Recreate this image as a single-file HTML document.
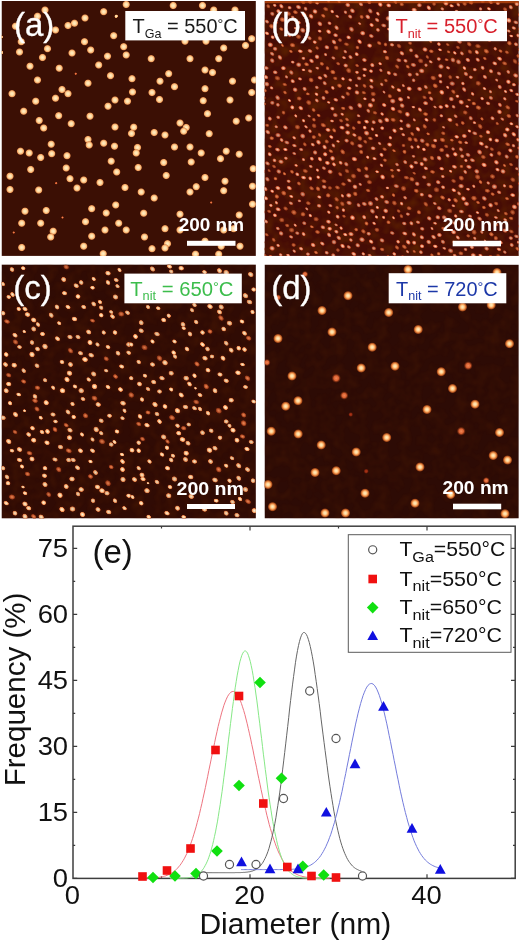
<!DOCTYPE html>
<html lang="en"><head><meta charset="utf-8"><title>AFM figure</title>
<style>
html,body{margin:0;padding:0;background:#fff;}
body{width:520px;height:940px;overflow:hidden;font-family:"Liberation Sans",Arial,sans-serif;}
svg{display:block;}
text{font-family:"Liberation Sans",Arial,sans-serif;}
</style></head><body>
<svg width="520" height="940" viewBox="0 0 520 940">
<defs>
<radialGradient id="ga"><stop offset="0" stop-color="#fff0c8"/><stop offset="0.45" stop-color="#ffd9a0"/><stop offset="0.75" stop-color="#f0a060"/><stop offset="1" stop-color="#a04818" stop-opacity="0"/></radialGradient>
<radialGradient id="gr"><stop offset="0" stop-color="#f08858"/><stop offset="0.5" stop-color="#d86030"/><stop offset="1" stop-color="#802808" stop-opacity="0"/></radialGradient>
<radialGradient id="grr"><stop offset="0" stop-color="#b03818"/><stop offset="0.5" stop-color="#902810"/><stop offset="1" stop-color="#601808" stop-opacity="0"/></radialGradient>
<radialGradient id="gb"><stop offset="0" stop-color="#ffdcc4"/><stop offset="0.4" stop-color="#f4a080"/><stop offset="0.68" stop-color="#d05c38"/><stop offset="0.86" stop-color="#a03418" stop-opacity="0.7"/><stop offset="1" stop-color="#701c08" stop-opacity="0"/></radialGradient>
<radialGradient id="gc"><stop offset="0" stop-color="#fff4d8"/><stop offset="0.45" stop-color="#ffcc98"/><stop offset="0.75" stop-color="#e88248"/><stop offset="1" stop-color="#702008" stop-opacity="0"/></radialGradient>
<radialGradient id="gd"><stop offset="0" stop-color="#fff0c4"/><stop offset="0.3" stop-color="#ffd498"/><stop offset="0.55" stop-color="#f49850"/><stop offset="0.78" stop-color="#c05a20" stop-opacity="0.85"/><stop offset="1" stop-color="#6a2008" stop-opacity="0"/></radialGradient>
<radialGradient id="gcd"><stop offset="0" stop-color="#e88a58"/><stop offset="0.45" stop-color="#cc6236"/><stop offset="0.8" stop-color="#a03c18" stop-opacity="0.8"/><stop offset="1" stop-color="#702008" stop-opacity="0"/></radialGradient>
<radialGradient id="hb"><stop offset="0" stop-color="#8a240e" stop-opacity="0.5"/><stop offset="0.55" stop-color="#701a0a" stop-opacity="0.2"/><stop offset="1" stop-color="#581406" stop-opacity="0"/></radialGradient>
<radialGradient id="hc"><stop offset="0" stop-color="#8a2a10" stop-opacity="0.6"/><stop offset="0.55" stop-color="#601c0a" stop-opacity="0.22"/><stop offset="1" stop-color="#481406" stop-opacity="0"/></radialGradient>
<filter id="nz" x="0" y="0" width="100%" height="100%"><feTurbulence type="fractalNoise" baseFrequency="0.09" numOctaves="2" seed="4" result="t"/><feColorMatrix in="t" type="matrix" values="0 0 0 0 0.12  0 0 0 0 0.02  0 0 0 0 0  1.6 0 0 0 -0.62"/></filter>
<clipPath id="ca"><rect x="1.5" y="1" width="254.4" height="254.9"/></clipPath>
<clipPath id="cb"><rect x="264.5" y="1" width="254.3" height="254.9"/></clipPath>
<clipPath id="cc"><rect x="1.5" y="264.4" width="254.4" height="254.1"/></clipPath>
<clipPath id="cd"><rect x="264.5" y="264.6" width="254.3" height="253.9"/></clipPath>
</defs>
<rect width="520" height="940" fill="#fff"/>

<g clip-path="url(#ca)"><rect x="1.5" y="1" width="254.4" height="254.9" fill="#3b0f04"/>
<circle cx="126.2" cy="4.5" r="4.15" fill="url(#ga)"/>
<circle cx="45.0" cy="10.0" r="4.15" fill="url(#ga)"/>
<circle cx="103.7" cy="11.7" r="4.15" fill="url(#ga)"/>
<circle cx="37.5" cy="16.2" r="4.15" fill="url(#ga)"/>
<circle cx="85.0" cy="18.0" r="4.15" fill="url(#ga)"/>
<circle cx="116.2" cy="16.2" r="2" fill="url(#ga)"/>
<circle cx="68.0" cy="25.5" r="4.15" fill="url(#ga)"/>
<circle cx="74.5" cy="23.2" r="4.15" fill="url(#ga)"/>
<circle cx="15.5" cy="26.2" r="4.15" fill="url(#ga)"/>
<circle cx="55.5" cy="30.0" r="4.15" fill="url(#ga)"/>
<circle cx="113.7" cy="35.7" r="4.15" fill="url(#ga)"/>
<circle cx="1.2" cy="37.0" r="2" fill="url(#ga)"/>
<circle cx="21.2" cy="41.7" r="4.15" fill="url(#ga)"/>
<circle cx="84.5" cy="41.7" r="4.15" fill="url(#ga)"/>
<circle cx="47.5" cy="48.7" r="4.15" fill="url(#ga)"/>
<circle cx="123.7" cy="46.7" r="4.15" fill="url(#ga)"/>
<circle cx="19.5" cy="52.0" r="4.15" fill="url(#ga)"/>
<circle cx="90.7" cy="50.0" r="4.15" fill="url(#ga)"/>
<circle cx="72.0" cy="53.0" r="4.15" fill="url(#ga)"/>
<circle cx="1.5" cy="52.5" r="2" fill="url(#ga)"/>
<circle cx="42.5" cy="57.5" r="4.15" fill="url(#ga)"/>
<circle cx="107.5" cy="56.2" r="4.15" fill="url(#ga)"/>
<circle cx="126.2" cy="55.0" r="4.15" fill="url(#ga)"/>
<circle cx="30.0" cy="66.2" r="4.15" fill="url(#ga)"/>
<circle cx="98.7" cy="65.0" r="4.15" fill="url(#ga)"/>
<circle cx="59.2" cy="68.2" r="4.15" fill="url(#ga)"/>
<circle cx="75.7" cy="73.7" r="1.6" fill="url(#gr)"/>
<circle cx="110.5" cy="75.7" r="4.15" fill="url(#ga)"/>
<circle cx="37.5" cy="80.0" r="4.15" fill="url(#ga)"/>
<circle cx="88.0" cy="83.2" r="4.15" fill="url(#ga)"/>
<circle cx="62.0" cy="89.5" r="4.15" fill="url(#ga)"/>
<circle cx="12.0" cy="93.7" r="4.15" fill="url(#ga)"/>
<circle cx="68.0" cy="93.7" r="4.15" fill="url(#ga)"/>
<circle cx="55.5" cy="98.2" r="4.15" fill="url(#ga)"/>
<circle cx="35.7" cy="101.2" r="4.15" fill="url(#ga)"/>
<circle cx="115.0" cy="100.0" r="4.15" fill="url(#ga)"/>
<circle cx="127.5" cy="101.2" r="4.15" fill="url(#ga)"/>
<circle cx="108.0" cy="106.2" r="4.15" fill="url(#ga)"/>
<circle cx="23.7" cy="111.2" r="4.15" fill="url(#ga)"/>
<circle cx="58.7" cy="115.7" r="4.15" fill="url(#ga)"/>
<circle cx="90.0" cy="116.2" r="4.15" fill="url(#ga)"/>
<circle cx="39.2" cy="120.5" r="4.15" fill="url(#ga)"/>
<circle cx="71.2" cy="123.7" r="4.15" fill="url(#ga)"/>
<circle cx="43.7" cy="128.0" r="4.15" fill="url(#ga)"/>
<circle cx="115.0" cy="127.0" r="4.15" fill="url(#ga)"/>
<circle cx="173.2" cy="5.5" r="4.15" fill="url(#ga)"/>
<circle cx="202.5" cy="5.5" r="4.15" fill="url(#ga)"/>
<circle cx="213.7" cy="10.0" r="4.15" fill="url(#ga)"/>
<circle cx="235.0" cy="10.0" r="4.15" fill="url(#ga)"/>
<circle cx="251.7" cy="38.7" r="4.15" fill="url(#ga)"/>
<circle cx="245.5" cy="45.5" r="4.15" fill="url(#ga)"/>
<circle cx="185.0" cy="41.2" r="4.15" fill="url(#ga)"/>
<circle cx="206.0" cy="41.2" r="4.15" fill="url(#ga)"/>
<circle cx="223.7" cy="48.0" r="4.15" fill="url(#ga)"/>
<circle cx="151.2" cy="58.7" r="4.15" fill="url(#ga)"/>
<circle cx="190.0" cy="58.7" r="4.15" fill="url(#ga)"/>
<circle cx="218.7" cy="58.7" r="4.15" fill="url(#ga)"/>
<circle cx="205.0" cy="70.0" r="4.15" fill="url(#ga)"/>
<circle cx="212.5" cy="72.5" r="4.15" fill="url(#ga)"/>
<circle cx="168.7" cy="73.7" r="4.15" fill="url(#ga)"/>
<circle cx="132.0" cy="78.7" r="4.15" fill="url(#ga)"/>
<circle cx="160.0" cy="81.2" r="4.15" fill="url(#ga)"/>
<circle cx="232.5" cy="81.2" r="4.15" fill="url(#ga)"/>
<circle cx="254.5" cy="80.0" r="4.15" fill="url(#ga)"/>
<circle cx="174.5" cy="86.7" r="4.15" fill="url(#ga)"/>
<circle cx="205.0" cy="88.7" r="4.15" fill="url(#ga)"/>
<circle cx="132.5" cy="92.0" r="4.15" fill="url(#ga)"/>
<circle cx="152.0" cy="92.5" r="4.15" fill="url(#ga)"/>
<circle cx="251.7" cy="92.5" r="4.15" fill="url(#ga)"/>
<circle cx="159.5" cy="99.5" r="4.15" fill="url(#ga)"/>
<circle cx="203.2" cy="100.7" r="4.15" fill="url(#ga)"/>
<circle cx="230.0" cy="100.0" r="4.15" fill="url(#ga)"/>
<circle cx="207.5" cy="113.7" r="4.15" fill="url(#ga)"/>
<circle cx="248.7" cy="118.0" r="4.15" fill="url(#ga)"/>
<circle cx="236.2" cy="121.2" r="4.15" fill="url(#ga)"/>
<circle cx="180.0" cy="123.0" r="4.15" fill="url(#ga)"/>
<circle cx="186.2" cy="127.5" r="4.15" fill="url(#ga)"/>
<circle cx="133.7" cy="127.2" r="4.15" fill="url(#ga)"/>
<circle cx="131.5" cy="133.5" r="4.15" fill="url(#ga)"/>
<circle cx="88.0" cy="139.5" r="4.15" fill="url(#ga)"/>
<circle cx="89.2" cy="145.0" r="4.15" fill="url(#ga)"/>
<circle cx="51.2" cy="144.2" r="4.15" fill="url(#ga)"/>
<circle cx="103.7" cy="143.2" r="4.15" fill="url(#ga)"/>
<circle cx="114.5" cy="146.2" r="4.15" fill="url(#ga)"/>
<circle cx="20.5" cy="151.2" r="4.15" fill="url(#ga)"/>
<circle cx="29.2" cy="153.0" r="4.15" fill="url(#ga)"/>
<circle cx="51.7" cy="153.7" r="4.15" fill="url(#ga)"/>
<circle cx="40.7" cy="157.5" r="4.15" fill="url(#ga)"/>
<circle cx="67.0" cy="155.7" r="4.15" fill="url(#ga)"/>
<circle cx="111.2" cy="161.2" r="4.15" fill="url(#ga)"/>
<circle cx="30.7" cy="169.5" r="4.15" fill="url(#ga)"/>
<circle cx="66.2" cy="168.0" r="4.15" fill="url(#ga)"/>
<circle cx="116.7" cy="172.0" r="4.15" fill="url(#ga)"/>
<circle cx="10.0" cy="176.2" r="4.15" fill="url(#ga)"/>
<circle cx="70.0" cy="178.7" r="4.15" fill="url(#ga)"/>
<circle cx="83.7" cy="180.0" r="4.15" fill="url(#ga)"/>
<circle cx="100.0" cy="182.5" r="4.15" fill="url(#ga)"/>
<circle cx="56.2" cy="183.2" r="1.6" fill="url(#gr)"/>
<circle cx="10.0" cy="189.5" r="4.15" fill="url(#ga)"/>
<circle cx="38.7" cy="190.0" r="4.15" fill="url(#ga)"/>
<circle cx="77.0" cy="188.0" r="4.15" fill="url(#ga)"/>
<circle cx="125.0" cy="187.5" r="4.15" fill="url(#ga)"/>
<circle cx="115.7" cy="205.0" r="4.15" fill="url(#ga)"/>
<circle cx="91.7" cy="208.7" r="4.15" fill="url(#ga)"/>
<circle cx="25.0" cy="211.2" r="4.15" fill="url(#ga)"/>
<circle cx="46.2" cy="210.5" r="4.15" fill="url(#ga)"/>
<circle cx="106.2" cy="213.0" r="4.15" fill="url(#ga)"/>
<circle cx="62.5" cy="217.5" r="1.6" fill="url(#gr)"/>
<circle cx="85.5" cy="221.7" r="4.15" fill="url(#ga)"/>
<circle cx="21.7" cy="223.2" r="4.15" fill="url(#ga)"/>
<circle cx="40.7" cy="223.2" r="4.15" fill="url(#ga)"/>
<circle cx="118.7" cy="223.2" r="4.15" fill="url(#ga)"/>
<circle cx="105.0" cy="230.0" r="4.15" fill="url(#ga)"/>
<circle cx="126.2" cy="230.0" r="4.15" fill="url(#ga)"/>
<circle cx="53.2" cy="231.2" r="4.15" fill="url(#ga)"/>
<circle cx="13.7" cy="232.5" r="1.6" fill="url(#gr)"/>
<circle cx="50.7" cy="237.0" r="4.15" fill="url(#ga)"/>
<circle cx="91.7" cy="236.2" r="4.15" fill="url(#ga)"/>
<circle cx="21.7" cy="247.5" r="4.15" fill="url(#ga)"/>
<circle cx="83.7" cy="246.2" r="4.15" fill="url(#ga)"/>
<circle cx="103.2" cy="253.7" r="4.15" fill="url(#ga)"/>
<circle cx="154.2" cy="132.5" r="4.15" fill="url(#ga)"/>
<circle cx="165.0" cy="135.0" r="4.15" fill="url(#ga)"/>
<circle cx="183.7" cy="131.2" r="4.15" fill="url(#ga)"/>
<circle cx="209.2" cy="133.7" r="4.15" fill="url(#ga)"/>
<circle cx="137.5" cy="147.5" r="4.15" fill="url(#ga)"/>
<circle cx="136.2" cy="153.0" r="4.15" fill="url(#ga)"/>
<circle cx="174.5" cy="147.0" r="4.15" fill="url(#ga)"/>
<circle cx="190.0" cy="147.0" r="4.15" fill="url(#ga)"/>
<circle cx="201.2" cy="153.0" r="4.15" fill="url(#ga)"/>
<circle cx="226.2" cy="151.2" r="4.15" fill="url(#ga)"/>
<circle cx="239.2" cy="154.2" r="4.15" fill="url(#ga)"/>
<circle cx="220.5" cy="158.7" r="4.15" fill="url(#ga)"/>
<circle cx="163.7" cy="162.5" r="4.15" fill="url(#ga)"/>
<circle cx="191.2" cy="162.0" r="4.15" fill="url(#ga)"/>
<circle cx="138.2" cy="167.5" r="4.15" fill="url(#ga)"/>
<circle cx="253.2" cy="168.7" r="4.15" fill="url(#ga)"/>
<circle cx="166.2" cy="175.5" r="4.15" fill="url(#ga)"/>
<circle cx="205.0" cy="177.5" r="4.15" fill="url(#ga)"/>
<circle cx="225.0" cy="181.2" r="4.15" fill="url(#ga)"/>
<circle cx="196.2" cy="186.7" r="4.15" fill="url(#ga)"/>
<circle cx="252.5" cy="186.2" r="4.15" fill="url(#ga)"/>
<circle cx="141.2" cy="192.0" r="4.15" fill="url(#ga)"/>
<circle cx="190.0" cy="192.0" r="4.15" fill="url(#ga)"/>
<circle cx="223.7" cy="190.7" r="4.15" fill="url(#ga)"/>
<circle cx="154.2" cy="198.0" r="4.15" fill="url(#ga)"/>
<circle cx="211.2" cy="202.5" r="1.6" fill="url(#gr)"/>
<circle cx="252.5" cy="204.2" r="4.15" fill="url(#ga)"/>
<circle cx="143.7" cy="213.2" r="4.15" fill="url(#ga)"/>
<circle cx="180.0" cy="214.2" r="4.15" fill="url(#ga)"/>
<circle cx="239.2" cy="215.0" r="4.15" fill="url(#ga)"/>
<circle cx="165.0" cy="228.7" r="4.15" fill="url(#ga)"/>
<circle cx="180.0" cy="230.0" r="4.15" fill="url(#ga)"/>
<circle cx="223.7" cy="230.0" r="4.15" fill="url(#ga)"/>
<circle cx="233.7" cy="228.7" r="4.15" fill="url(#ga)"/>
<circle cx="144.5" cy="237.0" r="4.15" fill="url(#ga)"/>
<circle cx="167.5" cy="243.7" r="4.15" fill="url(#ga)"/>
<circle cx="152.0" cy="248.7" r="4.15" fill="url(#ga)"/>
<circle cx="165.0" cy="248.0" r="4.15" fill="url(#ga)"/>
<circle cx="240.0" cy="246.2" r="4.15" fill="url(#ga)"/>
<circle cx="205.0" cy="241.2" r="4.15" fill="url(#ga)"/>
<circle cx="221.2" cy="246.2" r="4.15" fill="url(#ga)"/>
<circle cx="195.5" cy="254.2" r="4.15" fill="url(#ga)"/>
<circle cx="218.7" cy="254.2" r="4.15" fill="url(#ga)"/>
</g>
<g clip-path="url(#cb)"><rect x="264.5" y="1" width="254.3" height="254.9" fill="#460c05"/>
<rect x="264.5" y="1" width="254.3" height="254.9" filter="url(#nz)" opacity="0.9"/>
<ellipse cx="379.6" cy="143.5" rx="3.7" ry="2.5" transform="rotate(41 379.6 143.5)" fill="url(#hb)"/>
<ellipse cx="502.3" cy="119.1" rx="3.7" ry="2.5" transform="rotate(35 502.3 119.1)" fill="url(#hb)"/>
<ellipse cx="394.0" cy="150.7" rx="3.3" ry="2.2" transform="rotate(32 394.0 150.7)" fill="url(#hb)"/>
<ellipse cx="310.0" cy="131.1" rx="3.5" ry="2.8" transform="rotate(53 310.0 131.1)" fill="url(#hb)"/>
<ellipse cx="425.8" cy="204.2" rx="4.6" ry="3.1" transform="rotate(49 425.8 204.2)" fill="url(#hb)"/>
<ellipse cx="286.5" cy="76.9" rx="3.4" ry="2.4" transform="rotate(48 286.5 76.9)" fill="url(#hb)"/>
<ellipse cx="285.6" cy="208.5" rx="4.1" ry="3.1" transform="rotate(37 285.6 208.5)" fill="url(#hb)"/>
<ellipse cx="442.3" cy="8.9" rx="3.5" ry="2.8" transform="rotate(32 442.3 8.9)" fill="url(#hb)"/>
<ellipse cx="517.4" cy="248.8" rx="3.8" ry="2.8" transform="rotate(47 517.4 248.8)" fill="url(#hb)"/>
<ellipse cx="432.0" cy="158.0" rx="4.0" ry="3.1" transform="rotate(50 432.0 158.0)" fill="url(#hb)"/>
<ellipse cx="302.9" cy="1.9" rx="4.6" ry="3.2" transform="rotate(32 302.9 1.9)" fill="url(#hb)"/>
<ellipse cx="399.4" cy="13.5" rx="3.9" ry="2.6" transform="rotate(42 399.4 13.5)" fill="url(#hb)"/>
<ellipse cx="311.5" cy="60.9" rx="4.5" ry="3.3" transform="rotate(43 311.5 60.9)" fill="url(#hb)"/>
<ellipse cx="269.8" cy="118.6" rx="3.9" ry="3.3" transform="rotate(53 269.8 118.6)" fill="url(#hb)"/>
<ellipse cx="376.5" cy="217.0" rx="3.3" ry="2.7" transform="rotate(41 376.5 217.0)" fill="url(#hb)"/>
<ellipse cx="397.0" cy="164.5" rx="3.6" ry="2.7" transform="rotate(42 397.0 164.5)" fill="url(#hb)"/>
<ellipse cx="391.9" cy="170.2" rx="3.4" ry="2.4" transform="rotate(17 391.9 170.2)" fill="url(#hb)"/>
<ellipse cx="380.9" cy="70.3" rx="3.5" ry="2.6" transform="rotate(50 380.9 70.3)" fill="url(#hb)"/>
<ellipse cx="521.4" cy="256.9" rx="4.0" ry="3.4" transform="rotate(48 521.4 256.9)" fill="url(#hb)"/>
<ellipse cx="480.5" cy="182.0" rx="3.8" ry="2.8" transform="rotate(50 480.5 182.0)" fill="url(#hb)"/>
<ellipse cx="344.0" cy="57.7" rx="3.4" ry="2.4" transform="rotate(24 344.0 57.7)" fill="url(#hb)"/>
<ellipse cx="337.2" cy="16.3" rx="3.6" ry="2.4" transform="rotate(32 337.2 16.3)" fill="url(#hb)"/>
<ellipse cx="461.2" cy="102.1" rx="4.6" ry="3.7" transform="rotate(36 461.2 102.1)" fill="url(#hb)"/>
<ellipse cx="482.1" cy="98.5" rx="3.3" ry="2.8" transform="rotate(46 482.1 98.5)" fill="url(#hb)"/>
<ellipse cx="511.1" cy="218.3" rx="3.8" ry="2.8" transform="rotate(19 511.1 218.3)" fill="url(#hb)"/>
<ellipse cx="262.1" cy="52.5" rx="3.3" ry="2.3" transform="rotate(21 262.1 52.5)" fill="url(#hb)"/>
<ellipse cx="516.9" cy="101.3" rx="3.2" ry="2.2" transform="rotate(19 516.9 101.3)" fill="url(#hb)"/>
<ellipse cx="281.0" cy="161.7" rx="4.5" ry="3.5" transform="rotate(21 281.0 161.7)" fill="url(#hb)"/>
<ellipse cx="464.4" cy="68.1" rx="3.7" ry="2.6" transform="rotate(49 464.4 68.1)" fill="url(#hb)"/>
<ellipse cx="284.7" cy="84.5" rx="3.9" ry="2.6" transform="rotate(19 284.7 84.5)" fill="url(#hb)"/>
<ellipse cx="512.7" cy="195.1" rx="4.4" ry="3.1" transform="rotate(16 512.7 195.1)" fill="url(#hb)"/>
<ellipse cx="292.7" cy="62.1" rx="3.4" ry="2.7" transform="rotate(16 292.7 62.1)" fill="url(#hb)"/>
<ellipse cx="288.3" cy="13.6" rx="4.4" ry="3.6" transform="rotate(25 288.3 13.6)" fill="url(#hb)"/>
<ellipse cx="469.2" cy="44.2" rx="4.3" ry="3.3" transform="rotate(46 469.2 44.2)" fill="url(#hb)"/>
<ellipse cx="407.4" cy="114.3" rx="4.4" ry="3.8" transform="rotate(49 407.4 114.3)" fill="url(#hb)"/>
<ellipse cx="311.6" cy="188.3" rx="4.3" ry="3.0" transform="rotate(36 311.6 188.3)" fill="url(#hb)"/>
<ellipse cx="296.1" cy="165.4" rx="3.2" ry="2.3" transform="rotate(25 296.1 165.4)" fill="url(#hb)"/>
<ellipse cx="292.3" cy="107.4" rx="3.8" ry="3.3" transform="rotate(55 292.3 107.4)" fill="url(#hb)"/>
<ellipse cx="317.3" cy="68.1" rx="3.5" ry="2.5" transform="rotate(23 317.3 68.1)" fill="url(#hb)"/>
<ellipse cx="514.4" cy="206.9" rx="4.5" ry="3.8" transform="rotate(34 514.4 206.9)" fill="url(#hb)"/>
<ellipse cx="341.1" cy="228.1" rx="3.3" ry="2.7" transform="rotate(51 341.1 228.1)" fill="url(#hb)"/>
<ellipse cx="316.8" cy="100.5" rx="3.9" ry="2.7" transform="rotate(47 316.8 100.5)" fill="url(#hb)"/>
<ellipse cx="484.1" cy="164.9" rx="4.6" ry="3.4" transform="rotate(31 484.1 164.9)" fill="url(#hb)"/>
<ellipse cx="288.1" cy="255.2" rx="3.4" ry="2.4" transform="rotate(21 288.1 255.2)" fill="url(#hb)"/>
<ellipse cx="462.9" cy="83.5" rx="3.4" ry="2.9" transform="rotate(54 462.9 83.5)" fill="url(#hb)"/>
<ellipse cx="285.4" cy="149.5" rx="4.0" ry="2.7" transform="rotate(16 285.4 149.5)" fill="url(#hb)"/>
<ellipse cx="325.2" cy="154.3" rx="4.0" ry="3.4" transform="rotate(32 325.2 154.3)" fill="url(#hb)"/>
<ellipse cx="358.6" cy="115.8" rx="3.5" ry="2.5" transform="rotate(27 358.6 115.8)" fill="url(#hb)"/>
<ellipse cx="511.4" cy="123.8" rx="3.6" ry="2.7" transform="rotate(20 511.4 123.8)" fill="url(#hb)"/>
<ellipse cx="411.4" cy="223.3" rx="3.9" ry="3.0" transform="rotate(51 411.4 223.3)" fill="url(#hb)"/>
<ellipse cx="309.5" cy="38.1" rx="3.9" ry="3.0" transform="rotate(36 309.5 38.1)" fill="url(#hb)"/>
<ellipse cx="498.2" cy="210.6" rx="3.5" ry="2.3" transform="rotate(47 498.2 210.6)" fill="url(#hb)"/>
<ellipse cx="326.9" cy="47.3" rx="4.2" ry="3.3" transform="rotate(28 326.9 47.3)" fill="url(#hb)"/>
<ellipse cx="454.3" cy="242.5" rx="4.3" ry="3.0" transform="rotate(37 454.3 242.5)" fill="url(#hb)"/>
<ellipse cx="313.1" cy="245.0" rx="4.3" ry="3.3" transform="rotate(37 313.1 245.0)" fill="url(#hb)"/>
<ellipse cx="491.4" cy="154.9" rx="3.8" ry="3.0" transform="rotate(35 491.4 154.9)" fill="url(#hb)"/>
<ellipse cx="371.6" cy="25.0" rx="3.8" ry="3.0" transform="rotate(34 371.6 25.0)" fill="url(#hb)"/>
<ellipse cx="272.1" cy="248.3" rx="4.5" ry="3.9" transform="rotate(25 272.1 248.3)" fill="url(#hb)"/>
<ellipse cx="324.0" cy="181.2" rx="4.4" ry="3.0" transform="rotate(20 324.0 181.2)" fill="url(#hb)"/>
<ellipse cx="328.8" cy="212.2" rx="3.5" ry="2.4" transform="rotate(42 328.8 212.2)" fill="url(#hb)"/>
<ellipse cx="417.1" cy="74.3" rx="3.4" ry="2.8" transform="rotate(41 417.1 74.3)" fill="url(#hb)"/>
<ellipse cx="279.9" cy="57.4" rx="4.6" ry="3.3" transform="rotate(53 279.9 57.4)" fill="url(#hb)"/>
<ellipse cx="421.7" cy="70.9" rx="4.6" ry="3.9" transform="rotate(21 421.7 70.9)" fill="url(#hb)"/>
<ellipse cx="500.5" cy="51.0" rx="3.7" ry="2.6" transform="rotate(28 500.5 51.0)" fill="url(#hb)"/>
<ellipse cx="266.3" cy="68.0" rx="4.0" ry="3.0" transform="rotate(16 266.3 68.0)" fill="url(#hb)"/>
<ellipse cx="377.9" cy="13.7" rx="3.9" ry="2.7" transform="rotate(54 377.9 13.7)" fill="url(#hb)"/>
<ellipse cx="307.8" cy="93.9" rx="3.3" ry="2.4" transform="rotate(17 307.8 93.9)" fill="url(#hb)"/>
<ellipse cx="410.8" cy="32.2" rx="3.4" ry="2.5" transform="rotate(51 410.8 32.2)" fill="url(#hb)"/>
<ellipse cx="356.2" cy="229.6" rx="3.4" ry="2.9" transform="rotate(38 356.2 229.6)" fill="url(#hb)"/>
<ellipse cx="516.9" cy="168.8" rx="3.3" ry="2.7" transform="rotate(32 516.9 168.8)" fill="url(#hb)"/>
<ellipse cx="441.7" cy="150.0" rx="4.1" ry="3.4" transform="rotate(18 441.7 150.0)" fill="url(#hb)"/>
<ellipse cx="298.5" cy="7.1" rx="4.4" ry="3.4" transform="rotate(29 298.5 7.1)" fill="url(#hb)"/>
<ellipse cx="266.7" cy="234.7" rx="3.6" ry="2.5" transform="rotate(36 266.7 234.7)" fill="url(#hb)"/>
<ellipse cx="444.3" cy="248.3" rx="3.4" ry="2.3" transform="rotate(23 444.3 248.3)" fill="url(#hb)"/>
<ellipse cx="267.5" cy="163.4" rx="4.3" ry="3.1" transform="rotate(35 267.5 163.4)" fill="url(#hb)"/>
<ellipse cx="387.4" cy="187.9" rx="3.2" ry="2.3" transform="rotate(16 387.4 187.9)" fill="url(#hb)"/>
<ellipse cx="344.9" cy="257.8" rx="3.5" ry="2.6" transform="rotate(52 344.9 257.8)" fill="url(#hb)"/>
<ellipse cx="281.6" cy="140.0" rx="3.8" ry="2.9" transform="rotate(48 281.6 140.0)" fill="url(#hb)"/>
<ellipse cx="453.6" cy="232.1" rx="4.2" ry="3.7" transform="rotate(29 453.6 232.1)" fill="url(#hb)"/>
<ellipse cx="453.6" cy="181.0" rx="4.1" ry="3.1" transform="rotate(29 453.6 181.0)" fill="url(#hb)"/>
<ellipse cx="468.2" cy="235.9" rx="3.3" ry="2.7" transform="rotate(25 468.2 235.9)" fill="url(#hb)"/>
<ellipse cx="353.5" cy="176.1" rx="4.4" ry="3.8" transform="rotate(42 353.5 176.1)" fill="url(#hb)"/>
<ellipse cx="496.2" cy="224.5" rx="3.6" ry="2.8" transform="rotate(21 496.2 224.5)" fill="url(#hb)"/>
<ellipse cx="370.5" cy="203.5" rx="4.6" ry="4.0" transform="rotate(37 370.5 203.5)" fill="url(#hb)"/>
<ellipse cx="486.5" cy="146.9" rx="3.6" ry="2.7" transform="rotate(15 486.5 146.9)" fill="url(#hb)"/>
<ellipse cx="424.5" cy="97.4" rx="3.9" ry="2.8" transform="rotate(35 424.5 97.4)" fill="url(#hb)"/>
<ellipse cx="413.5" cy="156.3" rx="3.3" ry="2.5" transform="rotate(17 413.5 156.3)" fill="url(#hb)"/>
<ellipse cx="520.3" cy="226.7" rx="3.5" ry="2.8" transform="rotate(36 520.3 226.7)" fill="url(#hb)"/>
<ellipse cx="451.3" cy="99.0" rx="4.2" ry="3.6" transform="rotate(31 451.3 99.0)" fill="url(#hb)"/>
<ellipse cx="453.1" cy="149.0" rx="3.4" ry="2.8" transform="rotate(41 453.1 149.0)" fill="url(#hb)"/>
<ellipse cx="283.8" cy="193.1" rx="4.5" ry="3.6" transform="rotate(44 283.8 193.1)" fill="url(#hb)"/>
<ellipse cx="269.7" cy="154.3" rx="3.9" ry="3.0" transform="rotate(48 269.7 154.3)" fill="url(#hb)"/>
<ellipse cx="387.0" cy="57.9" rx="4.0" ry="3.5" transform="rotate(42 387.0 57.9)" fill="url(#hb)"/>
<ellipse cx="443.6" cy="127.3" rx="3.2" ry="2.2" transform="rotate(29 443.6 127.3)" fill="url(#hb)"/>
<ellipse cx="421.8" cy="237.3" rx="4.0" ry="3.2" transform="rotate(40 421.8 237.3)" fill="url(#hb)"/>
<ellipse cx="328.5" cy="0.9" rx="3.2" ry="2.7" transform="rotate(45 328.5 0.9)" fill="url(#hb)"/>
<ellipse cx="340.3" cy="174.3" rx="4.1" ry="2.8" transform="rotate(44 340.3 174.3)" fill="url(#hb)"/>
<ellipse cx="314.7" cy="42.1" rx="3.6" ry="2.9" transform="rotate(23 314.7 42.1)" fill="url(#hb)"/>
<ellipse cx="497.5" cy="169.6" rx="3.9" ry="2.9" transform="rotate(34 497.5 169.6)" fill="url(#hb)"/>
<ellipse cx="376.9" cy="229.8" rx="4.1" ry="3.3" transform="rotate(18 376.9 229.8)" fill="url(#hb)"/>
<ellipse cx="347.0" cy="171.1" rx="4.3" ry="3.1" transform="rotate(38 347.0 171.1)" fill="url(#hb)"/>
<ellipse cx="313.6" cy="110.0" rx="3.6" ry="2.9" transform="rotate(43 313.6 110.0)" fill="url(#hb)"/>
<ellipse cx="490.9" cy="97.9" rx="3.9" ry="3.0" transform="rotate(34 490.9 97.9)" fill="url(#hb)"/>
<ellipse cx="413.6" cy="80.3" rx="3.5" ry="3.0" transform="rotate(52 413.6 80.3)" fill="url(#hb)"/>
<ellipse cx="297.4" cy="127.1" rx="4.4" ry="3.8" transform="rotate(33 297.4 127.1)" fill="url(#hb)"/>
<ellipse cx="479.6" cy="218.7" rx="4.6" ry="3.2" transform="rotate(38 479.6 218.7)" fill="url(#hb)"/>
<ellipse cx="334.0" cy="42.0" rx="4.6" ry="3.2" transform="rotate(48 334.0 42.0)" fill="url(#hb)"/>
<ellipse cx="424.7" cy="126.4" rx="4.2" ry="3.0" transform="rotate(51 424.7 126.4)" fill="url(#hb)"/>
<ellipse cx="344.0" cy="216.2" rx="3.2" ry="2.5" transform="rotate(33 344.0 216.2)" fill="url(#hb)"/>
<ellipse cx="517.3" cy="115.6" rx="3.7" ry="2.7" transform="rotate(49 517.3 115.6)" fill="url(#hb)"/>
<ellipse cx="281.4" cy="6.2" rx="4.4" ry="3.0" transform="rotate(52 281.4 6.2)" fill="url(#hb)"/>
<ellipse cx="488.9" cy="8.8" rx="3.6" ry="2.7" transform="rotate(31 488.9 8.8)" fill="url(#hb)"/>
<ellipse cx="446.2" cy="146.4" rx="3.7" ry="2.8" transform="rotate(26 446.2 146.4)" fill="url(#hb)"/>
<ellipse cx="342.3" cy="203.8" rx="4.4" ry="3.2" transform="rotate(52 342.3 203.8)" fill="url(#hb)"/>
<ellipse cx="267.0" cy="33.3" rx="3.9" ry="2.8" transform="rotate(30 267.0 33.3)" fill="url(#hb)"/>
<ellipse cx="380.3" cy="4.4" rx="4.4" ry="3.5" transform="rotate(52 380.3 4.4)" fill="url(#hb)"/>
<ellipse cx="477.7" cy="59.7" rx="4.2" ry="2.8" transform="rotate(44 477.7 59.7)" fill="url(#hb)"/>
<ellipse cx="425.6" cy="114.1" rx="4.1" ry="3.0" transform="rotate(17 425.6 114.1)" fill="url(#hb)"/>
<ellipse cx="425.8" cy="168.3" rx="3.9" ry="2.9" transform="rotate(27 425.8 168.3)" fill="url(#hb)"/>
<ellipse cx="471.9" cy="247.2" rx="3.6" ry="2.9" transform="rotate(27 471.9 247.2)" fill="url(#hb)"/>
<ellipse cx="440.0" cy="49.8" rx="3.4" ry="2.4" transform="rotate(23 440.0 49.8)" fill="url(#hb)"/>
<ellipse cx="385.5" cy="44.5" rx="3.5" ry="3.0" transform="rotate(55 385.5 44.5)" fill="url(#hb)"/>
<ellipse cx="447.7" cy="44.6" rx="3.5" ry="2.4" transform="rotate(29 447.7 44.6)" fill="url(#hb)"/>
<ellipse cx="332.8" cy="87.9" rx="3.6" ry="2.8" transform="rotate(50 332.8 87.9)" fill="url(#hb)"/>
<ellipse cx="443.3" cy="133.3" rx="3.8" ry="2.9" transform="rotate(30 443.3 133.3)" fill="url(#hb)"/>
<ellipse cx="421.8" cy="194.6" rx="3.6" ry="3.1" transform="rotate(20 421.8 194.6)" fill="url(#hb)"/>
<ellipse cx="364.3" cy="203.9" rx="4.4" ry="3.1" transform="rotate(26 364.3 203.9)" fill="url(#hb)"/>
<ellipse cx="497.6" cy="20.7" rx="3.8" ry="3.3" transform="rotate(49 497.6 20.7)" fill="url(#hb)"/>
<ellipse cx="504.5" cy="185.8" rx="3.2" ry="2.6" transform="rotate(51 504.5 185.8)" fill="url(#hb)"/>
<ellipse cx="295.8" cy="115.9" rx="3.2" ry="2.4" transform="rotate(52 295.8 115.9)" fill="url(#hb)"/>
<ellipse cx="360.0" cy="145.9" rx="4.6" ry="3.3" transform="rotate(19 360.0 145.9)" fill="url(#hb)"/>
<ellipse cx="490.6" cy="205.2" rx="4.2" ry="3.6" transform="rotate(44 490.6 205.2)" fill="url(#hb)"/>
<ellipse cx="431.3" cy="51.3" rx="3.9" ry="3.0" transform="rotate(17 431.3 51.3)" fill="url(#hb)"/>
<ellipse cx="449.7" cy="210.8" rx="4.5" ry="3.6" transform="rotate(27 449.7 210.8)" fill="url(#hb)"/>
<ellipse cx="428.8" cy="184.6" rx="4.1" ry="3.3" transform="rotate(19 428.8 184.6)" fill="url(#hb)"/>
<ellipse cx="317.5" cy="232.0" rx="4.0" ry="3.0" transform="rotate(24 317.5 232.0)" fill="url(#hb)"/>
<ellipse cx="401.6" cy="203.6" rx="3.6" ry="2.8" transform="rotate(53 401.6 203.6)" fill="url(#hb)"/>
<ellipse cx="345.3" cy="234.6" rx="3.9" ry="2.8" transform="rotate(25 345.3 234.6)" fill="url(#hb)"/>
<ellipse cx="484.5" cy="88.6" rx="3.6" ry="2.4" transform="rotate(35 484.5 88.6)" fill="url(#hb)"/>
<ellipse cx="283.5" cy="112.6" rx="3.6" ry="2.9" transform="rotate(52 283.5 112.6)" fill="url(#hb)"/>
<ellipse cx="405.1" cy="197.7" rx="3.7" ry="2.8" transform="rotate(42 405.1 197.7)" fill="url(#hb)"/>
<ellipse cx="388.7" cy="5.4" rx="4.3" ry="3.3" transform="rotate(23 388.7 5.4)" fill="url(#hb)"/>
<ellipse cx="472.4" cy="14.7" rx="4.4" ry="3.1" transform="rotate(24 472.4 14.7)" fill="url(#hb)"/>
<ellipse cx="349.1" cy="202.9" rx="4.6" ry="3.5" transform="rotate(22 349.1 202.9)" fill="url(#hb)"/>
<ellipse cx="298.5" cy="36.7" rx="4.2" ry="3.6" transform="rotate(21 298.5 36.7)" fill="url(#hb)"/>
<ellipse cx="396.3" cy="186.1" rx="4.6" ry="3.2" transform="rotate(17 396.3 186.1)" fill="url(#hb)"/>
<ellipse cx="508.8" cy="20.4" rx="4.5" ry="3.8" transform="rotate(44 508.8 20.4)" fill="url(#hb)"/>
<ellipse cx="319.6" cy="134.9" rx="3.7" ry="2.6" transform="rotate(52 319.6 134.9)" fill="url(#hb)"/>
<ellipse cx="337.4" cy="187.5" rx="4.2" ry="3.1" transform="rotate(30 337.4 187.5)" fill="url(#hb)"/>
<ellipse cx="428.1" cy="133.9" rx="3.2" ry="2.3" transform="rotate(29 428.1 133.9)" fill="url(#hb)"/>
<ellipse cx="481.3" cy="143.6" rx="4.6" ry="3.2" transform="rotate(29 481.3 143.6)" fill="url(#hb)"/>
<ellipse cx="343.0" cy="97.1" rx="3.8" ry="2.6" transform="rotate(34 343.0 97.1)" fill="url(#hb)"/>
<ellipse cx="481.8" cy="232.1" rx="3.5" ry="2.6" transform="rotate(51 481.8 232.1)" fill="url(#hb)"/>
<ellipse cx="316.1" cy="219.2" rx="4.4" ry="3.6" transform="rotate(17 316.1 219.2)" fill="url(#hb)"/>
<ellipse cx="513.8" cy="134.3" rx="4.5" ry="3.2" transform="rotate(45 513.8 134.3)" fill="url(#hb)"/>
<ellipse cx="411.0" cy="50.3" rx="3.6" ry="3.1" transform="rotate(40 411.0 50.3)" fill="url(#hb)"/>
<ellipse cx="401.3" cy="128.8" rx="3.6" ry="2.6" transform="rotate(15 401.3 128.8)" fill="url(#hb)"/>
<ellipse cx="419.4" cy="5.2" rx="4.1" ry="3.6" transform="rotate(16 419.4 5.2)" fill="url(#hb)"/>
<ellipse cx="408.3" cy="125.7" rx="4.6" ry="4.0" transform="rotate(30 408.3 125.7)" fill="url(#hb)"/>
<ellipse cx="441.7" cy="15.1" rx="3.9" ry="3.4" transform="rotate(22 441.7 15.1)" fill="url(#hb)"/>
<ellipse cx="402.1" cy="105.6" rx="4.4" ry="3.6" transform="rotate(39 402.1 105.6)" fill="url(#hb)"/>
<ellipse cx="510.8" cy="238.1" rx="3.7" ry="3.1" transform="rotate(18 510.8 238.1)" fill="url(#hb)"/>
<ellipse cx="332.0" cy="121.0" rx="3.5" ry="2.4" transform="rotate(16 332.0 121.0)" fill="url(#hb)"/>
<ellipse cx="474.1" cy="232.1" rx="4.6" ry="3.9" transform="rotate(55 474.1 232.1)" fill="url(#hb)"/>
<ellipse cx="385.9" cy="80.5" rx="3.3" ry="2.6" transform="rotate(43 385.9 80.5)" fill="url(#hb)"/>
<ellipse cx="311.8" cy="158.7" rx="3.8" ry="3.0" transform="rotate(42 311.8 158.7)" fill="url(#hb)"/>
<ellipse cx="502.6" cy="31.7" rx="4.2" ry="2.9" transform="rotate(49 502.6 31.7)" fill="url(#hb)"/>
<ellipse cx="464.6" cy="3.9" rx="3.7" ry="3.1" transform="rotate(23 464.6 3.9)" fill="url(#hb)"/>
<ellipse cx="440.6" cy="81.7" rx="3.4" ry="2.9" transform="rotate(38 440.6 81.7)" fill="url(#hb)"/>
<ellipse cx="354.4" cy="159.1" rx="4.6" ry="3.6" transform="rotate(24 354.4 159.1)" fill="url(#hb)"/>
<ellipse cx="289.3" cy="188.0" rx="4.6" ry="3.2" transform="rotate(34 289.3 188.0)" fill="url(#hb)"/>
<ellipse cx="399.9" cy="111.6" rx="4.5" ry="3.0" transform="rotate(27 399.9 111.6)" fill="url(#hb)"/>
<ellipse cx="359.7" cy="105.5" rx="4.6" ry="3.6" transform="rotate(52 359.7 105.5)" fill="url(#hb)"/>
<ellipse cx="399.6" cy="39.5" rx="3.8" ry="2.8" transform="rotate(46 399.6 39.5)" fill="url(#hb)"/>
<ellipse cx="483.3" cy="157.0" rx="4.1" ry="3.2" transform="rotate(24 483.3 157.0)" fill="url(#hb)"/>
<ellipse cx="484.8" cy="58.5" rx="3.5" ry="2.5" transform="rotate(39 484.8 58.5)" fill="url(#hb)"/>
<ellipse cx="496.7" cy="80.1" rx="3.2" ry="2.3" transform="rotate(42 496.7 80.1)" fill="url(#hb)"/>
<ellipse cx="318.7" cy="257.6" rx="3.5" ry="2.9" transform="rotate(37 318.7 257.6)" fill="url(#hb)"/>
<ellipse cx="492.8" cy="32.8" rx="3.8" ry="2.9" transform="rotate(41 492.8 32.8)" fill="url(#hb)"/>
<ellipse cx="324.2" cy="186.9" rx="4.2" ry="3.1" transform="rotate(26 324.2 186.9)" fill="url(#hb)"/>
<ellipse cx="329.5" cy="23.2" rx="3.6" ry="2.9" transform="rotate(29 329.5 23.2)" fill="url(#hb)"/>
<ellipse cx="478.4" cy="107.6" rx="4.6" ry="3.4" transform="rotate(23 478.4 107.6)" fill="url(#hb)"/>
<ellipse cx="467.4" cy="30.8" rx="3.2" ry="2.7" transform="rotate(32 467.4 30.8)" fill="url(#hb)"/>
<ellipse cx="366.7" cy="176.2" rx="4.5" ry="3.4" transform="rotate(22 366.7 176.2)" fill="url(#hb)"/>
<ellipse cx="439.4" cy="235.0" rx="4.1" ry="3.5" transform="rotate(19 439.4 235.0)" fill="url(#hb)"/>
<ellipse cx="513.8" cy="28.0" rx="3.9" ry="2.7" transform="rotate(26 513.8 28.0)" fill="url(#hb)"/>
<ellipse cx="393.5" cy="195.1" rx="3.3" ry="2.6" transform="rotate(47 393.5 195.1)" fill="url(#hb)"/>
<ellipse cx="392.7" cy="176.3" rx="3.4" ry="2.9" transform="rotate(54 392.7 176.3)" fill="url(#hb)"/>
<ellipse cx="311.1" cy="16.3" rx="4.5" ry="3.4" transform="rotate(51 311.1 16.3)" fill="url(#hb)"/>
<ellipse cx="289.6" cy="7.7" rx="3.4" ry="2.9" transform="rotate(24 289.6 7.7)" fill="url(#hb)"/>
<ellipse cx="310.0" cy="51.0" rx="4.4" ry="3.1" transform="rotate(24 310.0 51.0)" fill="url(#hb)"/>
<ellipse cx="480.5" cy="255.5" rx="3.7" ry="2.6" transform="rotate(25 480.5 255.5)" fill="url(#hb)"/>
<ellipse cx="503.0" cy="22.8" rx="3.2" ry="2.5" transform="rotate(45 503.0 22.8)" fill="url(#hb)"/>
<ellipse cx="278.1" cy="245.4" rx="3.4" ry="2.7" transform="rotate(37 278.1 245.4)" fill="url(#hb)"/>
<ellipse cx="382.1" cy="196.8" rx="3.8" ry="3.0" transform="rotate(32 382.1 196.8)" fill="url(#hb)"/>
<ellipse cx="347.0" cy="119.4" rx="3.8" ry="2.5" transform="rotate(40 347.0 119.4)" fill="url(#hb)"/>
<ellipse cx="444.3" cy="217.5" rx="4.3" ry="3.6" transform="rotate(33 444.3 217.5)" fill="url(#hb)"/>
<ellipse cx="309.1" cy="116.0" rx="3.3" ry="2.3" transform="rotate(32 309.1 116.0)" fill="url(#hb)"/>
<ellipse cx="395.3" cy="2.0" rx="3.9" ry="2.6" transform="rotate(40 395.3 2.0)" fill="url(#hb)"/>
<ellipse cx="425.6" cy="103.2" rx="4.3" ry="3.3" transform="rotate(17 425.6 103.2)" fill="url(#hb)"/>
<ellipse cx="417.9" cy="129.1" rx="4.6" ry="3.2" transform="rotate(49 417.9 129.1)" fill="url(#hb)"/>
<ellipse cx="329.1" cy="234.9" rx="4.4" ry="3.1" transform="rotate(54 329.1 234.9)" fill="url(#hb)"/>
<ellipse cx="455.6" cy="200.3" rx="4.5" ry="3.1" transform="rotate(47 455.6 200.3)" fill="url(#hb)"/>
<ellipse cx="473.8" cy="103.5" rx="3.7" ry="3.1" transform="rotate(21 473.8 103.5)" fill="url(#hb)"/>
<ellipse cx="442.6" cy="197.5" rx="4.4" ry="3.0" transform="rotate(35 442.6 197.5)" fill="url(#hb)"/>
<ellipse cx="449.9" cy="16.3" rx="3.6" ry="2.8" transform="rotate(28 449.9 16.3)" fill="url(#hb)"/>
<ellipse cx="264.8" cy="90.5" rx="3.4" ry="3.0" transform="rotate(42 264.8 90.5)" fill="url(#hb)"/>
<ellipse cx="322.3" cy="243.6" rx="4.3" ry="3.0" transform="rotate(36 322.3 243.6)" fill="url(#hb)"/>
<ellipse cx="435.2" cy="85.8" rx="4.5" ry="3.5" transform="rotate(38 435.2 85.8)" fill="url(#hb)"/>
<ellipse cx="433.5" cy="146.1" rx="4.6" ry="3.7" transform="rotate(31 433.5 146.1)" fill="url(#hb)"/>
<ellipse cx="400.6" cy="99.3" rx="4.6" ry="3.6" transform="rotate(29 400.6 99.3)" fill="url(#hb)"/>
<ellipse cx="522.0" cy="165.0" rx="3.4" ry="2.8" transform="rotate(17 522.0 165.0)" fill="url(#hb)"/>
<ellipse cx="516.8" cy="3.9" rx="4.1" ry="3.6" transform="rotate(38 516.8 3.9)" fill="url(#hb)"/>
<ellipse cx="328.7" cy="102.4" rx="3.2" ry="2.1" transform="rotate(21 328.7 102.4)" fill="url(#hb)"/>
<ellipse cx="275.1" cy="48.8" rx="3.9" ry="3.4" transform="rotate(20 275.1 48.8)" fill="url(#hb)"/>
<ellipse cx="359.7" cy="23.6" rx="3.2" ry="2.1" transform="rotate(29 359.7 23.6)" fill="url(#hb)"/>
<ellipse cx="513.5" cy="145.7" rx="3.5" ry="2.8" transform="rotate(39 513.5 145.7)" fill="url(#hb)"/>
<ellipse cx="273.7" cy="239.8" rx="3.9" ry="2.7" transform="rotate(52 273.7 239.8)" fill="url(#hb)"/>
<ellipse cx="303.6" cy="120.7" rx="3.3" ry="2.7" transform="rotate(50 303.6 120.7)" fill="url(#hb)"/>
<ellipse cx="306.0" cy="126.8" rx="3.6" ry="2.4" transform="rotate(41 306.0 126.8)" fill="url(#hb)"/>
<ellipse cx="420.9" cy="13.2" rx="4.1" ry="3.1" transform="rotate(52 420.9 13.2)" fill="url(#hb)"/>
<ellipse cx="507.8" cy="107.4" rx="4.5" ry="3.0" transform="rotate(36 507.8 107.4)" fill="url(#hb)"/>
<ellipse cx="357.0" cy="72.3" rx="3.3" ry="2.7" transform="rotate(15 357.0 72.3)" fill="url(#hb)"/>
<ellipse cx="339.0" cy="1.6" rx="3.4" ry="2.4" transform="rotate(39 339.0 1.6)" fill="url(#hb)"/>
<ellipse cx="325.7" cy="9.1" rx="4.4" ry="3.1" transform="rotate(27 325.7 9.1)" fill="url(#hb)"/>
<ellipse cx="302.7" cy="194.2" rx="4.5" ry="3.7" transform="rotate(44 302.7 194.2)" fill="url(#hb)"/>
<ellipse cx="363.4" cy="231.4" rx="4.3" ry="3.3" transform="rotate(45 363.4 231.4)" fill="url(#hb)"/>
<ellipse cx="456.6" cy="11.0" rx="3.3" ry="2.4" transform="rotate(17 456.6 11.0)" fill="url(#hb)"/>
<ellipse cx="281.1" cy="233.4" rx="4.2" ry="3.6" transform="rotate(43 281.1 233.4)" fill="url(#hb)"/>
<ellipse cx="373.7" cy="122.2" rx="3.8" ry="3.2" transform="rotate(36 373.7 122.2)" fill="url(#hb)"/>
<ellipse cx="515.0" cy="61.4" rx="4.6" ry="3.2" transform="rotate(50 515.0 61.4)" fill="url(#hb)"/>
<ellipse cx="398.1" cy="241.7" rx="3.5" ry="2.9" transform="rotate(53 398.1 241.7)" fill="url(#hb)"/>
<ellipse cx="449.9" cy="119.8" rx="4.5" ry="3.3" transform="rotate(25 449.9 119.8)" fill="url(#hb)"/>
<ellipse cx="418.9" cy="27.9" rx="4.2" ry="3.4" transform="rotate(54 418.9 27.9)" fill="url(#hb)"/>
<ellipse cx="315.0" cy="11.5" rx="4.2" ry="3.6" transform="rotate(32 315.0 11.5)" fill="url(#hb)"/>
<ellipse cx="399.3" cy="30.3" rx="3.6" ry="2.6" transform="rotate(40 399.3 30.3)" fill="url(#hb)"/>
<ellipse cx="377.1" cy="171.7" rx="3.4" ry="2.3" transform="rotate(19 377.1 171.7)" fill="url(#hb)"/>
<ellipse cx="413.4" cy="107.1" rx="3.4" ry="2.3" transform="rotate(17 413.4 107.1)" fill="url(#hb)"/>
<ellipse cx="464.3" cy="136.0" rx="4.2" ry="3.5" transform="rotate(18 464.3 136.0)" fill="url(#hb)"/>
<ellipse cx="452.9" cy="60.0" rx="4.4" ry="3.7" transform="rotate(51 452.9 60.0)" fill="url(#hb)"/>
<ellipse cx="291.6" cy="230.1" rx="4.5" ry="3.9" transform="rotate(19 291.6 230.1)" fill="url(#hb)"/>
<ellipse cx="465.9" cy="160.5" rx="3.2" ry="2.7" transform="rotate(47 465.9 160.5)" fill="url(#hb)"/>
<ellipse cx="415.8" cy="162.6" rx="4.1" ry="3.0" transform="rotate(19 415.8 162.6)" fill="url(#hb)"/>
<ellipse cx="457.9" cy="47.4" rx="3.5" ry="2.5" transform="rotate(32 457.9 47.4)" fill="url(#hb)"/>
<ellipse cx="326.7" cy="252.7" rx="3.6" ry="2.9" transform="rotate(30 326.7 252.7)" fill="url(#hb)"/>
<ellipse cx="272.3" cy="13.8" rx="3.9" ry="3.3" transform="rotate(40 272.3 13.8)" fill="url(#hb)"/>
<ellipse cx="332.4" cy="108.6" rx="3.8" ry="3.2" transform="rotate(29 332.4 108.6)" fill="url(#hb)"/>
<ellipse cx="424.1" cy="24.6" rx="3.5" ry="3.0" transform="rotate(19 424.1 24.6)" fill="url(#hb)"/>
<ellipse cx="284.5" cy="173.8" rx="3.2" ry="2.2" transform="rotate(45 284.5 173.8)" fill="url(#hb)"/>
<ellipse cx="405.2" cy="162.1" rx="3.9" ry="3.0" transform="rotate(47 405.2 162.1)" fill="url(#hb)"/>
<ellipse cx="359.0" cy="122.4" rx="3.7" ry="3.1" transform="rotate(25 359.0 122.4)" fill="url(#hb)"/>
<ellipse cx="316.8" cy="87.4" rx="3.5" ry="2.8" transform="rotate(35 316.8 87.4)" fill="url(#hb)"/>
<ellipse cx="455.7" cy="216.0" rx="3.3" ry="2.8" transform="rotate(43 455.7 216.0)" fill="url(#hb)"/>
<ellipse cx="281.3" cy="29.1" rx="3.7" ry="2.8" transform="rotate(31 281.3 29.1)" fill="url(#hb)"/>
<ellipse cx="472.4" cy="160.2" rx="4.5" ry="3.0" transform="rotate(23 472.4 160.2)" fill="url(#hb)"/>
<ellipse cx="461.9" cy="53.4" rx="3.9" ry="2.9" transform="rotate(50 461.9 53.4)" fill="url(#hb)"/>
<ellipse cx="372.3" cy="65.1" rx="4.0" ry="3.3" transform="rotate(45 372.3 65.1)" fill="url(#hb)"/>
<ellipse cx="472.6" cy="93.9" rx="3.7" ry="2.5" transform="rotate(49 472.6 93.9)" fill="url(#hb)"/>
<ellipse cx="432.0" cy="255.2" rx="3.4" ry="2.6" transform="rotate(46 432.0 255.2)" fill="url(#hb)"/>
<ellipse cx="346.6" cy="140.6" rx="3.9" ry="3.3" transform="rotate(25 346.6 140.6)" fill="url(#hb)"/>
<ellipse cx="373.2" cy="94.0" rx="4.2" ry="3.6" transform="rotate(21 373.2 94.0)" fill="url(#hb)"/>
<ellipse cx="287.2" cy="225.5" rx="3.7" ry="2.8" transform="rotate(21 287.2 225.5)" fill="url(#hb)"/>
<ellipse cx="282.4" cy="19.6" rx="4.6" ry="3.8" transform="rotate(19 282.4 19.6)" fill="url(#hb)"/>
<ellipse cx="440.2" cy="75.7" rx="3.7" ry="3.3" transform="rotate(47 440.2 75.7)" fill="url(#hb)"/>
<ellipse cx="463.6" cy="17.8" rx="3.5" ry="2.8" transform="rotate(19 463.6 17.8)" fill="url(#hb)"/>
<ellipse cx="317.4" cy="170.1" rx="3.2" ry="2.4" transform="rotate(47 317.4 170.1)" fill="url(#hb)"/>
<ellipse cx="335.6" cy="35.2" rx="4.1" ry="3.1" transform="rotate(21 335.6 35.2)" fill="url(#hb)"/>
<ellipse cx="355.0" cy="186.8" rx="4.3" ry="3.7" transform="rotate(32 355.0 186.8)" fill="url(#hb)"/>
<ellipse cx="500.8" cy="242.4" rx="3.8" ry="2.7" transform="rotate(44 500.8 242.4)" fill="url(#hb)"/>
<ellipse cx="499.5" cy="111.9" rx="4.2" ry="3.6" transform="rotate(42 499.5 111.9)" fill="url(#hb)"/>
<ellipse cx="470.8" cy="77.2" rx="3.6" ry="2.9" transform="rotate(19 470.8 77.2)" fill="url(#hb)"/>
<ellipse cx="505.0" cy="230.6" rx="4.2" ry="3.4" transform="rotate(25 505.0 230.6)" fill="url(#hb)"/>
<ellipse cx="326.6" cy="92.0" rx="4.1" ry="3.1" transform="rotate(42 326.6 92.0)" fill="url(#hb)"/>
<ellipse cx="357.0" cy="92.5" rx="4.1" ry="3.4" transform="rotate(31 357.0 92.5)" fill="url(#hb)"/>
<ellipse cx="364.9" cy="98.8" rx="3.2" ry="2.5" transform="rotate(21 364.9 98.8)" fill="url(#hb)"/>
<ellipse cx="312.7" cy="144.6" rx="3.9" ry="2.7" transform="rotate(38 312.7 144.6)" fill="url(#hb)"/>
<ellipse cx="491.0" cy="71.2" rx="3.9" ry="3.1" transform="rotate(48 491.0 71.2)" fill="url(#hb)"/>
<ellipse cx="267.8" cy="132.1" rx="4.6" ry="3.2" transform="rotate(42 267.8 132.1)" fill="url(#hb)"/>
<ellipse cx="403.5" cy="145.5" rx="3.4" ry="3.0" transform="rotate(29 403.5 145.5)" fill="url(#hb)"/>
<ellipse cx="430.7" cy="61.8" rx="3.8" ry="2.5" transform="rotate(32 430.7 61.8)" fill="url(#hb)"/>
<ellipse cx="319.3" cy="197.0" rx="3.7" ry="2.7" transform="rotate(24 319.3 197.0)" fill="url(#hb)"/>
<ellipse cx="364.5" cy="85.8" rx="4.0" ry="2.8" transform="rotate(47 364.5 85.8)" fill="url(#hb)"/>
<ellipse cx="390.4" cy="137.7" rx="3.4" ry="2.8" transform="rotate(47 390.4 137.7)" fill="url(#hb)"/>
<ellipse cx="499.9" cy="104.8" rx="4.0" ry="2.8" transform="rotate(54 499.9 104.8)" fill="url(#hb)"/>
<ellipse cx="476.8" cy="171.4" rx="4.4" ry="3.7" transform="rotate(34 476.8 171.4)" fill="url(#hb)"/>
<ellipse cx="483.9" cy="207.5" rx="3.4" ry="2.8" transform="rotate(29 483.9 207.5)" fill="url(#hb)"/>
<ellipse cx="511.0" cy="164.5" rx="3.7" ry="2.7" transform="rotate(32 511.0 164.5)" fill="url(#hb)"/>
<ellipse cx="371.3" cy="36.0" rx="4.2" ry="3.1" transform="rotate(25 371.3 36.0)" fill="url(#hb)"/>
<ellipse cx="454.7" cy="255.7" rx="3.8" ry="3.0" transform="rotate(41 454.7 255.7)" fill="url(#hb)"/>
<ellipse cx="359.6" cy="41.6" rx="4.4" ry="3.0" transform="rotate(48 359.6 41.6)" fill="url(#hb)"/>
<ellipse cx="337.9" cy="250.1" rx="3.4" ry="2.9" transform="rotate(40 337.9 250.1)" fill="url(#hb)"/>
<ellipse cx="277.4" cy="78.2" rx="4.6" ry="3.7" transform="rotate(25 277.4 78.2)" fill="url(#hb)"/>
<ellipse cx="278.2" cy="117.3" rx="3.5" ry="2.9" transform="rotate(29 278.2 117.3)" fill="url(#hb)"/>
<ellipse cx="413.9" cy="234.4" rx="4.3" ry="3.0" transform="rotate(51 413.9 234.4)" fill="url(#hb)"/>
<ellipse cx="271.5" cy="26.3" rx="4.2" ry="3.6" transform="rotate(47 271.5 26.3)" fill="url(#hb)"/>
<ellipse cx="416.6" cy="56.2" rx="4.2" ry="3.3" transform="rotate(45 416.6 56.2)" fill="url(#hb)"/>
<ellipse cx="310.1" cy="71.1" rx="4.0" ry="2.9" transform="rotate(24 310.1 71.1)" fill="url(#hb)"/>
<ellipse cx="474.5" cy="122.7" rx="3.3" ry="2.5" transform="rotate(21 474.5 122.7)" fill="url(#hb)"/>
<ellipse cx="329.7" cy="228.7" rx="4.0" ry="3.4" transform="rotate(15 329.7 228.7)" fill="url(#hb)"/>
<ellipse cx="499.7" cy="86.9" rx="4.0" ry="3.2" transform="rotate(49 499.7 86.9)" fill="url(#hb)"/>
<ellipse cx="404.3" cy="246.8" rx="4.6" ry="3.1" transform="rotate(40 404.3 246.8)" fill="url(#hb)"/>
<ellipse cx="333.4" cy="255.5" rx="4.1" ry="3.3" transform="rotate(52 333.4 255.5)" fill="url(#hb)"/>
<ellipse cx="358.6" cy="205.2" rx="3.9" ry="3.0" transform="rotate(51 358.6 205.2)" fill="url(#hb)"/>
<ellipse cx="447.5" cy="155.6" rx="4.1" ry="3.0" transform="rotate(49 447.5 155.6)" fill="url(#hb)"/>
<ellipse cx="345.7" cy="65.5" rx="4.0" ry="3.3" transform="rotate(23 345.7 65.5)" fill="url(#hb)"/>
<ellipse cx="488.0" cy="132.2" rx="4.0" ry="3.4" transform="rotate(27 488.0 132.2)" fill="url(#hb)"/>
<ellipse cx="331.3" cy="137.0" rx="3.9" ry="2.8" transform="rotate(35 331.3 137.0)" fill="url(#hb)"/>
<ellipse cx="262.4" cy="211.6" rx="4.3" ry="3.2" transform="rotate(28 262.4 211.6)" fill="url(#hb)"/>
<ellipse cx="283.4" cy="68.2" rx="4.1" ry="3.4" transform="rotate(17 283.4 68.2)" fill="url(#hb)"/>
<ellipse cx="448.3" cy="23.3" rx="4.0" ry="2.7" transform="rotate(27 448.3 23.3)" fill="url(#hb)"/>
<ellipse cx="386.8" cy="119.9" rx="4.5" ry="3.6" transform="rotate(41 386.8 119.9)" fill="url(#hb)"/>
<ellipse cx="510.4" cy="150.5" rx="4.1" ry="3.2" transform="rotate(40 510.4 150.5)" fill="url(#hb)"/>
<ellipse cx="484.9" cy="76.9" rx="4.2" ry="3.0" transform="rotate(42 484.9 76.9)" fill="url(#hb)"/>
<ellipse cx="467.2" cy="106.4" rx="3.3" ry="2.3" transform="rotate(16 467.2 106.4)" fill="url(#hb)"/>
<ellipse cx="476.8" cy="52.2" rx="4.1" ry="3.1" transform="rotate(48 476.8 52.2)" fill="url(#hb)"/>
<ellipse cx="403.3" cy="134.7" rx="3.6" ry="2.6" transform="rotate(32 403.3 134.7)" fill="url(#hb)"/>
<ellipse cx="303.0" cy="214.3" rx="4.1" ry="3.6" transform="rotate(17 303.0 214.3)" fill="url(#hb)"/>
<ellipse cx="343.0" cy="78.8" rx="3.4" ry="2.8" transform="rotate(38 343.0 78.8)" fill="url(#hb)"/>
<ellipse cx="289.5" cy="100.5" rx="3.2" ry="2.4" transform="rotate(39 289.5 100.5)" fill="url(#hb)"/>
<ellipse cx="382.1" cy="249.4" rx="3.9" ry="2.9" transform="rotate(19 382.1 249.4)" fill="url(#hb)"/>
<ellipse cx="446.6" cy="59.7" rx="3.4" ry="2.3" transform="rotate(15 446.6 59.7)" fill="url(#hb)"/>
<ellipse cx="264.7" cy="255.8" rx="4.6" ry="3.1" transform="rotate(50 264.7 255.8)" fill="url(#hb)"/>
<ellipse cx="469.9" cy="51.7" rx="4.2" ry="3.0" transform="rotate(44 469.9 51.7)" fill="url(#hb)"/>
<ellipse cx="359.8" cy="138.3" rx="4.3" ry="3.5" transform="rotate(49 359.8 138.3)" fill="url(#hb)"/>
<ellipse cx="339.5" cy="85.7" rx="4.1" ry="3.3" transform="rotate(33 339.5 85.7)" fill="url(#hb)"/>
<ellipse cx="452.2" cy="83.6" rx="4.6" ry="3.8" transform="rotate(15 452.2 83.6)" fill="url(#hb)"/>
<ellipse cx="507.7" cy="144.3" rx="4.4" ry="3.0" transform="rotate(27 507.7 144.3)" fill="url(#hb)"/>
<ellipse cx="477.0" cy="22.0" rx="4.4" ry="3.4" transform="rotate(17 477.0 22.0)" fill="url(#hb)"/>
<ellipse cx="298.6" cy="22.5" rx="3.8" ry="3.1" transform="rotate(21 298.6 22.5)" fill="url(#hb)"/>
<ellipse cx="438.2" cy="182.2" rx="4.1" ry="3.3" transform="rotate(32 438.2 182.2)" fill="url(#hb)"/>
<ellipse cx="308.8" cy="102.6" rx="4.6" ry="3.8" transform="rotate(38 308.8 102.6)" fill="url(#hb)"/>
<ellipse cx="479.6" cy="152.1" rx="4.6" ry="3.7" transform="rotate(48 479.6 152.1)" fill="url(#hb)"/>
<ellipse cx="302.8" cy="30.3" rx="4.6" ry="3.9" transform="rotate(39 302.8 30.3)" fill="url(#hb)"/>
<ellipse cx="367.8" cy="16.9" rx="4.5" ry="3.3" transform="rotate(42 367.8 16.9)" fill="url(#hb)"/>
<ellipse cx="461.4" cy="211.5" rx="4.4" ry="3.1" transform="rotate(15 461.4 211.5)" fill="url(#hb)"/>
<ellipse cx="369.2" cy="2.0" rx="4.0" ry="3.4" transform="rotate(50 369.2 2.0)" fill="url(#hb)"/>
<ellipse cx="266.8" cy="84.1" rx="4.4" ry="3.7" transform="rotate(38 266.8 84.1)" fill="url(#hb)"/>
<ellipse cx="394.4" cy="203.0" rx="4.4" ry="3.5" transform="rotate(52 394.4 203.0)" fill="url(#hb)"/>
<ellipse cx="496.8" cy="140.5" rx="4.0" ry="3.3" transform="rotate(23 496.8 140.5)" fill="url(#hb)"/>
<ellipse cx="353.7" cy="128.1" rx="3.5" ry="2.8" transform="rotate(42 353.7 128.1)" fill="url(#hb)"/>
<ellipse cx="298.9" cy="183.5" rx="3.6" ry="2.9" transform="rotate(47 298.9 183.5)" fill="url(#hb)"/>
<ellipse cx="425.0" cy="49.5" rx="4.4" ry="3.6" transform="rotate(24 425.0 49.5)" fill="url(#hb)"/>
<ellipse cx="411.9" cy="179.2" rx="4.5" ry="3.5" transform="rotate(34 411.9 179.2)" fill="url(#hb)"/>
<ellipse cx="294.2" cy="251.1" rx="3.5" ry="2.4" transform="rotate(43 294.2 251.1)" fill="url(#hb)"/>
<ellipse cx="297.3" cy="233.1" rx="3.8" ry="2.9" transform="rotate(21 297.3 233.1)" fill="url(#hb)"/>
<ellipse cx="407.7" cy="66.7" rx="3.7" ry="2.6" transform="rotate(40 407.7 66.7)" fill="url(#hb)"/>
<ellipse cx="498.4" cy="256.0" rx="4.1" ry="3.0" transform="rotate(36 498.4 256.0)" fill="url(#hb)"/>
<ellipse cx="293.9" cy="212.4" rx="4.6" ry="3.9" transform="rotate(34 293.9 212.4)" fill="url(#hb)"/>
<ellipse cx="324.6" cy="147.1" rx="4.3" ry="3.3" transform="rotate(53 324.6 147.1)" fill="url(#hb)"/>
<ellipse cx="478.0" cy="46.2" rx="4.6" ry="3.3" transform="rotate(17 478.0 46.2)" fill="url(#hb)"/>
<ellipse cx="404.4" cy="17.8" rx="3.3" ry="2.2" transform="rotate(37 404.4 17.8)" fill="url(#hb)"/>
<ellipse cx="270.3" cy="44.8" rx="4.6" ry="3.9" transform="rotate(18 270.3 44.8)" fill="url(#hb)"/>
<ellipse cx="518.6" cy="242.3" rx="3.4" ry="2.9" transform="rotate(25 518.6 242.3)" fill="url(#hb)"/>
<ellipse cx="433.2" cy="78.0" rx="4.6" ry="3.7" transform="rotate(31 433.2 78.0)" fill="url(#hb)"/>
<ellipse cx="436.5" cy="189.8" rx="4.6" ry="4.0" transform="rotate(24 436.5 189.8)" fill="url(#hb)"/>
<ellipse cx="361.2" cy="151.9" rx="3.7" ry="3.2" transform="rotate(51 361.2 151.9)" fill="url(#hb)"/>
<ellipse cx="471.0" cy="2.3" rx="4.3" ry="3.5" transform="rotate(41 471.0 2.3)" fill="url(#hb)"/>
<ellipse cx="313.9" cy="119.7" rx="3.4" ry="2.8" transform="rotate(53 313.9 119.7)" fill="url(#hb)"/>
<ellipse cx="299.2" cy="98.5" rx="4.0" ry="3.3" transform="rotate(19 299.2 98.5)" fill="url(#hb)"/>
<ellipse cx="410.1" cy="43.2" rx="3.4" ry="2.6" transform="rotate(22 410.1 43.2)" fill="url(#hb)"/>
<ellipse cx="397.1" cy="66.6" rx="4.2" ry="2.8" transform="rotate(44 397.1 66.6)" fill="url(#hb)"/>
<ellipse cx="428.8" cy="7.8" rx="4.5" ry="3.2" transform="rotate(52 428.8 7.8)" fill="url(#hb)"/>
<ellipse cx="436.5" cy="35.6" rx="3.4" ry="2.6" transform="rotate(19 436.5 35.6)" fill="url(#hb)"/>
<ellipse cx="384.2" cy="105.0" rx="4.1" ry="3.1" transform="rotate(29 384.2 105.0)" fill="url(#hb)"/>
<ellipse cx="424.2" cy="177.2" rx="4.1" ry="2.8" transform="rotate(24 424.2 177.2)" fill="url(#hb)"/>
<ellipse cx="459.1" cy="193.4" rx="4.0" ry="2.8" transform="rotate(50 459.1 193.4)" fill="url(#hb)"/>
<ellipse cx="388.3" cy="256.6" rx="3.4" ry="2.5" transform="rotate(49 388.3 256.6)" fill="url(#hb)"/>
<ellipse cx="368.3" cy="110.8" rx="3.9" ry="2.8" transform="rotate(51 368.3 110.8)" fill="url(#hb)"/>
<ellipse cx="345.4" cy="12.2" rx="3.3" ry="2.8" transform="rotate(42 345.4 12.2)" fill="url(#hb)"/>
<ellipse cx="457.5" cy="77.2" rx="3.6" ry="2.6" transform="rotate(23 457.5 77.2)" fill="url(#hb)"/>
<ellipse cx="392.7" cy="101.1" rx="4.6" ry="4.0" transform="rotate(19 392.7 101.1)" fill="url(#hb)"/>
<ellipse cx="275.5" cy="178.7" rx="3.3" ry="2.7" transform="rotate(27 275.5 178.7)" fill="url(#hb)"/>
<ellipse cx="398.8" cy="60.2" rx="4.4" ry="3.2" transform="rotate(21 398.8 60.2)" fill="url(#hb)"/>
<ellipse cx="323.3" cy="15.8" rx="4.0" ry="2.8" transform="rotate(32 323.3 15.8)" fill="url(#hb)"/>
<ellipse cx="498.9" cy="249.3" rx="4.0" ry="2.8" transform="rotate(22 498.9 249.3)" fill="url(#hb)"/>
<ellipse cx="435.1" cy="223.3" rx="3.5" ry="2.4" transform="rotate(18 435.1 223.3)" fill="url(#hb)"/>
<ellipse cx="294.2" cy="137.8" rx="3.6" ry="2.5" transform="rotate(39 294.2 137.8)" fill="url(#hb)"/>
<ellipse cx="509.3" cy="-1.9" rx="4.0" ry="2.8" transform="rotate(18 509.3 -1.9)" fill="url(#hb)"/>
<ellipse cx="325.4" cy="75.8" rx="4.2" ry="2.8" transform="rotate(47 325.4 75.8)" fill="url(#hb)"/>
<ellipse cx="414.2" cy="9.9" rx="4.4" ry="3.4" transform="rotate(16 414.2 9.9)" fill="url(#hb)"/>
<ellipse cx="342.0" cy="127.6" rx="4.5" ry="3.2" transform="rotate(22 342.0 127.6)" fill="url(#hb)"/>
<ellipse cx="504.8" cy="252.1" rx="3.4" ry="2.5" transform="rotate(39 504.8 252.1)" fill="url(#hb)"/>
<ellipse cx="384.9" cy="51.7" rx="3.8" ry="3.0" transform="rotate(20 384.9 51.7)" fill="url(#hb)"/>
<ellipse cx="338.8" cy="237.9" rx="4.4" ry="3.2" transform="rotate(43 338.8 237.9)" fill="url(#hb)"/>
<ellipse cx="495.2" cy="48.8" rx="3.3" ry="2.8" transform="rotate(53 495.2 48.8)" fill="url(#hb)"/>
<ellipse cx="490.7" cy="256.8" rx="4.0" ry="3.1" transform="rotate(16 490.7 256.8)" fill="url(#hb)"/>
<ellipse cx="311.8" cy="226.8" rx="3.5" ry="2.4" transform="rotate(25 311.8 226.8)" fill="url(#hb)"/>
<ellipse cx="447.4" cy="33.1" rx="3.3" ry="2.7" transform="rotate(23 447.4 33.1)" fill="url(#hb)"/>
<ellipse cx="442.9" cy="241.8" rx="4.0" ry="3.1" transform="rotate(43 442.9 241.8)" fill="url(#hb)"/>
<ellipse cx="320.0" cy="77.9" rx="4.2" ry="2.8" transform="rotate(20 320.0 77.9)" fill="url(#hb)"/>
<ellipse cx="434.8" cy="203.5" rx="3.6" ry="2.5" transform="rotate(31 434.8 203.5)" fill="url(#hb)"/>
<ellipse cx="358.9" cy="170.1" rx="4.4" ry="3.1" transform="rotate(38 358.9 170.1)" fill="url(#hb)"/>
<ellipse cx="503.0" cy="171.4" rx="4.4" ry="3.8" transform="rotate(31 503.0 171.4)" fill="url(#hb)"/>
<ellipse cx="334.0" cy="164.4" rx="4.0" ry="3.0" transform="rotate(53 334.0 164.4)" fill="url(#hb)"/>
<ellipse cx="376.5" cy="135.4" rx="3.5" ry="2.6" transform="rotate(32 376.5 135.4)" fill="url(#hb)"/>
<ellipse cx="458.5" cy="61.9" rx="4.5" ry="3.8" transform="rotate(49 458.5 61.9)" fill="url(#hb)"/>
<ellipse cx="362.0" cy="239.6" rx="4.6" ry="4.0" transform="rotate(25 362.0 239.6)" fill="url(#hb)"/>
<ellipse cx="392.0" cy="44.8" rx="3.7" ry="2.9" transform="rotate(18 392.0 44.8)" fill="url(#hb)"/>
<ellipse cx="393.5" cy="217.8" rx="3.2" ry="2.2" transform="rotate(54 393.5 217.8)" fill="url(#hb)"/>
<ellipse cx="509.4" cy="43.2" rx="4.1" ry="3.4" transform="rotate(50 509.4 43.2)" fill="url(#hb)"/>
<ellipse cx="376.5" cy="199.0" rx="4.1" ry="3.0" transform="rotate(42 376.5 199.0)" fill="url(#hb)"/>
<ellipse cx="466.5" cy="203.7" rx="4.5" ry="3.6" transform="rotate(25 466.5 203.7)" fill="url(#hb)"/>
<ellipse cx="323.3" cy="125.2" rx="4.6" ry="3.3" transform="rotate(27 323.3 125.2)" fill="url(#hb)"/>
<ellipse cx="417.2" cy="183.8" rx="4.1" ry="3.5" transform="rotate(36 417.2 183.8)" fill="url(#hb)"/>
<ellipse cx="375.0" cy="112.8" rx="4.0" ry="2.7" transform="rotate(20 375.0 112.8)" fill="url(#hb)"/>
<ellipse cx="330.4" cy="205.6" rx="3.8" ry="2.7" transform="rotate(25 330.4 205.6)" fill="url(#hb)"/>
<ellipse cx="409.9" cy="139.2" rx="4.4" ry="3.5" transform="rotate(38 409.9 139.2)" fill="url(#hb)"/>
<ellipse cx="467.8" cy="59.9" rx="4.2" ry="3.2" transform="rotate(37 467.8 59.9)" fill="url(#hb)"/>
<ellipse cx="300.0" cy="78.9" rx="3.6" ry="2.6" transform="rotate(24 300.0 78.9)" fill="url(#hb)"/>
<ellipse cx="330.8" cy="151.1" rx="4.0" ry="2.7" transform="rotate(29 330.8 151.1)" fill="url(#hb)"/>
<ellipse cx="306.6" cy="64.3" rx="4.0" ry="3.1" transform="rotate(26 306.6 64.3)" fill="url(#hb)"/>
<ellipse cx="303.6" cy="177.6" rx="4.3" ry="3.0" transform="rotate(18 303.6 177.6)" fill="url(#hb)"/>
<ellipse cx="478.0" cy="202.5" rx="3.3" ry="2.4" transform="rotate(33 478.0 202.5)" fill="url(#hb)"/>
<ellipse cx="277.9" cy="104.8" rx="3.5" ry="3.1" transform="rotate(45 277.9 104.8)" fill="url(#hb)"/>
<ellipse cx="356.7" cy="54.2" rx="3.7" ry="3.0" transform="rotate(40 356.7 54.2)" fill="url(#hb)"/>
<ellipse cx="518.4" cy="35.6" rx="3.9" ry="3.2" transform="rotate(45 518.4 35.6)" fill="url(#hb)"/>
<ellipse cx="272.2" cy="60.6" rx="4.3" ry="3.5" transform="rotate(52 272.2 60.6)" fill="url(#hb)"/>
<ellipse cx="364.2" cy="75.5" rx="3.2" ry="2.6" transform="rotate(38 364.2 75.5)" fill="url(#hb)"/>
<ellipse cx="270.9" cy="257.0" rx="4.0" ry="3.0" transform="rotate(46 270.9 257.0)" fill="url(#hb)"/>
<ellipse cx="321.8" cy="63.8" rx="3.7" ry="2.8" transform="rotate(33 321.8 63.8)" fill="url(#hb)"/>
<ellipse cx="405.5" cy="60.8" rx="3.8" ry="2.9" transform="rotate(30 405.5 60.8)" fill="url(#hb)"/>
<ellipse cx="382.0" cy="240.4" rx="4.4" ry="3.4" transform="rotate(33 382.0 240.4)" fill="url(#hb)"/>
<ellipse cx="356.6" cy="85.6" rx="3.4" ry="2.7" transform="rotate(38 356.6 85.6)" fill="url(#hb)"/>
<ellipse cx="517.1" cy="156.8" rx="3.7" ry="3.1" transform="rotate(49 517.1 156.8)" fill="url(#hb)"/>
<ellipse cx="272.3" cy="102.8" rx="3.8" ry="3.3" transform="rotate(15 272.3 102.8)" fill="url(#hb)"/>
<ellipse cx="430.9" cy="13.2" rx="3.9" ry="3.4" transform="rotate(46 430.9 13.2)" fill="url(#hb)"/>
<ellipse cx="492.5" cy="118.3" rx="3.9" ry="3.0" transform="rotate(42 492.5 118.3)" fill="url(#hb)"/>
<ellipse cx="364.2" cy="217.2" rx="4.1" ry="3.0" transform="rotate(53 364.2 217.2)" fill="url(#hb)"/>
<ellipse cx="342.2" cy="114.2" rx="3.3" ry="2.5" transform="rotate(31 342.2 114.2)" fill="url(#hb)"/>
<ellipse cx="520.3" cy="174.6" rx="4.5" ry="3.9" transform="rotate(34 520.3 174.6)" fill="url(#hb)"/>
<ellipse cx="486.3" cy="51.2" rx="4.6" ry="3.4" transform="rotate(36 486.3 51.2)" fill="url(#hb)"/>
<ellipse cx="361.6" cy="16.9" rx="3.7" ry="3.2" transform="rotate(48 361.6 16.9)" fill="url(#hb)"/>
<ellipse cx="441.8" cy="92.3" rx="4.5" ry="3.6" transform="rotate(48 441.8 92.3)" fill="url(#hb)"/>
<ellipse cx="448.0" cy="67.8" rx="3.8" ry="2.6" transform="rotate(27 448.0 67.8)" fill="url(#hb)"/>
<ellipse cx="505.5" cy="91.5" rx="3.5" ry="2.4" transform="rotate(40 505.5 91.5)" fill="url(#hb)"/>
<ellipse cx="461.1" cy="186.1" rx="4.6" ry="3.7" transform="rotate(17 461.1 186.1)" fill="url(#hb)"/>
<ellipse cx="497.8" cy="3.3" rx="3.6" ry="3.0" transform="rotate(15 497.8 3.3)" fill="url(#hb)"/>
<ellipse cx="364.4" cy="60.0" rx="4.0" ry="3.3" transform="rotate(23 364.4 60.0)" fill="url(#hb)"/>
<ellipse cx="272.6" cy="37.2" rx="3.6" ry="2.9" transform="rotate(36 272.6 37.2)" fill="url(#hb)"/>
<ellipse cx="343.2" cy="108.3" rx="3.8" ry="2.6" transform="rotate(21 343.2 108.3)" fill="url(#hb)"/>
<ellipse cx="450.6" cy="171.2" rx="3.3" ry="2.3" transform="rotate(36 450.6 171.2)" fill="url(#hb)"/>
<ellipse cx="300.3" cy="51.2" rx="4.4" ry="2.9" transform="rotate(15 300.3 51.2)" fill="url(#hb)"/>
<ellipse cx="409.1" cy="208.3" rx="4.2" ry="3.1" transform="rotate(22 409.1 208.3)" fill="url(#hb)"/>
<ellipse cx="515.7" cy="75.5" rx="4.5" ry="3.5" transform="rotate(29 515.7 75.5)" fill="url(#hb)"/>
<ellipse cx="318.2" cy="177.2" rx="3.3" ry="2.8" transform="rotate(38 318.2 177.2)" fill="url(#hb)"/>
<ellipse cx="435.3" cy="246.3" rx="4.1" ry="2.9" transform="rotate(17 435.3 246.3)" fill="url(#hb)"/>
<ellipse cx="373.2" cy="100.0" rx="3.6" ry="3.1" transform="rotate(48 373.2 100.0)" fill="url(#hb)"/>
<ellipse cx="277.6" cy="97.7" rx="4.6" ry="3.5" transform="rotate(53 277.6 97.7)" fill="url(#hb)"/>
<ellipse cx="366.6" cy="121.6" rx="4.2" ry="3.0" transform="rotate(27 366.6 121.6)" fill="url(#hb)"/>
<ellipse cx="305.3" cy="171.0" rx="4.3" ry="3.1" transform="rotate(22 305.3 171.0)" fill="url(#hb)"/>
<ellipse cx="350.9" cy="107.8" rx="4.6" ry="3.3" transform="rotate(37 350.9 107.8)" fill="url(#hb)"/>
<ellipse cx="301.2" cy="149.5" rx="3.7" ry="2.8" transform="rotate(18 301.2 149.5)" fill="url(#hb)"/>
<ellipse cx="363.8" cy="92.7" rx="3.7" ry="2.6" transform="rotate(23 363.8 92.7)" fill="url(#hb)"/>
<ellipse cx="276.2" cy="126.8" rx="3.2" ry="2.6" transform="rotate(29 276.2 126.8)" fill="url(#hb)"/>
<ellipse cx="414.3" cy="119.9" rx="3.3" ry="2.4" transform="rotate(48 414.3 119.9)" fill="url(#hb)"/>
<ellipse cx="330.1" cy="171.7" rx="4.4" ry="3.7" transform="rotate(21 330.1 171.7)" fill="url(#hb)"/>
<ellipse cx="422.0" cy="246.2" rx="3.7" ry="3.3" transform="rotate(23 422.0 246.2)" fill="url(#hb)"/>
<ellipse cx="507.0" cy="198.6" rx="3.5" ry="2.7" transform="rotate(20 507.0 198.6)" fill="url(#hb)"/>
<ellipse cx="425.1" cy="159.4" rx="4.5" ry="3.5" transform="rotate(30 425.1 159.4)" fill="url(#hb)"/>
<ellipse cx="438.8" cy="59.0" rx="3.5" ry="3.0" transform="rotate(20 438.8 59.0)" fill="url(#hb)"/>
<ellipse cx="262.2" cy="139.4" rx="3.6" ry="3.0" transform="rotate(30 262.2 139.4)" fill="url(#hb)"/>
<ellipse cx="407.8" cy="214.1" rx="3.6" ry="2.7" transform="rotate(18 407.8 214.1)" fill="url(#hb)"/>
<ellipse cx="513.9" cy="84.7" rx="3.7" ry="2.9" transform="rotate(19 513.9 84.7)" fill="url(#hb)"/>
<ellipse cx="343.5" cy="184.1" rx="3.9" ry="2.8" transform="rotate(18 343.5 184.1)" fill="url(#hb)"/>
<ellipse cx="442.8" cy="176.5" rx="3.4" ry="2.8" transform="rotate(26 442.8 176.5)" fill="url(#hb)"/>
<ellipse cx="512.6" cy="212.3" rx="4.3" ry="3.7" transform="rotate(49 512.6 212.3)" fill="url(#hb)"/>
<ellipse cx="303.5" cy="159.6" rx="3.2" ry="2.6" transform="rotate(42 303.5 159.6)" fill="url(#hb)"/>
<ellipse cx="389.6" cy="144.6" rx="4.1" ry="3.4" transform="rotate(25 389.6 144.6)" fill="url(#hb)"/>
<ellipse cx="456.7" cy="136.8" rx="4.1" ry="2.9" transform="rotate(20 456.7 136.8)" fill="url(#hb)"/>
<ellipse cx="346.5" cy="44.2" rx="4.2" ry="2.8" transform="rotate(17 346.5 44.2)" fill="url(#hb)"/>
<ellipse cx="288.6" cy="181.2" rx="3.6" ry="2.7" transform="rotate(17 288.6 181.2)" fill="url(#hb)"/>
<ellipse cx="462.7" cy="123.0" rx="3.5" ry="2.9" transform="rotate(38 462.7 123.0)" fill="url(#hb)"/>
<ellipse cx="304.3" cy="223.2" rx="3.8" ry="3.1" transform="rotate(29 304.3 223.2)" fill="url(#hb)"/>
<ellipse cx="328.0" cy="129.9" rx="4.3" ry="3.1" transform="rotate(17 328.0 129.9)" fill="url(#hb)"/>
<ellipse cx="469.1" cy="100.0" rx="3.3" ry="2.3" transform="rotate(19 469.1 100.0)" fill="url(#hb)"/>
<ellipse cx="348.8" cy="195.4" rx="4.5" ry="3.7" transform="rotate(18 348.8 195.4)" fill="url(#hb)"/>
<ellipse cx="310.0" cy="1.6" rx="4.3" ry="3.6" transform="rotate(26 310.0 1.6)" fill="url(#hb)"/>
<ellipse cx="414.2" cy="242.7" rx="3.8" ry="3.3" transform="rotate(43 414.2 242.7)" fill="url(#hb)"/>
<ellipse cx="440.8" cy="107.0" rx="4.1" ry="3.1" transform="rotate(17 440.8 107.0)" fill="url(#hb)"/>
<ellipse cx="520.3" cy="29.2" rx="3.9" ry="3.4" transform="rotate(20 520.3 29.2)" fill="url(#hb)"/>
<ellipse cx="347.8" cy="4.9" rx="4.2" ry="3.5" transform="rotate(25 347.8 4.9)" fill="url(#hb)"/>
<ellipse cx="359.1" cy="78.4" rx="4.1" ry="3.2" transform="rotate(25 359.1 78.4)" fill="url(#hb)"/>
<ellipse cx="470.1" cy="216.1" rx="3.8" ry="2.7" transform="rotate(27 470.1 216.1)" fill="url(#hb)"/>
<ellipse cx="335.8" cy="99.8" rx="4.2" ry="3.0" transform="rotate(25 335.8 99.8)" fill="url(#hb)"/>
<ellipse cx="442.5" cy="139.9" rx="4.5" ry="3.4" transform="rotate(27 442.5 139.9)" fill="url(#hb)"/>
<ellipse cx="470.0" cy="36.2" rx="4.0" ry="2.9" transform="rotate(48 470.0 36.2)" fill="url(#hb)"/>
<ellipse cx="307.5" cy="25.9" rx="3.4" ry="2.8" transform="rotate(39 307.5 25.9)" fill="url(#hb)"/>
<ellipse cx="504.7" cy="63.4" rx="4.4" ry="3.0" transform="rotate(27 504.7 63.4)" fill="url(#hb)"/>
<ellipse cx="388.9" cy="29.3" rx="3.3" ry="2.4" transform="rotate(23 388.9 29.3)" fill="url(#hb)"/>
<ellipse cx="357.1" cy="65.5" rx="3.4" ry="2.5" transform="rotate(34 357.1 65.5)" fill="url(#hb)"/>
<ellipse cx="282.4" cy="45.4" rx="3.3" ry="2.2" transform="rotate(55 282.4 45.4)" fill="url(#hb)"/>
<ellipse cx="334.0" cy="242.1" rx="4.2" ry="3.7" transform="rotate(38 334.0 242.1)" fill="url(#hb)"/>
<ellipse cx="292.9" cy="17.4" rx="3.8" ry="2.7" transform="rotate(37 292.9 17.4)" fill="url(#hb)"/>
<ellipse cx="355.3" cy="193.9" rx="4.1" ry="3.3" transform="rotate(52 355.3 193.9)" fill="url(#hb)"/>
<ellipse cx="468.0" cy="189.2" rx="3.5" ry="2.4" transform="rotate(16 468.0 189.2)" fill="url(#hb)"/>
<ellipse cx="454.8" cy="52.9" rx="3.6" ry="2.5" transform="rotate(41 454.8 52.9)" fill="url(#hb)"/>
<ellipse cx="438.9" cy="44.1" rx="3.4" ry="2.9" transform="rotate(48 438.9 44.1)" fill="url(#hb)"/>
<ellipse cx="289.5" cy="35.2" rx="3.5" ry="2.9" transform="rotate(28 289.5 35.2)" fill="url(#hb)"/>
<ellipse cx="373.8" cy="248.3" rx="3.7" ry="3.1" transform="rotate(25 373.8 248.3)" fill="url(#hb)"/>
<ellipse cx="508.4" cy="81.8" rx="4.1" ry="3.4" transform="rotate(43 508.4 81.8)" fill="url(#hb)"/>
<ellipse cx="422.2" cy="228.8" rx="3.9" ry="3.0" transform="rotate(21 422.2 228.8)" fill="url(#hb)"/>
<ellipse cx="441.4" cy="115.8" rx="3.3" ry="2.7" transform="rotate(22 441.4 115.8)" fill="url(#hb)"/>
<ellipse cx="435.0" cy="107.0" rx="3.3" ry="2.2" transform="rotate(33 435.0 107.0)" fill="url(#hb)"/>
<ellipse cx="418.2" cy="146.9" rx="3.2" ry="2.7" transform="rotate(49 418.2 146.9)" fill="url(#hb)"/>
<ellipse cx="504.2" cy="37.5" rx="3.6" ry="2.9" transform="rotate(36 504.2 37.5)" fill="url(#hb)"/>
<ellipse cx="366.5" cy="223.5" rx="3.8" ry="3.1" transform="rotate(48 366.5 223.5)" fill="url(#hb)"/>
<ellipse cx="505.8" cy="213.6" rx="3.6" ry="2.7" transform="rotate(38 505.8 213.6)" fill="url(#hb)"/>
<ellipse cx="469.4" cy="131.0" rx="3.3" ry="2.4" transform="rotate(33 469.4 131.0)" fill="url(#hb)"/>
<ellipse cx="520.4" cy="14.9" rx="4.4" ry="3.9" transform="rotate(53 520.4 14.9)" fill="url(#hb)"/>
<ellipse cx="488.2" cy="183.0" rx="3.3" ry="2.7" transform="rotate(39 488.2 183.0)" fill="url(#hb)"/>
<ellipse cx="484.3" cy="198.4" rx="4.6" ry="3.5" transform="rotate(41 484.3 198.4)" fill="url(#hb)"/>
<ellipse cx="404.8" cy="233.5" rx="4.5" ry="3.0" transform="rotate(23 404.8 233.5)" fill="url(#hb)"/>
<ellipse cx="271.6" cy="87.9" rx="3.3" ry="2.7" transform="rotate(30 271.6 87.9)" fill="url(#hb)"/>
<ellipse cx="486.9" cy="214.8" rx="4.0" ry="3.1" transform="rotate(31 486.9 214.8)" fill="url(#hb)"/>
<ellipse cx="292.5" cy="45.2" rx="4.5" ry="3.5" transform="rotate(19 292.5 45.2)" fill="url(#hb)"/>
<ellipse cx="280.7" cy="254.8" rx="3.3" ry="2.6" transform="rotate(25 280.7 254.8)" fill="url(#hb)"/>
<ellipse cx="350.3" cy="80.0" rx="3.5" ry="2.8" transform="rotate(20 350.3 80.0)" fill="url(#hb)"/>
<ellipse cx="295.6" cy="28.2" rx="3.3" ry="2.5" transform="rotate(18 295.6 28.2)" fill="url(#hb)"/>
<ellipse cx="506.7" cy="156.6" rx="4.0" ry="3.3" transform="rotate(45 506.7 156.6)" fill="url(#hb)"/>
<ellipse cx="453.4" cy="91.7" rx="4.2" ry="2.9" transform="rotate(48 453.4 91.7)" fill="url(#hb)"/>
<ellipse cx="372.4" cy="211.2" rx="4.6" ry="3.6" transform="rotate(46 372.4 211.2)" fill="url(#hb)"/>
<ellipse cx="336.1" cy="224.9" rx="3.3" ry="2.3" transform="rotate(30 336.1 224.9)" fill="url(#hb)"/>
<ellipse cx="504.8" cy="98.8" rx="3.5" ry="2.5" transform="rotate(43 504.8 98.8)" fill="url(#hb)"/>
<ellipse cx="455.3" cy="154.3" rx="4.1" ry="3.5" transform="rotate(38 455.3 154.3)" fill="url(#hb)"/>
<ellipse cx="371.0" cy="71.1" rx="3.4" ry="2.8" transform="rotate(29 371.0 71.1)" fill="url(#hb)"/>
<ellipse cx="494.8" cy="63.4" rx="4.4" ry="3.0" transform="rotate(30 494.8 63.4)" fill="url(#hb)"/>
<ellipse cx="371.4" cy="86.8" rx="4.2" ry="2.8" transform="rotate(39 371.4 86.8)" fill="url(#hb)"/>
<ellipse cx="415.6" cy="139.9" rx="4.4" ry="3.0" transform="rotate(52 415.6 139.9)" fill="url(#hb)"/>
<ellipse cx="285.0" cy="92.5" rx="3.5" ry="2.6" transform="rotate(49 285.0 92.5)" fill="url(#hb)"/>
<ellipse cx="384.0" cy="92.1" rx="3.2" ry="2.2" transform="rotate(47 384.0 92.1)" fill="url(#hb)"/>
<ellipse cx="444.3" cy="257.4" rx="3.6" ry="2.9" transform="rotate(30 444.3 257.4)" fill="url(#hb)"/>
<ellipse cx="366.3" cy="168.6" rx="4.0" ry="3.2" transform="rotate(47 366.3 168.6)" fill="url(#hb)"/>
<ellipse cx="316.5" cy="94.2" rx="3.7" ry="2.6" transform="rotate(35 316.5 94.2)" fill="url(#hb)"/>
<ellipse cx="454.9" cy="19.7" rx="3.2" ry="2.3" transform="rotate(48 454.9 19.7)" fill="url(#hb)"/>
<ellipse cx="266.1" cy="221.5" rx="3.9" ry="2.7" transform="rotate(49 266.1 221.5)" fill="url(#hb)"/>
<ellipse cx="290.9" cy="203.2" rx="4.1" ry="2.8" transform="rotate(28 290.9 203.2)" fill="url(#hb)"/>
<ellipse cx="294.4" cy="145.6" rx="4.0" ry="2.7" transform="rotate(22 294.4 145.6)" fill="url(#hb)"/>
<ellipse cx="395.2" cy="74.4" rx="4.0" ry="3.0" transform="rotate(29 395.2 74.4)" fill="url(#hb)"/>
<ellipse cx="318.6" cy="115.4" rx="3.7" ry="2.4" transform="rotate(33 318.6 115.4)" fill="url(#hb)"/>
<ellipse cx="483.2" cy="25.1" rx="3.4" ry="2.7" transform="rotate(26 483.2 25.1)" fill="url(#hb)"/>
<ellipse cx="483.0" cy="38.3" rx="3.6" ry="2.8" transform="rotate(36 483.0 38.3)" fill="url(#hb)"/>
<ellipse cx="367.7" cy="157.2" rx="3.2" ry="2.5" transform="rotate(46 367.7 157.2)" fill="url(#hb)"/>
<ellipse cx="486.6" cy="248.6" rx="4.1" ry="3.3" transform="rotate(30 486.6 248.6)" fill="url(#hb)"/>
<ellipse cx="302.7" cy="136.1" rx="4.5" ry="3.9" transform="rotate(42 302.7 136.1)" fill="url(#hb)"/>
<ellipse cx="429.2" cy="218.4" rx="4.3" ry="3.3" transform="rotate(40 429.2 218.4)" fill="url(#hb)"/>
<ellipse cx="291.1" cy="236.9" rx="3.8" ry="2.5" transform="rotate(28 291.1 236.9)" fill="url(#hb)"/>
<ellipse cx="347.5" cy="125.1" rx="3.9" ry="2.9" transform="rotate(25 347.5 125.1)" fill="url(#hb)"/>
<ellipse cx="432.0" cy="228.5" rx="3.4" ry="2.2" transform="rotate(50 432.0 228.5)" fill="url(#hb)"/>
<ellipse cx="392.2" cy="233.0" rx="4.0" ry="2.9" transform="rotate(22 392.2 233.0)" fill="url(#hb)"/>
<ellipse cx="274.9" cy="215.3" rx="3.6" ry="3.0" transform="rotate(37 274.9 215.3)" fill="url(#hb)"/>
<ellipse cx="278.1" cy="135.2" rx="4.5" ry="3.6" transform="rotate(18 278.1 135.2)" fill="url(#hb)"/>
<ellipse cx="319.9" cy="23.8" rx="4.6" ry="3.4" transform="rotate(46 319.9 23.8)" fill="url(#hb)"/>
<ellipse cx="456.9" cy="124.7" rx="3.3" ry="2.5" transform="rotate(51 456.9 124.7)" fill="url(#hb)"/>
<ellipse cx="264.3" cy="103.7" rx="3.2" ry="2.2" transform="rotate(26 264.3 103.7)" fill="url(#hb)"/>
<ellipse cx="275.8" cy="22.1" rx="3.8" ry="2.7" transform="rotate(39 275.8 22.1)" fill="url(#hb)"/>
<ellipse cx="327.5" cy="68.2" rx="3.5" ry="2.9" transform="rotate(54 327.5 68.2)" fill="url(#hb)"/>
<ellipse cx="478.2" cy="83.3" rx="4.4" ry="3.7" transform="rotate(29 478.2 83.3)" fill="url(#hb)"/>
<ellipse cx="276.8" cy="196.5" rx="4.0" ry="3.4" transform="rotate(41 276.8 196.5)" fill="url(#hb)"/>
<ellipse cx="274.5" cy="160.4" rx="3.7" ry="3.0" transform="rotate(41 274.5 160.4)" fill="url(#hb)"/>
<ellipse cx="412.8" cy="-0.5" rx="3.7" ry="2.5" transform="rotate(32 412.8 -0.5)" fill="url(#hb)"/>
<ellipse cx="453.6" cy="106.8" rx="3.7" ry="2.8" transform="rotate(39 453.6 106.8)" fill="url(#hb)"/>
<ellipse cx="438.7" cy="253.8" rx="3.2" ry="2.8" transform="rotate(38 438.7 253.8)" fill="url(#hb)"/>
<ellipse cx="465.2" cy="112.5" rx="4.1" ry="3.3" transform="rotate(28 465.2 112.5)" fill="url(#hb)"/>
<ellipse cx="457.4" cy="96.2" rx="3.4" ry="2.8" transform="rotate(19 457.4 96.2)" fill="url(#hb)"/>
<ellipse cx="292.7" cy="81.2" rx="4.0" ry="3.1" transform="rotate(37 292.7 81.2)" fill="url(#hb)"/>
<ellipse cx="435.2" cy="140.5" rx="3.7" ry="3.0" transform="rotate(25 435.2 140.5)" fill="url(#hb)"/>
<ellipse cx="342.6" cy="246.0" rx="4.3" ry="3.1" transform="rotate(46 342.6 246.0)" fill="url(#hb)"/>
<ellipse cx="401.4" cy="216.2" rx="3.6" ry="2.8" transform="rotate(53 401.4 216.2)" fill="url(#hb)"/>
<ellipse cx="304.6" cy="88.9" rx="3.9" ry="3.1" transform="rotate(46 304.6 88.9)" fill="url(#hb)"/>
<ellipse cx="329.9" cy="187.9" rx="3.5" ry="2.9" transform="rotate(19 329.9 187.9)" fill="url(#hb)"/>
<ellipse cx="360.2" cy="184.3" rx="3.3" ry="2.5" transform="rotate(37 360.2 184.3)" fill="url(#hb)"/>
<ellipse cx="374.5" cy="158.6" rx="3.7" ry="2.6" transform="rotate(22 374.5 158.6)" fill="url(#hb)"/>
<ellipse cx="407.5" cy="251.7" rx="3.4" ry="2.3" transform="rotate(46 407.5 251.7)" fill="url(#hb)"/>
<ellipse cx="348.6" cy="37.4" rx="3.9" ry="3.1" transform="rotate(29 348.6 37.4)" fill="url(#hb)"/>
<ellipse cx="313.8" cy="137.1" rx="3.7" ry="3.1" transform="rotate(19 313.8 137.1)" fill="url(#hb)"/>
<ellipse cx="460.9" cy="149.4" rx="4.1" ry="3.1" transform="rotate(50 460.9 149.4)" fill="url(#hb)"/>
<ellipse cx="495.8" cy="238.2" rx="3.8" ry="3.3" transform="rotate(53 495.8 238.2)" fill="url(#hb)"/>
<ellipse cx="338.2" cy="63.7" rx="3.6" ry="2.6" transform="rotate(32 338.2 63.7)" fill="url(#hb)"/>
<ellipse cx="332.9" cy="72.1" rx="4.3" ry="3.4" transform="rotate(27 332.9 72.1)" fill="url(#hb)"/>
<ellipse cx="334.2" cy="130.4" rx="4.0" ry="2.8" transform="rotate(50 334.2 130.4)" fill="url(#hb)"/>
<ellipse cx="489.2" cy="39.6" rx="4.3" ry="3.6" transform="rotate(26 489.2 39.6)" fill="url(#hb)"/>
<ellipse cx="433.6" cy="237.0" rx="4.5" ry="3.1" transform="rotate(42 433.6 237.0)" fill="url(#hb)"/>
<ellipse cx="507.3" cy="129.5" rx="4.0" ry="3.4" transform="rotate(23 507.3 129.5)" fill="url(#hb)"/>
<ellipse cx="409.2" cy="88.7" rx="4.3" ry="3.7" transform="rotate(22 409.2 88.7)" fill="url(#hb)"/>
<ellipse cx="269.7" cy="146.4" rx="3.6" ry="2.4" transform="rotate(19 269.7 146.4)" fill="url(#hb)"/>
<ellipse cx="399.0" cy="46.0" rx="4.5" ry="3.1" transform="rotate(44 399.0 46.0)" fill="url(#hb)"/>
<ellipse cx="398.9" cy="90.1" rx="4.2" ry="2.8" transform="rotate(29 398.9 90.1)" fill="url(#hb)"/>
<ellipse cx="388.3" cy="18.5" rx="4.5" ry="3.9" transform="rotate(16 388.3 18.5)" fill="url(#hb)"/>
<ellipse cx="349.3" cy="180.5" rx="4.2" ry="2.8" transform="rotate(35 349.3 180.5)" fill="url(#hb)"/>
<ellipse cx="485.2" cy="241.1" rx="3.3" ry="2.2" transform="rotate(55 485.2 241.1)" fill="url(#hb)"/>
<ellipse cx="267.2" cy="125.3" rx="3.4" ry="2.6" transform="rotate(20 267.2 125.3)" fill="url(#hb)"/>
<ellipse cx="397.0" cy="247.5" rx="4.2" ry="2.9" transform="rotate(45 397.0 247.5)" fill="url(#hb)"/>
<ellipse cx="268.3" cy="6.3" rx="3.7" ry="2.8" transform="rotate(52 268.3 6.3)" fill="url(#hb)"/>
<ellipse cx="477.7" cy="177.0" rx="4.6" ry="3.9" transform="rotate(44 477.7 177.0)" fill="url(#hb)"/>
<ellipse cx="262.2" cy="15.7" rx="3.6" ry="2.4" transform="rotate(17 262.2 15.7)" fill="url(#hb)"/>
<ellipse cx="349.2" cy="88.2" rx="4.0" ry="3.0" transform="rotate(15 349.2 88.2)" fill="url(#hb)"/>
<ellipse cx="265.9" cy="198.3" rx="4.0" ry="3.1" transform="rotate(43 265.9 198.3)" fill="url(#hb)"/>
<ellipse cx="322.9" cy="227.3" rx="4.2" ry="3.2" transform="rotate(28 322.9 227.3)" fill="url(#hb)"/>
<ellipse cx="323.9" cy="168.1" rx="3.8" ry="2.8" transform="rotate(31 323.9 168.1)" fill="url(#hb)"/>
<ellipse cx="325.6" cy="54.6" rx="3.2" ry="2.5" transform="rotate(52 325.6 54.6)" fill="url(#hb)"/>
<ellipse cx="369.7" cy="255.3" rx="3.7" ry="2.7" transform="rotate(23 369.7 255.3)" fill="url(#hb)"/>
<ellipse cx="362.7" cy="33.2" rx="4.3" ry="3.7" transform="rotate(17 362.7 33.2)" fill="url(#hb)"/>
<ellipse cx="416.3" cy="190.8" rx="4.1" ry="3.2" transform="rotate(28 416.3 190.8)" fill="url(#hb)"/>
<ellipse cx="385.7" cy="210.8" rx="4.3" ry="3.6" transform="rotate(35 385.7 210.8)" fill="url(#hb)"/>
<ellipse cx="350.9" cy="240.0" rx="3.5" ry="2.8" transform="rotate(45 350.9 240.0)" fill="url(#hb)"/>
<ellipse cx="297.3" cy="174.3" rx="3.8" ry="2.9" transform="rotate(40 297.3 174.3)" fill="url(#hb)"/>
<ellipse cx="508.8" cy="116.0" rx="4.1" ry="3.2" transform="rotate(24 508.8 116.0)" fill="url(#hb)"/>
<ellipse cx="352.4" cy="10.8" rx="4.5" ry="3.4" transform="rotate(44 352.4 10.8)" fill="url(#hb)"/>
<ellipse cx="342.4" cy="195.8" rx="3.5" ry="2.4" transform="rotate(52 342.4 195.8)" fill="url(#hb)"/>
<ellipse cx="409.8" cy="74.6" rx="4.0" ry="3.3" transform="rotate(25 409.8 74.6)" fill="url(#hb)"/>
<ellipse cx="381.5" cy="154.8" rx="3.9" ry="3.1" transform="rotate(48 381.5 154.8)" fill="url(#hb)"/>
<ellipse cx="482.0" cy="118.9" rx="3.3" ry="2.4" transform="rotate(48 482.0 118.9)" fill="url(#hb)"/>
<ellipse cx="317.0" cy="3.1" rx="3.4" ry="2.4" transform="rotate(19 317.0 3.1)" fill="url(#hb)"/>
<ellipse cx="319.1" cy="205.8" rx="3.9" ry="3.0" transform="rotate(19 319.1 205.8)" fill="url(#hb)"/>
<ellipse cx="265.9" cy="77.1" rx="4.2" ry="3.2" transform="rotate(34 265.9 77.1)" fill="url(#hb)"/>
<ellipse cx="385.0" cy="160.2" rx="3.4" ry="2.8" transform="rotate(30 385.0 160.2)" fill="url(#hb)"/>
<ellipse cx="491.8" cy="149.1" rx="3.7" ry="2.7" transform="rotate(30 491.8 149.1)" fill="url(#hb)"/>
<ellipse cx="370.4" cy="138.4" rx="4.0" ry="2.7" transform="rotate(22 370.4 138.4)" fill="url(#hb)"/>
<ellipse cx="381.7" cy="84.4" rx="3.7" ry="2.6" transform="rotate(48 381.7 84.4)" fill="url(#hb)"/>
<ellipse cx="499.6" cy="58.7" rx="4.4" ry="3.1" transform="rotate(32 499.6 58.7)" fill="url(#hb)"/>
<ellipse cx="505.3" cy="219.8" rx="3.7" ry="2.5" transform="rotate(33 505.3 219.8)" fill="url(#hb)"/>
<ellipse cx="394.3" cy="254.0" rx="3.6" ry="2.7" transform="rotate(41 394.3 254.0)" fill="url(#hb)"/>
<ellipse cx="508.3" cy="71.9" rx="3.7" ry="3.0" transform="rotate(52 508.3 71.9)" fill="url(#hb)"/>
<ellipse cx="352.2" cy="143.4" rx="4.2" ry="3.1" transform="rotate(42 352.2 143.4)" fill="url(#hb)"/>
<ellipse cx="285.4" cy="127.4" rx="4.3" ry="3.2" transform="rotate(36 285.4 127.4)" fill="url(#hb)"/>
<ellipse cx="377.1" cy="20.0" rx="4.3" ry="2.9" transform="rotate(39 377.1 20.0)" fill="url(#hb)"/>
<ellipse cx="393.0" cy="108.8" rx="4.4" ry="3.3" transform="rotate(34 393.0 108.8)" fill="url(#hb)"/>
<ellipse cx="337.6" cy="216.7" rx="3.9" ry="3.0" transform="rotate(48 337.6 216.7)" fill="url(#hb)"/>
<ellipse cx="392.8" cy="87.0" rx="3.8" ry="2.5" transform="rotate(42 392.8 87.0)" fill="url(#hb)"/>
<ellipse cx="516.5" cy="236.4" rx="4.3" ry="3.0" transform="rotate(24 516.5 236.4)" fill="url(#hb)"/>
<ellipse cx="504.5" cy="165.5" rx="3.3" ry="2.3" transform="rotate(45 504.5 165.5)" fill="url(#hb)"/>
<ellipse cx="278.8" cy="171.5" rx="4.2" ry="3.4" transform="rotate(34 278.8 171.5)" fill="url(#hb)"/>
<ellipse cx="310.3" cy="178.5" rx="3.8" ry="3.0" transform="rotate(55 310.3 178.5)" fill="url(#hb)"/>
<ellipse cx="466.2" cy="225.1" rx="3.4" ry="2.5" transform="rotate(36 466.2 225.1)" fill="url(#hb)"/>
<ellipse cx="310.7" cy="166.4" rx="3.6" ry="2.6" transform="rotate(28 310.7 166.4)" fill="url(#hb)"/>
<ellipse cx="499.0" cy="73.5" rx="4.0" ry="3.1" transform="rotate(32 499.0 73.5)" fill="url(#hb)"/>
<ellipse cx="348.7" cy="70.6" rx="4.4" ry="3.7" transform="rotate(49 348.7 70.6)" fill="url(#hb)"/>
<ellipse cx="401.2" cy="121.0" rx="3.3" ry="2.5" transform="rotate(30 401.2 121.0)" fill="url(#hb)"/>
<ellipse cx="324.7" cy="83.2" rx="4.0" ry="3.0" transform="rotate(47 324.7 83.2)" fill="url(#hb)"/>
<ellipse cx="354.4" cy="135.0" rx="4.0" ry="2.7" transform="rotate(28 354.4 135.0)" fill="url(#hb)"/>
<ellipse cx="460.2" cy="142.3" rx="4.0" ry="2.9" transform="rotate(26 460.2 142.3)" fill="url(#hb)"/>
<ellipse cx="428.7" cy="242.0" rx="4.2" ry="3.5" transform="rotate(39 428.7 242.0)" fill="url(#hb)"/>
<ellipse cx="402.7" cy="257.3" rx="3.8" ry="3.3" transform="rotate(17 402.7 257.3)" fill="url(#hb)"/>
<ellipse cx="461.4" cy="166.4" rx="3.3" ry="2.8" transform="rotate(18 461.4 166.4)" fill="url(#hb)"/>
<ellipse cx="439.1" cy="158.1" rx="4.5" ry="3.5" transform="rotate(47 439.1 158.1)" fill="url(#hb)"/>
<ellipse cx="295.4" cy="12.2" rx="4.2" ry="3.0" transform="rotate(23 295.4 12.2)" fill="url(#hb)"/>
<ellipse cx="383.8" cy="25.5" rx="4.5" ry="3.2" transform="rotate(19 383.8 25.5)" fill="url(#hb)"/>
<ellipse cx="380.3" cy="121.1" rx="4.6" ry="3.4" transform="rotate(41 380.3 121.1)" fill="url(#hb)"/>
<ellipse cx="432.5" cy="171.9" rx="4.2" ry="2.9" transform="rotate(17 432.5 171.9)" fill="url(#hb)"/>
<ellipse cx="277.5" cy="149.6" rx="4.4" ry="3.2" transform="rotate(24 277.5 149.6)" fill="url(#hb)"/>
<ellipse cx="333.4" cy="145.5" rx="4.0" ry="2.8" transform="rotate(51 333.4 145.5)" fill="url(#hb)"/>
<ellipse cx="337.2" cy="207.6" rx="3.4" ry="2.9" transform="rotate(54 337.2 207.6)" fill="url(#hb)"/>
<ellipse cx="401.7" cy="4.3" rx="3.7" ry="3.0" transform="rotate(24 401.7 4.3)" fill="url(#hb)"/>
<ellipse cx="518.6" cy="56.1" rx="3.9" ry="3.2" transform="rotate(32 518.6 56.1)" fill="url(#hb)"/>
<ellipse cx="319.9" cy="159.1" rx="4.4" ry="3.0" transform="rotate(52 319.9 159.1)" fill="url(#hb)"/>
<ellipse cx="301.1" cy="248.7" rx="4.0" ry="2.9" transform="rotate(29 301.1 248.7)" fill="url(#hb)"/>
<ellipse cx="353.8" cy="254.0" rx="4.5" ry="3.1" transform="rotate(34 353.8 254.0)" fill="url(#hb)"/>
<ellipse cx="418.0" cy="222.2" rx="4.0" ry="2.7" transform="rotate(21 418.0 222.2)" fill="url(#hb)"/>
<ellipse cx="267.4" cy="179.2" rx="4.4" ry="3.1" transform="rotate(52 267.4 179.2)" fill="url(#hb)"/>
<ellipse cx="342.7" cy="151.9" rx="4.6" ry="3.4" transform="rotate(53 342.7 151.9)" fill="url(#hb)"/>
<ellipse cx="492.6" cy="194.1" rx="3.7" ry="2.8" transform="rotate(25 492.6 194.1)" fill="url(#hb)"/>
<ellipse cx="393.1" cy="119.8" rx="4.3" ry="3.1" transform="rotate(18 393.1 119.8)" fill="url(#hb)"/>
<ellipse cx="336.2" cy="47.7" rx="4.0" ry="3.3" transform="rotate(39 336.2 47.7)" fill="url(#hb)"/>
<ellipse cx="455.6" cy="116.2" rx="3.9" ry="2.7" transform="rotate(41 455.6 116.2)" fill="url(#hb)"/>
<ellipse cx="365.3" cy="141.7" rx="3.7" ry="2.7" transform="rotate(42 365.3 141.7)" fill="url(#hb)"/>
<ellipse cx="408.2" cy="242.2" rx="4.6" ry="3.3" transform="rotate(49 408.2 242.2)" fill="url(#hb)"/>
<ellipse cx="403.3" cy="85.6" rx="3.4" ry="2.3" transform="rotate(50 403.3 85.6)" fill="url(#hb)"/>
<ellipse cx="348.8" cy="247.0" rx="4.0" ry="2.7" transform="rotate(34 348.8 247.0)" fill="url(#hb)"/>
<ellipse cx="407.3" cy="24.3" rx="3.9" ry="2.9" transform="rotate(23 407.3 24.3)" fill="url(#hb)"/>
<ellipse cx="473.8" cy="186.3" rx="3.4" ry="2.4" transform="rotate(50 473.8 186.3)" fill="url(#hb)"/>
<ellipse cx="270.9" cy="205.4" rx="3.2" ry="2.8" transform="rotate(35 270.9 205.4)" fill="url(#hb)"/>
<ellipse cx="505.2" cy="9.4" rx="4.2" ry="3.0" transform="rotate(45 505.2 9.4)" fill="url(#hb)"/>
<ellipse cx="408.4" cy="97.5" rx="3.2" ry="2.4" transform="rotate(36 408.4 97.5)" fill="url(#hb)"/>
<ellipse cx="274.7" cy="5.3" rx="3.3" ry="2.6" transform="rotate(24 274.7 5.3)" fill="url(#hb)"/>
<ellipse cx="517.5" cy="94.5" rx="4.2" ry="2.8" transform="rotate(25 517.5 94.5)" fill="url(#hb)"/>
<ellipse cx="383.6" cy="217.4" rx="3.2" ry="2.6" transform="rotate(43 383.6 217.4)" fill="url(#hb)"/>
<ellipse cx="291.3" cy="72.5" rx="4.4" ry="3.3" transform="rotate(52 291.3 72.5)" fill="url(#hb)"/>
<ellipse cx="454.5" cy="223.1" rx="3.8" ry="2.8" transform="rotate(19 454.5 223.1)" fill="url(#hb)"/>
<ellipse cx="511.3" cy="231.5" rx="4.2" ry="2.9" transform="rotate(29 511.3 231.5)" fill="url(#hb)"/>
<ellipse cx="521.7" cy="216.2" rx="3.5" ry="2.6" transform="rotate(54 521.7 216.2)" fill="url(#hb)"/>
<ellipse cx="262.3" cy="-1.7" rx="3.9" ry="3.0" transform="rotate(46 262.3 -1.7)" fill="url(#hb)"/>
<ellipse cx="371.4" cy="80.6" rx="4.1" ry="2.9" transform="rotate(40 371.4 80.6)" fill="url(#hb)"/>
<ellipse cx="465.5" cy="249.4" rx="3.3" ry="2.7" transform="rotate(29 465.5 249.4)" fill="url(#hb)"/>
<ellipse cx="369.6" cy="45.6" rx="4.2" ry="3.4" transform="rotate(20 369.6 45.6)" fill="url(#hb)"/>
<ellipse cx="304.0" cy="14.6" rx="4.5" ry="3.7" transform="rotate(48 304.0 14.6)" fill="url(#hb)"/>
<ellipse cx="418.9" cy="212.3" rx="3.8" ry="3.2" transform="rotate(46 418.9 212.3)" fill="url(#hb)"/>
<ellipse cx="351.5" cy="29.3" rx="4.6" ry="3.6" transform="rotate(53 351.5 29.3)" fill="url(#hb)"/>
<ellipse cx="336.6" cy="199.3" rx="4.3" ry="3.1" transform="rotate(49 336.6 199.3)" fill="url(#hb)"/>
<ellipse cx="426.5" cy="119.8" rx="3.9" ry="2.7" transform="rotate(35 426.5 119.8)" fill="url(#hb)"/>
<ellipse cx="394.5" cy="130.7" rx="4.2" ry="3.1" transform="rotate(46 394.5 130.7)" fill="url(#hb)"/>
<ellipse cx="519.5" cy="204.1" rx="4.6" ry="3.8" transform="rotate(31 519.5 204.1)" fill="url(#hb)"/>
<ellipse cx="300.8" cy="108.1" rx="4.4" ry="3.2" transform="rotate(39 300.8 108.1)" fill="url(#hb)"/>
<ellipse cx="299.4" cy="200.9" rx="3.2" ry="2.5" transform="rotate(16 299.4 200.9)" fill="url(#hb)"/>
<ellipse cx="496.2" cy="203.6" rx="3.8" ry="3.0" transform="rotate(33 496.2 203.6)" fill="url(#hb)"/>
<ellipse cx="326.7" cy="141.5" rx="3.7" ry="3.1" transform="rotate(40 326.7 141.5)" fill="url(#hb)"/>
<ellipse cx="443.1" cy="187.2" rx="3.6" ry="2.9" transform="rotate(33 443.1 187.2)" fill="url(#hb)"/>
<ellipse cx="429.6" cy="92.8" rx="3.4" ry="2.7" transform="rotate(17 429.6 92.8)" fill="url(#hb)"/>
<ellipse cx="462.2" cy="156.2" rx="3.6" ry="3.1" transform="rotate(29 462.2 156.2)" fill="url(#hb)"/>
<ellipse cx="437.8" cy="217.3" rx="4.1" ry="3.5" transform="rotate(31 437.8 217.3)" fill="url(#hb)"/>
<ellipse cx="328.2" cy="195.4" rx="3.9" ry="3.4" transform="rotate(23 328.2 195.4)" fill="url(#hb)"/>
<ellipse cx="451.6" cy="5.8" rx="4.0" ry="2.6" transform="rotate(22 451.6 5.8)" fill="url(#hb)"/>
<ellipse cx="468.0" cy="154.8" rx="4.4" ry="3.1" transform="rotate(29 468.0 154.8)" fill="url(#hb)"/>
<ellipse cx="519.9" cy="148.3" rx="4.4" ry="3.4" transform="rotate(30 519.9 148.3)" fill="url(#hb)"/>
<ellipse cx="437.6" cy="25.7" rx="4.2" ry="2.8" transform="rotate(40 437.6 25.7)" fill="url(#hb)"/>
<ellipse cx="516.0" cy="44.3" rx="3.7" ry="3.0" transform="rotate(40 516.0 44.3)" fill="url(#hb)"/>
<ellipse cx="295.1" cy="89.7" rx="4.2" ry="3.6" transform="rotate(35 295.1 89.7)" fill="url(#hb)"/>
<ellipse cx="449.2" cy="199.8" rx="3.3" ry="2.8" transform="rotate(42 449.2 199.8)" fill="url(#hb)"/>
<ellipse cx="311.1" cy="80.0" rx="4.3" ry="3.7" transform="rotate(44 311.1 80.0)" fill="url(#hb)"/>
<ellipse cx="519.8" cy="50.1" rx="3.7" ry="2.5" transform="rotate(53 519.8 50.1)" fill="url(#hb)"/>
<ellipse cx="275.2" cy="72.3" rx="4.0" ry="3.2" transform="rotate(17 275.2 72.3)" fill="url(#hb)"/>
<ellipse cx="350.5" cy="57.1" rx="4.1" ry="3.0" transform="rotate(45 350.5 57.1)" fill="url(#hb)"/>
<ellipse cx="278.4" cy="11.2" rx="3.8" ry="3.3" transform="rotate(41 278.4 11.2)" fill="url(#hb)"/>
<ellipse cx="389.8" cy="96.2" rx="3.7" ry="3.3" transform="rotate(43 389.8 96.2)" fill="url(#hb)"/>
<ellipse cx="332.2" cy="11.5" rx="3.4" ry="2.7" transform="rotate(48 332.2 11.5)" fill="url(#hb)"/>
<ellipse cx="490.5" cy="91.7" rx="3.4" ry="2.6" transform="rotate(50 490.5 91.7)" fill="url(#hb)"/>
<ellipse cx="466.2" cy="142.7" rx="3.4" ry="2.5" transform="rotate(17 466.2 142.7)" fill="url(#hb)"/>
<ellipse cx="494.4" cy="186.7" rx="4.6" ry="4.0" transform="rotate(22 494.4 186.7)" fill="url(#hb)"/>
<ellipse cx="398.6" cy="211.0" rx="3.5" ry="2.5" transform="rotate(33 398.6 211.0)" fill="url(#hb)"/>
<ellipse cx="304.8" cy="144.4" rx="3.8" ry="2.8" transform="rotate(54 304.8 144.4)" fill="url(#hb)"/>
<ellipse cx="505.1" cy="135.2" rx="4.5" ry="3.4" transform="rotate(48 505.1 135.2)" fill="url(#hb)"/>
<ellipse cx="381.5" cy="165.3" rx="3.6" ry="2.5" transform="rotate(45 381.5 165.3)" fill="url(#hb)"/>
<ellipse cx="419.6" cy="88.9" rx="4.2" ry="3.4" transform="rotate(26 419.6 88.9)" fill="url(#hb)"/>
<ellipse cx="267.0" cy="21.6" rx="4.0" ry="2.9" transform="rotate(40 267.0 21.6)" fill="url(#hb)"/>
<ellipse cx="480.6" cy="8.9" rx="3.2" ry="2.7" transform="rotate(38 480.6 8.9)" fill="url(#hb)"/>
<ellipse cx="398.5" cy="170.2" rx="3.6" ry="2.6" transform="rotate(18 398.5 170.2)" fill="url(#hb)"/>
<ellipse cx="346.3" cy="164.2" rx="4.2" ry="3.1" transform="rotate(47 346.3 164.2)" fill="url(#hb)"/>
<ellipse cx="317.0" cy="56.8" rx="4.1" ry="3.6" transform="rotate(40 317.0 56.8)" fill="url(#hb)"/>
<ellipse cx="511.7" cy="245.0" rx="3.8" ry="3.3" transform="rotate(45 511.7 245.0)" fill="url(#hb)"/>
<ellipse cx="277.9" cy="188.0" rx="4.4" ry="3.2" transform="rotate(22 277.9 188.0)" fill="url(#hb)"/>
<ellipse cx="470.7" cy="118.2" rx="3.9" ry="3.2" transform="rotate(51 470.7 118.2)" fill="url(#hb)"/>
<ellipse cx="290.2" cy="-1.0" rx="3.3" ry="2.5" transform="rotate(35 290.2 -1.0)" fill="url(#hb)"/>
<ellipse cx="350.2" cy="16.6" rx="4.0" ry="3.0" transform="rotate(38 350.2 16.6)" fill="url(#hb)"/>
<ellipse cx="473.3" cy="255.4" rx="4.3" ry="3.7" transform="rotate(21 473.3 255.4)" fill="url(#hb)"/>
<ellipse cx="421.7" cy="164.0" rx="3.9" ry="3.4" transform="rotate(51 421.7 164.0)" fill="url(#hb)"/>
<ellipse cx="356.5" cy="-0.8" rx="4.1" ry="3.5" transform="rotate(20 356.5 -0.8)" fill="url(#hb)"/>
<ellipse cx="364.7" cy="69.4" rx="4.1" ry="2.9" transform="rotate(18 364.7 69.4)" fill="url(#hb)"/>
<ellipse cx="294.3" cy="153.5" rx="3.6" ry="2.5" transform="rotate(24 294.3 153.5)" fill="url(#hb)"/>
<ellipse cx="474.0" cy="198.2" rx="4.6" ry="3.9" transform="rotate(29 474.0 198.2)" fill="url(#hb)"/>
<ellipse cx="487.3" cy="190.7" rx="4.4" ry="3.2" transform="rotate(15 487.3 190.7)" fill="url(#hb)"/>
<ellipse cx="508.7" cy="31.0" rx="3.6" ry="2.4" transform="rotate(33 508.7 31.0)" fill="url(#hb)"/>
<ellipse cx="262.3" cy="204.2" rx="3.2" ry="2.7" transform="rotate(19 262.3 204.2)" fill="url(#hb)"/>
<ellipse cx="277.8" cy="228.5" rx="3.7" ry="2.7" transform="rotate(38 277.8 228.5)" fill="url(#hb)"/>
<ellipse cx="357.4" cy="47.5" rx="3.5" ry="3.0" transform="rotate(47 357.4 47.5)" fill="url(#hb)"/>
<ellipse cx="262.4" cy="248.5" rx="4.3" ry="2.9" transform="rotate(35 262.4 248.5)" fill="url(#hb)"/>
<ellipse cx="357.7" cy="245.3" rx="4.1" ry="3.4" transform="rotate(38 357.7 245.3)" fill="url(#hb)"/>
<ellipse cx="400.4" cy="24.7" rx="4.0" ry="2.9" transform="rotate(50 400.4 24.7)" fill="url(#hb)"/>
<ellipse cx="370.3" cy="11.0" rx="4.6" ry="3.4" transform="rotate(54 370.3 11.0)" fill="url(#hb)"/>
<ellipse cx="363.3" cy="253.9" rx="3.4" ry="2.6" transform="rotate(42 363.3 253.9)" fill="url(#hb)"/>
<ellipse cx="506.9" cy="52.2" rx="3.7" ry="2.6" transform="rotate(31 506.9 52.2)" fill="url(#hb)"/>
<ellipse cx="439.2" cy="208.2" rx="4.3" ry="3.3" transform="rotate(33 439.2 208.2)" fill="url(#hb)"/>
<ellipse cx="374.1" cy="223.3" rx="3.5" ry="2.5" transform="rotate(37 374.1 223.3)" fill="url(#hb)"/>
<ellipse cx="332.6" cy="158.4" rx="4.3" ry="3.7" transform="rotate(52 332.6 158.4)" fill="url(#hb)"/>
<ellipse cx="303.5" cy="69.9" rx="3.3" ry="2.3" transform="rotate(16 303.5 69.9)" fill="url(#hb)"/>
<ellipse cx="499.1" cy="192.3" rx="4.1" ry="2.9" transform="rotate(29 499.1 192.3)" fill="url(#hb)"/>
<ellipse cx="413.4" cy="64.9" rx="4.6" ry="3.4" transform="rotate(17 413.4 64.9)" fill="url(#hb)"/>
<ellipse cx="420.7" cy="60.9" rx="4.5" ry="3.8" transform="rotate(33 420.7 60.9)" fill="url(#hb)"/>
<ellipse cx="423.9" cy="149.4" rx="3.4" ry="2.8" transform="rotate(34 423.9 149.4)" fill="url(#hb)"/>
<ellipse cx="492.5" cy="244.1" rx="4.3" ry="3.3" transform="rotate(48 492.5 244.1)" fill="url(#hb)"/>
<ellipse cx="308.3" cy="203.2" rx="4.0" ry="3.1" transform="rotate(23 308.3 203.2)" fill="url(#hb)"/>
<ellipse cx="382.6" cy="177.0" rx="4.5" ry="3.7" transform="rotate(53 382.6 177.0)" fill="url(#hb)"/>
<ellipse cx="318.0" cy="188.7" rx="4.3" ry="3.2" transform="rotate(47 318.0 188.7)" fill="url(#hb)"/>
<ellipse cx="414.2" cy="251.4" rx="3.2" ry="2.3" transform="rotate(38 414.2 251.4)" fill="url(#hb)"/>
<ellipse cx="422.2" cy="140.7" rx="4.4" ry="3.7" transform="rotate(34 422.2 140.7)" fill="url(#hb)"/>
<ellipse cx="517.3" cy="126.8" rx="4.0" ry="2.7" transform="rotate(28 517.3 126.8)" fill="url(#hb)"/>
<ellipse cx="404.3" cy="223.5" rx="3.9" ry="3.1" transform="rotate(23 404.3 223.5)" fill="url(#hb)"/>
<ellipse cx="274.1" cy="166.5" rx="3.7" ry="2.6" transform="rotate(39 274.1 166.5)" fill="url(#hb)"/>
<ellipse cx="388.8" cy="72.9" rx="3.9" ry="3.0" transform="rotate(40 388.8 72.9)" fill="url(#hb)"/>
<ellipse cx="303.4" cy="58.3" rx="3.3" ry="2.7" transform="rotate(17 303.4 58.3)" fill="url(#hb)"/>
<ellipse cx="328.5" cy="221.7" rx="4.2" ry="3.4" transform="rotate(25 328.5 221.7)" fill="url(#hb)"/>
<ellipse cx="412.2" cy="133.9" rx="3.9" ry="2.7" transform="rotate(51 412.2 133.9)" fill="url(#hb)"/>
<ellipse cx="474.8" cy="69.6" rx="3.5" ry="3.1" transform="rotate(24 474.8 69.6)" fill="url(#hb)"/>
<ellipse cx="314.1" cy="125.8" rx="4.4" ry="3.5" transform="rotate(45 314.1 125.8)" fill="url(#hb)"/>
<ellipse cx="414.8" cy="21.8" rx="4.6" ry="3.9" transform="rotate(17 414.8 21.8)" fill="url(#hb)"/>
<ellipse cx="520.9" cy="84.7" rx="4.5" ry="3.2" transform="rotate(42 520.9 84.7)" fill="url(#hb)"/>
<ellipse cx="464.8" cy="25.0" rx="4.5" ry="3.2" transform="rotate(21 464.8 25.0)" fill="url(#hb)"/>
<ellipse cx="454.1" cy="38.6" rx="3.3" ry="2.9" transform="rotate(43 454.1 38.6)" fill="url(#hb)"/>
<ellipse cx="319.6" cy="31.1" rx="3.4" ry="2.6" transform="rotate(19 319.6 31.1)" fill="url(#hb)"/>
<ellipse cx="265.3" cy="188.8" rx="4.5" ry="3.0" transform="rotate(49 265.3 188.8)" fill="url(#hb)"/>
<ellipse cx="427.4" cy="144.6" rx="3.9" ry="3.1" transform="rotate(39 427.4 144.6)" fill="url(#hb)"/>
<ellipse cx="480.9" cy="136.2" rx="3.3" ry="2.5" transform="rotate(27 480.9 136.2)" fill="url(#hb)"/>
<ellipse cx="419.9" cy="109.6" rx="4.3" ry="2.8" transform="rotate(48 419.9 109.6)" fill="url(#hb)"/>
<ellipse cx="443.2" cy="228.3" rx="3.4" ry="2.7" transform="rotate(23 443.2 228.3)" fill="url(#hb)"/>
<ellipse cx="450.6" cy="250.7" rx="4.6" ry="3.6" transform="rotate(29 450.6 250.7)" fill="url(#hb)"/>
<ellipse cx="298.7" cy="64.7" rx="4.4" ry="3.7" transform="rotate(19 298.7 64.7)" fill="url(#hb)"/>
<ellipse cx="371.1" cy="241.6" rx="4.3" ry="3.0" transform="rotate(39 371.1 241.6)" fill="url(#hb)"/>
<ellipse cx="338.0" cy="141.4" rx="3.2" ry="2.2" transform="rotate(20 338.0 141.4)" fill="url(#hb)"/>
<ellipse cx="336.4" cy="231.7" rx="3.9" ry="3.0" transform="rotate(31 336.4 231.7)" fill="url(#hb)"/>
<ellipse cx="352.5" cy="217.7" rx="4.5" ry="3.7" transform="rotate(47 352.5 217.7)" fill="url(#hb)"/>
<ellipse cx="423.8" cy="-0.1" rx="4.2" ry="2.8" transform="rotate(42 423.8 -0.1)" fill="url(#hb)"/>
<ellipse cx="336.6" cy="27.7" rx="4.5" ry="3.1" transform="rotate(53 336.6 27.7)" fill="url(#hb)"/>
<ellipse cx="269.2" cy="211.4" rx="3.6" ry="2.6" transform="rotate(29 269.2 211.4)" fill="url(#hb)"/>
<ellipse cx="506.0" cy="258.0" rx="3.8" ry="3.4" transform="rotate(41 506.0 258.0)" fill="url(#hb)"/>
<ellipse cx="403.5" cy="188.5" rx="4.4" ry="3.9" transform="rotate(45 403.5 188.5)" fill="url(#hb)"/>
<ellipse cx="291.3" cy="196.4" rx="3.8" ry="2.5" transform="rotate(24 291.3 196.4)" fill="url(#hb)"/>
<ellipse cx="490.4" cy="139.5" rx="3.7" ry="3.0" transform="rotate(46 490.4 139.5)" fill="url(#hb)"/>
<ellipse cx="458.3" cy="4.6" rx="4.0" ry="2.7" transform="rotate(48 458.3 4.6)" fill="url(#hb)"/>
<ellipse cx="305.6" cy="8.7" rx="3.7" ry="2.9" transform="rotate(54 305.6 8.7)" fill="url(#hb)"/>
<ellipse cx="510.8" cy="7.2" rx="4.1" ry="3.2" transform="rotate(53 510.8 7.2)" fill="url(#hb)"/>
<ellipse cx="281.8" cy="220.0" rx="4.2" ry="3.7" transform="rotate(19 281.8 220.0)" fill="url(#hb)"/>
<ellipse cx="454.4" cy="166.8" rx="4.5" ry="3.0" transform="rotate(25 454.4 166.8)" fill="url(#hb)"/>
<ellipse cx="382.1" cy="114.0" rx="3.4" ry="2.6" transform="rotate(42 382.1 114.0)" fill="url(#hb)"/>
<ellipse cx="459.5" cy="41.8" rx="4.3" ry="3.1" transform="rotate(25 459.5 41.8)" fill="url(#hb)"/>
<ellipse cx="276.4" cy="202.7" rx="3.5" ry="2.5" transform="rotate(54 276.4 202.7)" fill="url(#hb)"/>
<ellipse cx="320.0" cy="38.5" rx="4.1" ry="3.3" transform="rotate(43 320.0 38.5)" fill="url(#hb)"/>
<ellipse cx="414.2" cy="173.2" rx="3.3" ry="2.2" transform="rotate(29 414.2 173.2)" fill="url(#hb)"/>
<ellipse cx="315.1" cy="152.5" rx="3.9" ry="3.4" transform="rotate(43 315.1 152.5)" fill="url(#hb)"/>
<ellipse cx="453.4" cy="205.8" rx="3.4" ry="2.4" transform="rotate(27 453.4 205.8)" fill="url(#hb)"/>
<ellipse cx="424.9" cy="31.4" rx="3.8" ry="3.1" transform="rotate(19 424.9 31.4)" fill="url(#hb)"/>
<ellipse cx="431.2" cy="98.7" rx="4.4" ry="2.9" transform="rotate(48 431.2 98.7)" fill="url(#hb)"/>
<ellipse cx="459.4" cy="29.2" rx="4.4" ry="3.5" transform="rotate(26 459.4 29.2)" fill="url(#hb)"/>
<ellipse cx="401.9" cy="53.3" rx="4.5" ry="3.1" transform="rotate(41 401.9 53.3)" fill="url(#hb)"/>
<ellipse cx="511.3" cy="36.0" rx="3.5" ry="2.4" transform="rotate(19 511.3 36.0)" fill="url(#hb)"/>
<ellipse cx="263.5" cy="97.7" rx="4.1" ry="3.2" transform="rotate(24 263.5 97.7)" fill="url(#hb)"/>
<ellipse cx="464.2" cy="89.5" rx="4.4" ry="3.0" transform="rotate(54 464.2 89.5)" fill="url(#hb)"/>
<ellipse cx="285.9" cy="158.2" rx="3.4" ry="2.8" transform="rotate(25 285.9 158.2)" fill="url(#hb)"/>
<ellipse cx="474.8" cy="238.3" rx="3.4" ry="2.4" transform="rotate(47 474.8 238.3)" fill="url(#hb)"/>
<ellipse cx="515.9" cy="22.4" rx="4.3" ry="3.0" transform="rotate(23 515.9 22.4)" fill="url(#hb)"/>
<ellipse cx="510.7" cy="186.6" rx="3.7" ry="3.0" transform="rotate(34 510.7 186.6)" fill="url(#hb)"/>
<ellipse cx="335.3" cy="115.1" rx="4.2" ry="3.5" transform="rotate(24 335.3 115.1)" fill="url(#hb)"/>
<ellipse cx="317.1" cy="48.0" rx="3.4" ry="2.6" transform="rotate(43 317.1 48.0)" fill="url(#hb)"/>
<ellipse cx="384.6" cy="149.2" rx="3.9" ry="2.7" transform="rotate(24 384.6 149.2)" fill="url(#hb)"/>
<ellipse cx="380.1" cy="63.7" rx="3.3" ry="2.4" transform="rotate(34 380.1 63.7)" fill="url(#hb)"/>
<ellipse cx="295.2" cy="225.2" rx="3.3" ry="2.3" transform="rotate(45 295.2 225.2)" fill="url(#hb)"/>
<ellipse cx="520.6" cy="183.7" rx="4.6" ry="3.9" transform="rotate(19 520.6 183.7)" fill="url(#hb)"/>
<ellipse cx="427.3" cy="57.0" rx="3.5" ry="2.5" transform="rotate(50 427.3 57.0)" fill="url(#hb)"/>
<ellipse cx="388.5" cy="222.3" rx="3.6" ry="3.1" transform="rotate(33 388.5 222.3)" fill="url(#hb)"/>
<ellipse cx="521.6" cy="210.4" rx="3.8" ry="2.8" transform="rotate(23 521.6 210.4)" fill="url(#hb)"/>
<ellipse cx="434.1" cy="4.0" rx="3.4" ry="2.9" transform="rotate(34 434.1 4.0)" fill="url(#hb)"/>
<ellipse cx="373.1" cy="148.3" rx="4.1" ry="3.2" transform="rotate(16 373.1 148.3)" fill="url(#hb)"/>
<ellipse cx="511.3" cy="90.5" rx="4.0" ry="2.8" transform="rotate(35 511.3 90.5)" fill="url(#hb)"/>
<ellipse cx="343.4" cy="210.1" rx="3.4" ry="2.8" transform="rotate(53 343.4 210.1)" fill="url(#hb)"/>
<ellipse cx="368.7" cy="233.7" rx="3.7" ry="3.2" transform="rotate(22 368.7 233.7)" fill="url(#hb)"/>
<ellipse cx="286.9" cy="142.5" rx="4.5" ry="3.0" transform="rotate(24 286.9 142.5)" fill="url(#hb)"/>
<ellipse cx="447.7" cy="87.3" rx="3.4" ry="2.4" transform="rotate(45 447.7 87.3)" fill="url(#hb)"/>
<ellipse cx="271.7" cy="138.2" rx="3.8" ry="3.1" transform="rotate(16 271.7 138.2)" fill="url(#hb)"/>
<ellipse cx="482.6" cy="67.8" rx="3.9" ry="3.0" transform="rotate(53 482.6 67.8)" fill="url(#hb)"/>
<ellipse cx="425.8" cy="87.0" rx="4.1" ry="2.9" transform="rotate(48 425.8 87.0)" fill="url(#hb)"/>
<ellipse cx="465.2" cy="171.9" rx="3.9" ry="2.7" transform="rotate(53 465.2 171.9)" fill="url(#hb)"/>
<ellipse cx="293.6" cy="245.0" rx="3.7" ry="3.0" transform="rotate(16 293.6 245.0)" fill="url(#hb)"/>
<ellipse cx="490.5" cy="2.0" rx="4.4" ry="2.9" transform="rotate(39 490.5 2.0)" fill="url(#hb)"/>
<ellipse cx="482.5" cy="1.2" rx="4.0" ry="3.3" transform="rotate(21 482.5 1.2)" fill="url(#hb)"/>
<ellipse cx="468.9" cy="166.9" rx="4.6" ry="3.2" transform="rotate(20 468.9 166.9)" fill="url(#hb)"/>
<ellipse cx="474.8" cy="133.3" rx="4.5" ry="3.0" transform="rotate(24 474.8 133.3)" fill="url(#hb)"/>
<ellipse cx="303.6" cy="234.1" rx="3.8" ry="2.9" transform="rotate(51 303.6 234.1)" fill="url(#hb)"/>
<ellipse cx="480.2" cy="126.4" rx="4.6" ry="3.3" transform="rotate(53 480.2 126.4)" fill="url(#hb)"/>
<ellipse cx="406.4" cy="177.6" rx="4.5" ry="3.1" transform="rotate(16 406.4 177.6)" fill="url(#hb)"/>
<ellipse cx="366.6" cy="133.1" rx="4.6" ry="3.9" transform="rotate(32 366.6 133.1)" fill="url(#hb)"/>
<ellipse cx="512.8" cy="179.7" rx="4.4" ry="3.5" transform="rotate(36 512.8 179.7)" fill="url(#hb)"/>
<ellipse cx="411.5" cy="166.5" rx="4.1" ry="3.3" transform="rotate(47 411.5 166.5)" fill="url(#hb)"/>
<ellipse cx="430.5" cy="41.4" rx="3.5" ry="2.3" transform="rotate(51 430.5 41.4)" fill="url(#hb)"/>
<ellipse cx="430.1" cy="196.0" rx="4.2" ry="3.0" transform="rotate(24 430.1 196.0)" fill="url(#hb)"/>
<ellipse cx="457.8" cy="237.5" rx="4.2" ry="2.8" transform="rotate(45 457.8 237.5)" fill="url(#hb)"/>
<ellipse cx="491.0" cy="14.9" rx="4.2" ry="3.5" transform="rotate(15 491.0 14.9)" fill="url(#hb)"/>
<ellipse cx="327.4" cy="162.9" rx="4.2" ry="3.4" transform="rotate(22 327.4 162.9)" fill="url(#hb)"/>
<ellipse cx="412.0" cy="147.1" rx="3.5" ry="2.7" transform="rotate(53 412.0 147.1)" fill="url(#hb)"/>
<ellipse cx="370.4" cy="105.3" rx="4.6" ry="3.9" transform="rotate(24 370.4 105.3)" fill="url(#hb)"/>
<ellipse cx="369.4" cy="182.2" rx="4.2" ry="3.4" transform="rotate(20 369.4 182.2)" fill="url(#hb)"/>
<ellipse cx="495.9" cy="217.5" rx="3.6" ry="2.4" transform="rotate(20 495.9 217.5)" fill="url(#hb)"/>
<ellipse cx="372.4" cy="129.1" rx="3.3" ry="2.6" transform="rotate(53 372.4 129.1)" fill="url(#hb)"/>
<ellipse cx="460.9" cy="253.4" rx="4.2" ry="3.2" transform="rotate(22 460.9 253.4)" fill="url(#hb)"/>
<ellipse cx="453.8" cy="190.2" rx="4.2" ry="2.9" transform="rotate(30 453.8 190.2)" fill="url(#hb)"/>
<ellipse cx="496.4" cy="162.3" rx="4.4" ry="3.5" transform="rotate(40 496.4 162.3)" fill="url(#hb)"/>
<ellipse cx="430.6" cy="33.0" rx="3.5" ry="2.9" transform="rotate(27 430.6 33.0)" fill="url(#hb)"/>
<ellipse cx="499.2" cy="153.4" rx="4.1" ry="3.4" transform="rotate(50 499.2 153.4)" fill="url(#hb)"/>
<ellipse cx="497.2" cy="123.5" rx="3.2" ry="2.5" transform="rotate(44 497.2 123.5)" fill="url(#hb)"/>
<ellipse cx="269.1" cy="170.6" rx="3.2" ry="2.2" transform="rotate(43 269.1 170.6)" fill="url(#hb)"/>
<ellipse cx="450.2" cy="77.1" rx="3.6" ry="2.9" transform="rotate(54 450.2 77.1)" fill="url(#hb)"/>
<ellipse cx="441.0" cy="66.5" rx="4.5" ry="4.0" transform="rotate(21 441.0 66.5)" fill="url(#hb)"/>
<ellipse cx="262.6" cy="241.9" rx="3.7" ry="2.7" transform="rotate(34 262.6 241.9)" fill="url(#hb)"/>
<ellipse cx="477.5" cy="212.6" rx="3.3" ry="2.3" transform="rotate(19 477.5 212.6)" fill="url(#hb)"/>
<ellipse cx="377.9" cy="29.9" rx="3.6" ry="3.0" transform="rotate(44 377.9 29.9)" fill="url(#hb)"/>
<ellipse cx="434.4" cy="119.9" rx="3.5" ry="3.0" transform="rotate(37 434.4 119.9)" fill="url(#hb)"/>
<ellipse cx="465.9" cy="73.9" rx="4.2" ry="3.1" transform="rotate(44 465.9 73.9)" fill="url(#hb)"/>
<ellipse cx="272.1" cy="53.8" rx="4.4" ry="3.0" transform="rotate(38 272.1 53.8)" fill="url(#hb)"/>
<ellipse cx="520.3" cy="63.8" rx="4.4" ry="3.6" transform="rotate(24 520.3 63.8)" fill="url(#hb)"/>
<ellipse cx="368.1" cy="190.5" rx="4.0" ry="2.8" transform="rotate(23 368.1 190.5)" fill="url(#hb)"/>
<ellipse cx="488.0" cy="103.3" rx="4.1" ry="2.9" transform="rotate(25 488.0 103.3)" fill="url(#hb)"/>
<ellipse cx="347.7" cy="93.7" rx="4.2" ry="2.8" transform="rotate(44 347.7 93.7)" fill="url(#hb)"/>
<ellipse cx="491.4" cy="234.3" rx="4.1" ry="3.3" transform="rotate(40 491.4 234.3)" fill="url(#hb)"/>
<ellipse cx="335.3" cy="78.4" rx="3.6" ry="2.9" transform="rotate(25 335.3 78.4)" fill="url(#hb)"/>
<ellipse cx="463.5" cy="198.6" rx="4.3" ry="3.6" transform="rotate(44 463.5 198.6)" fill="url(#hb)"/>
<ellipse cx="345.3" cy="51.6" rx="3.6" ry="2.7" transform="rotate(44 345.3 51.6)" fill="url(#hb)"/>
<ellipse cx="393.5" cy="13.6" rx="3.3" ry="2.2" transform="rotate(36 393.5 13.6)" fill="url(#hb)"/>
<ellipse cx="386.7" cy="202.0" rx="4.5" ry="3.4" transform="rotate(23 386.7 202.0)" fill="url(#hb)"/>
<ellipse cx="340.6" cy="162.7" rx="3.9" ry="2.9" transform="rotate(44 340.6 162.7)" fill="url(#hb)"/>
<ellipse cx="448.6" cy="51.9" rx="3.3" ry="2.3" transform="rotate(30 448.6 51.9)" fill="url(#hb)"/>
<ellipse cx="423.1" cy="38.1" rx="4.2" ry="2.9" transform="rotate(28 423.1 38.1)" fill="url(#hb)"/>
<ellipse cx="518.6" cy="140.0" rx="4.3" ry="3.2" transform="rotate(33 518.6 140.0)" fill="url(#hb)"/>
<ellipse cx="379.2" cy="43.1" rx="4.1" ry="2.8" transform="rotate(33 379.2 43.1)" fill="url(#hb)"/>
<ellipse cx="426.0" cy="65.2" rx="3.2" ry="2.8" transform="rotate(51 426.0 65.2)" fill="url(#hb)"/>
<ellipse cx="441.7" cy="168.7" rx="4.1" ry="3.0" transform="rotate(18 441.7 168.7)" fill="url(#hb)"/>
<ellipse cx="333.4" cy="58.0" rx="3.8" ry="2.6" transform="rotate(31 333.4 58.0)" fill="url(#hb)"/>
<ellipse cx="394.3" cy="27.1" rx="3.3" ry="2.4" transform="rotate(46 394.3 27.1)" fill="url(#hb)"/>
<ellipse cx="290.9" cy="51.4" rx="3.3" ry="2.3" transform="rotate(36 290.9 51.4)" fill="url(#hb)"/>
<ellipse cx="340.0" cy="40.1" rx="3.4" ry="2.9" transform="rotate(32 340.0 40.1)" fill="url(#hb)"/>
<ellipse cx="307.9" cy="254.1" rx="3.5" ry="3.1" transform="rotate(20 307.9 254.1)" fill="url(#hb)"/>
<ellipse cx="445.9" cy="3.2" rx="4.5" ry="3.9" transform="rotate(34 445.9 3.2)" fill="url(#hb)"/>
<ellipse cx="292.0" cy="171.8" rx="3.6" ry="2.8" transform="rotate(44 292.0 171.8)" fill="url(#hb)"/>
<ellipse cx="382.2" cy="128.1" rx="3.5" ry="3.0" transform="rotate(19 382.2 128.1)" fill="url(#hb)"/>
<ellipse cx="316.0" cy="252.5" rx="3.5" ry="2.5" transform="rotate(34 316.0 252.5)" fill="url(#hb)"/>
<ellipse cx="278.1" cy="209.3" rx="4.4" ry="3.2" transform="rotate(22 278.1 209.3)" fill="url(#hb)"/>
<ellipse cx="310.3" cy="215.5" rx="3.5" ry="2.6" transform="rotate(48 310.3 215.5)" fill="url(#hb)"/>
<ellipse cx="377.3" cy="207.4" rx="3.2" ry="2.7" transform="rotate(39 377.3 207.4)" fill="url(#hb)"/>
<ellipse cx="420.9" cy="252.2" rx="3.7" ry="3.1" transform="rotate(48 420.9 252.2)" fill="url(#hb)"/>
<ellipse cx="341.1" cy="120.7" rx="3.7" ry="2.8" transform="rotate(30 341.1 120.7)" fill="url(#hb)"/>
<ellipse cx="328.6" cy="31.7" rx="4.5" ry="3.4" transform="rotate(40 328.6 31.7)" fill="url(#hb)"/>
<ellipse cx="364.7" cy="127.6" rx="3.5" ry="3.1" transform="rotate(47 364.7 127.6)" fill="url(#hb)"/>
<ellipse cx="347.7" cy="132.6" rx="4.3" ry="3.6" transform="rotate(25 347.7 132.6)" fill="url(#hb)"/>
<ellipse cx="360.9" cy="4.2" rx="4.4" ry="3.0" transform="rotate(37 360.9 4.2)" fill="url(#hb)"/>
<ellipse cx="404.5" cy="151.8" rx="3.7" ry="3.1" transform="rotate(49 404.5 151.8)" fill="url(#hb)"/>
<ellipse cx="461.3" cy="178.1" rx="4.6" ry="3.7" transform="rotate(42 461.3 178.1)" fill="url(#hb)"/>
<ellipse cx="262.5" cy="170.9" rx="4.5" ry="3.5" transform="rotate(33 262.5 170.9)" fill="url(#hb)"/>
<ellipse cx="492.5" cy="176.5" rx="4.3" ry="3.7" transform="rotate(24 492.5 176.5)" fill="url(#hb)"/>
<ellipse cx="451.8" cy="140.1" rx="3.3" ry="2.4" transform="rotate(16 451.8 140.1)" fill="url(#hb)"/>
<ellipse cx="306.8" cy="208.9" rx="3.3" ry="2.2" transform="rotate(45 306.8 208.9)" fill="url(#hb)"/>
<ellipse cx="323.5" cy="98.0" rx="3.8" ry="3.2" transform="rotate(53 323.5 98.0)" fill="url(#hb)"/>
<ellipse cx="318.5" cy="142.2" rx="4.5" ry="3.4" transform="rotate(51 318.5 142.2)" fill="url(#hb)"/>
<ellipse cx="351.0" cy="234.1" rx="4.5" ry="3.5" transform="rotate(19 351.0 234.1)" fill="url(#hb)"/>
<ellipse cx="446.7" cy="106.0" rx="3.9" ry="3.0" transform="rotate(32 446.7 106.0)" fill="url(#hb)"/>
<ellipse cx="272.2" cy="191.2" rx="3.5" ry="2.6" transform="rotate(30 272.2 191.2)" fill="url(#hb)"/>
<ellipse cx="379.6" cy="143.5" rx="2.5" ry="1.7" transform="rotate(41 379.6 143.5)" fill="url(#gb)" opacity="0.72"/>
<ellipse cx="502.3" cy="119.1" rx="2.6" ry="1.7" transform="rotate(35 502.3 119.1)" fill="url(#gb)" opacity="0.71"/>
<ellipse cx="394.0" cy="150.7" rx="2.3" ry="1.5" transform="rotate(32 394.0 150.7)" fill="url(#gcd)" opacity="0.95"/>
<ellipse cx="310.0" cy="131.1" rx="2.4" ry="1.9" transform="rotate(53 310.0 131.1)" fill="url(#gb)" opacity="0.87"/>
<ellipse cx="425.8" cy="204.2" rx="3.2" ry="2.1" transform="rotate(49 425.8 204.2)" fill="url(#gcd)" opacity="0.79"/>
<ellipse cx="286.5" cy="76.9" rx="2.3" ry="1.7" transform="rotate(48 286.5 76.9)" fill="url(#gb)" opacity="0.75"/>
<ellipse cx="285.6" cy="208.5" rx="2.8" ry="2.1" transform="rotate(37 285.6 208.5)" fill="url(#gcd)" opacity="0.72"/>
<ellipse cx="442.3" cy="8.9" rx="2.4" ry="1.9" transform="rotate(32 442.3 8.9)" fill="url(#gb)" opacity="0.79"/>
<ellipse cx="517.4" cy="248.8" rx="2.7" ry="1.9" transform="rotate(47 517.4 248.8)" fill="url(#gcd)" opacity="0.91"/>
<ellipse cx="432.0" cy="158.0" rx="2.8" ry="2.2" transform="rotate(50 432.0 158.0)" fill="url(#gcd)" opacity="0.92"/>
<ellipse cx="302.9" cy="1.9" rx="3.2" ry="2.2" transform="rotate(32 302.9 1.9)" fill="url(#gcd)" opacity="0.93"/>
<ellipse cx="399.4" cy="13.5" rx="2.7" ry="1.8" transform="rotate(42 399.4 13.5)" fill="url(#gb)" opacity="0.93"/>
<ellipse cx="311.5" cy="60.9" rx="3.1" ry="2.2" transform="rotate(43 311.5 60.9)" fill="url(#gb)" opacity="0.88"/>
<ellipse cx="269.8" cy="118.6" rx="2.7" ry="2.2" transform="rotate(53 269.8 118.6)" fill="url(#gb)" opacity="0.84"/>
<ellipse cx="376.5" cy="217.0" rx="2.3" ry="1.8" transform="rotate(41 376.5 217.0)" fill="url(#gb)" opacity="1.00"/>
<ellipse cx="397.0" cy="164.5" rx="2.5" ry="1.9" transform="rotate(42 397.0 164.5)" fill="url(#gb)" opacity="0.71"/>
<ellipse cx="391.9" cy="170.2" rx="2.4" ry="1.6" transform="rotate(17 391.9 170.2)" fill="url(#gcd)" opacity="0.93"/>
<ellipse cx="380.9" cy="70.3" rx="2.4" ry="1.8" transform="rotate(50 380.9 70.3)" fill="url(#gb)" opacity="0.72"/>
<ellipse cx="521.4" cy="256.9" rx="2.7" ry="2.3" transform="rotate(48 521.4 256.9)" fill="url(#gcd)" opacity="0.96"/>
<ellipse cx="480.5" cy="182.0" rx="2.6" ry="1.9" transform="rotate(50 480.5 182.0)" fill="url(#gcd)" opacity="0.99"/>
<ellipse cx="344.0" cy="57.7" rx="2.4" ry="1.7" transform="rotate(24 344.0 57.7)" fill="url(#gb)" opacity="0.85"/>
<ellipse cx="337.2" cy="16.3" rx="2.5" ry="1.6" transform="rotate(32 337.2 16.3)" fill="url(#gb)" opacity="0.81"/>
<ellipse cx="461.2" cy="102.1" rx="3.2" ry="2.6" transform="rotate(36 461.2 102.1)" fill="url(#gb)" opacity="0.89"/>
<ellipse cx="482.1" cy="98.5" rx="2.3" ry="1.9" transform="rotate(46 482.1 98.5)" fill="url(#gb)" opacity="0.96"/>
<ellipse cx="511.1" cy="218.3" rx="2.6" ry="1.9" transform="rotate(19 511.1 218.3)" fill="url(#gcd)" opacity="0.89"/>
<ellipse cx="262.1" cy="52.5" rx="2.3" ry="1.6" transform="rotate(21 262.1 52.5)" fill="url(#gcd)" opacity="0.80"/>
<ellipse cx="516.9" cy="101.3" rx="2.2" ry="1.5" transform="rotate(19 516.9 101.3)" fill="url(#gcd)" opacity="0.81"/>
<ellipse cx="281.0" cy="161.7" rx="3.1" ry="2.4" transform="rotate(21 281.0 161.7)" fill="url(#gb)" opacity="0.78"/>
<ellipse cx="464.4" cy="68.1" rx="2.6" ry="1.8" transform="rotate(49 464.4 68.1)" fill="url(#gb)" opacity="1.00"/>
<ellipse cx="284.7" cy="84.5" rx="2.7" ry="1.8" transform="rotate(19 284.7 84.5)" fill="url(#gcd)" opacity="0.80"/>
<ellipse cx="512.7" cy="195.1" rx="3.0" ry="2.1" transform="rotate(16 512.7 195.1)" fill="url(#gb)" opacity="0.99"/>
<ellipse cx="292.7" cy="62.1" rx="2.3" ry="1.8" transform="rotate(16 292.7 62.1)" fill="url(#gb)" opacity="0.86"/>
<ellipse cx="288.3" cy="13.6" rx="3.1" ry="2.5" transform="rotate(25 288.3 13.6)" fill="url(#gcd)" opacity="0.81"/>
<ellipse cx="469.2" cy="44.2" rx="3.0" ry="2.3" transform="rotate(46 469.2 44.2)" fill="url(#gcd)" opacity="0.80"/>
<ellipse cx="407.4" cy="114.3" rx="3.0" ry="2.6" transform="rotate(49 407.4 114.3)" fill="url(#gb)" opacity="0.94"/>
<ellipse cx="311.6" cy="188.3" rx="2.9" ry="2.1" transform="rotate(36 311.6 188.3)" fill="url(#gcd)" opacity="0.81"/>
<ellipse cx="296.1" cy="165.4" rx="2.2" ry="1.6" transform="rotate(25 296.1 165.4)" fill="url(#gb)" opacity="0.91"/>
<ellipse cx="292.3" cy="107.4" rx="2.6" ry="2.3" transform="rotate(55 292.3 107.4)" fill="url(#gb)" opacity="0.99"/>
<ellipse cx="317.3" cy="68.1" rx="2.4" ry="1.7" transform="rotate(23 317.3 68.1)" fill="url(#gb)" opacity="0.76"/>
<ellipse cx="514.4" cy="206.9" rx="3.1" ry="2.6" transform="rotate(34 514.4 206.9)" fill="url(#gb)" opacity="0.90"/>
<ellipse cx="341.1" cy="228.1" rx="2.3" ry="1.8" transform="rotate(51 341.1 228.1)" fill="url(#gb)" opacity="0.93"/>
<ellipse cx="316.8" cy="100.5" rx="2.7" ry="1.9" transform="rotate(47 316.8 100.5)" fill="url(#gb)" opacity="0.80"/>
<ellipse cx="484.1" cy="164.9" rx="3.2" ry="2.4" transform="rotate(31 484.1 164.9)" fill="url(#gb)" opacity="0.98"/>
<ellipse cx="288.1" cy="255.2" rx="2.4" ry="1.6" transform="rotate(21 288.1 255.2)" fill="url(#gb)" opacity="0.97"/>
<ellipse cx="462.9" cy="83.5" rx="2.3" ry="2.0" transform="rotate(54 462.9 83.5)" fill="url(#gb)" opacity="0.90"/>
<ellipse cx="285.4" cy="149.5" rx="2.7" ry="1.9" transform="rotate(16 285.4 149.5)" fill="url(#gb)" opacity="0.99"/>
<ellipse cx="325.2" cy="154.3" rx="2.7" ry="2.4" transform="rotate(32 325.2 154.3)" fill="url(#gb)" opacity="0.96"/>
<ellipse cx="358.6" cy="115.8" rx="2.4" ry="1.7" transform="rotate(27 358.6 115.8)" fill="url(#gb)" opacity="0.77"/>
<ellipse cx="511.4" cy="123.8" rx="2.5" ry="1.8" transform="rotate(20 511.4 123.8)" fill="url(#gb)" opacity="0.97"/>
<ellipse cx="411.4" cy="223.3" rx="2.7" ry="2.1" transform="rotate(51 411.4 223.3)" fill="url(#gb)" opacity="0.83"/>
<ellipse cx="309.5" cy="38.1" rx="2.7" ry="2.1" transform="rotate(36 309.5 38.1)" fill="url(#gb)" opacity="0.71"/>
<ellipse cx="498.2" cy="210.6" rx="2.4" ry="1.6" transform="rotate(47 498.2 210.6)" fill="url(#gb)" opacity="0.75"/>
<ellipse cx="326.9" cy="47.3" rx="2.9" ry="2.3" transform="rotate(28 326.9 47.3)" fill="url(#gb)" opacity="0.86"/>
<ellipse cx="454.3" cy="242.5" rx="3.0" ry="2.0" transform="rotate(37 454.3 242.5)" fill="url(#gcd)" opacity="0.77"/>
<ellipse cx="313.1" cy="245.0" rx="3.0" ry="2.3" transform="rotate(37 313.1 245.0)" fill="url(#gb)" opacity="0.93"/>
<ellipse cx="491.4" cy="154.9" rx="2.6" ry="2.1" transform="rotate(35 491.4 154.9)" fill="url(#gb)" opacity="0.85"/>
<ellipse cx="371.6" cy="25.0" rx="2.7" ry="2.1" transform="rotate(34 371.6 25.0)" fill="url(#gb)" opacity="0.98"/>
<ellipse cx="272.1" cy="248.3" rx="3.1" ry="2.7" transform="rotate(25 272.1 248.3)" fill="url(#gb)" opacity="0.87"/>
<ellipse cx="324.0" cy="181.2" rx="3.0" ry="2.1" transform="rotate(20 324.0 181.2)" fill="url(#gcd)" opacity="0.83"/>
<ellipse cx="328.8" cy="212.2" rx="2.4" ry="1.7" transform="rotate(42 328.8 212.2)" fill="url(#gb)" opacity="0.94"/>
<ellipse cx="417.1" cy="74.3" rx="2.4" ry="1.9" transform="rotate(41 417.1 74.3)" fill="url(#gb)" opacity="0.74"/>
<ellipse cx="279.9" cy="57.4" rx="3.2" ry="2.2" transform="rotate(53 279.9 57.4)" fill="url(#gb)" opacity="0.82"/>
<ellipse cx="421.7" cy="70.9" rx="3.2" ry="2.7" transform="rotate(21 421.7 70.9)" fill="url(#gb)" opacity="0.83"/>
<ellipse cx="500.5" cy="51.0" rx="2.5" ry="1.8" transform="rotate(28 500.5 51.0)" fill="url(#gcd)" opacity="0.92"/>
<ellipse cx="266.3" cy="68.0" rx="2.8" ry="2.1" transform="rotate(16 266.3 68.0)" fill="url(#gb)" opacity="0.80"/>
<ellipse cx="377.9" cy="13.7" rx="2.7" ry="1.8" transform="rotate(54 377.9 13.7)" fill="url(#gb)" opacity="0.94"/>
<ellipse cx="307.8" cy="93.9" rx="2.3" ry="1.7" transform="rotate(17 307.8 93.9)" fill="url(#gcd)" opacity="0.93"/>
<ellipse cx="410.8" cy="32.2" rx="2.3" ry="1.8" transform="rotate(51 410.8 32.2)" fill="url(#gcd)" opacity="0.95"/>
<ellipse cx="356.2" cy="229.6" rx="2.3" ry="2.0" transform="rotate(38 356.2 229.6)" fill="url(#gcd)" opacity="0.91"/>
<ellipse cx="516.9" cy="168.8" rx="2.3" ry="1.8" transform="rotate(32 516.9 168.8)" fill="url(#gb)" opacity="0.72"/>
<ellipse cx="441.7" cy="150.0" rx="2.8" ry="2.4" transform="rotate(18 441.7 150.0)" fill="url(#gcd)" opacity="0.96"/>
<ellipse cx="298.5" cy="7.1" rx="3.1" ry="2.3" transform="rotate(29 298.5 7.1)" fill="url(#gb)" opacity="0.87"/>
<ellipse cx="266.7" cy="234.7" rx="2.5" ry="1.7" transform="rotate(36 266.7 234.7)" fill="url(#gcd)" opacity="0.77"/>
<ellipse cx="444.3" cy="248.3" rx="2.4" ry="1.6" transform="rotate(23 444.3 248.3)" fill="url(#gb)" opacity="0.79"/>
<ellipse cx="267.5" cy="163.4" rx="3.0" ry="2.1" transform="rotate(35 267.5 163.4)" fill="url(#gb)" opacity="0.75"/>
<ellipse cx="387.4" cy="187.9" rx="2.2" ry="1.6" transform="rotate(16 387.4 187.9)" fill="url(#gb)" opacity="0.92"/>
<ellipse cx="344.9" cy="257.8" rx="2.4" ry="1.8" transform="rotate(52 344.9 257.8)" fill="url(#gb)" opacity="0.73"/>
<ellipse cx="281.6" cy="140.0" rx="2.6" ry="2.0" transform="rotate(48 281.6 140.0)" fill="url(#gb)" opacity="0.82"/>
<ellipse cx="453.6" cy="232.1" rx="2.9" ry="2.5" transform="rotate(29 453.6 232.1)" fill="url(#gb)" opacity="0.95"/>
<ellipse cx="453.6" cy="181.0" rx="2.8" ry="2.1" transform="rotate(29 453.6 181.0)" fill="url(#gcd)" opacity="0.72"/>
<ellipse cx="468.2" cy="235.9" rx="2.3" ry="1.9" transform="rotate(25 468.2 235.9)" fill="url(#gcd)" opacity="0.75"/>
<ellipse cx="353.5" cy="176.1" rx="3.0" ry="2.6" transform="rotate(42 353.5 176.1)" fill="url(#gcd)" opacity="0.78"/>
<ellipse cx="496.2" cy="224.5" rx="2.5" ry="1.9" transform="rotate(21 496.2 224.5)" fill="url(#gcd)" opacity="0.83"/>
<ellipse cx="370.5" cy="203.5" rx="3.2" ry="2.8" transform="rotate(37 370.5 203.5)" fill="url(#gb)" opacity="0.77"/>
<ellipse cx="486.5" cy="146.9" rx="2.5" ry="1.9" transform="rotate(15 486.5 146.9)" fill="url(#gb)" opacity="0.81"/>
<ellipse cx="424.5" cy="97.4" rx="2.7" ry="1.9" transform="rotate(35 424.5 97.4)" fill="url(#gcd)" opacity="0.70"/>
<ellipse cx="413.5" cy="156.3" rx="2.3" ry="1.7" transform="rotate(17 413.5 156.3)" fill="url(#gb)" opacity="0.71"/>
<ellipse cx="520.3" cy="226.7" rx="2.4" ry="1.9" transform="rotate(36 520.3 226.7)" fill="url(#gb)" opacity="0.93"/>
<ellipse cx="451.3" cy="99.0" rx="2.9" ry="2.5" transform="rotate(31 451.3 99.0)" fill="url(#gb)" opacity="0.80"/>
<ellipse cx="453.1" cy="149.0" rx="2.3" ry="1.9" transform="rotate(41 453.1 149.0)" fill="url(#gb)" opacity="0.71"/>
<ellipse cx="283.8" cy="193.1" rx="3.1" ry="2.5" transform="rotate(44 283.8 193.1)" fill="url(#gcd)" opacity="0.94"/>
<ellipse cx="269.7" cy="154.3" rx="2.7" ry="2.1" transform="rotate(48 269.7 154.3)" fill="url(#gb)" opacity="0.94"/>
<ellipse cx="387.0" cy="57.9" rx="2.8" ry="2.4" transform="rotate(42 387.0 57.9)" fill="url(#gcd)" opacity="0.91"/>
<ellipse cx="443.6" cy="127.3" rx="2.2" ry="1.5" transform="rotate(29 443.6 127.3)" fill="url(#gb)" opacity="0.73"/>
<ellipse cx="421.8" cy="237.3" rx="2.8" ry="2.2" transform="rotate(40 421.8 237.3)" fill="url(#gb)" opacity="0.90"/>
<ellipse cx="328.5" cy="0.9" rx="2.2" ry="1.8" transform="rotate(45 328.5 0.9)" fill="url(#gb)" opacity="0.85"/>
<ellipse cx="340.3" cy="174.3" rx="2.9" ry="1.9" transform="rotate(44 340.3 174.3)" fill="url(#gcd)" opacity="0.78"/>
<ellipse cx="314.7" cy="42.1" rx="2.5" ry="2.0" transform="rotate(23 314.7 42.1)" fill="url(#gb)" opacity="0.92"/>
<ellipse cx="497.5" cy="169.6" rx="2.7" ry="2.0" transform="rotate(34 497.5 169.6)" fill="url(#gb)" opacity="0.91"/>
<ellipse cx="376.9" cy="229.8" rx="2.8" ry="2.3" transform="rotate(18 376.9 229.8)" fill="url(#gcd)" opacity="0.74"/>
<ellipse cx="347.0" cy="171.1" rx="2.9" ry="2.1" transform="rotate(38 347.0 171.1)" fill="url(#gcd)" opacity="0.70"/>
<ellipse cx="313.6" cy="110.0" rx="2.5" ry="2.0" transform="rotate(43 313.6 110.0)" fill="url(#gcd)" opacity="0.90"/>
<ellipse cx="490.9" cy="97.9" rx="2.7" ry="2.1" transform="rotate(34 490.9 97.9)" fill="url(#gb)" opacity="0.74"/>
<ellipse cx="413.6" cy="80.3" rx="2.4" ry="2.1" transform="rotate(52 413.6 80.3)" fill="url(#gb)" opacity="0.71"/>
<ellipse cx="297.4" cy="127.1" rx="3.0" ry="2.6" transform="rotate(33 297.4 127.1)" fill="url(#gcd)" opacity="0.78"/>
<ellipse cx="479.6" cy="218.7" rx="3.1" ry="2.2" transform="rotate(38 479.6 218.7)" fill="url(#gb)" opacity="0.74"/>
<ellipse cx="334.0" cy="42.0" rx="3.2" ry="2.2" transform="rotate(48 334.0 42.0)" fill="url(#gb)" opacity="0.85"/>
<ellipse cx="424.7" cy="126.4" rx="2.9" ry="2.1" transform="rotate(51 424.7 126.4)" fill="url(#gcd)" opacity="0.85"/>
<ellipse cx="344.0" cy="216.2" rx="2.2" ry="1.7" transform="rotate(33 344.0 216.2)" fill="url(#gcd)" opacity="0.79"/>
<ellipse cx="517.3" cy="115.6" rx="2.5" ry="1.9" transform="rotate(49 517.3 115.6)" fill="url(#gb)" opacity="0.70"/>
<ellipse cx="281.4" cy="6.2" rx="3.0" ry="2.1" transform="rotate(52 281.4 6.2)" fill="url(#gb)" opacity="0.91"/>
<ellipse cx="488.9" cy="8.8" rx="2.5" ry="1.8" transform="rotate(31 488.9 8.8)" fill="url(#gb)" opacity="1.00"/>
<ellipse cx="446.2" cy="146.4" rx="2.6" ry="1.9" transform="rotate(26 446.2 146.4)" fill="url(#gcd)" opacity="0.71"/>
<ellipse cx="342.3" cy="203.8" rx="3.0" ry="2.2" transform="rotate(52 342.3 203.8)" fill="url(#gcd)" opacity="0.77"/>
<ellipse cx="267.0" cy="33.3" rx="2.7" ry="1.9" transform="rotate(30 267.0 33.3)" fill="url(#gb)" opacity="0.99"/>
<ellipse cx="380.3" cy="4.4" rx="3.0" ry="2.4" transform="rotate(52 380.3 4.4)" fill="url(#gb)" opacity="0.98"/>
<ellipse cx="477.7" cy="59.7" rx="2.9" ry="2.0" transform="rotate(44 477.7 59.7)" fill="url(#gb)" opacity="0.84"/>
<ellipse cx="425.6" cy="114.1" rx="2.8" ry="2.1" transform="rotate(17 425.6 114.1)" fill="url(#gcd)" opacity="0.98"/>
<ellipse cx="425.8" cy="168.3" rx="2.7" ry="2.0" transform="rotate(27 425.8 168.3)" fill="url(#gb)" opacity="0.92"/>
<ellipse cx="471.9" cy="247.2" rx="2.5" ry="2.0" transform="rotate(27 471.9 247.2)" fill="url(#gb)" opacity="0.87"/>
<ellipse cx="440.0" cy="49.8" rx="2.4" ry="1.6" transform="rotate(23 440.0 49.8)" fill="url(#gb)" opacity="0.97"/>
<ellipse cx="385.5" cy="44.5" rx="2.4" ry="2.1" transform="rotate(55 385.5 44.5)" fill="url(#gcd)" opacity="0.83"/>
<ellipse cx="447.7" cy="44.6" rx="2.4" ry="1.6" transform="rotate(29 447.7 44.6)" fill="url(#gcd)" opacity="0.73"/>
<ellipse cx="332.8" cy="87.9" rx="2.5" ry="1.9" transform="rotate(50 332.8 87.9)" fill="url(#gb)" opacity="0.92"/>
<ellipse cx="443.3" cy="133.3" rx="2.6" ry="2.0" transform="rotate(30 443.3 133.3)" fill="url(#gcd)" opacity="0.80"/>
<ellipse cx="421.8" cy="194.6" rx="2.5" ry="2.2" transform="rotate(20 421.8 194.6)" fill="url(#gb)" opacity="0.85"/>
<ellipse cx="364.3" cy="203.9" rx="3.1" ry="2.2" transform="rotate(26 364.3 203.9)" fill="url(#gb)" opacity="0.77"/>
<ellipse cx="497.6" cy="20.7" rx="2.6" ry="2.3" transform="rotate(49 497.6 20.7)" fill="url(#gcd)" opacity="0.96"/>
<ellipse cx="504.5" cy="185.8" rx="2.2" ry="1.8" transform="rotate(51 504.5 185.8)" fill="url(#gb)" opacity="0.84"/>
<ellipse cx="295.8" cy="115.9" rx="2.2" ry="1.6" transform="rotate(52 295.8 115.9)" fill="url(#gb)" opacity="0.95"/>
<ellipse cx="360.0" cy="145.9" rx="3.2" ry="2.3" transform="rotate(19 360.0 145.9)" fill="url(#gb)" opacity="0.75"/>
<ellipse cx="490.6" cy="205.2" rx="2.9" ry="2.5" transform="rotate(44 490.6 205.2)" fill="url(#gb)" opacity="0.89"/>
<ellipse cx="431.3" cy="51.3" rx="2.7" ry="2.1" transform="rotate(17 431.3 51.3)" fill="url(#gcd)" opacity="0.93"/>
<ellipse cx="449.7" cy="210.8" rx="3.1" ry="2.5" transform="rotate(27 449.7 210.8)" fill="url(#gcd)" opacity="0.74"/>
<ellipse cx="428.8" cy="184.6" rx="2.8" ry="2.3" transform="rotate(19 428.8 184.6)" fill="url(#gb)" opacity="0.72"/>
<ellipse cx="317.5" cy="232.0" rx="2.8" ry="2.1" transform="rotate(24 317.5 232.0)" fill="url(#gcd)" opacity="0.88"/>
<ellipse cx="401.6" cy="203.6" rx="2.5" ry="1.9" transform="rotate(53 401.6 203.6)" fill="url(#gb)" opacity="0.89"/>
<ellipse cx="345.3" cy="234.6" rx="2.7" ry="1.9" transform="rotate(25 345.3 234.6)" fill="url(#gb)" opacity="0.99"/>
<ellipse cx="484.5" cy="88.6" rx="2.5" ry="1.7" transform="rotate(35 484.5 88.6)" fill="url(#gb)" opacity="0.90"/>
<ellipse cx="283.5" cy="112.6" rx="2.5" ry="2.0" transform="rotate(52 283.5 112.6)" fill="url(#gcd)" opacity="0.77"/>
<ellipse cx="405.1" cy="197.7" rx="2.5" ry="1.9" transform="rotate(42 405.1 197.7)" fill="url(#gb)" opacity="0.76"/>
<ellipse cx="388.7" cy="5.4" rx="2.9" ry="2.3" transform="rotate(23 388.7 5.4)" fill="url(#gb)" opacity="0.99"/>
<ellipse cx="472.4" cy="14.7" rx="3.0" ry="2.1" transform="rotate(24 472.4 14.7)" fill="url(#gcd)" opacity="0.93"/>
<ellipse cx="349.1" cy="202.9" rx="3.2" ry="2.4" transform="rotate(22 349.1 202.9)" fill="url(#gb)" opacity="0.77"/>
<ellipse cx="298.5" cy="36.7" rx="2.9" ry="2.5" transform="rotate(21 298.5 36.7)" fill="url(#gcd)" opacity="0.82"/>
<ellipse cx="396.3" cy="186.1" rx="3.2" ry="2.2" transform="rotate(17 396.3 186.1)" fill="url(#gb)" opacity="0.72"/>
<ellipse cx="508.8" cy="20.4" rx="3.1" ry="2.6" transform="rotate(44 508.8 20.4)" fill="url(#gb)" opacity="1.00"/>
<ellipse cx="319.6" cy="134.9" rx="2.5" ry="1.8" transform="rotate(52 319.6 134.9)" fill="url(#gcd)" opacity="0.92"/>
<ellipse cx="337.4" cy="187.5" rx="2.9" ry="2.1" transform="rotate(30 337.4 187.5)" fill="url(#gcd)" opacity="0.80"/>
<ellipse cx="428.1" cy="133.9" rx="2.2" ry="1.6" transform="rotate(29 428.1 133.9)" fill="url(#gcd)" opacity="0.99"/>
<ellipse cx="481.3" cy="143.6" rx="3.2" ry="2.2" transform="rotate(29 481.3 143.6)" fill="url(#gb)" opacity="0.95"/>
<ellipse cx="343.0" cy="97.1" rx="2.6" ry="1.8" transform="rotate(34 343.0 97.1)" fill="url(#gb)" opacity="0.81"/>
<ellipse cx="481.8" cy="232.1" rx="2.4" ry="1.8" transform="rotate(51 481.8 232.1)" fill="url(#gb)" opacity="0.71"/>
<ellipse cx="316.1" cy="219.2" rx="3.0" ry="2.5" transform="rotate(17 316.1 219.2)" fill="url(#gcd)" opacity="0.71"/>
<ellipse cx="513.8" cy="134.3" rx="3.1" ry="2.2" transform="rotate(45 513.8 134.3)" fill="url(#gb)" opacity="0.97"/>
<ellipse cx="411.0" cy="50.3" rx="2.5" ry="2.2" transform="rotate(40 411.0 50.3)" fill="url(#gb)" opacity="0.78"/>
<ellipse cx="401.3" cy="128.8" rx="2.5" ry="1.8" transform="rotate(15 401.3 128.8)" fill="url(#gb)" opacity="0.93"/>
<ellipse cx="419.4" cy="5.2" rx="2.8" ry="2.5" transform="rotate(16 419.4 5.2)" fill="url(#gb)" opacity="0.77"/>
<ellipse cx="408.3" cy="125.7" rx="3.2" ry="2.7" transform="rotate(30 408.3 125.7)" fill="url(#gb)" opacity="0.78"/>
<ellipse cx="441.7" cy="15.1" rx="2.7" ry="2.3" transform="rotate(22 441.7 15.1)" fill="url(#gb)" opacity="0.94"/>
<ellipse cx="402.1" cy="105.6" rx="3.0" ry="2.5" transform="rotate(39 402.1 105.6)" fill="url(#gb)" opacity="0.80"/>
<ellipse cx="510.8" cy="238.1" rx="2.6" ry="2.1" transform="rotate(18 510.8 238.1)" fill="url(#gb)" opacity="0.76"/>
<ellipse cx="332.0" cy="121.0" rx="2.4" ry="1.7" transform="rotate(16 332.0 121.0)" fill="url(#gb)" opacity="0.87"/>
<ellipse cx="474.1" cy="232.1" rx="3.2" ry="2.7" transform="rotate(55 474.1 232.1)" fill="url(#gcd)" opacity="0.78"/>
<ellipse cx="385.9" cy="80.5" rx="2.3" ry="1.8" transform="rotate(43 385.9 80.5)" fill="url(#gcd)" opacity="0.83"/>
<ellipse cx="311.8" cy="158.7" rx="2.6" ry="2.1" transform="rotate(42 311.8 158.7)" fill="url(#gb)" opacity="0.92"/>
<ellipse cx="502.6" cy="31.7" rx="2.9" ry="2.0" transform="rotate(49 502.6 31.7)" fill="url(#gb)" opacity="0.79"/>
<ellipse cx="464.6" cy="3.9" rx="2.6" ry="2.1" transform="rotate(23 464.6 3.9)" fill="url(#gcd)" opacity="0.77"/>
<ellipse cx="440.6" cy="81.7" rx="2.4" ry="2.0" transform="rotate(38 440.6 81.7)" fill="url(#gb)" opacity="0.80"/>
<ellipse cx="354.4" cy="159.1" rx="3.2" ry="2.5" transform="rotate(24 354.4 159.1)" fill="url(#gb)" opacity="0.94"/>
<ellipse cx="289.3" cy="188.0" rx="3.2" ry="2.2" transform="rotate(34 289.3 188.0)" fill="url(#gb)" opacity="0.95"/>
<ellipse cx="399.9" cy="111.6" rx="3.1" ry="2.1" transform="rotate(27 399.9 111.6)" fill="url(#gcd)" opacity="0.74"/>
<ellipse cx="359.7" cy="105.5" rx="3.2" ry="2.5" transform="rotate(52 359.7 105.5)" fill="url(#gb)" opacity="0.81"/>
<ellipse cx="399.6" cy="39.5" rx="2.6" ry="1.9" transform="rotate(46 399.6 39.5)" fill="url(#gcd)" opacity="0.98"/>
<ellipse cx="483.3" cy="157.0" rx="2.8" ry="2.2" transform="rotate(24 483.3 157.0)" fill="url(#gcd)" opacity="0.81"/>
<ellipse cx="484.8" cy="58.5" rx="2.4" ry="1.7" transform="rotate(39 484.8 58.5)" fill="url(#gcd)" opacity="0.90"/>
<ellipse cx="496.7" cy="80.1" rx="2.2" ry="1.6" transform="rotate(42 496.7 80.1)" fill="url(#gb)" opacity="0.76"/>
<ellipse cx="318.7" cy="257.6" rx="2.4" ry="2.0" transform="rotate(37 318.7 257.6)" fill="url(#gcd)" opacity="0.72"/>
<ellipse cx="492.8" cy="32.8" rx="2.6" ry="2.0" transform="rotate(41 492.8 32.8)" fill="url(#gcd)" opacity="0.73"/>
<ellipse cx="324.2" cy="186.9" rx="2.9" ry="2.2" transform="rotate(26 324.2 186.9)" fill="url(#gb)" opacity="0.79"/>
<ellipse cx="329.5" cy="23.2" rx="2.5" ry="2.0" transform="rotate(29 329.5 23.2)" fill="url(#gb)" opacity="0.82"/>
<ellipse cx="478.4" cy="107.6" rx="3.2" ry="2.4" transform="rotate(23 478.4 107.6)" fill="url(#gcd)" opacity="0.92"/>
<ellipse cx="467.4" cy="30.8" rx="2.2" ry="1.9" transform="rotate(32 467.4 30.8)" fill="url(#gb)" opacity="0.95"/>
<ellipse cx="366.7" cy="176.2" rx="3.1" ry="2.3" transform="rotate(22 366.7 176.2)" fill="url(#gb)" opacity="0.70"/>
<ellipse cx="439.4" cy="235.0" rx="2.8" ry="2.4" transform="rotate(19 439.4 235.0)" fill="url(#gb)" opacity="0.89"/>
<ellipse cx="513.8" cy="28.0" rx="2.7" ry="1.9" transform="rotate(26 513.8 28.0)" fill="url(#gb)" opacity="0.86"/>
<ellipse cx="393.5" cy="195.1" rx="2.3" ry="1.8" transform="rotate(47 393.5 195.1)" fill="url(#gcd)" opacity="0.99"/>
<ellipse cx="392.7" cy="176.3" rx="2.3" ry="2.0" transform="rotate(54 392.7 176.3)" fill="url(#gcd)" opacity="0.84"/>
<ellipse cx="311.1" cy="16.3" rx="3.1" ry="2.3" transform="rotate(51 311.1 16.3)" fill="url(#gb)" opacity="0.89"/>
<ellipse cx="289.6" cy="7.7" rx="2.4" ry="2.0" transform="rotate(24 289.6 7.7)" fill="url(#gb)" opacity="0.82"/>
<ellipse cx="310.0" cy="51.0" rx="3.0" ry="2.1" transform="rotate(24 310.0 51.0)" fill="url(#gb)" opacity="0.82"/>
<ellipse cx="480.5" cy="255.5" rx="2.6" ry="1.8" transform="rotate(25 480.5 255.5)" fill="url(#gb)" opacity="0.92"/>
<ellipse cx="503.0" cy="22.8" rx="2.2" ry="1.8" transform="rotate(45 503.0 22.8)" fill="url(#gb)" opacity="0.71"/>
<ellipse cx="278.1" cy="245.4" rx="2.3" ry="1.8" transform="rotate(37 278.1 245.4)" fill="url(#gb)" opacity="0.89"/>
<ellipse cx="382.1" cy="196.8" rx="2.6" ry="2.1" transform="rotate(32 382.1 196.8)" fill="url(#gb)" opacity="0.90"/>
<ellipse cx="347.0" cy="119.4" rx="2.6" ry="1.8" transform="rotate(40 347.0 119.4)" fill="url(#gcd)" opacity="0.85"/>
<ellipse cx="444.3" cy="217.5" rx="3.0" ry="2.5" transform="rotate(33 444.3 217.5)" fill="url(#gb)" opacity="0.75"/>
<ellipse cx="309.1" cy="116.0" rx="2.3" ry="1.6" transform="rotate(32 309.1 116.0)" fill="url(#gb)" opacity="0.73"/>
<ellipse cx="395.3" cy="2.0" rx="2.7" ry="1.8" transform="rotate(40 395.3 2.0)" fill="url(#gb)" opacity="0.72"/>
<ellipse cx="425.6" cy="103.2" rx="3.0" ry="2.3" transform="rotate(17 425.6 103.2)" fill="url(#gb)" opacity="0.85"/>
<ellipse cx="417.9" cy="129.1" rx="3.2" ry="2.2" transform="rotate(49 417.9 129.1)" fill="url(#gb)" opacity="1.00"/>
<ellipse cx="329.1" cy="234.9" rx="3.0" ry="2.1" transform="rotate(54 329.1 234.9)" fill="url(#gb)" opacity="0.85"/>
<ellipse cx="455.6" cy="200.3" rx="3.1" ry="2.2" transform="rotate(47 455.6 200.3)" fill="url(#gcd)" opacity="0.98"/>
<ellipse cx="473.8" cy="103.5" rx="2.6" ry="2.1" transform="rotate(21 473.8 103.5)" fill="url(#gcd)" opacity="0.97"/>
<ellipse cx="442.6" cy="197.5" rx="3.0" ry="2.1" transform="rotate(35 442.6 197.5)" fill="url(#gcd)" opacity="0.98"/>
<ellipse cx="449.9" cy="16.3" rx="2.5" ry="1.9" transform="rotate(28 449.9 16.3)" fill="url(#gcd)" opacity="0.71"/>
<ellipse cx="264.8" cy="90.5" rx="2.4" ry="2.0" transform="rotate(42 264.8 90.5)" fill="url(#gcd)" opacity="0.97"/>
<ellipse cx="322.3" cy="243.6" rx="3.0" ry="2.0" transform="rotate(36 322.3 243.6)" fill="url(#gb)" opacity="0.89"/>
<ellipse cx="435.2" cy="85.8" rx="3.1" ry="2.4" transform="rotate(38 435.2 85.8)" fill="url(#gcd)" opacity="0.96"/>
<ellipse cx="433.5" cy="146.1" rx="3.2" ry="2.5" transform="rotate(31 433.5 146.1)" fill="url(#gcd)" opacity="0.94"/>
<ellipse cx="400.6" cy="99.3" rx="3.2" ry="2.5" transform="rotate(29 400.6 99.3)" fill="url(#gb)" opacity="0.93"/>
<ellipse cx="522.0" cy="165.0" rx="2.4" ry="2.0" transform="rotate(17 522.0 165.0)" fill="url(#gcd)" opacity="0.95"/>
<ellipse cx="516.8" cy="3.9" rx="2.8" ry="2.5" transform="rotate(38 516.8 3.9)" fill="url(#gb)" opacity="0.90"/>
<ellipse cx="328.7" cy="102.4" rx="2.2" ry="1.5" transform="rotate(21 328.7 102.4)" fill="url(#gb)" opacity="0.88"/>
<ellipse cx="275.1" cy="48.8" rx="2.7" ry="2.3" transform="rotate(20 275.1 48.8)" fill="url(#gb)" opacity="0.77"/>
<ellipse cx="359.7" cy="23.6" rx="2.2" ry="1.5" transform="rotate(29 359.7 23.6)" fill="url(#gb)" opacity="0.73"/>
<ellipse cx="513.5" cy="145.7" rx="2.4" ry="1.9" transform="rotate(39 513.5 145.7)" fill="url(#gb)" opacity="0.76"/>
<ellipse cx="273.7" cy="239.8" rx="2.7" ry="1.8" transform="rotate(52 273.7 239.8)" fill="url(#gcd)" opacity="0.77"/>
<ellipse cx="303.6" cy="120.7" rx="2.3" ry="1.8" transform="rotate(50 303.6 120.7)" fill="url(#gb)" opacity="0.93"/>
<ellipse cx="306.0" cy="126.8" rx="2.5" ry="1.6" transform="rotate(41 306.0 126.8)" fill="url(#gb)" opacity="0.87"/>
<ellipse cx="420.9" cy="13.2" rx="2.8" ry="2.2" transform="rotate(52 420.9 13.2)" fill="url(#gcd)" opacity="0.92"/>
<ellipse cx="507.8" cy="107.4" rx="3.1" ry="2.1" transform="rotate(36 507.8 107.4)" fill="url(#gcd)" opacity="0.82"/>
<ellipse cx="357.0" cy="72.3" rx="2.3" ry="1.9" transform="rotate(15 357.0 72.3)" fill="url(#gb)" opacity="0.87"/>
<ellipse cx="339.0" cy="1.6" rx="2.3" ry="1.6" transform="rotate(39 339.0 1.6)" fill="url(#gb)" opacity="0.85"/>
<ellipse cx="325.7" cy="9.1" rx="3.0" ry="2.1" transform="rotate(27 325.7 9.1)" fill="url(#gcd)" opacity="0.79"/>
<ellipse cx="302.7" cy="194.2" rx="3.1" ry="2.6" transform="rotate(44 302.7 194.2)" fill="url(#gb)" opacity="0.70"/>
<ellipse cx="363.4" cy="231.4" rx="2.9" ry="2.2" transform="rotate(45 363.4 231.4)" fill="url(#gcd)" opacity="0.84"/>
<ellipse cx="456.6" cy="11.0" rx="2.3" ry="1.6" transform="rotate(17 456.6 11.0)" fill="url(#gb)" opacity="0.80"/>
<ellipse cx="281.1" cy="233.4" rx="2.9" ry="2.4" transform="rotate(43 281.1 233.4)" fill="url(#gb)" opacity="0.78"/>
<ellipse cx="373.7" cy="122.2" rx="2.6" ry="2.2" transform="rotate(36 373.7 122.2)" fill="url(#gb)" opacity="0.78"/>
<ellipse cx="515.0" cy="61.4" rx="3.2" ry="2.2" transform="rotate(50 515.0 61.4)" fill="url(#gcd)" opacity="0.70"/>
<ellipse cx="398.1" cy="241.7" rx="2.4" ry="2.0" transform="rotate(53 398.1 241.7)" fill="url(#gb)" opacity="0.92"/>
<ellipse cx="449.9" cy="119.8" rx="3.1" ry="2.3" transform="rotate(25 449.9 119.8)" fill="url(#gb)" opacity="0.97"/>
<ellipse cx="418.9" cy="27.9" rx="2.9" ry="2.3" transform="rotate(54 418.9 27.9)" fill="url(#gb)" opacity="0.84"/>
<ellipse cx="315.0" cy="11.5" rx="2.9" ry="2.5" transform="rotate(32 315.0 11.5)" fill="url(#gb)" opacity="0.92"/>
<ellipse cx="399.3" cy="30.3" rx="2.5" ry="1.8" transform="rotate(40 399.3 30.3)" fill="url(#gb)" opacity="0.72"/>
<ellipse cx="377.1" cy="171.7" rx="2.3" ry="1.6" transform="rotate(19 377.1 171.7)" fill="url(#gb)" opacity="0.98"/>
<ellipse cx="413.4" cy="107.1" rx="2.3" ry="1.6" transform="rotate(17 413.4 107.1)" fill="url(#gb)" opacity="0.91"/>
<ellipse cx="464.3" cy="136.0" rx="2.9" ry="2.4" transform="rotate(18 464.3 136.0)" fill="url(#gb)" opacity="0.88"/>
<ellipse cx="452.9" cy="60.0" rx="3.0" ry="2.5" transform="rotate(51 452.9 60.0)" fill="url(#gb)" opacity="0.72"/>
<ellipse cx="291.6" cy="230.1" rx="3.1" ry="2.7" transform="rotate(19 291.6 230.1)" fill="url(#gcd)" opacity="0.76"/>
<ellipse cx="465.9" cy="160.5" rx="2.2" ry="1.9" transform="rotate(47 465.9 160.5)" fill="url(#gb)" opacity="0.89"/>
<ellipse cx="415.8" cy="162.6" rx="2.8" ry="2.0" transform="rotate(19 415.8 162.6)" fill="url(#gb)" opacity="0.73"/>
<ellipse cx="457.9" cy="47.4" rx="2.4" ry="1.8" transform="rotate(32 457.9 47.4)" fill="url(#gcd)" opacity="0.71"/>
<ellipse cx="326.7" cy="252.7" rx="2.5" ry="2.0" transform="rotate(30 326.7 252.7)" fill="url(#gb)" opacity="0.80"/>
<ellipse cx="272.3" cy="13.8" rx="2.7" ry="2.3" transform="rotate(40 272.3 13.8)" fill="url(#gb)" opacity="0.71"/>
<ellipse cx="332.4" cy="108.6" rx="2.6" ry="2.2" transform="rotate(29 332.4 108.6)" fill="url(#gb)" opacity="0.91"/>
<ellipse cx="424.1" cy="24.6" rx="2.4" ry="2.1" transform="rotate(19 424.1 24.6)" fill="url(#gcd)" opacity="0.95"/>
<ellipse cx="284.5" cy="173.8" rx="2.2" ry="1.6" transform="rotate(45 284.5 173.8)" fill="url(#gcd)" opacity="0.99"/>
<ellipse cx="405.2" cy="162.1" rx="2.7" ry="2.1" transform="rotate(47 405.2 162.1)" fill="url(#gb)" opacity="0.76"/>
<ellipse cx="359.0" cy="122.4" rx="2.5" ry="2.1" transform="rotate(25 359.0 122.4)" fill="url(#gcd)" opacity="0.98"/>
<ellipse cx="316.8" cy="87.4" rx="2.4" ry="2.0" transform="rotate(35 316.8 87.4)" fill="url(#gb)" opacity="0.73"/>
<ellipse cx="455.7" cy="216.0" rx="2.3" ry="1.9" transform="rotate(43 455.7 216.0)" fill="url(#gb)" opacity="0.94"/>
<ellipse cx="281.3" cy="29.1" rx="2.6" ry="1.9" transform="rotate(31 281.3 29.1)" fill="url(#gcd)" opacity="0.97"/>
<ellipse cx="472.4" cy="160.2" rx="3.1" ry="2.1" transform="rotate(23 472.4 160.2)" fill="url(#gb)" opacity="0.78"/>
<ellipse cx="461.9" cy="53.4" rx="2.7" ry="2.0" transform="rotate(50 461.9 53.4)" fill="url(#gb)" opacity="0.77"/>
<ellipse cx="372.3" cy="65.1" rx="2.7" ry="2.3" transform="rotate(45 372.3 65.1)" fill="url(#gb)" opacity="0.89"/>
<ellipse cx="472.6" cy="93.9" rx="2.5" ry="1.8" transform="rotate(49 472.6 93.9)" fill="url(#gb)" opacity="0.90"/>
<ellipse cx="432.0" cy="255.2" rx="2.4" ry="1.8" transform="rotate(46 432.0 255.2)" fill="url(#gcd)" opacity="0.87"/>
<ellipse cx="346.6" cy="140.6" rx="2.7" ry="2.3" transform="rotate(25 346.6 140.6)" fill="url(#gb)" opacity="0.76"/>
<ellipse cx="373.2" cy="94.0" rx="2.9" ry="2.5" transform="rotate(21 373.2 94.0)" fill="url(#gcd)" opacity="0.75"/>
<ellipse cx="287.2" cy="225.5" rx="2.5" ry="2.0" transform="rotate(21 287.2 225.5)" fill="url(#gcd)" opacity="0.80"/>
<ellipse cx="282.4" cy="19.6" rx="3.2" ry="2.6" transform="rotate(19 282.4 19.6)" fill="url(#gcd)" opacity="0.99"/>
<ellipse cx="440.2" cy="75.7" rx="2.6" ry="2.3" transform="rotate(47 440.2 75.7)" fill="url(#gb)" opacity="0.92"/>
<ellipse cx="463.6" cy="17.8" rx="2.4" ry="1.9" transform="rotate(19 463.6 17.8)" fill="url(#gb)" opacity="0.76"/>
<ellipse cx="317.4" cy="170.1" rx="2.2" ry="1.7" transform="rotate(47 317.4 170.1)" fill="url(#gb)" opacity="0.91"/>
<ellipse cx="335.6" cy="35.2" rx="2.8" ry="2.2" transform="rotate(21 335.6 35.2)" fill="url(#gb)" opacity="0.88"/>
<ellipse cx="355.0" cy="186.8" rx="2.9" ry="2.5" transform="rotate(32 355.0 186.8)" fill="url(#gb)" opacity="0.87"/>
<ellipse cx="500.8" cy="242.4" rx="2.6" ry="1.9" transform="rotate(44 500.8 242.4)" fill="url(#gb)" opacity="0.96"/>
<ellipse cx="499.5" cy="111.9" rx="2.9" ry="2.5" transform="rotate(42 499.5 111.9)" fill="url(#gb)" opacity="0.89"/>
<ellipse cx="470.8" cy="77.2" rx="2.5" ry="2.0" transform="rotate(19 470.8 77.2)" fill="url(#gb)" opacity="0.83"/>
<ellipse cx="505.0" cy="230.6" rx="2.9" ry="2.3" transform="rotate(25 505.0 230.6)" fill="url(#gb)" opacity="0.83"/>
<ellipse cx="326.6" cy="92.0" rx="2.8" ry="2.1" transform="rotate(42 326.6 92.0)" fill="url(#gcd)" opacity="0.98"/>
<ellipse cx="357.0" cy="92.5" rx="2.9" ry="2.4" transform="rotate(31 357.0 92.5)" fill="url(#gb)" opacity="0.85"/>
<ellipse cx="364.9" cy="98.8" rx="2.2" ry="1.7" transform="rotate(21 364.9 98.8)" fill="url(#gb)" opacity="0.93"/>
<ellipse cx="312.7" cy="144.6" rx="2.7" ry="1.9" transform="rotate(38 312.7 144.6)" fill="url(#gb)" opacity="0.86"/>
<ellipse cx="491.0" cy="71.2" rx="2.7" ry="2.2" transform="rotate(48 491.0 71.2)" fill="url(#gb)" opacity="0.86"/>
<ellipse cx="267.8" cy="132.1" rx="3.1" ry="2.2" transform="rotate(42 267.8 132.1)" fill="url(#gb)" opacity="0.82"/>
<ellipse cx="403.5" cy="145.5" rx="2.3" ry="2.0" transform="rotate(29 403.5 145.5)" fill="url(#gcd)" opacity="0.72"/>
<ellipse cx="430.7" cy="61.8" rx="2.6" ry="1.7" transform="rotate(32 430.7 61.8)" fill="url(#gb)" opacity="0.83"/>
<ellipse cx="319.3" cy="197.0" rx="2.6" ry="1.8" transform="rotate(24 319.3 197.0)" fill="url(#gb)" opacity="0.92"/>
<ellipse cx="364.5" cy="85.8" rx="2.7" ry="1.9" transform="rotate(47 364.5 85.8)" fill="url(#gcd)" opacity="0.82"/>
<ellipse cx="390.4" cy="137.7" rx="2.3" ry="1.9" transform="rotate(47 390.4 137.7)" fill="url(#gb)" opacity="0.89"/>
<ellipse cx="499.9" cy="104.8" rx="2.8" ry="2.0" transform="rotate(54 499.9 104.8)" fill="url(#gb)" opacity="0.81"/>
<ellipse cx="476.8" cy="171.4" rx="3.0" ry="2.5" transform="rotate(34 476.8 171.4)" fill="url(#gb)" opacity="0.79"/>
<ellipse cx="483.9" cy="207.5" rx="2.3" ry="2.0" transform="rotate(29 483.9 207.5)" fill="url(#gcd)" opacity="0.96"/>
<ellipse cx="511.0" cy="164.5" rx="2.6" ry="1.8" transform="rotate(32 511.0 164.5)" fill="url(#gcd)" opacity="0.76"/>
<ellipse cx="371.3" cy="36.0" rx="2.9" ry="2.1" transform="rotate(25 371.3 36.0)" fill="url(#gb)" opacity="0.79"/>
<ellipse cx="454.7" cy="255.7" rx="2.6" ry="2.1" transform="rotate(41 454.7 255.7)" fill="url(#gb)" opacity="0.81"/>
<ellipse cx="359.6" cy="41.6" rx="3.1" ry="2.1" transform="rotate(48 359.6 41.6)" fill="url(#gb)" opacity="0.97"/>
<ellipse cx="337.9" cy="250.1" rx="2.3" ry="2.0" transform="rotate(40 337.9 250.1)" fill="url(#gcd)" opacity="0.70"/>
<ellipse cx="277.4" cy="78.2" rx="3.2" ry="2.5" transform="rotate(25 277.4 78.2)" fill="url(#gcd)" opacity="0.73"/>
<ellipse cx="278.2" cy="117.3" rx="2.4" ry="2.0" transform="rotate(29 278.2 117.3)" fill="url(#gb)" opacity="0.75"/>
<ellipse cx="413.9" cy="234.4" rx="3.0" ry="2.1" transform="rotate(51 413.9 234.4)" fill="url(#gb)" opacity="0.88"/>
<ellipse cx="271.5" cy="26.3" rx="2.9" ry="2.5" transform="rotate(47 271.5 26.3)" fill="url(#gcd)" opacity="0.95"/>
<ellipse cx="416.6" cy="56.2" rx="2.9" ry="2.2" transform="rotate(45 416.6 56.2)" fill="url(#gb)" opacity="0.83"/>
<ellipse cx="310.1" cy="71.1" rx="2.8" ry="2.0" transform="rotate(24 310.1 71.1)" fill="url(#gb)" opacity="0.74"/>
<ellipse cx="474.5" cy="122.7" rx="2.3" ry="1.7" transform="rotate(21 474.5 122.7)" fill="url(#gb)" opacity="0.85"/>
<ellipse cx="329.7" cy="228.7" rx="2.7" ry="2.3" transform="rotate(15 329.7 228.7)" fill="url(#gb)" opacity="0.95"/>
<ellipse cx="499.7" cy="86.9" rx="2.8" ry="2.2" transform="rotate(49 499.7 86.9)" fill="url(#gb)" opacity="0.81"/>
<ellipse cx="404.3" cy="246.8" rx="3.2" ry="2.1" transform="rotate(40 404.3 246.8)" fill="url(#gcd)" opacity="0.89"/>
<ellipse cx="333.4" cy="255.5" rx="2.8" ry="2.3" transform="rotate(52 333.4 255.5)" fill="url(#gb)" opacity="0.80"/>
<ellipse cx="358.6" cy="205.2" rx="2.7" ry="2.1" transform="rotate(51 358.6 205.2)" fill="url(#gb)" opacity="0.71"/>
<ellipse cx="447.5" cy="155.6" rx="2.8" ry="2.1" transform="rotate(49 447.5 155.6)" fill="url(#gb)" opacity="0.81"/>
<ellipse cx="345.7" cy="65.5" rx="2.7" ry="2.3" transform="rotate(23 345.7 65.5)" fill="url(#gb)" opacity="0.83"/>
<ellipse cx="488.0" cy="132.2" rx="2.8" ry="2.3" transform="rotate(27 488.0 132.2)" fill="url(#gb)" opacity="0.95"/>
<ellipse cx="331.3" cy="137.0" rx="2.7" ry="1.9" transform="rotate(35 331.3 137.0)" fill="url(#gb)" opacity="0.99"/>
<ellipse cx="262.4" cy="211.6" rx="3.0" ry="2.2" transform="rotate(28 262.4 211.6)" fill="url(#gb)" opacity="0.79"/>
<ellipse cx="283.4" cy="68.2" rx="2.8" ry="2.4" transform="rotate(17 283.4 68.2)" fill="url(#gb)" opacity="0.92"/>
<ellipse cx="448.3" cy="23.3" rx="2.7" ry="1.8" transform="rotate(27 448.3 23.3)" fill="url(#gcd)" opacity="0.70"/>
<ellipse cx="386.8" cy="119.9" rx="3.1" ry="2.5" transform="rotate(41 386.8 119.9)" fill="url(#gb)" opacity="0.94"/>
<ellipse cx="510.4" cy="150.5" rx="2.8" ry="2.2" transform="rotate(40 510.4 150.5)" fill="url(#gb)" opacity="0.91"/>
<ellipse cx="484.9" cy="76.9" rx="2.9" ry="2.0" transform="rotate(42 484.9 76.9)" fill="url(#gb)" opacity="0.84"/>
<ellipse cx="467.2" cy="106.4" rx="2.3" ry="1.6" transform="rotate(16 467.2 106.4)" fill="url(#gb)" opacity="0.93"/>
<ellipse cx="476.8" cy="52.2" rx="2.9" ry="2.1" transform="rotate(48 476.8 52.2)" fill="url(#gb)" opacity="0.94"/>
<ellipse cx="403.3" cy="134.7" rx="2.5" ry="1.8" transform="rotate(32 403.3 134.7)" fill="url(#gb)" opacity="0.80"/>
<ellipse cx="303.0" cy="214.3" rx="2.8" ry="2.5" transform="rotate(17 303.0 214.3)" fill="url(#gcd)" opacity="0.87"/>
<ellipse cx="343.0" cy="78.8" rx="2.3" ry="1.9" transform="rotate(38 343.0 78.8)" fill="url(#gb)" opacity="0.98"/>
<ellipse cx="289.5" cy="100.5" rx="2.2" ry="1.6" transform="rotate(39 289.5 100.5)" fill="url(#gb)" opacity="0.98"/>
<ellipse cx="382.1" cy="249.4" rx="2.7" ry="2.0" transform="rotate(19 382.1 249.4)" fill="url(#gcd)" opacity="0.89"/>
<ellipse cx="446.6" cy="59.7" rx="2.4" ry="1.6" transform="rotate(15 446.6 59.7)" fill="url(#gcd)" opacity="0.91"/>
<ellipse cx="264.7" cy="255.8" rx="3.2" ry="2.2" transform="rotate(50 264.7 255.8)" fill="url(#gcd)" opacity="0.74"/>
<ellipse cx="469.9" cy="51.7" rx="2.9" ry="2.1" transform="rotate(44 469.9 51.7)" fill="url(#gcd)" opacity="0.76"/>
<ellipse cx="359.8" cy="138.3" rx="3.0" ry="2.4" transform="rotate(49 359.8 138.3)" fill="url(#gcd)" opacity="0.92"/>
<ellipse cx="339.5" cy="85.7" rx="2.8" ry="2.3" transform="rotate(33 339.5 85.7)" fill="url(#gcd)" opacity="0.98"/>
<ellipse cx="452.2" cy="83.6" rx="3.2" ry="2.6" transform="rotate(15 452.2 83.6)" fill="url(#gb)" opacity="0.70"/>
<ellipse cx="507.7" cy="144.3" rx="3.0" ry="2.0" transform="rotate(27 507.7 144.3)" fill="url(#gcd)" opacity="0.92"/>
<ellipse cx="477.0" cy="22.0" rx="3.1" ry="2.3" transform="rotate(17 477.0 22.0)" fill="url(#gb)" opacity="0.81"/>
<ellipse cx="298.6" cy="22.5" rx="2.6" ry="2.1" transform="rotate(21 298.6 22.5)" fill="url(#gb)" opacity="0.94"/>
<ellipse cx="438.2" cy="182.2" rx="2.8" ry="2.3" transform="rotate(32 438.2 182.2)" fill="url(#gb)" opacity="0.82"/>
<ellipse cx="308.8" cy="102.6" rx="3.1" ry="2.6" transform="rotate(38 308.8 102.6)" fill="url(#gcd)" opacity="0.79"/>
<ellipse cx="479.6" cy="152.1" rx="3.2" ry="2.6" transform="rotate(48 479.6 152.1)" fill="url(#gb)" opacity="0.80"/>
<ellipse cx="302.8" cy="30.3" rx="3.2" ry="2.7" transform="rotate(39 302.8 30.3)" fill="url(#gb)" opacity="0.79"/>
<ellipse cx="367.8" cy="16.9" rx="3.1" ry="2.3" transform="rotate(42 367.8 16.9)" fill="url(#gb)" opacity="0.88"/>
<ellipse cx="461.4" cy="211.5" rx="3.0" ry="2.2" transform="rotate(15 461.4 211.5)" fill="url(#gb)" opacity="0.78"/>
<ellipse cx="369.2" cy="2.0" rx="2.8" ry="2.3" transform="rotate(50 369.2 2.0)" fill="url(#gb)" opacity="0.71"/>
<ellipse cx="266.8" cy="84.1" rx="3.0" ry="2.6" transform="rotate(38 266.8 84.1)" fill="url(#gb)" opacity="0.78"/>
<ellipse cx="394.4" cy="203.0" rx="3.0" ry="2.4" transform="rotate(52 394.4 203.0)" fill="url(#gcd)" opacity="0.80"/>
<ellipse cx="496.8" cy="140.5" rx="2.8" ry="2.3" transform="rotate(23 496.8 140.5)" fill="url(#gb)" opacity="0.93"/>
<ellipse cx="353.7" cy="128.1" rx="2.4" ry="1.9" transform="rotate(42 353.7 128.1)" fill="url(#gcd)" opacity="0.84"/>
<ellipse cx="298.9" cy="183.5" rx="2.5" ry="2.0" transform="rotate(47 298.9 183.5)" fill="url(#gcd)" opacity="0.84"/>
<ellipse cx="425.0" cy="49.5" rx="3.0" ry="2.5" transform="rotate(24 425.0 49.5)" fill="url(#gb)" opacity="0.87"/>
<ellipse cx="411.9" cy="179.2" rx="3.1" ry="2.4" transform="rotate(34 411.9 179.2)" fill="url(#gcd)" opacity="0.88"/>
<ellipse cx="294.2" cy="251.1" rx="2.4" ry="1.7" transform="rotate(43 294.2 251.1)" fill="url(#gb)" opacity="0.81"/>
<ellipse cx="297.3" cy="233.1" rx="2.6" ry="2.0" transform="rotate(21 297.3 233.1)" fill="url(#gb)" opacity="0.71"/>
<ellipse cx="407.7" cy="66.7" rx="2.6" ry="1.8" transform="rotate(40 407.7 66.7)" fill="url(#gcd)" opacity="0.94"/>
<ellipse cx="498.4" cy="256.0" rx="2.8" ry="2.1" transform="rotate(36 498.4 256.0)" fill="url(#gcd)" opacity="0.71"/>
<ellipse cx="293.9" cy="212.4" rx="3.2" ry="2.7" transform="rotate(34 293.9 212.4)" fill="url(#gcd)" opacity="0.87"/>
<ellipse cx="324.6" cy="147.1" rx="3.0" ry="2.2" transform="rotate(53 324.6 147.1)" fill="url(#gb)" opacity="0.93"/>
<ellipse cx="478.0" cy="46.2" rx="3.2" ry="2.3" transform="rotate(17 478.0 46.2)" fill="url(#gcd)" opacity="0.76"/>
<ellipse cx="404.4" cy="17.8" rx="2.3" ry="1.5" transform="rotate(37 404.4 17.8)" fill="url(#gb)" opacity="0.96"/>
<ellipse cx="270.3" cy="44.8" rx="3.1" ry="2.7" transform="rotate(18 270.3 44.8)" fill="url(#gb)" opacity="0.88"/>
<ellipse cx="518.6" cy="242.3" rx="2.3" ry="2.0" transform="rotate(25 518.6 242.3)" fill="url(#gb)" opacity="0.87"/>
<ellipse cx="433.2" cy="78.0" rx="3.2" ry="2.5" transform="rotate(31 433.2 78.0)" fill="url(#gcd)" opacity="0.83"/>
<ellipse cx="436.5" cy="189.8" rx="3.2" ry="2.8" transform="rotate(24 436.5 189.8)" fill="url(#gcd)" opacity="0.71"/>
<ellipse cx="361.2" cy="151.9" rx="2.6" ry="2.2" transform="rotate(51 361.2 151.9)" fill="url(#gcd)" opacity="0.95"/>
<ellipse cx="471.0" cy="2.3" rx="3.0" ry="2.4" transform="rotate(41 471.0 2.3)" fill="url(#gcd)" opacity="1.00"/>
<ellipse cx="313.9" cy="119.7" rx="2.3" ry="1.9" transform="rotate(53 313.9 119.7)" fill="url(#gcd)" opacity="0.90"/>
<ellipse cx="299.2" cy="98.5" rx="2.8" ry="2.3" transform="rotate(19 299.2 98.5)" fill="url(#gcd)" opacity="0.80"/>
<ellipse cx="410.1" cy="43.2" rx="2.3" ry="1.8" transform="rotate(22 410.1 43.2)" fill="url(#gcd)" opacity="0.77"/>
<ellipse cx="397.1" cy="66.6" rx="2.9" ry="1.9" transform="rotate(44 397.1 66.6)" fill="url(#gcd)" opacity="0.76"/>
<ellipse cx="428.8" cy="7.8" rx="3.1" ry="2.2" transform="rotate(52 428.8 7.8)" fill="url(#gb)" opacity="0.96"/>
<ellipse cx="436.5" cy="35.6" rx="2.3" ry="1.8" transform="rotate(19 436.5 35.6)" fill="url(#gb)" opacity="0.98"/>
<ellipse cx="384.2" cy="105.0" rx="2.8" ry="2.1" transform="rotate(29 384.2 105.0)" fill="url(#gb)" opacity="0.95"/>
<ellipse cx="424.2" cy="177.2" rx="2.8" ry="2.0" transform="rotate(24 424.2 177.2)" fill="url(#gb)" opacity="0.72"/>
<ellipse cx="459.1" cy="193.4" rx="2.8" ry="1.9" transform="rotate(50 459.1 193.4)" fill="url(#gb)" opacity="0.78"/>
<ellipse cx="388.3" cy="256.6" rx="2.4" ry="1.7" transform="rotate(49 388.3 256.6)" fill="url(#gcd)" opacity="0.80"/>
<ellipse cx="368.3" cy="110.8" rx="2.7" ry="2.0" transform="rotate(51 368.3 110.8)" fill="url(#gb)" opacity="0.73"/>
<ellipse cx="345.4" cy="12.2" rx="2.3" ry="1.9" transform="rotate(42 345.4 12.2)" fill="url(#gb)" opacity="0.76"/>
<ellipse cx="457.5" cy="77.2" rx="2.5" ry="1.8" transform="rotate(23 457.5 77.2)" fill="url(#gb)" opacity="0.81"/>
<ellipse cx="392.7" cy="101.1" rx="3.2" ry="2.8" transform="rotate(19 392.7 101.1)" fill="url(#gb)" opacity="0.79"/>
<ellipse cx="275.5" cy="178.7" rx="2.3" ry="1.9" transform="rotate(27 275.5 178.7)" fill="url(#gcd)" opacity="0.99"/>
<ellipse cx="398.8" cy="60.2" rx="3.0" ry="2.2" transform="rotate(21 398.8 60.2)" fill="url(#gb)" opacity="0.70"/>
<ellipse cx="323.3" cy="15.8" rx="2.7" ry="1.9" transform="rotate(32 323.3 15.8)" fill="url(#gcd)" opacity="0.97"/>
<ellipse cx="498.9" cy="249.3" rx="2.8" ry="1.9" transform="rotate(22 498.9 249.3)" fill="url(#gb)" opacity="0.93"/>
<ellipse cx="435.1" cy="223.3" rx="2.4" ry="1.6" transform="rotate(18 435.1 223.3)" fill="url(#gb)" opacity="0.88"/>
<ellipse cx="294.2" cy="137.8" rx="2.5" ry="1.7" transform="rotate(39 294.2 137.8)" fill="url(#gb)" opacity="0.91"/>
<ellipse cx="509.3" cy="-1.9" rx="2.8" ry="2.0" transform="rotate(18 509.3 -1.9)" fill="url(#gb)" opacity="0.92"/>
<ellipse cx="325.4" cy="75.8" rx="2.9" ry="2.0" transform="rotate(47 325.4 75.8)" fill="url(#gb)" opacity="0.80"/>
<ellipse cx="414.2" cy="9.9" rx="3.1" ry="2.4" transform="rotate(16 414.2 9.9)" fill="url(#gb)" opacity="0.97"/>
<ellipse cx="342.0" cy="127.6" rx="3.1" ry="2.2" transform="rotate(22 342.0 127.6)" fill="url(#gb)" opacity="0.95"/>
<ellipse cx="504.8" cy="252.1" rx="2.4" ry="1.8" transform="rotate(39 504.8 252.1)" fill="url(#gb)" opacity="0.70"/>
<ellipse cx="384.9" cy="51.7" rx="2.6" ry="2.0" transform="rotate(20 384.9 51.7)" fill="url(#gb)" opacity="0.91"/>
<ellipse cx="338.8" cy="237.9" rx="3.1" ry="2.2" transform="rotate(43 338.8 237.9)" fill="url(#gb)" opacity="0.81"/>
<ellipse cx="495.2" cy="48.8" rx="2.3" ry="1.9" transform="rotate(53 495.2 48.8)" fill="url(#gb)" opacity="0.85"/>
<ellipse cx="490.7" cy="256.8" rx="2.7" ry="2.1" transform="rotate(16 490.7 256.8)" fill="url(#gcd)" opacity="0.99"/>
<ellipse cx="311.8" cy="226.8" rx="2.4" ry="1.6" transform="rotate(25 311.8 226.8)" fill="url(#gcd)" opacity="0.95"/>
<ellipse cx="447.4" cy="33.1" rx="2.3" ry="1.9" transform="rotate(23 447.4 33.1)" fill="url(#gb)" opacity="0.71"/>
<ellipse cx="442.9" cy="241.8" rx="2.8" ry="2.2" transform="rotate(43 442.9 241.8)" fill="url(#gb)" opacity="0.73"/>
<ellipse cx="320.0" cy="77.9" rx="2.9" ry="2.0" transform="rotate(20 320.0 77.9)" fill="url(#gb)" opacity="0.85"/>
<ellipse cx="434.8" cy="203.5" rx="2.5" ry="1.7" transform="rotate(31 434.8 203.5)" fill="url(#gb)" opacity="0.74"/>
<ellipse cx="358.9" cy="170.1" rx="3.1" ry="2.1" transform="rotate(38 358.9 170.1)" fill="url(#gcd)" opacity="0.92"/>
<ellipse cx="503.0" cy="171.4" rx="3.0" ry="2.6" transform="rotate(31 503.0 171.4)" fill="url(#gb)" opacity="0.83"/>
<ellipse cx="334.0" cy="164.4" rx="2.7" ry="2.0" transform="rotate(53 334.0 164.4)" fill="url(#gb)" opacity="0.93"/>
<ellipse cx="376.5" cy="135.4" rx="2.4" ry="1.8" transform="rotate(32 376.5 135.4)" fill="url(#gb)" opacity="0.99"/>
<ellipse cx="458.5" cy="61.9" rx="3.1" ry="2.6" transform="rotate(49 458.5 61.9)" fill="url(#gb)" opacity="0.72"/>
<ellipse cx="362.0" cy="239.6" rx="3.2" ry="2.7" transform="rotate(25 362.0 239.6)" fill="url(#gb)" opacity="0.83"/>
<ellipse cx="392.0" cy="44.8" rx="2.6" ry="2.0" transform="rotate(18 392.0 44.8)" fill="url(#gb)" opacity="0.83"/>
<ellipse cx="393.5" cy="217.8" rx="2.2" ry="1.5" transform="rotate(54 393.5 217.8)" fill="url(#gb)" opacity="0.93"/>
<ellipse cx="509.4" cy="43.2" rx="2.8" ry="2.4" transform="rotate(50 509.4 43.2)" fill="url(#gcd)" opacity="0.97"/>
<ellipse cx="376.5" cy="199.0" rx="2.8" ry="2.0" transform="rotate(42 376.5 199.0)" fill="url(#gb)" opacity="0.78"/>
<ellipse cx="466.5" cy="203.7" rx="3.1" ry="2.5" transform="rotate(25 466.5 203.7)" fill="url(#gb)" opacity="0.86"/>
<ellipse cx="323.3" cy="125.2" rx="3.2" ry="2.3" transform="rotate(27 323.3 125.2)" fill="url(#gcd)" opacity="0.89"/>
<ellipse cx="417.2" cy="183.8" rx="2.8" ry="2.4" transform="rotate(36 417.2 183.8)" fill="url(#gb)" opacity="0.78"/>
<ellipse cx="375.0" cy="112.8" rx="2.7" ry="1.9" transform="rotate(20 375.0 112.8)" fill="url(#gcd)" opacity="0.74"/>
<ellipse cx="330.4" cy="205.6" rx="2.6" ry="1.9" transform="rotate(25 330.4 205.6)" fill="url(#gb)" opacity="0.73"/>
<ellipse cx="409.9" cy="139.2" rx="3.0" ry="2.4" transform="rotate(38 409.9 139.2)" fill="url(#gcd)" opacity="0.90"/>
<ellipse cx="467.8" cy="59.9" rx="2.9" ry="2.2" transform="rotate(37 467.8 59.9)" fill="url(#gb)" opacity="0.88"/>
<ellipse cx="300.0" cy="78.9" rx="2.5" ry="1.8" transform="rotate(24 300.0 78.9)" fill="url(#gb)" opacity="0.85"/>
<ellipse cx="330.8" cy="151.1" rx="2.8" ry="1.8" transform="rotate(29 330.8 151.1)" fill="url(#gcd)" opacity="0.96"/>
<ellipse cx="306.6" cy="64.3" rx="2.8" ry="2.1" transform="rotate(26 306.6 64.3)" fill="url(#gcd)" opacity="1.00"/>
<ellipse cx="303.6" cy="177.6" rx="3.0" ry="2.1" transform="rotate(18 303.6 177.6)" fill="url(#gb)" opacity="0.96"/>
<ellipse cx="478.0" cy="202.5" rx="2.3" ry="1.7" transform="rotate(33 478.0 202.5)" fill="url(#gcd)" opacity="0.92"/>
<ellipse cx="277.9" cy="104.8" rx="2.4" ry="2.1" transform="rotate(45 277.9 104.8)" fill="url(#gb)" opacity="0.75"/>
<ellipse cx="356.7" cy="54.2" rx="2.6" ry="2.1" transform="rotate(40 356.7 54.2)" fill="url(#gb)" opacity="0.95"/>
<ellipse cx="518.4" cy="35.6" rx="2.7" ry="2.2" transform="rotate(45 518.4 35.6)" fill="url(#gb)" opacity="0.93"/>
<ellipse cx="272.2" cy="60.6" rx="3.0" ry="2.4" transform="rotate(52 272.2 60.6)" fill="url(#gb)" opacity="0.74"/>
<ellipse cx="364.2" cy="75.5" rx="2.2" ry="1.8" transform="rotate(38 364.2 75.5)" fill="url(#gb)" opacity="0.85"/>
<ellipse cx="270.9" cy="257.0" rx="2.8" ry="2.1" transform="rotate(46 270.9 257.0)" fill="url(#gb)" opacity="0.96"/>
<ellipse cx="321.8" cy="63.8" rx="2.6" ry="2.0" transform="rotate(33 321.8 63.8)" fill="url(#gcd)" opacity="0.92"/>
<ellipse cx="405.5" cy="60.8" rx="2.6" ry="2.0" transform="rotate(30 405.5 60.8)" fill="url(#gb)" opacity="0.80"/>
<ellipse cx="382.0" cy="240.4" rx="3.0" ry="2.3" transform="rotate(33 382.0 240.4)" fill="url(#gb)" opacity="0.76"/>
<ellipse cx="356.6" cy="85.6" rx="2.3" ry="1.8" transform="rotate(38 356.6 85.6)" fill="url(#gb)" opacity="0.73"/>
<ellipse cx="517.1" cy="156.8" rx="2.5" ry="2.1" transform="rotate(49 517.1 156.8)" fill="url(#gcd)" opacity="0.99"/>
<ellipse cx="272.3" cy="102.8" rx="2.6" ry="2.3" transform="rotate(15 272.3 102.8)" fill="url(#gb)" opacity="0.71"/>
<ellipse cx="430.9" cy="13.2" rx="2.7" ry="2.3" transform="rotate(46 430.9 13.2)" fill="url(#gb)" opacity="0.86"/>
<ellipse cx="492.5" cy="118.3" rx="2.7" ry="2.1" transform="rotate(42 492.5 118.3)" fill="url(#gb)" opacity="0.82"/>
<ellipse cx="364.2" cy="217.2" rx="2.8" ry="2.1" transform="rotate(53 364.2 217.2)" fill="url(#gb)" opacity="0.90"/>
<ellipse cx="342.2" cy="114.2" rx="2.3" ry="1.7" transform="rotate(31 342.2 114.2)" fill="url(#gb)" opacity="0.87"/>
<ellipse cx="520.3" cy="174.6" rx="3.1" ry="2.7" transform="rotate(34 520.3 174.6)" fill="url(#gb)" opacity="0.83"/>
<ellipse cx="486.3" cy="51.2" rx="3.2" ry="2.4" transform="rotate(36 486.3 51.2)" fill="url(#gcd)" opacity="0.94"/>
<ellipse cx="361.6" cy="16.9" rx="2.5" ry="2.2" transform="rotate(48 361.6 16.9)" fill="url(#gcd)" opacity="0.85"/>
<ellipse cx="441.8" cy="92.3" rx="3.1" ry="2.5" transform="rotate(48 441.8 92.3)" fill="url(#gb)" opacity="1.00"/>
<ellipse cx="448.0" cy="67.8" rx="2.6" ry="1.8" transform="rotate(27 448.0 67.8)" fill="url(#gb)" opacity="0.85"/>
<ellipse cx="505.5" cy="91.5" rx="2.4" ry="1.7" transform="rotate(40 505.5 91.5)" fill="url(#gb)" opacity="0.88"/>
<ellipse cx="461.1" cy="186.1" rx="3.2" ry="2.6" transform="rotate(17 461.1 186.1)" fill="url(#gb)" opacity="0.82"/>
<ellipse cx="497.8" cy="3.3" rx="2.5" ry="2.0" transform="rotate(15 497.8 3.3)" fill="url(#gb)" opacity="0.79"/>
<ellipse cx="364.4" cy="60.0" rx="2.8" ry="2.2" transform="rotate(23 364.4 60.0)" fill="url(#gb)" opacity="0.85"/>
<ellipse cx="272.6" cy="37.2" rx="2.5" ry="2.0" transform="rotate(36 272.6 37.2)" fill="url(#gb)" opacity="1.00"/>
<ellipse cx="343.2" cy="108.3" rx="2.6" ry="1.8" transform="rotate(21 343.2 108.3)" fill="url(#gcd)" opacity="0.93"/>
<ellipse cx="450.6" cy="171.2" rx="2.3" ry="1.6" transform="rotate(36 450.6 171.2)" fill="url(#gb)" opacity="0.95"/>
<ellipse cx="300.3" cy="51.2" rx="3.0" ry="2.0" transform="rotate(15 300.3 51.2)" fill="url(#gb)" opacity="0.93"/>
<ellipse cx="409.1" cy="208.3" rx="2.9" ry="2.2" transform="rotate(22 409.1 208.3)" fill="url(#gcd)" opacity="0.78"/>
<ellipse cx="515.7" cy="75.5" rx="3.1" ry="2.4" transform="rotate(29 515.7 75.5)" fill="url(#gb)" opacity="0.83"/>
<ellipse cx="318.2" cy="177.2" rx="2.3" ry="1.9" transform="rotate(38 318.2 177.2)" fill="url(#gb)" opacity="0.99"/>
<ellipse cx="435.3" cy="246.3" rx="2.8" ry="2.0" transform="rotate(17 435.3 246.3)" fill="url(#gb)" opacity="0.98"/>
<ellipse cx="373.2" cy="100.0" rx="2.5" ry="2.2" transform="rotate(48 373.2 100.0)" fill="url(#gb)" opacity="0.79"/>
<ellipse cx="277.6" cy="97.7" rx="3.2" ry="2.4" transform="rotate(53 277.6 97.7)" fill="url(#gb)" opacity="0.77"/>
<ellipse cx="366.6" cy="121.6" rx="2.9" ry="2.1" transform="rotate(27 366.6 121.6)" fill="url(#gb)" opacity="0.96"/>
<ellipse cx="305.3" cy="171.0" rx="3.0" ry="2.1" transform="rotate(22 305.3 171.0)" fill="url(#gcd)" opacity="0.81"/>
<ellipse cx="350.9" cy="107.8" rx="3.2" ry="2.3" transform="rotate(37 350.9 107.8)" fill="url(#gb)" opacity="0.73"/>
<ellipse cx="301.2" cy="149.5" rx="2.6" ry="1.9" transform="rotate(18 301.2 149.5)" fill="url(#gb)" opacity="0.74"/>
<ellipse cx="363.8" cy="92.7" rx="2.6" ry="1.8" transform="rotate(23 363.8 92.7)" fill="url(#gcd)" opacity="0.79"/>
<ellipse cx="276.2" cy="126.8" rx="2.2" ry="1.8" transform="rotate(29 276.2 126.8)" fill="url(#gb)" opacity="0.75"/>
<ellipse cx="414.3" cy="119.9" rx="2.3" ry="1.6" transform="rotate(48 414.3 119.9)" fill="url(#gb)" opacity="0.74"/>
<ellipse cx="330.1" cy="171.7" rx="3.0" ry="2.5" transform="rotate(21 330.1 171.7)" fill="url(#gb)" opacity="0.81"/>
<ellipse cx="422.0" cy="246.2" rx="2.6" ry="2.2" transform="rotate(23 422.0 246.2)" fill="url(#gb)" opacity="0.99"/>
<ellipse cx="507.0" cy="198.6" rx="2.4" ry="1.8" transform="rotate(20 507.0 198.6)" fill="url(#gcd)" opacity="0.91"/>
<ellipse cx="425.1" cy="159.4" rx="3.1" ry="2.4" transform="rotate(30 425.1 159.4)" fill="url(#gb)" opacity="0.77"/>
<ellipse cx="438.8" cy="59.0" rx="2.4" ry="2.1" transform="rotate(20 438.8 59.0)" fill="url(#gb)" opacity="0.85"/>
<ellipse cx="262.2" cy="139.4" rx="2.5" ry="2.0" transform="rotate(30 262.2 139.4)" fill="url(#gb)" opacity="0.90"/>
<ellipse cx="407.8" cy="214.1" rx="2.5" ry="1.9" transform="rotate(18 407.8 214.1)" fill="url(#gb)" opacity="0.75"/>
<ellipse cx="513.9" cy="84.7" rx="2.5" ry="2.0" transform="rotate(19 513.9 84.7)" fill="url(#gb)" opacity="0.87"/>
<ellipse cx="343.5" cy="184.1" rx="2.7" ry="2.0" transform="rotate(18 343.5 184.1)" fill="url(#gcd)" opacity="0.79"/>
<ellipse cx="442.8" cy="176.5" rx="2.3" ry="1.9" transform="rotate(26 442.8 176.5)" fill="url(#gb)" opacity="0.82"/>
<ellipse cx="512.6" cy="212.3" rx="3.0" ry="2.5" transform="rotate(49 512.6 212.3)" fill="url(#gcd)" opacity="0.74"/>
<ellipse cx="303.5" cy="159.6" rx="2.2" ry="1.8" transform="rotate(42 303.5 159.6)" fill="url(#gb)" opacity="0.81"/>
<ellipse cx="389.6" cy="144.6" rx="2.9" ry="2.3" transform="rotate(25 389.6 144.6)" fill="url(#gb)" opacity="0.95"/>
<ellipse cx="456.7" cy="136.8" rx="2.8" ry="2.0" transform="rotate(20 456.7 136.8)" fill="url(#gb)" opacity="0.97"/>
<ellipse cx="346.5" cy="44.2" rx="2.9" ry="1.9" transform="rotate(17 346.5 44.2)" fill="url(#gcd)" opacity="0.75"/>
<ellipse cx="288.6" cy="181.2" rx="2.5" ry="1.9" transform="rotate(17 288.6 181.2)" fill="url(#gb)" opacity="0.79"/>
<ellipse cx="462.7" cy="123.0" rx="2.4" ry="2.0" transform="rotate(38 462.7 123.0)" fill="url(#gcd)" opacity="0.91"/>
<ellipse cx="304.3" cy="223.2" rx="2.6" ry="2.1" transform="rotate(29 304.3 223.2)" fill="url(#gb)" opacity="0.70"/>
<ellipse cx="328.0" cy="129.9" rx="3.0" ry="2.2" transform="rotate(17 328.0 129.9)" fill="url(#gb)" opacity="0.96"/>
<ellipse cx="469.1" cy="100.0" rx="2.2" ry="1.6" transform="rotate(19 469.1 100.0)" fill="url(#gcd)" opacity="0.94"/>
<ellipse cx="348.8" cy="195.4" rx="3.1" ry="2.6" transform="rotate(18 348.8 195.4)" fill="url(#gb)" opacity="0.91"/>
<ellipse cx="310.0" cy="1.6" rx="2.9" ry="2.5" transform="rotate(26 310.0 1.6)" fill="url(#gb)" opacity="0.73"/>
<ellipse cx="414.2" cy="242.7" rx="2.6" ry="2.3" transform="rotate(43 414.2 242.7)" fill="url(#gb)" opacity="0.92"/>
<ellipse cx="440.8" cy="107.0" rx="2.8" ry="2.1" transform="rotate(17 440.8 107.0)" fill="url(#gb)" opacity="0.91"/>
<ellipse cx="520.3" cy="29.2" rx="2.7" ry="2.3" transform="rotate(20 520.3 29.2)" fill="url(#gcd)" opacity="0.93"/>
<ellipse cx="347.8" cy="4.9" rx="2.9" ry="2.4" transform="rotate(25 347.8 4.9)" fill="url(#gb)" opacity="0.86"/>
<ellipse cx="359.1" cy="78.4" rx="2.8" ry="2.2" transform="rotate(25 359.1 78.4)" fill="url(#gb)" opacity="0.72"/>
<ellipse cx="470.1" cy="216.1" rx="2.6" ry="1.8" transform="rotate(27 470.1 216.1)" fill="url(#gb)" opacity="0.74"/>
<ellipse cx="335.8" cy="99.8" rx="2.9" ry="2.0" transform="rotate(25 335.8 99.8)" fill="url(#gb)" opacity="0.85"/>
<ellipse cx="442.5" cy="139.9" rx="3.1" ry="2.3" transform="rotate(27 442.5 139.9)" fill="url(#gcd)" opacity="0.97"/>
<ellipse cx="470.0" cy="36.2" rx="2.8" ry="2.0" transform="rotate(48 470.0 36.2)" fill="url(#gb)" opacity="0.86"/>
<ellipse cx="307.5" cy="25.9" rx="2.4" ry="1.9" transform="rotate(39 307.5 25.9)" fill="url(#gb)" opacity="0.84"/>
<ellipse cx="504.7" cy="63.4" rx="3.0" ry="2.1" transform="rotate(27 504.7 63.4)" fill="url(#gcd)" opacity="0.81"/>
<ellipse cx="388.9" cy="29.3" rx="2.3" ry="1.6" transform="rotate(23 388.9 29.3)" fill="url(#gb)" opacity="0.91"/>
<ellipse cx="357.1" cy="65.5" rx="2.3" ry="1.7" transform="rotate(34 357.1 65.5)" fill="url(#gcd)" opacity="0.81"/>
<ellipse cx="282.4" cy="45.4" rx="2.3" ry="1.5" transform="rotate(55 282.4 45.4)" fill="url(#gcd)" opacity="0.93"/>
<ellipse cx="334.0" cy="242.1" rx="2.9" ry="2.6" transform="rotate(38 334.0 242.1)" fill="url(#gb)" opacity="0.73"/>
<ellipse cx="292.9" cy="17.4" rx="2.6" ry="1.8" transform="rotate(37 292.9 17.4)" fill="url(#gb)" opacity="0.70"/>
<ellipse cx="355.3" cy="193.9" rx="2.8" ry="2.3" transform="rotate(52 355.3 193.9)" fill="url(#gcd)" opacity="0.90"/>
<ellipse cx="468.0" cy="189.2" rx="2.4" ry="1.7" transform="rotate(16 468.0 189.2)" fill="url(#gb)" opacity="0.93"/>
<ellipse cx="454.8" cy="52.9" rx="2.5" ry="1.7" transform="rotate(41 454.8 52.9)" fill="url(#gb)" opacity="0.95"/>
<ellipse cx="438.9" cy="44.1" rx="2.4" ry="2.0" transform="rotate(48 438.9 44.1)" fill="url(#gb)" opacity="0.92"/>
<ellipse cx="289.5" cy="35.2" rx="2.4" ry="2.0" transform="rotate(28 289.5 35.2)" fill="url(#gb)" opacity="0.81"/>
<ellipse cx="373.8" cy="248.3" rx="2.6" ry="2.2" transform="rotate(25 373.8 248.3)" fill="url(#gb)" opacity="0.71"/>
<ellipse cx="508.4" cy="81.8" rx="2.8" ry="2.4" transform="rotate(43 508.4 81.8)" fill="url(#gb)" opacity="0.97"/>
<ellipse cx="422.2" cy="228.8" rx="2.7" ry="2.1" transform="rotate(21 422.2 228.8)" fill="url(#gb)" opacity="0.79"/>
<ellipse cx="441.4" cy="115.8" rx="2.3" ry="1.9" transform="rotate(22 441.4 115.8)" fill="url(#gb)" opacity="0.83"/>
<ellipse cx="435.0" cy="107.0" rx="2.3" ry="1.5" transform="rotate(33 435.0 107.0)" fill="url(#gb)" opacity="0.76"/>
<ellipse cx="418.2" cy="146.9" rx="2.2" ry="1.9" transform="rotate(49 418.2 146.9)" fill="url(#gb)" opacity="0.94"/>
<ellipse cx="504.2" cy="37.5" rx="2.5" ry="2.0" transform="rotate(36 504.2 37.5)" fill="url(#gb)" opacity="0.83"/>
<ellipse cx="366.5" cy="223.5" rx="2.6" ry="2.1" transform="rotate(48 366.5 223.5)" fill="url(#gcd)" opacity="0.97"/>
<ellipse cx="505.8" cy="213.6" rx="2.5" ry="1.9" transform="rotate(38 505.8 213.6)" fill="url(#gcd)" opacity="0.80"/>
<ellipse cx="469.4" cy="131.0" rx="2.3" ry="1.7" transform="rotate(33 469.4 131.0)" fill="url(#gb)" opacity="0.99"/>
<ellipse cx="520.4" cy="14.9" rx="3.1" ry="2.7" transform="rotate(53 520.4 14.9)" fill="url(#gb)" opacity="0.89"/>
<ellipse cx="488.2" cy="183.0" rx="2.3" ry="1.8" transform="rotate(39 488.2 183.0)" fill="url(#gb)" opacity="0.79"/>
<ellipse cx="484.3" cy="198.4" rx="3.2" ry="2.4" transform="rotate(41 484.3 198.4)" fill="url(#gb)" opacity="0.79"/>
<ellipse cx="404.8" cy="233.5" rx="3.1" ry="2.1" transform="rotate(23 404.8 233.5)" fill="url(#gb)" opacity="0.90"/>
<ellipse cx="271.6" cy="87.9" rx="2.3" ry="1.8" transform="rotate(30 271.6 87.9)" fill="url(#gb)" opacity="0.87"/>
<ellipse cx="486.9" cy="214.8" rx="2.7" ry="2.1" transform="rotate(31 486.9 214.8)" fill="url(#gcd)" opacity="0.73"/>
<ellipse cx="292.5" cy="45.2" rx="3.1" ry="2.4" transform="rotate(19 292.5 45.2)" fill="url(#gcd)" opacity="0.96"/>
<ellipse cx="280.7" cy="254.8" rx="2.3" ry="1.8" transform="rotate(25 280.7 254.8)" fill="url(#gb)" opacity="0.85"/>
<ellipse cx="350.3" cy="80.0" rx="2.4" ry="1.9" transform="rotate(20 350.3 80.0)" fill="url(#gb)" opacity="0.85"/>
<ellipse cx="295.6" cy="28.2" rx="2.3" ry="1.7" transform="rotate(18 295.6 28.2)" fill="url(#gb)" opacity="0.83"/>
<ellipse cx="506.7" cy="156.6" rx="2.8" ry="2.2" transform="rotate(45 506.7 156.6)" fill="url(#gb)" opacity="0.73"/>
<ellipse cx="453.4" cy="91.7" rx="2.9" ry="2.0" transform="rotate(48 453.4 91.7)" fill="url(#gcd)" opacity="0.82"/>
<ellipse cx="372.4" cy="211.2" rx="3.2" ry="2.5" transform="rotate(46 372.4 211.2)" fill="url(#gb)" opacity="0.74"/>
<ellipse cx="336.1" cy="224.9" rx="2.3" ry="1.6" transform="rotate(30 336.1 224.9)" fill="url(#gb)" opacity="0.70"/>
<ellipse cx="504.8" cy="98.8" rx="2.4" ry="1.8" transform="rotate(43 504.8 98.8)" fill="url(#gb)" opacity="0.83"/>
<ellipse cx="455.3" cy="154.3" rx="2.8" ry="2.4" transform="rotate(38 455.3 154.3)" fill="url(#gb)" opacity="0.98"/>
<ellipse cx="371.0" cy="71.1" rx="2.4" ry="2.0" transform="rotate(29 371.0 71.1)" fill="url(#gb)" opacity="0.93"/>
<ellipse cx="494.8" cy="63.4" rx="3.0" ry="2.1" transform="rotate(30 494.8 63.4)" fill="url(#gb)" opacity="0.92"/>
<ellipse cx="371.4" cy="86.8" rx="2.9" ry="2.0" transform="rotate(39 371.4 86.8)" fill="url(#gb)" opacity="0.73"/>
<ellipse cx="415.6" cy="139.9" rx="3.0" ry="2.1" transform="rotate(52 415.6 139.9)" fill="url(#gcd)" opacity="0.90"/>
<ellipse cx="285.0" cy="92.5" rx="2.4" ry="1.8" transform="rotate(49 285.0 92.5)" fill="url(#gcd)" opacity="0.87"/>
<ellipse cx="384.0" cy="92.1" rx="2.2" ry="1.5" transform="rotate(47 384.0 92.1)" fill="url(#gb)" opacity="0.76"/>
<ellipse cx="444.3" cy="257.4" rx="2.5" ry="2.0" transform="rotate(30 444.3 257.4)" fill="url(#gb)" opacity="0.74"/>
<ellipse cx="366.3" cy="168.6" rx="2.7" ry="2.2" transform="rotate(47 366.3 168.6)" fill="url(#gcd)" opacity="0.98"/>
<ellipse cx="316.5" cy="94.2" rx="2.5" ry="1.8" transform="rotate(35 316.5 94.2)" fill="url(#gb)" opacity="0.96"/>
<ellipse cx="454.9" cy="19.7" rx="2.2" ry="1.6" transform="rotate(48 454.9 19.7)" fill="url(#gb)" opacity="0.90"/>
<ellipse cx="266.1" cy="221.5" rx="2.7" ry="1.9" transform="rotate(49 266.1 221.5)" fill="url(#gb)" opacity="0.82"/>
<ellipse cx="290.9" cy="203.2" rx="2.8" ry="1.9" transform="rotate(28 290.9 203.2)" fill="url(#gb)" opacity="0.76"/>
<ellipse cx="294.4" cy="145.6" rx="2.8" ry="1.9" transform="rotate(22 294.4 145.6)" fill="url(#gb)" opacity="0.81"/>
<ellipse cx="395.2" cy="74.4" rx="2.8" ry="2.1" transform="rotate(29 395.2 74.4)" fill="url(#gb)" opacity="0.70"/>
<ellipse cx="318.6" cy="115.4" rx="2.5" ry="1.7" transform="rotate(33 318.6 115.4)" fill="url(#gcd)" opacity="1.00"/>
<ellipse cx="483.2" cy="25.1" rx="2.3" ry="1.9" transform="rotate(26 483.2 25.1)" fill="url(#gb)" opacity="0.78"/>
<ellipse cx="483.0" cy="38.3" rx="2.5" ry="1.9" transform="rotate(36 483.0 38.3)" fill="url(#gb)" opacity="0.99"/>
<ellipse cx="367.7" cy="157.2" rx="2.2" ry="1.8" transform="rotate(46 367.7 157.2)" fill="url(#gb)" opacity="0.96"/>
<ellipse cx="486.6" cy="248.6" rx="2.8" ry="2.3" transform="rotate(30 486.6 248.6)" fill="url(#gb)" opacity="0.78"/>
<ellipse cx="302.7" cy="136.1" rx="3.1" ry="2.7" transform="rotate(42 302.7 136.1)" fill="url(#gb)" opacity="0.79"/>
<ellipse cx="429.2" cy="218.4" rx="2.9" ry="2.3" transform="rotate(40 429.2 218.4)" fill="url(#gb)" opacity="0.81"/>
<ellipse cx="291.1" cy="236.9" rx="2.6" ry="1.8" transform="rotate(28 291.1 236.9)" fill="url(#gb)" opacity="0.80"/>
<ellipse cx="347.5" cy="125.1" rx="2.7" ry="2.0" transform="rotate(25 347.5 125.1)" fill="url(#gb)" opacity="0.77"/>
<ellipse cx="432.0" cy="228.5" rx="2.3" ry="1.5" transform="rotate(50 432.0 228.5)" fill="url(#gb)" opacity="0.84"/>
<ellipse cx="392.2" cy="233.0" rx="2.8" ry="2.0" transform="rotate(22 392.2 233.0)" fill="url(#gb)" opacity="0.72"/>
<ellipse cx="274.9" cy="215.3" rx="2.5" ry="2.1" transform="rotate(37 274.9 215.3)" fill="url(#gb)" opacity="0.98"/>
<ellipse cx="278.1" cy="135.2" rx="3.1" ry="2.5" transform="rotate(18 278.1 135.2)" fill="url(#gb)" opacity="0.75"/>
<ellipse cx="319.9" cy="23.8" rx="3.2" ry="2.4" transform="rotate(46 319.9 23.8)" fill="url(#gb)" opacity="0.83"/>
<ellipse cx="456.9" cy="124.7" rx="2.3" ry="1.7" transform="rotate(51 456.9 124.7)" fill="url(#gcd)" opacity="0.78"/>
<ellipse cx="264.3" cy="103.7" rx="2.2" ry="1.5" transform="rotate(26 264.3 103.7)" fill="url(#gcd)" opacity="0.91"/>
<ellipse cx="275.8" cy="22.1" rx="2.6" ry="1.8" transform="rotate(39 275.8 22.1)" fill="url(#gb)" opacity="0.96"/>
<ellipse cx="327.5" cy="68.2" rx="2.4" ry="2.0" transform="rotate(54 327.5 68.2)" fill="url(#gcd)" opacity="0.88"/>
<ellipse cx="478.2" cy="83.3" rx="3.0" ry="2.6" transform="rotate(29 478.2 83.3)" fill="url(#gcd)" opacity="0.74"/>
<ellipse cx="276.8" cy="196.5" rx="2.7" ry="2.3" transform="rotate(41 276.8 196.5)" fill="url(#gcd)" opacity="0.98"/>
<ellipse cx="274.5" cy="160.4" rx="2.5" ry="2.1" transform="rotate(41 274.5 160.4)" fill="url(#gb)" opacity="0.82"/>
<ellipse cx="412.8" cy="-0.5" rx="2.5" ry="1.7" transform="rotate(32 412.8 -0.5)" fill="url(#gb)" opacity="0.71"/>
<ellipse cx="453.6" cy="106.8" rx="2.5" ry="1.9" transform="rotate(39 453.6 106.8)" fill="url(#gb)" opacity="0.78"/>
<ellipse cx="438.7" cy="253.8" rx="2.2" ry="1.9" transform="rotate(38 438.7 253.8)" fill="url(#gcd)" opacity="1.00"/>
<ellipse cx="465.2" cy="112.5" rx="2.8" ry="2.3" transform="rotate(28 465.2 112.5)" fill="url(#gcd)" opacity="0.73"/>
<ellipse cx="457.4" cy="96.2" rx="2.3" ry="1.9" transform="rotate(19 457.4 96.2)" fill="url(#gb)" opacity="0.94"/>
<ellipse cx="292.7" cy="81.2" rx="2.7" ry="2.2" transform="rotate(37 292.7 81.2)" fill="url(#gb)" opacity="0.90"/>
<ellipse cx="435.2" cy="140.5" rx="2.5" ry="2.1" transform="rotate(25 435.2 140.5)" fill="url(#gb)" opacity="0.91"/>
<ellipse cx="342.6" cy="246.0" rx="3.0" ry="2.2" transform="rotate(46 342.6 246.0)" fill="url(#gb)" opacity="0.99"/>
<ellipse cx="401.4" cy="216.2" rx="2.5" ry="1.9" transform="rotate(53 401.4 216.2)" fill="url(#gcd)" opacity="0.74"/>
<ellipse cx="304.6" cy="88.9" rx="2.7" ry="2.2" transform="rotate(46 304.6 88.9)" fill="url(#gb)" opacity="0.81"/>
<ellipse cx="329.9" cy="187.9" rx="2.4" ry="2.0" transform="rotate(19 329.9 187.9)" fill="url(#gcd)" opacity="0.71"/>
<ellipse cx="360.2" cy="184.3" rx="2.3" ry="1.7" transform="rotate(37 360.2 184.3)" fill="url(#gb)" opacity="0.75"/>
<ellipse cx="374.5" cy="158.6" rx="2.6" ry="1.8" transform="rotate(22 374.5 158.6)" fill="url(#gb)" opacity="0.92"/>
<ellipse cx="407.5" cy="251.7" rx="2.4" ry="1.6" transform="rotate(46 407.5 251.7)" fill="url(#gb)" opacity="0.77"/>
<ellipse cx="348.6" cy="37.4" rx="2.7" ry="2.2" transform="rotate(29 348.6 37.4)" fill="url(#gb)" opacity="0.94"/>
<ellipse cx="313.8" cy="137.1" rx="2.5" ry="2.2" transform="rotate(19 313.8 137.1)" fill="url(#gcd)" opacity="0.92"/>
<ellipse cx="460.9" cy="149.4" rx="2.8" ry="2.1" transform="rotate(50 460.9 149.4)" fill="url(#gb)" opacity="0.72"/>
<ellipse cx="495.8" cy="238.2" rx="2.6" ry="2.3" transform="rotate(53 495.8 238.2)" fill="url(#gcd)" opacity="0.89"/>
<ellipse cx="338.2" cy="63.7" rx="2.5" ry="1.8" transform="rotate(32 338.2 63.7)" fill="url(#gcd)" opacity="0.77"/>
<ellipse cx="332.9" cy="72.1" rx="3.0" ry="2.4" transform="rotate(27 332.9 72.1)" fill="url(#gcd)" opacity="1.00"/>
<ellipse cx="334.2" cy="130.4" rx="2.8" ry="1.9" transform="rotate(50 334.2 130.4)" fill="url(#gcd)" opacity="0.96"/>
<ellipse cx="489.2" cy="39.6" rx="3.0" ry="2.5" transform="rotate(26 489.2 39.6)" fill="url(#gb)" opacity="0.80"/>
<ellipse cx="433.6" cy="237.0" rx="3.1" ry="2.1" transform="rotate(42 433.6 237.0)" fill="url(#gb)" opacity="0.88"/>
<ellipse cx="507.3" cy="129.5" rx="2.8" ry="2.4" transform="rotate(23 507.3 129.5)" fill="url(#gb)" opacity="0.97"/>
<ellipse cx="409.2" cy="88.7" rx="3.0" ry="2.5" transform="rotate(22 409.2 88.7)" fill="url(#gb)" opacity="0.96"/>
<ellipse cx="269.7" cy="146.4" rx="2.5" ry="1.7" transform="rotate(19 269.7 146.4)" fill="url(#gcd)" opacity="0.99"/>
<ellipse cx="399.0" cy="46.0" rx="3.1" ry="2.2" transform="rotate(44 399.0 46.0)" fill="url(#gcd)" opacity="0.73"/>
<ellipse cx="398.9" cy="90.1" rx="2.9" ry="2.0" transform="rotate(29 398.9 90.1)" fill="url(#gb)" opacity="0.98"/>
<ellipse cx="388.3" cy="18.5" rx="3.1" ry="2.7" transform="rotate(16 388.3 18.5)" fill="url(#gb)" opacity="0.77"/>
<ellipse cx="349.3" cy="180.5" rx="2.9" ry="1.9" transform="rotate(35 349.3 180.5)" fill="url(#gb)" opacity="0.77"/>
<ellipse cx="485.2" cy="241.1" rx="2.3" ry="1.5" transform="rotate(55 485.2 241.1)" fill="url(#gb)" opacity="0.79"/>
<ellipse cx="267.2" cy="125.3" rx="2.3" ry="1.8" transform="rotate(20 267.2 125.3)" fill="url(#gcd)" opacity="0.83"/>
<ellipse cx="397.0" cy="247.5" rx="2.9" ry="2.0" transform="rotate(45 397.0 247.5)" fill="url(#gcd)" opacity="0.85"/>
<ellipse cx="268.3" cy="6.3" rx="2.6" ry="2.0" transform="rotate(52 268.3 6.3)" fill="url(#gcd)" opacity="0.80"/>
<ellipse cx="477.7" cy="177.0" rx="3.2" ry="2.7" transform="rotate(44 477.7 177.0)" fill="url(#gcd)" opacity="0.78"/>
<ellipse cx="262.2" cy="15.7" rx="2.5" ry="1.7" transform="rotate(17 262.2 15.7)" fill="url(#gb)" opacity="0.85"/>
<ellipse cx="349.2" cy="88.2" rx="2.8" ry="2.0" transform="rotate(15 349.2 88.2)" fill="url(#gb)" opacity="0.91"/>
<ellipse cx="265.9" cy="198.3" rx="2.7" ry="2.1" transform="rotate(43 265.9 198.3)" fill="url(#gb)" opacity="0.99"/>
<ellipse cx="322.9" cy="227.3" rx="2.9" ry="2.2" transform="rotate(28 322.9 227.3)" fill="url(#gb)" opacity="0.83"/>
<ellipse cx="323.9" cy="168.1" rx="2.6" ry="1.9" transform="rotate(31 323.9 168.1)" fill="url(#gb)" opacity="0.74"/>
<ellipse cx="325.6" cy="54.6" rx="2.2" ry="1.8" transform="rotate(52 325.6 54.6)" fill="url(#gb)" opacity="0.78"/>
<ellipse cx="369.7" cy="255.3" rx="2.6" ry="1.8" transform="rotate(23 369.7 255.3)" fill="url(#gb)" opacity="0.73"/>
<ellipse cx="362.7" cy="33.2" rx="3.0" ry="2.6" transform="rotate(17 362.7 33.2)" fill="url(#gb)" opacity="0.91"/>
<ellipse cx="416.3" cy="190.8" rx="2.8" ry="2.2" transform="rotate(28 416.3 190.8)" fill="url(#gcd)" opacity="0.99"/>
<ellipse cx="385.7" cy="210.8" rx="2.9" ry="2.5" transform="rotate(35 385.7 210.8)" fill="url(#gb)" opacity="0.88"/>
<ellipse cx="350.9" cy="240.0" rx="2.4" ry="1.9" transform="rotate(45 350.9 240.0)" fill="url(#gb)" opacity="0.81"/>
<ellipse cx="297.3" cy="174.3" rx="2.6" ry="2.0" transform="rotate(40 297.3 174.3)" fill="url(#gb)" opacity="0.90"/>
<ellipse cx="508.8" cy="116.0" rx="2.8" ry="2.2" transform="rotate(24 508.8 116.0)" fill="url(#gcd)" opacity="0.88"/>
<ellipse cx="352.4" cy="10.8" rx="3.1" ry="2.4" transform="rotate(44 352.4 10.8)" fill="url(#gb)" opacity="0.86"/>
<ellipse cx="342.4" cy="195.8" rx="2.4" ry="1.7" transform="rotate(52 342.4 195.8)" fill="url(#gb)" opacity="0.86"/>
<ellipse cx="409.8" cy="74.6" rx="2.7" ry="2.3" transform="rotate(25 409.8 74.6)" fill="url(#gb)" opacity="0.75"/>
<ellipse cx="381.5" cy="154.8" rx="2.7" ry="2.1" transform="rotate(48 381.5 154.8)" fill="url(#gb)" opacity="0.97"/>
<ellipse cx="482.0" cy="118.9" rx="2.2" ry="1.7" transform="rotate(48 482.0 118.9)" fill="url(#gcd)" opacity="0.95"/>
<ellipse cx="317.0" cy="3.1" rx="2.4" ry="1.7" transform="rotate(19 317.0 3.1)" fill="url(#gb)" opacity="0.81"/>
<ellipse cx="319.1" cy="205.8" rx="2.7" ry="2.1" transform="rotate(19 319.1 205.8)" fill="url(#gb)" opacity="0.82"/>
<ellipse cx="265.9" cy="77.1" rx="2.9" ry="2.2" transform="rotate(34 265.9 77.1)" fill="url(#gb)" opacity="0.94"/>
<ellipse cx="385.0" cy="160.2" rx="2.3" ry="1.9" transform="rotate(30 385.0 160.2)" fill="url(#gcd)" opacity="0.86"/>
<ellipse cx="491.8" cy="149.1" rx="2.6" ry="1.9" transform="rotate(30 491.8 149.1)" fill="url(#gcd)" opacity="0.71"/>
<ellipse cx="370.4" cy="138.4" rx="2.8" ry="1.9" transform="rotate(22 370.4 138.4)" fill="url(#gcd)" opacity="0.92"/>
<ellipse cx="381.7" cy="84.4" rx="2.5" ry="1.8" transform="rotate(48 381.7 84.4)" fill="url(#gb)" opacity="0.73"/>
<ellipse cx="499.6" cy="58.7" rx="3.1" ry="2.2" transform="rotate(32 499.6 58.7)" fill="url(#gb)" opacity="0.94"/>
<ellipse cx="505.3" cy="219.8" rx="2.6" ry="1.7" transform="rotate(33 505.3 219.8)" fill="url(#gb)" opacity="0.81"/>
<ellipse cx="394.3" cy="254.0" rx="2.5" ry="1.9" transform="rotate(41 394.3 254.0)" fill="url(#gb)" opacity="0.94"/>
<ellipse cx="508.3" cy="71.9" rx="2.6" ry="2.0" transform="rotate(52 508.3 71.9)" fill="url(#gb)" opacity="0.76"/>
<ellipse cx="352.2" cy="143.4" rx="2.9" ry="2.2" transform="rotate(42 352.2 143.4)" fill="url(#gcd)" opacity="0.80"/>
<ellipse cx="285.4" cy="127.4" rx="3.0" ry="2.2" transform="rotate(36 285.4 127.4)" fill="url(#gb)" opacity="0.85"/>
<ellipse cx="377.1" cy="20.0" rx="3.0" ry="2.0" transform="rotate(39 377.1 20.0)" fill="url(#gb)" opacity="0.84"/>
<ellipse cx="393.0" cy="108.8" rx="3.0" ry="2.3" transform="rotate(34 393.0 108.8)" fill="url(#gb)" opacity="0.97"/>
<ellipse cx="337.6" cy="216.7" rx="2.7" ry="2.1" transform="rotate(48 337.6 216.7)" fill="url(#gb)" opacity="0.90"/>
<ellipse cx="392.8" cy="87.0" rx="2.6" ry="1.7" transform="rotate(42 392.8 87.0)" fill="url(#gb)" opacity="0.87"/>
<ellipse cx="516.5" cy="236.4" rx="3.0" ry="2.0" transform="rotate(24 516.5 236.4)" fill="url(#gb)" opacity="0.72"/>
<ellipse cx="504.5" cy="165.5" rx="2.3" ry="1.6" transform="rotate(45 504.5 165.5)" fill="url(#gcd)" opacity="0.87"/>
<ellipse cx="278.8" cy="171.5" rx="2.9" ry="2.4" transform="rotate(34 278.8 171.5)" fill="url(#gb)" opacity="0.72"/>
<ellipse cx="310.3" cy="178.5" rx="2.6" ry="2.1" transform="rotate(55 310.3 178.5)" fill="url(#gb)" opacity="0.95"/>
<ellipse cx="466.2" cy="225.1" rx="2.3" ry="1.7" transform="rotate(36 466.2 225.1)" fill="url(#gb)" opacity="0.70"/>
<ellipse cx="310.7" cy="166.4" rx="2.5" ry="1.8" transform="rotate(28 310.7 166.4)" fill="url(#gb)" opacity="0.78"/>
<ellipse cx="499.0" cy="73.5" rx="2.8" ry="2.1" transform="rotate(32 499.0 73.5)" fill="url(#gb)" opacity="0.72"/>
<ellipse cx="348.7" cy="70.6" rx="3.1" ry="2.6" transform="rotate(49 348.7 70.6)" fill="url(#gcd)" opacity="0.78"/>
<ellipse cx="401.2" cy="121.0" rx="2.3" ry="1.8" transform="rotate(30 401.2 121.0)" fill="url(#gb)" opacity="0.84"/>
<ellipse cx="324.7" cy="83.2" rx="2.8" ry="2.1" transform="rotate(47 324.7 83.2)" fill="url(#gb)" opacity="0.76"/>
<ellipse cx="354.4" cy="135.0" rx="2.8" ry="1.9" transform="rotate(28 354.4 135.0)" fill="url(#gb)" opacity="0.86"/>
<ellipse cx="460.2" cy="142.3" rx="2.8" ry="2.0" transform="rotate(26 460.2 142.3)" fill="url(#gcd)" opacity="0.94"/>
<ellipse cx="428.7" cy="242.0" rx="2.9" ry="2.4" transform="rotate(39 428.7 242.0)" fill="url(#gb)" opacity="0.84"/>
<ellipse cx="402.7" cy="257.3" rx="2.6" ry="2.3" transform="rotate(17 402.7 257.3)" fill="url(#gb)" opacity="0.83"/>
<ellipse cx="461.4" cy="166.4" rx="2.2" ry="1.9" transform="rotate(18 461.4 166.4)" fill="url(#gcd)" opacity="0.88"/>
<ellipse cx="439.1" cy="158.1" rx="3.1" ry="2.4" transform="rotate(47 439.1 158.1)" fill="url(#gb)" opacity="0.85"/>
<ellipse cx="295.4" cy="12.2" rx="2.9" ry="2.1" transform="rotate(23 295.4 12.2)" fill="url(#gcd)" opacity="0.95"/>
<ellipse cx="383.8" cy="25.5" rx="3.1" ry="2.2" transform="rotate(19 383.8 25.5)" fill="url(#gb)" opacity="0.73"/>
<ellipse cx="380.3" cy="121.1" rx="3.2" ry="2.4" transform="rotate(41 380.3 121.1)" fill="url(#gb)" opacity="0.78"/>
<ellipse cx="432.5" cy="171.9" rx="2.9" ry="2.0" transform="rotate(17 432.5 171.9)" fill="url(#gcd)" opacity="0.91"/>
<ellipse cx="277.5" cy="149.6" rx="3.0" ry="2.2" transform="rotate(24 277.5 149.6)" fill="url(#gb)" opacity="0.87"/>
<ellipse cx="333.4" cy="145.5" rx="2.8" ry="1.9" transform="rotate(51 333.4 145.5)" fill="url(#gb)" opacity="0.80"/>
<ellipse cx="337.2" cy="207.6" rx="2.4" ry="2.0" transform="rotate(54 337.2 207.6)" fill="url(#gcd)" opacity="0.82"/>
<ellipse cx="401.7" cy="4.3" rx="2.6" ry="2.1" transform="rotate(24 401.7 4.3)" fill="url(#gcd)" opacity="0.86"/>
<ellipse cx="518.6" cy="56.1" rx="2.7" ry="2.2" transform="rotate(32 518.6 56.1)" fill="url(#gcd)" opacity="0.90"/>
<ellipse cx="319.9" cy="159.1" rx="3.0" ry="2.1" transform="rotate(52 319.9 159.1)" fill="url(#gb)" opacity="1.00"/>
<ellipse cx="301.1" cy="248.7" rx="2.7" ry="2.0" transform="rotate(29 301.1 248.7)" fill="url(#gb)" opacity="0.93"/>
<ellipse cx="353.8" cy="254.0" rx="3.1" ry="2.1" transform="rotate(34 353.8 254.0)" fill="url(#gb)" opacity="0.96"/>
<ellipse cx="418.0" cy="222.2" rx="2.7" ry="1.9" transform="rotate(21 418.0 222.2)" fill="url(#gb)" opacity="0.78"/>
<ellipse cx="267.4" cy="179.2" rx="3.0" ry="2.2" transform="rotate(52 267.4 179.2)" fill="url(#gb)" opacity="0.71"/>
<ellipse cx="342.7" cy="151.9" rx="3.2" ry="2.3" transform="rotate(53 342.7 151.9)" fill="url(#gcd)" opacity="0.90"/>
<ellipse cx="492.6" cy="194.1" rx="2.5" ry="1.9" transform="rotate(25 492.6 194.1)" fill="url(#gcd)" opacity="0.92"/>
<ellipse cx="393.1" cy="119.8" rx="3.0" ry="2.2" transform="rotate(18 393.1 119.8)" fill="url(#gcd)" opacity="0.87"/>
<ellipse cx="336.2" cy="47.7" rx="2.8" ry="2.3" transform="rotate(39 336.2 47.7)" fill="url(#gcd)" opacity="0.84"/>
<ellipse cx="455.6" cy="116.2" rx="2.7" ry="1.8" transform="rotate(41 455.6 116.2)" fill="url(#gb)" opacity="0.74"/>
<ellipse cx="365.3" cy="141.7" rx="2.6" ry="1.9" transform="rotate(42 365.3 141.7)" fill="url(#gcd)" opacity="0.75"/>
<ellipse cx="408.2" cy="242.2" rx="3.1" ry="2.3" transform="rotate(49 408.2 242.2)" fill="url(#gb)" opacity="0.96"/>
<ellipse cx="403.3" cy="85.6" rx="2.3" ry="1.6" transform="rotate(50 403.3 85.6)" fill="url(#gb)" opacity="0.74"/>
<ellipse cx="348.8" cy="247.0" rx="2.7" ry="1.9" transform="rotate(34 348.8 247.0)" fill="url(#gb)" opacity="0.75"/>
<ellipse cx="407.3" cy="24.3" rx="2.7" ry="2.0" transform="rotate(23 407.3 24.3)" fill="url(#gcd)" opacity="0.82"/>
<ellipse cx="473.8" cy="186.3" rx="2.3" ry="1.7" transform="rotate(50 473.8 186.3)" fill="url(#gb)" opacity="0.85"/>
<ellipse cx="270.9" cy="205.4" rx="2.2" ry="1.9" transform="rotate(35 270.9 205.4)" fill="url(#gb)" opacity="0.94"/>
<ellipse cx="505.2" cy="9.4" rx="2.9" ry="2.1" transform="rotate(45 505.2 9.4)" fill="url(#gcd)" opacity="0.75"/>
<ellipse cx="408.4" cy="97.5" rx="2.2" ry="1.7" transform="rotate(36 408.4 97.5)" fill="url(#gb)" opacity="0.79"/>
<ellipse cx="274.7" cy="5.3" rx="2.3" ry="1.8" transform="rotate(24 274.7 5.3)" fill="url(#gb)" opacity="0.88"/>
<ellipse cx="517.5" cy="94.5" rx="2.9" ry="2.0" transform="rotate(25 517.5 94.5)" fill="url(#gb)" opacity="0.88"/>
<ellipse cx="383.6" cy="217.4" rx="2.2" ry="1.8" transform="rotate(43 383.6 217.4)" fill="url(#gb)" opacity="0.94"/>
<ellipse cx="291.3" cy="72.5" rx="3.0" ry="2.3" transform="rotate(52 291.3 72.5)" fill="url(#gb)" opacity="0.70"/>
<ellipse cx="454.5" cy="223.1" rx="2.6" ry="2.0" transform="rotate(19 454.5 223.1)" fill="url(#gb)" opacity="0.77"/>
<ellipse cx="511.3" cy="231.5" rx="2.9" ry="2.0" transform="rotate(29 511.3 231.5)" fill="url(#gcd)" opacity="0.74"/>
<ellipse cx="521.7" cy="216.2" rx="2.4" ry="1.8" transform="rotate(54 521.7 216.2)" fill="url(#gb)" opacity="1.00"/>
<ellipse cx="262.3" cy="-1.7" rx="2.7" ry="2.1" transform="rotate(46 262.3 -1.7)" fill="url(#gb)" opacity="0.97"/>
<ellipse cx="371.4" cy="80.6" rx="2.8" ry="2.0" transform="rotate(40 371.4 80.6)" fill="url(#gb)" opacity="0.95"/>
<ellipse cx="465.5" cy="249.4" rx="2.3" ry="1.9" transform="rotate(29 465.5 249.4)" fill="url(#gb)" opacity="0.75"/>
<ellipse cx="369.6" cy="45.6" rx="2.9" ry="2.4" transform="rotate(20 369.6 45.6)" fill="url(#gb)" opacity="0.95"/>
<ellipse cx="304.0" cy="14.6" rx="3.1" ry="2.6" transform="rotate(48 304.0 14.6)" fill="url(#gb)" opacity="0.94"/>
<ellipse cx="418.9" cy="212.3" rx="2.6" ry="2.2" transform="rotate(46 418.9 212.3)" fill="url(#gcd)" opacity="0.96"/>
<ellipse cx="351.5" cy="29.3" rx="3.2" ry="2.5" transform="rotate(53 351.5 29.3)" fill="url(#gb)" opacity="0.73"/>
<ellipse cx="336.6" cy="199.3" rx="3.0" ry="2.1" transform="rotate(49 336.6 199.3)" fill="url(#gcd)" opacity="0.77"/>
<ellipse cx="426.5" cy="119.8" rx="2.7" ry="1.9" transform="rotate(35 426.5 119.8)" fill="url(#gb)" opacity="0.97"/>
<ellipse cx="394.5" cy="130.7" rx="2.9" ry="2.2" transform="rotate(46 394.5 130.7)" fill="url(#gb)" opacity="0.94"/>
<ellipse cx="519.5" cy="204.1" rx="3.1" ry="2.6" transform="rotate(31 519.5 204.1)" fill="url(#gb)" opacity="0.73"/>
<ellipse cx="300.8" cy="108.1" rx="3.0" ry="2.2" transform="rotate(39 300.8 108.1)" fill="url(#gb)" opacity="0.95"/>
<ellipse cx="299.4" cy="200.9" rx="2.2" ry="1.7" transform="rotate(16 299.4 200.9)" fill="url(#gb)" opacity="0.73"/>
<ellipse cx="496.2" cy="203.6" rx="2.6" ry="2.1" transform="rotate(33 496.2 203.6)" fill="url(#gcd)" opacity="0.80"/>
<ellipse cx="326.7" cy="141.5" rx="2.6" ry="2.2" transform="rotate(40 326.7 141.5)" fill="url(#gcd)" opacity="0.79"/>
<ellipse cx="443.1" cy="187.2" rx="2.5" ry="2.0" transform="rotate(33 443.1 187.2)" fill="url(#gb)" opacity="0.90"/>
<ellipse cx="429.6" cy="92.8" rx="2.3" ry="1.9" transform="rotate(17 429.6 92.8)" fill="url(#gcd)" opacity="0.95"/>
<ellipse cx="462.2" cy="156.2" rx="2.5" ry="2.2" transform="rotate(29 462.2 156.2)" fill="url(#gb)" opacity="0.77"/>
<ellipse cx="437.8" cy="217.3" rx="2.8" ry="2.4" transform="rotate(31 437.8 217.3)" fill="url(#gb)" opacity="0.85"/>
<ellipse cx="328.2" cy="195.4" rx="2.7" ry="2.4" transform="rotate(23 328.2 195.4)" fill="url(#gcd)" opacity="0.95"/>
<ellipse cx="451.6" cy="5.8" rx="2.7" ry="1.8" transform="rotate(22 451.6 5.8)" fill="url(#gb)" opacity="0.98"/>
<ellipse cx="468.0" cy="154.8" rx="3.0" ry="2.2" transform="rotate(29 468.0 154.8)" fill="url(#gb)" opacity="0.73"/>
<ellipse cx="519.9" cy="148.3" rx="3.1" ry="2.4" transform="rotate(30 519.9 148.3)" fill="url(#gb)" opacity="0.98"/>
<ellipse cx="437.6" cy="25.7" rx="2.9" ry="1.9" transform="rotate(40 437.6 25.7)" fill="url(#gb)" opacity="0.83"/>
<ellipse cx="516.0" cy="44.3" rx="2.6" ry="2.1" transform="rotate(40 516.0 44.3)" fill="url(#gb)" opacity="0.81"/>
<ellipse cx="295.1" cy="89.7" rx="2.9" ry="2.5" transform="rotate(35 295.1 89.7)" fill="url(#gb)" opacity="0.81"/>
<ellipse cx="449.2" cy="199.8" rx="2.3" ry="1.9" transform="rotate(42 449.2 199.8)" fill="url(#gb)" opacity="0.87"/>
<ellipse cx="311.1" cy="80.0" rx="3.0" ry="2.5" transform="rotate(44 311.1 80.0)" fill="url(#gcd)" opacity="0.92"/>
<ellipse cx="519.8" cy="50.1" rx="2.5" ry="1.7" transform="rotate(53 519.8 50.1)" fill="url(#gcd)" opacity="0.97"/>
<ellipse cx="275.2" cy="72.3" rx="2.8" ry="2.2" transform="rotate(17 275.2 72.3)" fill="url(#gb)" opacity="0.82"/>
<ellipse cx="350.5" cy="57.1" rx="2.8" ry="2.1" transform="rotate(45 350.5 57.1)" fill="url(#gb)" opacity="0.79"/>
<ellipse cx="278.4" cy="11.2" rx="2.6" ry="2.3" transform="rotate(41 278.4 11.2)" fill="url(#gb)" opacity="0.94"/>
<ellipse cx="389.8" cy="96.2" rx="2.6" ry="2.2" transform="rotate(43 389.8 96.2)" fill="url(#gcd)" opacity="0.91"/>
<ellipse cx="332.2" cy="11.5" rx="2.4" ry="1.9" transform="rotate(48 332.2 11.5)" fill="url(#gb)" opacity="0.94"/>
<ellipse cx="490.5" cy="91.7" rx="2.3" ry="1.8" transform="rotate(50 490.5 91.7)" fill="url(#gb)" opacity="0.75"/>
<ellipse cx="466.2" cy="142.7" rx="2.4" ry="1.7" transform="rotate(17 466.2 142.7)" fill="url(#gb)" opacity="0.79"/>
<ellipse cx="494.4" cy="186.7" rx="3.2" ry="2.8" transform="rotate(22 494.4 186.7)" fill="url(#gb)" opacity="0.79"/>
<ellipse cx="398.6" cy="211.0" rx="2.4" ry="1.8" transform="rotate(33 398.6 211.0)" fill="url(#gcd)" opacity="0.73"/>
<ellipse cx="304.8" cy="144.4" rx="2.6" ry="1.9" transform="rotate(54 304.8 144.4)" fill="url(#gcd)" opacity="0.78"/>
<ellipse cx="505.1" cy="135.2" rx="3.1" ry="2.4" transform="rotate(48 505.1 135.2)" fill="url(#gb)" opacity="0.89"/>
<ellipse cx="381.5" cy="165.3" rx="2.5" ry="1.7" transform="rotate(45 381.5 165.3)" fill="url(#gb)" opacity="0.84"/>
<ellipse cx="419.6" cy="88.9" rx="2.9" ry="2.4" transform="rotate(26 419.6 88.9)" fill="url(#gb)" opacity="0.81"/>
<ellipse cx="267.0" cy="21.6" rx="2.7" ry="2.0" transform="rotate(40 267.0 21.6)" fill="url(#gb)" opacity="0.78"/>
<ellipse cx="480.6" cy="8.9" rx="2.2" ry="1.9" transform="rotate(38 480.6 8.9)" fill="url(#gb)" opacity="0.81"/>
<ellipse cx="398.5" cy="170.2" rx="2.5" ry="1.8" transform="rotate(18 398.5 170.2)" fill="url(#gb)" opacity="0.86"/>
<ellipse cx="346.3" cy="164.2" rx="2.9" ry="2.2" transform="rotate(47 346.3 164.2)" fill="url(#gb)" opacity="0.73"/>
<ellipse cx="317.0" cy="56.8" rx="2.8" ry="2.5" transform="rotate(40 317.0 56.8)" fill="url(#gb)" opacity="0.91"/>
<ellipse cx="511.7" cy="245.0" rx="2.6" ry="2.2" transform="rotate(45 511.7 245.0)" fill="url(#gb)" opacity="0.80"/>
<ellipse cx="277.9" cy="188.0" rx="3.0" ry="2.2" transform="rotate(22 277.9 188.0)" fill="url(#gb)" opacity="0.96"/>
<ellipse cx="470.7" cy="118.2" rx="2.7" ry="2.2" transform="rotate(51 470.7 118.2)" fill="url(#gb)" opacity="0.74"/>
<ellipse cx="290.2" cy="-1.0" rx="2.3" ry="1.7" transform="rotate(35 290.2 -1.0)" fill="url(#gb)" opacity="0.96"/>
<ellipse cx="350.2" cy="16.6" rx="2.8" ry="2.1" transform="rotate(38 350.2 16.6)" fill="url(#gb)" opacity="0.78"/>
<ellipse cx="473.3" cy="255.4" rx="3.0" ry="2.5" transform="rotate(21 473.3 255.4)" fill="url(#gb)" opacity="0.90"/>
<ellipse cx="421.7" cy="164.0" rx="2.7" ry="2.3" transform="rotate(51 421.7 164.0)" fill="url(#gb)" opacity="0.92"/>
<ellipse cx="356.5" cy="-0.8" rx="2.8" ry="2.4" transform="rotate(20 356.5 -0.8)" fill="url(#gb)" opacity="0.91"/>
<ellipse cx="364.7" cy="69.4" rx="2.8" ry="2.0" transform="rotate(18 364.7 69.4)" fill="url(#gb)" opacity="0.88"/>
<ellipse cx="294.3" cy="153.5" rx="2.5" ry="1.7" transform="rotate(24 294.3 153.5)" fill="url(#gb)" opacity="0.73"/>
<ellipse cx="474.0" cy="198.2" rx="3.2" ry="2.7" transform="rotate(29 474.0 198.2)" fill="url(#gcd)" opacity="0.91"/>
<ellipse cx="487.3" cy="190.7" rx="3.0" ry="2.2" transform="rotate(15 487.3 190.7)" fill="url(#gcd)" opacity="0.89"/>
<ellipse cx="508.7" cy="31.0" rx="2.5" ry="1.7" transform="rotate(33 508.7 31.0)" fill="url(#gb)" opacity="0.87"/>
<ellipse cx="262.3" cy="204.2" rx="2.2" ry="1.9" transform="rotate(19 262.3 204.2)" fill="url(#gb)" opacity="0.77"/>
<ellipse cx="277.8" cy="228.5" rx="2.5" ry="1.9" transform="rotate(38 277.8 228.5)" fill="url(#gb)" opacity="0.77"/>
<ellipse cx="357.4" cy="47.5" rx="2.4" ry="2.0" transform="rotate(47 357.4 47.5)" fill="url(#gcd)" opacity="0.86"/>
<ellipse cx="262.4" cy="248.5" rx="3.0" ry="2.0" transform="rotate(35 262.4 248.5)" fill="url(#gcd)" opacity="0.83"/>
<ellipse cx="357.7" cy="245.3" rx="2.8" ry="2.3" transform="rotate(38 357.7 245.3)" fill="url(#gb)" opacity="0.82"/>
<ellipse cx="400.4" cy="24.7" rx="2.8" ry="2.0" transform="rotate(50 400.4 24.7)" fill="url(#gb)" opacity="1.00"/>
<ellipse cx="370.3" cy="11.0" rx="3.2" ry="2.3" transform="rotate(54 370.3 11.0)" fill="url(#gb)" opacity="0.72"/>
<ellipse cx="363.3" cy="253.9" rx="2.3" ry="1.8" transform="rotate(42 363.3 253.9)" fill="url(#gb)" opacity="0.91"/>
<ellipse cx="506.9" cy="52.2" rx="2.5" ry="1.8" transform="rotate(31 506.9 52.2)" fill="url(#gcd)" opacity="0.78"/>
<ellipse cx="439.2" cy="208.2" rx="2.9" ry="2.3" transform="rotate(33 439.2 208.2)" fill="url(#gb)" opacity="0.76"/>
<ellipse cx="374.1" cy="223.3" rx="2.4" ry="1.7" transform="rotate(37 374.1 223.3)" fill="url(#gb)" opacity="0.91"/>
<ellipse cx="332.6" cy="158.4" rx="2.9" ry="2.6" transform="rotate(52 332.6 158.4)" fill="url(#gb)" opacity="0.92"/>
<ellipse cx="303.5" cy="69.9" rx="2.3" ry="1.6" transform="rotate(16 303.5 69.9)" fill="url(#gb)" opacity="0.96"/>
<ellipse cx="499.1" cy="192.3" rx="2.8" ry="2.0" transform="rotate(29 499.1 192.3)" fill="url(#gb)" opacity="0.75"/>
<ellipse cx="413.4" cy="64.9" rx="3.2" ry="2.3" transform="rotate(17 413.4 64.9)" fill="url(#gb)" opacity="0.75"/>
<ellipse cx="420.7" cy="60.9" rx="3.1" ry="2.6" transform="rotate(33 420.7 60.9)" fill="url(#gcd)" opacity="0.73"/>
<ellipse cx="423.9" cy="149.4" rx="2.4" ry="2.0" transform="rotate(34 423.9 149.4)" fill="url(#gb)" opacity="1.00"/>
<ellipse cx="492.5" cy="244.1" rx="3.0" ry="2.3" transform="rotate(48 492.5 244.1)" fill="url(#gcd)" opacity="0.74"/>
<ellipse cx="308.3" cy="203.2" rx="2.8" ry="2.1" transform="rotate(23 308.3 203.2)" fill="url(#gcd)" opacity="0.78"/>
<ellipse cx="382.6" cy="177.0" rx="3.1" ry="2.5" transform="rotate(53 382.6 177.0)" fill="url(#gb)" opacity="0.99"/>
<ellipse cx="318.0" cy="188.7" rx="2.9" ry="2.2" transform="rotate(47 318.0 188.7)" fill="url(#gcd)" opacity="0.95"/>
<ellipse cx="414.2" cy="251.4" rx="2.2" ry="1.6" transform="rotate(38 414.2 251.4)" fill="url(#gcd)" opacity="0.81"/>
<ellipse cx="422.2" cy="140.7" rx="3.0" ry="2.5" transform="rotate(34 422.2 140.7)" fill="url(#gb)" opacity="0.71"/>
<ellipse cx="517.3" cy="126.8" rx="2.7" ry="1.8" transform="rotate(28 517.3 126.8)" fill="url(#gb)" opacity="0.89"/>
<ellipse cx="404.3" cy="223.5" rx="2.7" ry="2.1" transform="rotate(23 404.3 223.5)" fill="url(#gb)" opacity="0.77"/>
<ellipse cx="274.1" cy="166.5" rx="2.6" ry="1.8" transform="rotate(39 274.1 166.5)" fill="url(#gcd)" opacity="0.74"/>
<ellipse cx="388.8" cy="72.9" rx="2.7" ry="2.1" transform="rotate(40 388.8 72.9)" fill="url(#gb)" opacity="0.91"/>
<ellipse cx="303.4" cy="58.3" rx="2.3" ry="1.9" transform="rotate(17 303.4 58.3)" fill="url(#gb)" opacity="0.84"/>
<ellipse cx="328.5" cy="221.7" rx="2.9" ry="2.3" transform="rotate(25 328.5 221.7)" fill="url(#gb)" opacity="0.89"/>
<ellipse cx="412.2" cy="133.9" rx="2.7" ry="1.8" transform="rotate(51 412.2 133.9)" fill="url(#gcd)" opacity="0.88"/>
<ellipse cx="474.8" cy="69.6" rx="2.4" ry="2.1" transform="rotate(24 474.8 69.6)" fill="url(#gb)" opacity="0.82"/>
<ellipse cx="314.1" cy="125.8" rx="3.0" ry="2.4" transform="rotate(45 314.1 125.8)" fill="url(#gcd)" opacity="0.71"/>
<ellipse cx="414.8" cy="21.8" rx="3.2" ry="2.7" transform="rotate(17 414.8 21.8)" fill="url(#gcd)" opacity="0.71"/>
<ellipse cx="520.9" cy="84.7" rx="3.1" ry="2.2" transform="rotate(42 520.9 84.7)" fill="url(#gb)" opacity="0.98"/>
<ellipse cx="464.8" cy="25.0" rx="3.1" ry="2.2" transform="rotate(21 464.8 25.0)" fill="url(#gb)" opacity="0.71"/>
<ellipse cx="454.1" cy="38.6" rx="2.3" ry="2.0" transform="rotate(43 454.1 38.6)" fill="url(#gb)" opacity="0.76"/>
<ellipse cx="319.6" cy="31.1" rx="2.4" ry="1.8" transform="rotate(19 319.6 31.1)" fill="url(#gb)" opacity="0.94"/>
<ellipse cx="265.3" cy="188.8" rx="3.1" ry="2.1" transform="rotate(49 265.3 188.8)" fill="url(#gb)" opacity="0.87"/>
<ellipse cx="427.4" cy="144.6" rx="2.7" ry="2.2" transform="rotate(39 427.4 144.6)" fill="url(#gcd)" opacity="0.94"/>
<ellipse cx="480.9" cy="136.2" rx="2.3" ry="1.8" transform="rotate(27 480.9 136.2)" fill="url(#gcd)" opacity="0.82"/>
<ellipse cx="419.9" cy="109.6" rx="2.9" ry="2.0" transform="rotate(48 419.9 109.6)" fill="url(#gb)" opacity="0.94"/>
<ellipse cx="443.2" cy="228.3" rx="2.3" ry="1.9" transform="rotate(23 443.2 228.3)" fill="url(#gcd)" opacity="0.83"/>
<ellipse cx="450.6" cy="250.7" rx="3.2" ry="2.5" transform="rotate(29 450.6 250.7)" fill="url(#gb)" opacity="0.73"/>
<ellipse cx="298.7" cy="64.7" rx="3.0" ry="2.6" transform="rotate(19 298.7 64.7)" fill="url(#gb)" opacity="0.81"/>
<ellipse cx="371.1" cy="241.6" rx="3.0" ry="2.1" transform="rotate(39 371.1 241.6)" fill="url(#gb)" opacity="0.99"/>
<ellipse cx="338.0" cy="141.4" rx="2.2" ry="1.5" transform="rotate(20 338.0 141.4)" fill="url(#gb)" opacity="0.91"/>
<ellipse cx="336.4" cy="231.7" rx="2.7" ry="2.1" transform="rotate(31 336.4 231.7)" fill="url(#gb)" opacity="0.88"/>
<ellipse cx="352.5" cy="217.7" rx="3.1" ry="2.6" transform="rotate(47 352.5 217.7)" fill="url(#gb)" opacity="0.97"/>
<ellipse cx="423.8" cy="-0.1" rx="2.9" ry="1.9" transform="rotate(42 423.8 -0.1)" fill="url(#gb)" opacity="0.95"/>
<ellipse cx="336.6" cy="27.7" rx="3.1" ry="2.2" transform="rotate(53 336.6 27.7)" fill="url(#gb)" opacity="0.83"/>
<ellipse cx="269.2" cy="211.4" rx="2.5" ry="1.8" transform="rotate(29 269.2 211.4)" fill="url(#gcd)" opacity="0.80"/>
<ellipse cx="506.0" cy="258.0" rx="2.6" ry="2.3" transform="rotate(41 506.0 258.0)" fill="url(#gb)" opacity="0.98"/>
<ellipse cx="403.5" cy="188.5" rx="3.0" ry="2.7" transform="rotate(45 403.5 188.5)" fill="url(#gcd)" opacity="0.78"/>
<ellipse cx="291.3" cy="196.4" rx="2.6" ry="1.7" transform="rotate(24 291.3 196.4)" fill="url(#gb)" opacity="0.97"/>
<ellipse cx="490.4" cy="139.5" rx="2.5" ry="2.1" transform="rotate(46 490.4 139.5)" fill="url(#gb)" opacity="0.97"/>
<ellipse cx="458.3" cy="4.6" rx="2.7" ry="1.9" transform="rotate(48 458.3 4.6)" fill="url(#gb)" opacity="0.79"/>
<ellipse cx="305.6" cy="8.7" rx="2.6" ry="2.0" transform="rotate(54 305.6 8.7)" fill="url(#gb)" opacity="0.75"/>
<ellipse cx="510.8" cy="7.2" rx="2.8" ry="2.2" transform="rotate(53 510.8 7.2)" fill="url(#gb)" opacity="0.82"/>
<ellipse cx="281.8" cy="220.0" rx="2.9" ry="2.5" transform="rotate(19 281.8 220.0)" fill="url(#gcd)" opacity="0.76"/>
<ellipse cx="454.4" cy="166.8" rx="3.1" ry="2.1" transform="rotate(25 454.4 166.8)" fill="url(#gb)" opacity="0.91"/>
<ellipse cx="382.1" cy="114.0" rx="2.4" ry="1.8" transform="rotate(42 382.1 114.0)" fill="url(#gb)" opacity="0.91"/>
<ellipse cx="459.5" cy="41.8" rx="3.0" ry="2.1" transform="rotate(25 459.5 41.8)" fill="url(#gb)" opacity="0.71"/>
<ellipse cx="276.4" cy="202.7" rx="2.4" ry="1.7" transform="rotate(54 276.4 202.7)" fill="url(#gb)" opacity="0.89"/>
<ellipse cx="320.0" cy="38.5" rx="2.9" ry="2.3" transform="rotate(43 320.0 38.5)" fill="url(#gcd)" opacity="0.79"/>
<ellipse cx="414.2" cy="173.2" rx="2.3" ry="1.5" transform="rotate(29 414.2 173.2)" fill="url(#gcd)" opacity="0.74"/>
<ellipse cx="315.1" cy="152.5" rx="2.7" ry="2.4" transform="rotate(43 315.1 152.5)" fill="url(#gb)" opacity="0.78"/>
<ellipse cx="453.4" cy="205.8" rx="2.4" ry="1.6" transform="rotate(27 453.4 205.8)" fill="url(#gb)" opacity="0.82"/>
<ellipse cx="424.9" cy="31.4" rx="2.6" ry="2.2" transform="rotate(19 424.9 31.4)" fill="url(#gb)" opacity="0.98"/>
<ellipse cx="431.2" cy="98.7" rx="3.0" ry="2.0" transform="rotate(48 431.2 98.7)" fill="url(#gb)" opacity="0.77"/>
<ellipse cx="459.4" cy="29.2" rx="3.0" ry="2.4" transform="rotate(26 459.4 29.2)" fill="url(#gcd)" opacity="0.70"/>
<ellipse cx="401.9" cy="53.3" rx="3.1" ry="2.2" transform="rotate(41 401.9 53.3)" fill="url(#gb)" opacity="0.88"/>
<ellipse cx="511.3" cy="36.0" rx="2.4" ry="1.6" transform="rotate(19 511.3 36.0)" fill="url(#gb)" opacity="0.99"/>
<ellipse cx="263.5" cy="97.7" rx="2.9" ry="2.2" transform="rotate(24 263.5 97.7)" fill="url(#gcd)" opacity="0.72"/>
<ellipse cx="464.2" cy="89.5" rx="3.1" ry="2.1" transform="rotate(54 464.2 89.5)" fill="url(#gb)" opacity="0.81"/>
<ellipse cx="285.9" cy="158.2" rx="2.3" ry="1.9" transform="rotate(25 285.9 158.2)" fill="url(#gb)" opacity="0.81"/>
<ellipse cx="474.8" cy="238.3" rx="2.3" ry="1.7" transform="rotate(47 474.8 238.3)" fill="url(#gb)" opacity="0.79"/>
<ellipse cx="515.9" cy="22.4" rx="3.0" ry="2.1" transform="rotate(23 515.9 22.4)" fill="url(#gb)" opacity="0.77"/>
<ellipse cx="510.7" cy="186.6" rx="2.6" ry="2.1" transform="rotate(34 510.7 186.6)" fill="url(#gcd)" opacity="0.96"/>
<ellipse cx="335.3" cy="115.1" rx="2.9" ry="2.4" transform="rotate(24 335.3 115.1)" fill="url(#gb)" opacity="0.71"/>
<ellipse cx="317.1" cy="48.0" rx="2.3" ry="1.8" transform="rotate(43 317.1 48.0)" fill="url(#gcd)" opacity="0.73"/>
<ellipse cx="384.6" cy="149.2" rx="2.7" ry="1.9" transform="rotate(24 384.6 149.2)" fill="url(#gcd)" opacity="0.83"/>
<ellipse cx="380.1" cy="63.7" rx="2.3" ry="1.7" transform="rotate(34 380.1 63.7)" fill="url(#gb)" opacity="0.98"/>
<ellipse cx="295.2" cy="225.2" rx="2.3" ry="1.6" transform="rotate(45 295.2 225.2)" fill="url(#gb)" opacity="0.87"/>
<ellipse cx="520.6" cy="183.7" rx="3.2" ry="2.7" transform="rotate(19 520.6 183.7)" fill="url(#gb)" opacity="0.98"/>
<ellipse cx="427.3" cy="57.0" rx="2.4" ry="1.7" transform="rotate(50 427.3 57.0)" fill="url(#gcd)" opacity="0.76"/>
<ellipse cx="388.5" cy="222.3" rx="2.5" ry="2.1" transform="rotate(33 388.5 222.3)" fill="url(#gcd)" opacity="0.92"/>
<ellipse cx="521.6" cy="210.4" rx="2.7" ry="1.9" transform="rotate(23 521.6 210.4)" fill="url(#gb)" opacity="0.90"/>
<ellipse cx="434.1" cy="4.0" rx="2.3" ry="2.0" transform="rotate(34 434.1 4.0)" fill="url(#gcd)" opacity="0.75"/>
<ellipse cx="373.1" cy="148.3" rx="2.9" ry="2.2" transform="rotate(16 373.1 148.3)" fill="url(#gb)" opacity="0.84"/>
<ellipse cx="511.3" cy="90.5" rx="2.7" ry="1.9" transform="rotate(35 511.3 90.5)" fill="url(#gb)" opacity="0.88"/>
<ellipse cx="343.4" cy="210.1" rx="2.3" ry="2.0" transform="rotate(53 343.4 210.1)" fill="url(#gb)" opacity="0.92"/>
<ellipse cx="368.7" cy="233.7" rx="2.6" ry="2.2" transform="rotate(22 368.7 233.7)" fill="url(#gb)" opacity="0.77"/>
<ellipse cx="286.9" cy="142.5" rx="3.1" ry="2.1" transform="rotate(24 286.9 142.5)" fill="url(#gb)" opacity="0.71"/>
<ellipse cx="447.7" cy="87.3" rx="2.3" ry="1.6" transform="rotate(45 447.7 87.3)" fill="url(#gb)" opacity="0.87"/>
<ellipse cx="271.7" cy="138.2" rx="2.6" ry="2.1" transform="rotate(16 271.7 138.2)" fill="url(#gcd)" opacity="0.98"/>
<ellipse cx="482.6" cy="67.8" rx="2.7" ry="2.1" transform="rotate(53 482.6 67.8)" fill="url(#gb)" opacity="0.85"/>
<ellipse cx="425.8" cy="87.0" rx="2.8" ry="2.0" transform="rotate(48 425.8 87.0)" fill="url(#gb)" opacity="0.76"/>
<ellipse cx="465.2" cy="171.9" rx="2.7" ry="1.9" transform="rotate(53 465.2 171.9)" fill="url(#gb)" opacity="0.80"/>
<ellipse cx="293.6" cy="245.0" rx="2.5" ry="2.1" transform="rotate(16 293.6 245.0)" fill="url(#gcd)" opacity="0.81"/>
<ellipse cx="490.5" cy="2.0" rx="3.0" ry="2.0" transform="rotate(39 490.5 2.0)" fill="url(#gb)" opacity="0.78"/>
<ellipse cx="482.5" cy="1.2" rx="2.8" ry="2.3" transform="rotate(21 482.5 1.2)" fill="url(#gcd)" opacity="0.77"/>
<ellipse cx="468.9" cy="166.9" rx="3.2" ry="2.2" transform="rotate(20 468.9 166.9)" fill="url(#gb)" opacity="0.86"/>
<ellipse cx="474.8" cy="133.3" rx="3.1" ry="2.1" transform="rotate(24 474.8 133.3)" fill="url(#gb)" opacity="0.75"/>
<ellipse cx="303.6" cy="234.1" rx="2.7" ry="2.0" transform="rotate(51 303.6 234.1)" fill="url(#gb)" opacity="0.90"/>
<ellipse cx="480.2" cy="126.4" rx="3.2" ry="2.3" transform="rotate(53 480.2 126.4)" fill="url(#gcd)" opacity="0.82"/>
<ellipse cx="406.4" cy="177.6" rx="3.1" ry="2.1" transform="rotate(16 406.4 177.6)" fill="url(#gcd)" opacity="0.79"/>
<ellipse cx="366.6" cy="133.1" rx="3.2" ry="2.7" transform="rotate(32 366.6 133.1)" fill="url(#gb)" opacity="0.86"/>
<ellipse cx="512.8" cy="179.7" rx="3.0" ry="2.4" transform="rotate(36 512.8 179.7)" fill="url(#gcd)" opacity="0.73"/>
<ellipse cx="411.5" cy="166.5" rx="2.9" ry="2.3" transform="rotate(47 411.5 166.5)" fill="url(#gb)" opacity="0.97"/>
<ellipse cx="430.5" cy="41.4" rx="2.4" ry="1.6" transform="rotate(51 430.5 41.4)" fill="url(#gcd)" opacity="0.87"/>
<ellipse cx="430.1" cy="196.0" rx="2.9" ry="2.1" transform="rotate(24 430.1 196.0)" fill="url(#gb)" opacity="0.81"/>
<ellipse cx="457.8" cy="237.5" rx="2.9" ry="1.9" transform="rotate(45 457.8 237.5)" fill="url(#gb)" opacity="0.89"/>
<ellipse cx="491.0" cy="14.9" rx="2.9" ry="2.4" transform="rotate(15 491.0 14.9)" fill="url(#gb)" opacity="0.84"/>
<ellipse cx="327.4" cy="162.9" rx="2.9" ry="2.3" transform="rotate(22 327.4 162.9)" fill="url(#gb)" opacity="0.99"/>
<ellipse cx="412.0" cy="147.1" rx="2.4" ry="1.8" transform="rotate(53 412.0 147.1)" fill="url(#gb)" opacity="0.76"/>
<ellipse cx="370.4" cy="105.3" rx="3.2" ry="2.7" transform="rotate(24 370.4 105.3)" fill="url(#gb)" opacity="0.92"/>
<ellipse cx="369.4" cy="182.2" rx="2.9" ry="2.4" transform="rotate(20 369.4 182.2)" fill="url(#gcd)" opacity="0.77"/>
<ellipse cx="495.9" cy="217.5" rx="2.5" ry="1.6" transform="rotate(20 495.9 217.5)" fill="url(#gb)" opacity="0.82"/>
<ellipse cx="372.4" cy="129.1" rx="2.3" ry="1.8" transform="rotate(53 372.4 129.1)" fill="url(#gb)" opacity="0.87"/>
<ellipse cx="460.9" cy="253.4" rx="2.9" ry="2.2" transform="rotate(22 460.9 253.4)" fill="url(#gcd)" opacity="0.84"/>
<ellipse cx="453.8" cy="190.2" rx="2.9" ry="2.0" transform="rotate(30 453.8 190.2)" fill="url(#gb)" opacity="0.99"/>
<ellipse cx="496.4" cy="162.3" rx="3.0" ry="2.4" transform="rotate(40 496.4 162.3)" fill="url(#gb)" opacity="0.91"/>
<ellipse cx="430.6" cy="33.0" rx="2.4" ry="2.0" transform="rotate(27 430.6 33.0)" fill="url(#gb)" opacity="0.78"/>
<ellipse cx="499.2" cy="153.4" rx="2.8" ry="2.4" transform="rotate(50 499.2 153.4)" fill="url(#gcd)" opacity="0.88"/>
<ellipse cx="497.2" cy="123.5" rx="2.2" ry="1.7" transform="rotate(44 497.2 123.5)" fill="url(#gcd)" opacity="0.78"/>
<ellipse cx="269.1" cy="170.6" rx="2.2" ry="1.5" transform="rotate(43 269.1 170.6)" fill="url(#gcd)" opacity="0.70"/>
<ellipse cx="450.2" cy="77.1" rx="2.5" ry="2.0" transform="rotate(54 450.2 77.1)" fill="url(#gcd)" opacity="0.71"/>
<ellipse cx="441.0" cy="66.5" rx="3.1" ry="2.7" transform="rotate(21 441.0 66.5)" fill="url(#gb)" opacity="0.80"/>
<ellipse cx="262.6" cy="241.9" rx="2.5" ry="1.9" transform="rotate(34 262.6 241.9)" fill="url(#gcd)" opacity="0.78"/>
<ellipse cx="477.5" cy="212.6" rx="2.3" ry="1.6" transform="rotate(19 477.5 212.6)" fill="url(#gb)" opacity="0.89"/>
<ellipse cx="377.9" cy="29.9" rx="2.5" ry="2.1" transform="rotate(44 377.9 29.9)" fill="url(#gb)" opacity="0.80"/>
<ellipse cx="434.4" cy="119.9" rx="2.4" ry="2.1" transform="rotate(37 434.4 119.9)" fill="url(#gcd)" opacity="0.72"/>
<ellipse cx="465.9" cy="73.9" rx="2.9" ry="2.2" transform="rotate(44 465.9 73.9)" fill="url(#gb)" opacity="0.77"/>
<ellipse cx="272.1" cy="53.8" rx="3.0" ry="2.0" transform="rotate(38 272.1 53.8)" fill="url(#gb)" opacity="0.76"/>
<ellipse cx="520.3" cy="63.8" rx="3.0" ry="2.5" transform="rotate(24 520.3 63.8)" fill="url(#gb)" opacity="0.73"/>
<ellipse cx="368.1" cy="190.5" rx="2.8" ry="1.9" transform="rotate(23 368.1 190.5)" fill="url(#gcd)" opacity="0.87"/>
<ellipse cx="488.0" cy="103.3" rx="2.8" ry="2.0" transform="rotate(25 488.0 103.3)" fill="url(#gb)" opacity="0.83"/>
<ellipse cx="347.7" cy="93.7" rx="2.9" ry="2.0" transform="rotate(44 347.7 93.7)" fill="url(#gcd)" opacity="0.77"/>
<ellipse cx="491.4" cy="234.3" rx="2.8" ry="2.3" transform="rotate(40 491.4 234.3)" fill="url(#gcd)" opacity="0.97"/>
<ellipse cx="335.3" cy="78.4" rx="2.5" ry="2.0" transform="rotate(25 335.3 78.4)" fill="url(#gcd)" opacity="0.75"/>
<ellipse cx="463.5" cy="198.6" rx="3.0" ry="2.5" transform="rotate(44 463.5 198.6)" fill="url(#gb)" opacity="0.99"/>
<ellipse cx="345.3" cy="51.6" rx="2.5" ry="1.8" transform="rotate(44 345.3 51.6)" fill="url(#gb)" opacity="0.72"/>
<ellipse cx="393.5" cy="13.6" rx="2.3" ry="1.5" transform="rotate(36 393.5 13.6)" fill="url(#gb)" opacity="0.75"/>
<ellipse cx="386.7" cy="202.0" rx="3.1" ry="2.3" transform="rotate(23 386.7 202.0)" fill="url(#gb)" opacity="0.74"/>
<ellipse cx="340.6" cy="162.7" rx="2.7" ry="2.0" transform="rotate(44 340.6 162.7)" fill="url(#gb)" opacity="0.86"/>
<ellipse cx="448.6" cy="51.9" rx="2.3" ry="1.6" transform="rotate(30 448.6 51.9)" fill="url(#gcd)" opacity="0.85"/>
<ellipse cx="423.1" cy="38.1" rx="2.9" ry="2.0" transform="rotate(28 423.1 38.1)" fill="url(#gb)" opacity="0.84"/>
<ellipse cx="518.6" cy="140.0" rx="3.0" ry="2.2" transform="rotate(33 518.6 140.0)" fill="url(#gb)" opacity="0.98"/>
<ellipse cx="379.2" cy="43.1" rx="2.8" ry="1.9" transform="rotate(33 379.2 43.1)" fill="url(#gcd)" opacity="0.89"/>
<ellipse cx="426.0" cy="65.2" rx="2.2" ry="2.0" transform="rotate(51 426.0 65.2)" fill="url(#gb)" opacity="0.74"/>
<ellipse cx="441.7" cy="168.7" rx="2.8" ry="2.0" transform="rotate(18 441.7 168.7)" fill="url(#gb)" opacity="0.93"/>
<ellipse cx="333.4" cy="58.0" rx="2.6" ry="1.8" transform="rotate(31 333.4 58.0)" fill="url(#gb)" opacity="0.73"/>
<ellipse cx="394.3" cy="27.1" rx="2.3" ry="1.6" transform="rotate(46 394.3 27.1)" fill="url(#gcd)" opacity="0.74"/>
<ellipse cx="290.9" cy="51.4" rx="2.3" ry="1.6" transform="rotate(36 290.9 51.4)" fill="url(#gcd)" opacity="0.95"/>
<ellipse cx="340.0" cy="40.1" rx="2.4" ry="2.0" transform="rotate(32 340.0 40.1)" fill="url(#gcd)" opacity="0.80"/>
<ellipse cx="307.9" cy="254.1" rx="2.4" ry="2.1" transform="rotate(20 307.9 254.1)" fill="url(#gb)" opacity="0.78"/>
<ellipse cx="445.9" cy="3.2" rx="3.1" ry="2.7" transform="rotate(34 445.9 3.2)" fill="url(#gb)" opacity="0.99"/>
<ellipse cx="292.0" cy="171.8" rx="2.5" ry="1.9" transform="rotate(44 292.0 171.8)" fill="url(#gcd)" opacity="0.92"/>
<ellipse cx="382.2" cy="128.1" rx="2.4" ry="2.1" transform="rotate(19 382.2 128.1)" fill="url(#gb)" opacity="0.94"/>
<ellipse cx="316.0" cy="252.5" rx="2.4" ry="1.8" transform="rotate(34 316.0 252.5)" fill="url(#gcd)" opacity="1.00"/>
<ellipse cx="278.1" cy="209.3" rx="3.1" ry="2.2" transform="rotate(22 278.1 209.3)" fill="url(#gb)" opacity="0.92"/>
<ellipse cx="310.3" cy="215.5" rx="2.4" ry="1.8" transform="rotate(48 310.3 215.5)" fill="url(#gb)" opacity="0.96"/>
<ellipse cx="377.3" cy="207.4" rx="2.2" ry="1.8" transform="rotate(39 377.3 207.4)" fill="url(#gb)" opacity="0.97"/>
<ellipse cx="420.9" cy="252.2" rx="2.5" ry="2.1" transform="rotate(48 420.9 252.2)" fill="url(#gb)" opacity="0.78"/>
<ellipse cx="341.1" cy="120.7" rx="2.6" ry="1.9" transform="rotate(30 341.1 120.7)" fill="url(#gcd)" opacity="0.73"/>
<ellipse cx="328.6" cy="31.7" rx="3.1" ry="2.3" transform="rotate(40 328.6 31.7)" fill="url(#gb)" opacity="0.97"/>
<ellipse cx="364.7" cy="127.6" rx="2.4" ry="2.1" transform="rotate(47 364.7 127.6)" fill="url(#gb)" opacity="1.00"/>
<ellipse cx="347.7" cy="132.6" rx="3.0" ry="2.5" transform="rotate(25 347.7 132.6)" fill="url(#gb)" opacity="0.90"/>
<ellipse cx="360.9" cy="4.2" rx="3.0" ry="2.1" transform="rotate(37 360.9 4.2)" fill="url(#gb)" opacity="0.80"/>
<ellipse cx="404.5" cy="151.8" rx="2.5" ry="2.2" transform="rotate(49 404.5 151.8)" fill="url(#gcd)" opacity="0.96"/>
<ellipse cx="461.3" cy="178.1" rx="3.1" ry="2.6" transform="rotate(42 461.3 178.1)" fill="url(#gcd)" opacity="0.90"/>
<ellipse cx="262.5" cy="170.9" rx="3.1" ry="2.4" transform="rotate(33 262.5 170.9)" fill="url(#gb)" opacity="0.80"/>
<ellipse cx="492.5" cy="176.5" rx="3.0" ry="2.5" transform="rotate(24 492.5 176.5)" fill="url(#gcd)" opacity="0.80"/>
<ellipse cx="451.8" cy="140.1" rx="2.3" ry="1.7" transform="rotate(16 451.8 140.1)" fill="url(#gcd)" opacity="0.94"/>
<ellipse cx="306.8" cy="208.9" rx="2.3" ry="1.5" transform="rotate(45 306.8 208.9)" fill="url(#gb)" opacity="0.76"/>
<ellipse cx="323.5" cy="98.0" rx="2.6" ry="2.2" transform="rotate(53 323.5 98.0)" fill="url(#gb)" opacity="0.79"/>
<ellipse cx="318.5" cy="142.2" rx="3.1" ry="2.4" transform="rotate(51 318.5 142.2)" fill="url(#gb)" opacity="0.92"/>
<ellipse cx="351.0" cy="234.1" rx="3.1" ry="2.4" transform="rotate(19 351.0 234.1)" fill="url(#gb)" opacity="0.88"/>
<ellipse cx="446.7" cy="106.0" rx="2.7" ry="2.1" transform="rotate(32 446.7 106.0)" fill="url(#gb)" opacity="0.96"/>
<ellipse cx="272.2" cy="191.2" rx="2.4" ry="1.8" transform="rotate(30 272.2 191.2)" fill="url(#gb)" opacity="0.99"/>
<rect x="264.6" y="1" width="254.1" height="2.2" fill="#c04c12" opacity="0.75"/>
</g>
<g clip-path="url(#cc)"><rect x="1.5" y="264.4" width="254.4" height="254.1" fill="#300b04"/>
<rect x="1.5" y="264.4" width="254.4" height="254.1" filter="url(#nz)" opacity="0.35"/>
<ellipse cx="12.0" cy="269.5" rx="4.8" ry="3.8" transform="rotate(50 12.0 269.5)" fill="url(#hc)"/>
<ellipse cx="23.2" cy="268.2" rx="4.3" ry="3.5" transform="rotate(18 23.2 268.2)" fill="url(#hc)"/>
<ellipse cx="66.2" cy="267.0" rx="5.2" ry="4.1" transform="rotate(30 66.2 267.0)" fill="url(#hc)"/>
<ellipse cx="108.0" cy="273.2" rx="5.1" ry="4.1" transform="rotate(21 108.0 273.2)" fill="url(#hc)"/>
<ellipse cx="119.5" cy="270.0" rx="4.6" ry="3.4" transform="rotate(52 119.5 270.0)" fill="url(#hc)"/>
<ellipse cx="63.7" cy="279.5" rx="5.0" ry="4.3" transform="rotate(45 63.7 279.5)" fill="url(#hc)"/>
<ellipse cx="93.7" cy="279.0" rx="4.4" ry="3.4" transform="rotate(44 93.7 279.0)" fill="url(#hc)"/>
<ellipse cx="116.2" cy="280.0" rx="4.8" ry="3.5" transform="rotate(23 116.2 280.0)" fill="url(#hc)"/>
<ellipse cx="81.2" cy="282.5" rx="4.6" ry="4.0" transform="rotate(50 81.2 282.5)" fill="url(#hc)"/>
<ellipse cx="76.2" cy="285.7" rx="5.3" ry="3.9" transform="rotate(35 76.2 285.7)" fill="url(#hc)"/>
<ellipse cx="92.5" cy="287.7" rx="4.3" ry="3.5" transform="rotate(19 92.5 287.7)" fill="url(#hc)"/>
<ellipse cx="108.0" cy="282.5" rx="5.0" ry="3.7" transform="rotate(51 108.0 282.5)" fill="url(#hc)"/>
<ellipse cx="117.5" cy="286.2" rx="4.5" ry="3.3" transform="rotate(37 117.5 286.2)" fill="url(#hc)"/>
<ellipse cx="3.0" cy="284.0" rx="4.3" ry="3.2" transform="rotate(52 3.0 284.0)" fill="url(#hc)"/>
<ellipse cx="64.5" cy="293.2" rx="4.8" ry="3.8" transform="rotate(19 64.5 293.2)" fill="url(#hc)"/>
<ellipse cx="12.5" cy="294.5" rx="5.0" ry="3.7" transform="rotate(53 12.5 294.5)" fill="url(#hc)"/>
<ellipse cx="8.7" cy="297.0" rx="4.4" ry="3.6" transform="rotate(21 8.7 297.0)" fill="url(#hc)"/>
<ellipse cx="78.0" cy="296.5" rx="4.6" ry="4.2" transform="rotate(20 78.0 296.5)" fill="url(#hc)"/>
<ellipse cx="115.5" cy="297.0" rx="5.1" ry="4.6" transform="rotate(39 115.5 297.0)" fill="url(#hc)"/>
<ellipse cx="100.0" cy="302.0" rx="4.4" ry="3.4" transform="rotate(39 100.0 302.0)" fill="url(#hc)"/>
<ellipse cx="93.7" cy="304.0" rx="5.2" ry="3.8" transform="rotate(50 93.7 304.0)" fill="url(#hc)"/>
<ellipse cx="57.0" cy="307.0" rx="5.0" ry="4.0" transform="rotate(54 57.0 307.0)" fill="url(#hc)"/>
<ellipse cx="68.0" cy="307.0" rx="5.0" ry="3.6" transform="rotate(28 68.0 307.0)" fill="url(#hc)"/>
<ellipse cx="83.7" cy="307.0" rx="4.8" ry="3.6" transform="rotate(28 83.7 307.0)" fill="url(#hc)"/>
<ellipse cx="101.2" cy="307.7" rx="4.4" ry="3.7" transform="rotate(46 101.2 307.7)" fill="url(#hc)"/>
<ellipse cx="18.7" cy="309.0" rx="4.3" ry="3.7" transform="rotate(35 18.7 309.0)" fill="url(#hc)"/>
<ellipse cx="25.0" cy="309.0" rx="5.1" ry="3.9" transform="rotate(32 25.0 309.0)" fill="url(#hc)"/>
<ellipse cx="3.0" cy="313.2" rx="4.6" ry="4.1" transform="rotate(30 3.0 313.2)" fill="url(#hc)"/>
<ellipse cx="27.5" cy="314.5" rx="5.3" ry="4.2" transform="rotate(22 27.5 314.5)" fill="url(#hc)"/>
<ellipse cx="51.2" cy="315.2" rx="5.3" ry="4.0" transform="rotate(54 51.2 315.2)" fill="url(#hc)"/>
<ellipse cx="101.2" cy="315.2" rx="4.5" ry="4.0" transform="rotate(39 101.2 315.2)" fill="url(#hc)"/>
<ellipse cx="111.2" cy="312.0" rx="4.3" ry="3.2" transform="rotate(31 111.2 312.0)" fill="url(#hc)"/>
<ellipse cx="121.2" cy="314.0" rx="5.3" ry="4.5" transform="rotate(21 121.2 314.0)" fill="url(#hc)"/>
<ellipse cx="127.5" cy="312.7" rx="4.9" ry="3.7" transform="rotate(37 127.5 312.7)" fill="url(#hc)"/>
<ellipse cx="112.5" cy="316.5" rx="5.1" ry="3.7" transform="rotate(43 112.5 316.5)" fill="url(#hc)"/>
<ellipse cx="74.5" cy="319.0" rx="5.2" ry="4.1" transform="rotate(22 74.5 319.0)" fill="url(#hc)"/>
<ellipse cx="33.7" cy="320.0" rx="5.1" ry="4.4" transform="rotate(35 33.7 320.0)" fill="url(#hc)"/>
<ellipse cx="92.5" cy="320.7" rx="4.7" ry="3.2" transform="rotate(22 92.5 320.7)" fill="url(#hc)"/>
<ellipse cx="7.0" cy="321.5" rx="5.3" ry="3.7" transform="rotate(24 7.0 321.5)" fill="url(#hc)"/>
<ellipse cx="59.2" cy="323.2" rx="4.3" ry="3.3" transform="rotate(37 59.2 323.2)" fill="url(#hc)"/>
<ellipse cx="38.0" cy="324.5" rx="4.8" ry="3.6" transform="rotate(53 38.0 324.5)" fill="url(#hc)"/>
<ellipse cx="33.7" cy="329.0" rx="4.9" ry="4.4" transform="rotate(55 33.7 329.0)" fill="url(#hc)"/>
<ellipse cx="24.2" cy="331.5" rx="3.5" ry="2.8" transform="rotate(36 24.2 331.5)" fill="url(#hc)"/>
<ellipse cx="15.0" cy="335.2" rx="5.3" ry="3.9" transform="rotate(37 15.0 335.2)" fill="url(#hc)"/>
<ellipse cx="42.5" cy="334.0" rx="4.7" ry="4.0" transform="rotate(19 42.5 334.0)" fill="url(#hc)"/>
<ellipse cx="88.7" cy="332.0" rx="5.1" ry="4.1" transform="rotate(40 88.7 332.0)" fill="url(#hc)"/>
<ellipse cx="103.7" cy="332.5" rx="4.4" ry="3.6" transform="rotate(50 103.7 332.5)" fill="url(#hc)"/>
<ellipse cx="115.0" cy="332.5" rx="4.6" ry="4.0" transform="rotate(40 115.0 332.5)" fill="url(#hc)"/>
<ellipse cx="57.5" cy="338.7" rx="5.3" ry="3.9" transform="rotate(40 57.5 338.7)" fill="url(#hc)"/>
<ellipse cx="70.0" cy="337.0" rx="5.1" ry="4.0" transform="rotate(23 70.0 337.0)" fill="url(#hc)"/>
<ellipse cx="78.0" cy="337.0" rx="5.0" ry="3.8" transform="rotate(29 78.0 337.0)" fill="url(#hc)"/>
<ellipse cx="15.5" cy="342.0" rx="5.1" ry="4.0" transform="rotate(46 15.5 342.0)" fill="url(#hc)"/>
<ellipse cx="32.0" cy="342.5" rx="4.7" ry="4.0" transform="rotate(53 32.0 342.5)" fill="url(#hc)"/>
<ellipse cx="90.0" cy="342.5" rx="5.0" ry="4.5" transform="rotate(48 90.0 342.5)" fill="url(#hc)"/>
<ellipse cx="97.5" cy="344.5" rx="4.4" ry="3.5" transform="rotate(46 97.5 344.5)" fill="url(#hc)"/>
<ellipse cx="19.5" cy="347.0" rx="4.5" ry="3.4" transform="rotate(20 19.5 347.0)" fill="url(#hc)"/>
<ellipse cx="45.0" cy="346.5" rx="5.4" ry="4.8" transform="rotate(45 45.0 346.5)" fill="url(#hc)"/>
<ellipse cx="37.5" cy="349.0" rx="4.8" ry="3.9" transform="rotate(40 37.5 349.0)" fill="url(#hc)"/>
<ellipse cx="108.0" cy="347.0" rx="4.6" ry="3.5" transform="rotate(23 108.0 347.0)" fill="url(#hc)"/>
<ellipse cx="128.7" cy="344.5" rx="4.8" ry="4.3" transform="rotate(19 128.7 344.5)" fill="url(#hc)"/>
<ellipse cx="70.5" cy="350.7" rx="5.5" ry="3.8" transform="rotate(49 70.5 350.7)" fill="url(#hc)"/>
<ellipse cx="80.5" cy="353.2" rx="5.0" ry="3.8" transform="rotate(26 80.5 353.2)" fill="url(#hc)"/>
<ellipse cx="6.2" cy="354.5" rx="4.7" ry="4.0" transform="rotate(46 6.2 354.5)" fill="url(#hc)"/>
<ellipse cx="32.0" cy="354.5" rx="5.3" ry="4.7" transform="rotate(52 32.0 354.5)" fill="url(#hc)"/>
<ellipse cx="91.2" cy="355.2" rx="5.4" ry="4.0" transform="rotate(25 91.2 355.2)" fill="url(#hc)"/>
<ellipse cx="118.0" cy="353.2" rx="5.0" ry="4.0" transform="rotate(48 118.0 353.2)" fill="url(#hc)"/>
<ellipse cx="128.7" cy="352.7" rx="4.8" ry="3.6" transform="rotate(33 128.7 352.7)" fill="url(#hc)"/>
<ellipse cx="85.0" cy="359.5" rx="5.5" ry="4.5" transform="rotate(22 85.0 359.5)" fill="url(#hc)"/>
<ellipse cx="106.2" cy="358.7" rx="5.0" ry="3.7" transform="rotate(37 106.2 358.7)" fill="url(#hc)"/>
<ellipse cx="62.0" cy="362.0" rx="4.5" ry="3.8" transform="rotate(21 62.0 362.0)" fill="url(#hc)"/>
<ellipse cx="5.5" cy="364.5" rx="5.0" ry="3.9" transform="rotate(39 5.5 364.5)" fill="url(#hc)"/>
<ellipse cx="14.2" cy="365.2" rx="5.2" ry="4.5" transform="rotate(23 14.2 365.2)" fill="url(#hc)"/>
<ellipse cx="37.0" cy="365.7" rx="4.9" ry="3.8" transform="rotate(37 37.0 365.7)" fill="url(#hc)"/>
<ellipse cx="70.5" cy="364.5" rx="4.8" ry="4.2" transform="rotate(48 70.5 364.5)" fill="url(#hc)"/>
<ellipse cx="121.7" cy="366.5" rx="4.9" ry="3.6" transform="rotate(26 121.7 366.5)" fill="url(#hc)"/>
<ellipse cx="23.7" cy="370.7" rx="4.9" ry="3.6" transform="rotate(52 23.7 370.7)" fill="url(#hc)"/>
<ellipse cx="106.2" cy="370.7" rx="4.4" ry="3.3" transform="rotate(19 106.2 370.7)" fill="url(#hc)"/>
<ellipse cx="69.5" cy="373.2" rx="5.2" ry="4.7" transform="rotate(31 69.5 373.2)" fill="url(#hc)"/>
<ellipse cx="93.7" cy="374.0" rx="5.3" ry="4.3" transform="rotate(43 93.7 374.0)" fill="url(#hc)"/>
<ellipse cx="8.7" cy="375.2" rx="5.0" ry="3.6" transform="rotate(30 8.7 375.2)" fill="url(#hc)"/>
<ellipse cx="115.5" cy="376.5" rx="4.8" ry="3.8" transform="rotate(38 115.5 376.5)" fill="url(#hc)"/>
<ellipse cx="45.0" cy="380.2" rx="4.3" ry="3.7" transform="rotate(34 45.0 380.2)" fill="url(#hc)"/>
<ellipse cx="67.0" cy="379.5" rx="5.3" ry="4.5" transform="rotate(45 67.0 379.5)" fill="url(#hc)"/>
<ellipse cx="88.7" cy="379.5" rx="4.6" ry="3.5" transform="rotate(42 88.7 379.5)" fill="url(#hc)"/>
<ellipse cx="23.7" cy="381.5" rx="4.8" ry="3.6" transform="rotate(29 23.7 381.5)" fill="url(#hc)"/>
<ellipse cx="8.7" cy="384.0" rx="5.0" ry="4.1" transform="rotate(16 8.7 384.0)" fill="url(#hc)"/>
<ellipse cx="37.5" cy="387.7" rx="4.8" ry="3.9" transform="rotate(19 37.5 387.7)" fill="url(#hc)"/>
<ellipse cx="53.2" cy="387.7" rx="4.5" ry="3.4" transform="rotate(51 53.2 387.7)" fill="url(#hc)"/>
<ellipse cx="75.0" cy="386.5" rx="4.6" ry="3.5" transform="rotate(32 75.0 386.5)" fill="url(#hc)"/>
<ellipse cx="94.5" cy="386.5" rx="5.3" ry="4.7" transform="rotate(44 94.5 386.5)" fill="url(#hc)"/>
<ellipse cx="108.0" cy="387.0" rx="4.9" ry="3.6" transform="rotate(31 108.0 387.0)" fill="url(#hc)"/>
<ellipse cx="120.5" cy="389.5" rx="4.8" ry="4.0" transform="rotate(37 120.5 389.5)" fill="url(#hc)"/>
<ellipse cx="81.2" cy="390.7" rx="5.3" ry="4.8" transform="rotate(29 81.2 390.7)" fill="url(#hc)"/>
<ellipse cx="62.5" cy="390.7" rx="5.3" ry="4.6" transform="rotate(22 62.5 390.7)" fill="url(#hc)"/>
<ellipse cx="6.2" cy="390.7" rx="4.9" ry="4.4" transform="rotate(42 6.2 390.7)" fill="url(#hc)"/>
<ellipse cx="152.5" cy="269.0" rx="5.4" ry="4.1" transform="rotate(49 152.5 269.0)" fill="url(#hc)"/>
<ellipse cx="169.5" cy="266.5" rx="5.0" ry="3.8" transform="rotate(26 169.5 266.5)" fill="url(#hc)"/>
<ellipse cx="171.2" cy="271.5" rx="4.5" ry="3.5" transform="rotate(31 171.2 271.5)" fill="url(#hc)"/>
<ellipse cx="181.2" cy="268.2" rx="5.2" ry="4.2" transform="rotate(17 181.2 268.2)" fill="url(#hc)"/>
<ellipse cx="204.5" cy="272.0" rx="4.5" ry="3.4" transform="rotate(23 204.5 272.0)" fill="url(#hc)"/>
<ellipse cx="219.5" cy="270.7" rx="5.1" ry="4.1" transform="rotate(49 219.5 270.7)" fill="url(#hc)"/>
<ellipse cx="226.2" cy="272.5" rx="5.2" ry="4.6" transform="rotate(30 226.2 272.5)" fill="url(#hc)"/>
<ellipse cx="250.7" cy="274.5" rx="5.4" ry="4.3" transform="rotate(34 250.7 274.5)" fill="url(#hc)"/>
<ellipse cx="253.7" cy="289.5" rx="4.5" ry="3.9" transform="rotate(19 253.7 289.5)" fill="url(#hc)"/>
<ellipse cx="245.5" cy="295.7" rx="5.4" ry="4.4" transform="rotate(40 245.5 295.7)" fill="url(#hc)"/>
<ellipse cx="249.5" cy="302.0" rx="5.4" ry="4.2" transform="rotate(23 249.5 302.0)" fill="url(#hc)"/>
<ellipse cx="148.0" cy="307.0" rx="4.4" ry="3.6" transform="rotate(49 148.0 307.0)" fill="url(#hc)"/>
<ellipse cx="158.2" cy="308.2" rx="4.6" ry="3.3" transform="rotate(20 158.2 308.2)" fill="url(#hc)"/>
<ellipse cx="194.5" cy="305.0" rx="4.7" ry="3.6" transform="rotate(40 194.5 305.0)" fill="url(#hc)"/>
<ellipse cx="210.0" cy="306.5" rx="5.4" ry="4.2" transform="rotate(28 210.0 306.5)" fill="url(#hc)"/>
<ellipse cx="221.2" cy="307.0" rx="5.3" ry="4.4" transform="rotate(45 221.2 307.0)" fill="url(#hc)"/>
<ellipse cx="192.0" cy="310.2" rx="4.6" ry="3.3" transform="rotate(49 192.0 310.2)" fill="url(#hc)"/>
<ellipse cx="219.5" cy="312.0" rx="5.1" ry="4.0" transform="rotate(43 219.5 312.0)" fill="url(#hc)"/>
<ellipse cx="252.5" cy="312.0" rx="4.4" ry="3.7" transform="rotate(53 252.5 312.0)" fill="url(#hc)"/>
<ellipse cx="168.7" cy="315.7" rx="4.4" ry="3.6" transform="rotate(49 168.7 315.7)" fill="url(#hc)"/>
<ellipse cx="163.7" cy="320.0" rx="4.7" ry="4.0" transform="rotate(29 163.7 320.0)" fill="url(#hc)"/>
<ellipse cx="141.2" cy="322.7" rx="4.9" ry="4.3" transform="rotate(54 141.2 322.7)" fill="url(#hc)"/>
<ellipse cx="196.2" cy="322.0" rx="4.7" ry="3.7" transform="rotate(47 196.2 322.0)" fill="url(#hc)"/>
<ellipse cx="183.0" cy="324.5" rx="4.9" ry="4.2" transform="rotate(50 183.0 324.5)" fill="url(#hc)"/>
<ellipse cx="229.5" cy="323.2" rx="5.2" ry="4.4" transform="rotate(25 229.5 323.2)" fill="url(#hc)"/>
<ellipse cx="242.0" cy="321.5" rx="4.8" ry="3.5" transform="rotate(31 242.0 321.5)" fill="url(#hc)"/>
<ellipse cx="221.0" cy="318.0" rx="5.7" ry="4.1" transform="rotate(47 221.0 318.0)" fill="url(#hc)"/>
<ellipse cx="141.2" cy="330.7" rx="5.0" ry="4.0" transform="rotate(32 141.2 330.7)" fill="url(#hc)"/>
<ellipse cx="135.5" cy="336.5" rx="4.8" ry="4.2" transform="rotate(53 135.5 336.5)" fill="url(#hc)"/>
<ellipse cx="157.0" cy="334.0" rx="5.4" ry="4.1" transform="rotate(27 157.0 334.0)" fill="url(#hc)"/>
<ellipse cx="183.7" cy="328.2" rx="4.3" ry="3.2" transform="rotate(23 183.7 328.2)" fill="url(#hc)"/>
<ellipse cx="190.0" cy="334.0" rx="5.0" ry="3.9" transform="rotate(54 190.0 334.0)" fill="url(#hc)"/>
<ellipse cx="202.5" cy="332.5" rx="4.5" ry="4.0" transform="rotate(42 202.5 332.5)" fill="url(#hc)"/>
<ellipse cx="210.0" cy="331.5" rx="4.7" ry="3.8" transform="rotate(23 210.0 331.5)" fill="url(#hc)"/>
<ellipse cx="223.7" cy="329.0" rx="4.8" ry="4.1" transform="rotate(45 223.7 329.0)" fill="url(#hc)"/>
<ellipse cx="244.5" cy="333.2" rx="5.0" ry="3.9" transform="rotate(46 244.5 333.2)" fill="url(#hc)"/>
<ellipse cx="248.7" cy="338.2" rx="5.1" ry="4.0" transform="rotate(34 248.7 338.2)" fill="url(#hc)"/>
<ellipse cx="152.5" cy="341.5" rx="4.4" ry="3.5" transform="rotate(44 152.5 341.5)" fill="url(#hc)"/>
<ellipse cx="174.5" cy="341.5" rx="4.4" ry="3.5" transform="rotate(36 174.5 341.5)" fill="url(#hc)"/>
<ellipse cx="131.2" cy="344.5" rx="4.5" ry="3.8" transform="rotate(36 131.2 344.5)" fill="url(#hc)"/>
<ellipse cx="144.5" cy="347.5" rx="5.6" ry="4.4" transform="rotate(26 144.5 347.5)" fill="url(#hc)"/>
<ellipse cx="202.5" cy="344.5" rx="5.1" ry="3.7" transform="rotate(43 202.5 344.5)" fill="url(#hc)"/>
<ellipse cx="226.2" cy="343.2" rx="5.2" ry="3.9" transform="rotate(50 226.2 343.2)" fill="url(#hc)"/>
<ellipse cx="187.0" cy="349.0" rx="4.9" ry="3.9" transform="rotate(46 187.0 349.0)" fill="url(#hc)"/>
<ellipse cx="207.5" cy="349.0" rx="4.7" ry="4.1" transform="rotate(54 207.5 349.0)" fill="url(#hc)"/>
<ellipse cx="231.2" cy="350.2" rx="5.1" ry="4.0" transform="rotate(50 231.2 350.2)" fill="url(#hc)"/>
<ellipse cx="238.7" cy="348.2" rx="4.7" ry="4.0" transform="rotate(53 238.7 348.2)" fill="url(#hc)"/>
<ellipse cx="244.5" cy="349.5" rx="4.6" ry="4.0" transform="rotate(47 244.5 349.5)" fill="url(#hc)"/>
<ellipse cx="173.7" cy="352.7" rx="4.8" ry="3.8" transform="rotate(48 173.7 352.7)" fill="url(#hc)"/>
<ellipse cx="175.0" cy="356.5" rx="4.8" ry="3.5" transform="rotate(48 175.0 356.5)" fill="url(#hc)"/>
<ellipse cx="159.5" cy="358.2" rx="5.6" ry="4.4" transform="rotate(46 159.5 358.2)" fill="url(#hc)"/>
<ellipse cx="205.0" cy="358.2" rx="5.3" ry="4.1" transform="rotate(27 205.0 358.2)" fill="url(#hc)"/>
<ellipse cx="212.0" cy="356.5" rx="4.4" ry="3.7" transform="rotate(18 212.0 356.5)" fill="url(#hc)"/>
<ellipse cx="223.0" cy="358.2" rx="5.3" ry="3.9" transform="rotate(48 223.0 358.2)" fill="url(#hc)"/>
<ellipse cx="138.7" cy="362.0" rx="4.6" ry="3.6" transform="rotate(43 138.7 362.0)" fill="url(#hc)"/>
<ellipse cx="165.0" cy="362.7" rx="5.4" ry="4.6" transform="rotate(36 165.0 362.7)" fill="url(#hc)"/>
<ellipse cx="152.5" cy="364.5" rx="4.8" ry="4.1" transform="rotate(25 152.5 364.5)" fill="url(#hc)"/>
<ellipse cx="197.0" cy="364.0" rx="5.4" ry="3.9" transform="rotate(44 197.0 364.0)" fill="url(#hc)"/>
<ellipse cx="242.5" cy="364.5" rx="4.5" ry="3.3" transform="rotate(20 242.5 364.5)" fill="url(#hc)"/>
<ellipse cx="208.0" cy="370.2" rx="4.9" ry="4.0" transform="rotate(31 208.0 370.2)" fill="url(#hc)"/>
<ellipse cx="171.2" cy="373.2" rx="4.9" ry="4.3" transform="rotate(28 171.2 373.2)" fill="url(#hc)"/>
<ellipse cx="238.0" cy="372.7" rx="5.2" ry="4.1" transform="rotate(18 238.0 372.7)" fill="url(#hc)"/>
<ellipse cx="145.0" cy="375.7" rx="4.4" ry="3.5" transform="rotate(30 145.0 375.7)" fill="url(#hc)"/>
<ellipse cx="194.5" cy="375.7" rx="4.6" ry="3.7" transform="rotate(53 194.5 375.7)" fill="url(#hc)"/>
<ellipse cx="220.0" cy="374.5" rx="5.0" ry="3.8" transform="rotate(21 220.0 374.5)" fill="url(#hc)"/>
<ellipse cx="131.2" cy="378.2" rx="4.4" ry="3.8" transform="rotate(21 131.2 378.2)" fill="url(#hc)"/>
<ellipse cx="162.0" cy="378.2" rx="5.2" ry="3.9" transform="rotate(21 162.0 378.2)" fill="url(#hc)"/>
<ellipse cx="186.2" cy="378.2" rx="5.3" ry="4.5" transform="rotate(18 186.2 378.2)" fill="url(#hc)"/>
<ellipse cx="247.5" cy="378.2" rx="5.6" ry="4.0" transform="rotate(43 247.5 378.2)" fill="url(#hc)"/>
<ellipse cx="153.7" cy="382.0" rx="5.0" ry="4.0" transform="rotate(26 153.7 382.0)" fill="url(#hc)"/>
<ellipse cx="226.2" cy="380.7" rx="5.0" ry="3.8" transform="rotate(25 226.2 380.7)" fill="url(#hc)"/>
<ellipse cx="139.5" cy="384.0" rx="4.7" ry="4.2" transform="rotate(41 139.5 384.0)" fill="url(#hc)"/>
<ellipse cx="189.5" cy="384.0" rx="5.0" ry="3.6" transform="rotate(50 189.5 384.0)" fill="url(#hc)"/>
<ellipse cx="206.2" cy="386.5" rx="5.4" ry="4.2" transform="rotate(53 206.2 386.5)" fill="url(#hc)"/>
<ellipse cx="245.5" cy="387.0" rx="4.6" ry="3.5" transform="rotate(16 245.5 387.0)" fill="url(#hc)"/>
<ellipse cx="148.0" cy="389.0" rx="4.6" ry="3.4" transform="rotate(31 148.0 389.0)" fill="url(#hc)"/>
<ellipse cx="171.2" cy="389.5" rx="4.3" ry="3.5" transform="rotate(44 171.2 389.5)" fill="url(#hc)"/>
<ellipse cx="195.5" cy="388.2" rx="2.8" ry="2.4" transform="rotate(47 195.5 388.2)" fill="url(#hc)"/>
<ellipse cx="215.0" cy="390.7" rx="5.0" ry="4.1" transform="rotate(54 215.0 390.7)" fill="url(#hc)"/>
<ellipse cx="159.5" cy="391.5" rx="4.6" ry="4.0" transform="rotate(19 159.5 391.5)" fill="url(#hc)"/>
<ellipse cx="18.7" cy="394.5" rx="4.6" ry="3.3" transform="rotate(22 18.7 394.5)" fill="url(#hc)"/>
<ellipse cx="35.0" cy="396.5" rx="5.0" ry="3.8" transform="rotate(46 35.0 396.5)" fill="url(#hc)"/>
<ellipse cx="35.0" cy="400.7" rx="5.2" ry="3.8" transform="rotate(21 35.0 400.7)" fill="url(#hc)"/>
<ellipse cx="10.0" cy="403.2" rx="4.4" ry="3.7" transform="rotate(46 10.0 403.2)" fill="url(#hc)"/>
<ellipse cx="46.2" cy="402.7" rx="5.1" ry="4.5" transform="rotate(38 46.2 402.7)" fill="url(#hc)"/>
<ellipse cx="72.5" cy="404.0" rx="4.5" ry="3.7" transform="rotate(43 72.5 404.0)" fill="url(#hc)"/>
<ellipse cx="83.0" cy="399.0" rx="4.7" ry="3.5" transform="rotate(21 83.0 399.0)" fill="url(#hc)"/>
<ellipse cx="94.5" cy="398.2" rx="5.4" ry="4.3" transform="rotate(28 94.5 398.2)" fill="url(#hc)"/>
<ellipse cx="98.2" cy="404.5" rx="5.1" ry="4.1" transform="rotate(23 98.2 404.5)" fill="url(#hc)"/>
<ellipse cx="123.0" cy="403.2" rx="5.4" ry="4.3" transform="rotate(23 123.0 403.2)" fill="url(#hc)"/>
<ellipse cx="37.0" cy="409.0" rx="5.1" ry="3.9" transform="rotate(45 37.0 409.0)" fill="url(#hc)"/>
<ellipse cx="24.5" cy="410.7" rx="3.1" ry="2.5" transform="rotate(20 24.5 410.7)" fill="url(#hc)"/>
<ellipse cx="68.0" cy="412.0" rx="5.2" ry="3.8" transform="rotate(48 68.0 412.0)" fill="url(#hc)"/>
<ellipse cx="124.5" cy="410.7" rx="4.5" ry="3.4" transform="rotate(53 124.5 410.7)" fill="url(#hc)"/>
<ellipse cx="15.5" cy="414.5" rx="5.4" ry="4.1" transform="rotate(48 15.5 414.5)" fill="url(#hc)"/>
<ellipse cx="53.0" cy="414.5" rx="4.9" ry="3.8" transform="rotate(18 53.0 414.5)" fill="url(#hc)"/>
<ellipse cx="40.7" cy="417.7" rx="4.4" ry="3.2" transform="rotate(39 40.7 417.7)" fill="url(#hc)"/>
<ellipse cx="73.7" cy="417.0" rx="4.4" ry="3.9" transform="rotate(32 73.7 417.0)" fill="url(#hc)"/>
<ellipse cx="85.5" cy="415.7" rx="5.0" ry="4.1" transform="rotate(45 85.5 415.7)" fill="url(#hc)"/>
<ellipse cx="109.5" cy="415.7" rx="4.5" ry="3.9" transform="rotate(17 109.5 415.7)" fill="url(#hc)"/>
<ellipse cx="122.5" cy="418.2" rx="4.4" ry="3.4" transform="rotate(26 122.5 418.2)" fill="url(#hc)"/>
<ellipse cx="3.0" cy="417.7" rx="5.3" ry="4.2" transform="rotate(19 3.0 417.7)" fill="url(#hc)"/>
<ellipse cx="55.5" cy="421.5" rx="4.4" ry="3.5" transform="rotate(18 55.5 421.5)" fill="url(#hc)"/>
<ellipse cx="101.2" cy="420.7" rx="4.9" ry="3.8" transform="rotate(34 101.2 420.7)" fill="url(#hc)"/>
<ellipse cx="66.2" cy="425.2" rx="4.7" ry="3.4" transform="rotate(32 66.2 425.2)" fill="url(#hc)"/>
<ellipse cx="32.5" cy="428.2" rx="4.7" ry="3.9" transform="rotate(40 32.5 428.2)" fill="url(#hc)"/>
<ellipse cx="96.2" cy="429.5" rx="5.4" ry="4.6" transform="rotate(53 96.2 429.5)" fill="url(#hc)"/>
<ellipse cx="15.0" cy="432.0" rx="4.6" ry="3.3" transform="rotate(30 15.0 432.0)" fill="url(#hc)"/>
<ellipse cx="42.0" cy="432.0" rx="4.7" ry="3.7" transform="rotate(29 42.0 432.0)" fill="url(#hc)"/>
<ellipse cx="47.5" cy="431.5" rx="4.9" ry="4.1" transform="rotate(53 47.5 431.5)" fill="url(#hc)"/>
<ellipse cx="55.0" cy="429.5" rx="5.0" ry="3.7" transform="rotate(49 55.0 429.5)" fill="url(#hc)"/>
<ellipse cx="70.0" cy="430.2" rx="5.3" ry="3.9" transform="rotate(32 70.0 430.2)" fill="url(#hc)"/>
<ellipse cx="117.0" cy="431.5" rx="4.7" ry="3.7" transform="rotate(31 117.0 431.5)" fill="url(#hc)"/>
<ellipse cx="28.7" cy="434.5" rx="4.9" ry="3.8" transform="rotate(37 28.7 434.5)" fill="url(#hc)"/>
<ellipse cx="82.0" cy="434.5" rx="4.5" ry="3.3" transform="rotate(48 82.0 434.5)" fill="url(#hc)"/>
<ellipse cx="101.2" cy="433.2" rx="4.7" ry="3.6" transform="rotate(40 101.2 433.2)" fill="url(#hc)"/>
<ellipse cx="69.5" cy="437.7" rx="5.0" ry="4.4" transform="rotate(38 69.5 437.7)" fill="url(#hc)"/>
<ellipse cx="33.7" cy="440.2" rx="5.0" ry="4.4" transform="rotate(22 33.7 440.2)" fill="url(#hc)"/>
<ellipse cx="92.5" cy="439.5" rx="4.5" ry="3.3" transform="rotate(49 92.5 439.5)" fill="url(#hc)"/>
<ellipse cx="8.7" cy="441.5" rx="5.4" ry="4.4" transform="rotate(41 8.7 441.5)" fill="url(#hc)"/>
<ellipse cx="47.0" cy="442.7" rx="5.1" ry="4.0" transform="rotate(27 47.0 442.7)" fill="url(#hc)"/>
<ellipse cx="114.5" cy="442.0" rx="4.4" ry="3.2" transform="rotate(46 114.5 442.0)" fill="url(#hc)"/>
<ellipse cx="102.0" cy="441.5" rx="5.5" ry="4.6" transform="rotate(30 102.0 441.5)" fill="url(#hc)"/>
<ellipse cx="111.2" cy="444.5" rx="4.6" ry="4.1" transform="rotate(27 111.2 444.5)" fill="url(#hc)"/>
<ellipse cx="60.5" cy="447.0" rx="5.1" ry="4.2" transform="rotate(20 60.5 447.0)" fill="url(#hc)"/>
<ellipse cx="12.0" cy="450.7" rx="4.5" ry="3.4" transform="rotate(16 12.0 450.7)" fill="url(#hc)"/>
<ellipse cx="19.5" cy="449.5" rx="5.2" ry="4.2" transform="rotate(29 19.5 449.5)" fill="url(#hc)"/>
<ellipse cx="68.7" cy="450.7" rx="5.5" ry="3.9" transform="rotate(25 68.7 450.7)" fill="url(#hc)"/>
<ellipse cx="80.5" cy="450.7" rx="4.9" ry="4.0" transform="rotate(37 80.5 450.7)" fill="url(#hc)"/>
<ellipse cx="92.5" cy="450.7" rx="5.1" ry="3.7" transform="rotate(35 92.5 450.7)" fill="url(#hc)"/>
<ellipse cx="29.5" cy="453.2" rx="5.3" ry="3.7" transform="rotate(18 29.5 453.2)" fill="url(#hc)"/>
<ellipse cx="122.0" cy="454.5" rx="4.4" ry="3.2" transform="rotate(21 122.0 454.5)" fill="url(#hc)"/>
<ellipse cx="19.5" cy="460.0" rx="5.1" ry="3.7" transform="rotate(24 19.5 460.0)" fill="url(#hc)"/>
<ellipse cx="32.0" cy="459.0" rx="5.0" ry="4.3" transform="rotate(37 32.0 459.0)" fill="url(#hc)"/>
<ellipse cx="55.0" cy="459.5" rx="5.1" ry="3.7" transform="rotate(24 55.0 459.5)" fill="url(#hc)"/>
<ellipse cx="68.7" cy="460.0" rx="4.8" ry="4.1" transform="rotate(23 68.7 460.0)" fill="url(#hc)"/>
<ellipse cx="73.2" cy="460.0" rx="4.9" ry="3.8" transform="rotate(26 73.2 460.0)" fill="url(#hc)"/>
<ellipse cx="90.5" cy="461.5" rx="4.3" ry="3.1" transform="rotate(28 90.5 461.5)" fill="url(#hc)"/>
<ellipse cx="122.5" cy="461.5" rx="5.1" ry="3.9" transform="rotate(50 122.5 461.5)" fill="url(#hc)"/>
<ellipse cx="22.0" cy="466.5" rx="4.3" ry="3.6" transform="rotate(46 22.0 466.5)" fill="url(#hc)"/>
<ellipse cx="45.0" cy="468.2" rx="4.5" ry="3.8" transform="rotate(21 45.0 468.2)" fill="url(#hc)"/>
<ellipse cx="58.7" cy="469.5" rx="5.3" ry="4.2" transform="rotate(48 58.7 469.5)" fill="url(#hc)"/>
<ellipse cx="77.5" cy="467.7" rx="5.3" ry="3.9" transform="rotate(39 77.5 467.7)" fill="url(#hc)"/>
<ellipse cx="111.2" cy="467.0" rx="4.5" ry="3.5" transform="rotate(28 111.2 467.0)" fill="url(#hc)"/>
<ellipse cx="122.5" cy="469.5" rx="4.9" ry="4.3" transform="rotate(53 122.5 469.5)" fill="url(#hc)"/>
<ellipse cx="3.0" cy="468.2" rx="4.4" ry="4.0" transform="rotate(29 3.0 468.2)" fill="url(#hc)"/>
<ellipse cx="27.5" cy="474.0" rx="4.8" ry="3.9" transform="rotate(33 27.5 474.0)" fill="url(#hc)"/>
<ellipse cx="44.5" cy="475.7" rx="4.9" ry="4.0" transform="rotate(21 44.5 475.7)" fill="url(#hc)"/>
<ellipse cx="95.5" cy="472.5" rx="5.1" ry="3.9" transform="rotate(53 95.5 472.5)" fill="url(#hc)"/>
<ellipse cx="90.5" cy="476.5" rx="4.7" ry="3.8" transform="rotate(32 90.5 476.5)" fill="url(#hc)"/>
<ellipse cx="7.0" cy="477.0" rx="5.0" ry="3.8" transform="rotate(50 7.0 477.0)" fill="url(#hc)"/>
<ellipse cx="72.0" cy="479.0" rx="5.2" ry="4.4" transform="rotate(16 72.0 479.0)" fill="url(#hc)"/>
<ellipse cx="123.0" cy="479.5" rx="5.2" ry="4.6" transform="rotate(40 123.0 479.5)" fill="url(#hc)"/>
<ellipse cx="8.0" cy="483.2" rx="4.5" ry="4.0" transform="rotate(18 8.0 483.2)" fill="url(#hc)"/>
<ellipse cx="45.0" cy="484.5" rx="5.1" ry="4.3" transform="rotate(38 45.0 484.5)" fill="url(#hc)"/>
<ellipse cx="108.0" cy="483.2" rx="5.6" ry="4.5" transform="rotate(54 108.0 483.2)" fill="url(#hc)"/>
<ellipse cx="66.2" cy="486.5" rx="5.0" ry="4.3" transform="rotate(45 66.2 486.5)" fill="url(#hc)"/>
<ellipse cx="23.0" cy="487.0" rx="3.4" ry="2.7" transform="rotate(23 23.0 487.0)" fill="url(#hc)"/>
<ellipse cx="81.2" cy="489.5" rx="5.1" ry="4.3" transform="rotate(18 81.2 489.5)" fill="url(#hc)"/>
<ellipse cx="97.5" cy="487.0" rx="5.1" ry="4.3" transform="rotate(21 97.5 487.0)" fill="url(#hc)"/>
<ellipse cx="102.0" cy="490.7" rx="5.3" ry="4.5" transform="rotate(21 102.0 490.7)" fill="url(#hc)"/>
<ellipse cx="78.0" cy="494.0" rx="4.6" ry="3.8" transform="rotate(54 78.0 494.0)" fill="url(#hc)"/>
<ellipse cx="25.0" cy="493.2" rx="4.5" ry="3.4" transform="rotate(24 25.0 493.2)" fill="url(#hc)"/>
<ellipse cx="107.0" cy="493.2" rx="5.0" ry="4.2" transform="rotate(17 107.0 493.2)" fill="url(#hc)"/>
<ellipse cx="12.0" cy="497.0" rx="5.4" ry="4.5" transform="rotate(19 12.0 497.0)" fill="url(#hc)"/>
<ellipse cx="48.7" cy="494.5" rx="4.9" ry="3.8" transform="rotate(50 48.7 494.5)" fill="url(#hc)"/>
<ellipse cx="60.0" cy="495.2" rx="5.2" ry="4.7" transform="rotate(48 60.0 495.2)" fill="url(#hc)"/>
<ellipse cx="128.7" cy="495.7" rx="4.7" ry="3.9" transform="rotate(15 128.7 495.7)" fill="url(#hc)"/>
<ellipse cx="93.0" cy="500.7" rx="4.4" ry="4.0" transform="rotate(51 93.0 500.7)" fill="url(#hc)"/>
<ellipse cx="115.0" cy="500.7" rx="4.7" ry="3.6" transform="rotate(50 115.0 500.7)" fill="url(#hc)"/>
<ellipse cx="6.2" cy="503.2" rx="5.0" ry="3.7" transform="rotate(29 6.2 503.2)" fill="url(#hc)"/>
<ellipse cx="25.0" cy="504.0" rx="5.2" ry="4.2" transform="rotate(37 25.0 504.0)" fill="url(#hc)"/>
<ellipse cx="43.7" cy="502.7" rx="4.7" ry="4.2" transform="rotate(37 43.7 502.7)" fill="url(#hc)"/>
<ellipse cx="28.7" cy="508.2" rx="4.9" ry="4.1" transform="rotate(26 28.7 508.2)" fill="url(#hc)"/>
<ellipse cx="62.0" cy="509.5" rx="5.4" ry="4.3" transform="rotate(38 62.0 509.5)" fill="url(#hc)"/>
<ellipse cx="72.5" cy="509.0" rx="5.3" ry="4.7" transform="rotate(16 72.5 509.0)" fill="url(#hc)"/>
<ellipse cx="98.0" cy="509.5" rx="5.0" ry="4.1" transform="rotate(29 98.0 509.5)" fill="url(#hc)"/>
<ellipse cx="124.5" cy="508.2" rx="4.6" ry="3.4" transform="rotate(36 124.5 508.2)" fill="url(#hc)"/>
<ellipse cx="15.0" cy="513.2" rx="4.8" ry="4.2" transform="rotate(45 15.0 513.2)" fill="url(#hc)"/>
<ellipse cx="108.7" cy="512.0" rx="5.2" ry="4.2" transform="rotate(24 108.7 512.0)" fill="url(#hc)"/>
<ellipse cx="82.5" cy="514.5" rx="5.1" ry="4.5" transform="rotate(47 82.5 514.5)" fill="url(#hc)"/>
<ellipse cx="25.0" cy="516.5" rx="5.4" ry="4.5" transform="rotate(54 25.0 516.5)" fill="url(#hc)"/>
<ellipse cx="33.7" cy="516.5" rx="5.3" ry="3.7" transform="rotate(39 33.7 516.5)" fill="url(#hc)"/>
<ellipse cx="41.2" cy="517.0" rx="5.3" ry="4.2" transform="rotate(39 41.2 517.0)" fill="url(#hc)"/>
<ellipse cx="131.2" cy="395.0" rx="5.3" ry="4.4" transform="rotate(42 131.2 395.0)" fill="url(#hc)"/>
<ellipse cx="181.2" cy="395.0" rx="5.4" ry="4.0" transform="rotate(43 181.2 395.0)" fill="url(#hc)"/>
<ellipse cx="200.0" cy="395.0" rx="4.8" ry="3.5" transform="rotate(22 200.0 395.0)" fill="url(#hc)"/>
<ellipse cx="142.0" cy="399.5" rx="4.5" ry="3.7" transform="rotate(52 142.0 399.5)" fill="url(#hc)"/>
<ellipse cx="231.2" cy="400.2" rx="5.0" ry="4.3" transform="rotate(16 231.2 400.2)" fill="url(#hc)"/>
<ellipse cx="253.7" cy="401.5" rx="4.7" ry="3.5" transform="rotate(27 253.7 401.5)" fill="url(#hc)"/>
<ellipse cx="196.2" cy="402.0" rx="5.3" ry="3.9" transform="rotate(24 196.2 402.0)" fill="url(#hc)"/>
<ellipse cx="155.0" cy="404.5" rx="5.4" ry="4.3" transform="rotate(37 155.0 404.5)" fill="url(#hc)"/>
<ellipse cx="165.0" cy="406.5" rx="4.8" ry="4.1" transform="rotate(40 165.0 406.5)" fill="url(#hc)"/>
<ellipse cx="185.5" cy="407.0" rx="5.2" ry="4.1" transform="rotate(15 185.5 407.0)" fill="url(#hc)"/>
<ellipse cx="194.5" cy="408.2" rx="4.9" ry="3.6" transform="rotate(33 194.5 408.2)" fill="url(#hc)"/>
<ellipse cx="200.0" cy="409.0" rx="4.7" ry="3.6" transform="rotate(52 200.0 409.0)" fill="url(#hc)"/>
<ellipse cx="225.5" cy="407.5" rx="4.9" ry="4.2" transform="rotate(41 225.5 407.5)" fill="url(#hc)"/>
<ellipse cx="177.5" cy="410.7" rx="5.4" ry="4.6" transform="rotate(39 177.5 410.7)" fill="url(#hc)"/>
<ellipse cx="218.7" cy="410.7" rx="5.7" ry="4.5" transform="rotate(41 218.7 410.7)" fill="url(#hc)"/>
<ellipse cx="148.0" cy="412.5" rx="4.6" ry="3.5" transform="rotate(21 148.0 412.5)" fill="url(#hc)"/>
<ellipse cx="208.0" cy="413.2" rx="4.8" ry="3.7" transform="rotate(49 208.0 413.2)" fill="url(#hc)"/>
<ellipse cx="157.0" cy="414.0" rx="4.7" ry="3.8" transform="rotate(25 157.0 414.0)" fill="url(#hc)"/>
<ellipse cx="243.7" cy="415.0" rx="5.0" ry="4.0" transform="rotate(50 243.7 415.0)" fill="url(#hc)"/>
<ellipse cx="140.0" cy="416.5" rx="4.9" ry="3.8" transform="rotate(49 140.0 416.5)" fill="url(#hc)"/>
<ellipse cx="172.0" cy="417.7" rx="5.5" ry="4.4" transform="rotate(31 172.0 417.7)" fill="url(#hc)"/>
<ellipse cx="159.5" cy="421.5" rx="5.0" ry="3.9" transform="rotate(50 159.5 421.5)" fill="url(#hc)"/>
<ellipse cx="226.2" cy="421.5" rx="4.7" ry="4.0" transform="rotate(19 226.2 421.5)" fill="url(#hc)"/>
<ellipse cx="138.7" cy="424.0" rx="4.8" ry="3.5" transform="rotate(31 138.7 424.0)" fill="url(#hc)"/>
<ellipse cx="147.0" cy="425.2" rx="5.3" ry="3.9" transform="rotate(25 147.0 425.2)" fill="url(#hc)"/>
<ellipse cx="177.5" cy="425.7" rx="4.7" ry="3.7" transform="rotate(38 177.5 425.7)" fill="url(#hc)"/>
<ellipse cx="188.7" cy="424.5" rx="4.4" ry="3.6" transform="rotate(22 188.7 424.5)" fill="url(#hc)"/>
<ellipse cx="183.7" cy="428.2" rx="4.9" ry="3.8" transform="rotate(16 183.7 428.2)" fill="url(#hc)"/>
<ellipse cx="229.5" cy="425.7" rx="4.4" ry="3.5" transform="rotate(44 229.5 425.7)" fill="url(#hc)"/>
<ellipse cx="243.7" cy="423.2" rx="5.5" ry="4.6" transform="rotate(53 243.7 423.2)" fill="url(#hc)"/>
<ellipse cx="211.2" cy="430.7" rx="4.6" ry="3.8" transform="rotate(37 211.2 430.7)" fill="url(#hc)"/>
<ellipse cx="233.0" cy="430.2" rx="5.1" ry="4.3" transform="rotate(30 233.0 430.2)" fill="url(#hc)"/>
<ellipse cx="178.7" cy="433.2" rx="4.8" ry="4.2" transform="rotate(22 178.7 433.2)" fill="url(#hc)"/>
<ellipse cx="202.5" cy="432.7" rx="4.8" ry="4.1" transform="rotate(48 202.5 432.7)" fill="url(#hc)"/>
<ellipse cx="163.7" cy="437.0" rx="5.3" ry="4.5" transform="rotate(37 163.7 437.0)" fill="url(#hc)"/>
<ellipse cx="220.0" cy="437.7" rx="4.5" ry="4.0" transform="rotate(17 220.0 437.7)" fill="url(#hc)"/>
<ellipse cx="242.5" cy="436.5" rx="5.1" ry="3.7" transform="rotate(22 242.5 436.5)" fill="url(#hc)"/>
<ellipse cx="142.5" cy="439.0" rx="4.7" ry="3.5" transform="rotate(37 142.5 439.0)" fill="url(#hc)"/>
<ellipse cx="182.5" cy="439.5" rx="5.4" ry="4.3" transform="rotate(20 182.5 439.5)" fill="url(#hc)"/>
<ellipse cx="237.0" cy="440.2" rx="4.9" ry="4.3" transform="rotate(41 237.0 440.2)" fill="url(#hc)"/>
<ellipse cx="138.7" cy="442.7" rx="4.4" ry="4.0" transform="rotate(42 138.7 442.7)" fill="url(#hc)"/>
<ellipse cx="167.5" cy="441.5" rx="4.7" ry="3.3" transform="rotate(47 167.5 441.5)" fill="url(#hc)"/>
<ellipse cx="188.0" cy="443.2" rx="5.2" ry="4.1" transform="rotate(38 188.0 443.2)" fill="url(#hc)"/>
<ellipse cx="251.2" cy="442.0" rx="4.8" ry="3.7" transform="rotate(17 251.2 442.0)" fill="url(#hc)"/>
<ellipse cx="167.0" cy="447.7" rx="4.4" ry="3.8" transform="rotate(47 167.0 447.7)" fill="url(#hc)"/>
<ellipse cx="215.0" cy="448.2" rx="5.1" ry="4.1" transform="rotate(34 215.0 448.2)" fill="url(#hc)"/>
<ellipse cx="132.0" cy="450.2" rx="4.8" ry="4.1" transform="rotate(31 132.0 450.2)" fill="url(#hc)"/>
<ellipse cx="138.7" cy="450.7" rx="4.6" ry="3.9" transform="rotate(54 138.7 450.7)" fill="url(#hc)"/>
<ellipse cx="209.5" cy="450.2" rx="5.4" ry="4.7" transform="rotate(34 209.5 450.2)" fill="url(#hc)"/>
<ellipse cx="247.0" cy="449.0" rx="5.1" ry="3.9" transform="rotate(24 247.0 449.0)" fill="url(#hc)"/>
<ellipse cx="186.2" cy="453.2" rx="5.2" ry="4.5" transform="rotate(30 186.2 453.2)" fill="url(#hc)"/>
<ellipse cx="162.0" cy="454.5" rx="4.9" ry="3.5" transform="rotate(38 162.0 454.5)" fill="url(#hc)"/>
<ellipse cx="173.0" cy="455.7" rx="4.5" ry="3.5" transform="rotate(34 173.0 455.7)" fill="url(#hc)"/>
<ellipse cx="149.5" cy="461.5" rx="4.7" ry="3.6" transform="rotate(45 149.5 461.5)" fill="url(#hc)"/>
<ellipse cx="171.2" cy="460.0" rx="4.8" ry="3.9" transform="rotate(53 171.2 460.0)" fill="url(#hc)"/>
<ellipse cx="185.5" cy="459.5" rx="5.2" ry="4.4" transform="rotate(45 185.5 459.5)" fill="url(#hc)"/>
<ellipse cx="194.5" cy="461.5" rx="4.8" ry="4.1" transform="rotate(18 194.5 461.5)" fill="url(#hc)"/>
<ellipse cx="210.5" cy="461.5" rx="4.9" ry="4.2" transform="rotate(40 210.5 461.5)" fill="url(#hc)"/>
<ellipse cx="232.0" cy="458.2" rx="4.6" ry="3.3" transform="rotate(31 232.0 458.2)" fill="url(#hc)"/>
<ellipse cx="138.7" cy="468.2" rx="4.6" ry="3.5" transform="rotate(46 138.7 468.2)" fill="url(#hc)"/>
<ellipse cx="167.5" cy="468.2" rx="4.9" ry="4.0" transform="rotate(25 167.5 468.2)" fill="url(#hc)"/>
<ellipse cx="218.7" cy="469.5" rx="5.6" ry="4.5" transform="rotate(52 218.7 469.5)" fill="url(#hc)"/>
<ellipse cx="226.2" cy="465.7" rx="4.5" ry="3.6" transform="rotate(36 226.2 465.7)" fill="url(#hc)"/>
<ellipse cx="238.7" cy="465.7" rx="5.4" ry="4.1" transform="rotate(46 238.7 465.7)" fill="url(#hc)"/>
<ellipse cx="247.5" cy="469.5" rx="5.2" ry="4.1" transform="rotate(35 247.5 469.5)" fill="url(#hc)"/>
<ellipse cx="142.0" cy="475.0" rx="4.9" ry="4.3" transform="rotate(37 142.0 475.0)" fill="url(#hc)"/>
<ellipse cx="190.7" cy="477.0" rx="5.2" ry="4.4" transform="rotate(16 190.7 477.0)" fill="url(#hc)"/>
<ellipse cx="134.5" cy="479.5" rx="5.1" ry="4.1" transform="rotate(37 134.5 479.5)" fill="url(#hc)"/>
<ellipse cx="143.0" cy="479.0" rx="5.2" ry="3.9" transform="rotate(21 143.0 479.0)" fill="url(#hc)"/>
<ellipse cx="174.5" cy="479.0" rx="5.2" ry="4.6" transform="rotate(37 174.5 479.0)" fill="url(#hc)"/>
<ellipse cx="238.7" cy="478.2" rx="5.2" ry="4.1" transform="rotate(53 238.7 478.2)" fill="url(#hc)"/>
<ellipse cx="253.0" cy="480.7" rx="4.6" ry="4.1" transform="rotate(53 253.0 480.7)" fill="url(#hc)"/>
<ellipse cx="157.0" cy="482.0" rx="4.9" ry="3.6" transform="rotate(39 157.0 482.0)" fill="url(#hc)"/>
<ellipse cx="148.0" cy="483.2" rx="2.8" ry="2.1" transform="rotate(19 148.0 483.2)" fill="url(#hc)"/>
<ellipse cx="215.0" cy="480.0" rx="5.4" ry="4.4" transform="rotate(30 215.0 480.0)" fill="url(#hc)"/>
<ellipse cx="229.5" cy="480.7" rx="4.4" ry="3.7" transform="rotate(45 229.5 480.7)" fill="url(#hc)"/>
<ellipse cx="147.0" cy="490.7" rx="5.3" ry="4.6" transform="rotate(24 147.0 490.7)" fill="url(#hc)"/>
<ellipse cx="170.0" cy="487.0" rx="4.4" ry="3.7" transform="rotate(19 170.0 487.0)" fill="url(#hc)"/>
<ellipse cx="245.5" cy="489.5" rx="5.1" ry="4.5" transform="rotate(40 245.5 489.5)" fill="url(#hc)"/>
<ellipse cx="168.7" cy="495.7" rx="5.2" ry="4.4" transform="rotate(30 168.7 495.7)" fill="url(#hc)"/>
<ellipse cx="132.5" cy="497.0" rx="4.4" ry="3.4" transform="rotate(51 132.5 497.0)" fill="url(#hc)"/>
<ellipse cx="141.2" cy="503.2" rx="4.7" ry="3.9" transform="rotate(44 141.2 503.2)" fill="url(#hc)"/>
<ellipse cx="216.2" cy="500.7" rx="4.6" ry="3.6" transform="rotate(16 216.2 500.7)" fill="url(#hc)"/>
<ellipse cx="232.5" cy="502.0" rx="4.9" ry="3.8" transform="rotate(37 232.5 502.0)" fill="url(#hc)"/>
<ellipse cx="240.0" cy="499.0" rx="4.7" ry="3.6" transform="rotate(43 240.0 499.0)" fill="url(#hc)"/>
<ellipse cx="248.0" cy="501.5" rx="5.6" ry="3.8" transform="rotate(34 248.0 501.5)" fill="url(#hc)"/>
<ellipse cx="177.5" cy="508.2" rx="4.9" ry="4.3" transform="rotate(51 177.5 508.2)" fill="url(#hc)"/>
<ellipse cx="167.0" cy="513.2" rx="5.2" ry="3.8" transform="rotate(27 167.0 513.2)" fill="url(#hc)"/>
<ellipse cx="204.5" cy="509.5" rx="4.9" ry="4.0" transform="rotate(18 204.5 509.5)" fill="url(#hc)"/>
<ellipse cx="226.2" cy="513.2" rx="4.9" ry="4.1" transform="rotate(47 226.2 513.2)" fill="url(#hc)"/>
<ellipse cx="237.0" cy="515.2" rx="4.9" ry="3.9" transform="rotate(22 237.0 515.2)" fill="url(#hc)"/>
<ellipse cx="148.7" cy="517.0" rx="4.7" ry="3.8" transform="rotate(43 148.7 517.0)" fill="url(#hc)"/>
<ellipse cx="183.7" cy="517.0" rx="4.5" ry="3.4" transform="rotate(16 183.7 517.0)" fill="url(#hc)"/>
<ellipse cx="254.5" cy="510.7" rx="5.4" ry="4.6" transform="rotate(23 254.5 510.7)" fill="url(#hc)"/>
<ellipse cx="191.2" cy="496.5" rx="5.3" ry="4.3" transform="rotate(26 191.2 496.5)" fill="url(#hc)"/>
<ellipse cx="12.0" cy="269.5" rx="3.0" ry="2.4" transform="rotate(50 12.0 269.5)" fill="url(#gc)" opacity="0.87"/>
<ellipse cx="23.2" cy="268.2" rx="2.7" ry="2.2" transform="rotate(18 23.2 268.2)" fill="url(#gc)" opacity="0.98"/>
<ellipse cx="66.2" cy="267.0" rx="3.2" ry="2.6" transform="rotate(30 66.2 267.0)" fill="url(#gcd)" opacity="0.86"/>
<ellipse cx="108.0" cy="273.2" rx="3.2" ry="2.6" transform="rotate(21 108.0 273.2)" fill="url(#gc)" opacity="0.96"/>
<ellipse cx="119.5" cy="270.0" rx="2.9" ry="2.1" transform="rotate(52 119.5 270.0)" fill="url(#gc)" opacity="0.93"/>
<ellipse cx="63.7" cy="279.5" rx="3.1" ry="2.7" transform="rotate(45 63.7 279.5)" fill="url(#gc)" opacity="0.91"/>
<ellipse cx="93.7" cy="279.0" rx="2.8" ry="2.1" transform="rotate(44 93.7 279.0)" fill="url(#gc)" opacity="0.95"/>
<ellipse cx="116.2" cy="280.0" rx="3.0" ry="2.2" transform="rotate(23 116.2 280.0)" fill="url(#gc)" opacity="0.89"/>
<ellipse cx="81.2" cy="282.5" rx="2.9" ry="2.5" transform="rotate(50 81.2 282.5)" fill="url(#gc)" opacity="0.88"/>
<ellipse cx="76.2" cy="285.7" rx="3.3" ry="2.4" transform="rotate(35 76.2 285.7)" fill="url(#gc)" opacity="0.91"/>
<ellipse cx="92.5" cy="287.7" rx="2.7" ry="2.2" transform="rotate(19 92.5 287.7)" fill="url(#gc)" opacity="0.99"/>
<ellipse cx="108.0" cy="282.5" rx="3.1" ry="2.3" transform="rotate(51 108.0 282.5)" fill="url(#gc)" opacity="0.94"/>
<ellipse cx="117.5" cy="286.2" rx="2.8" ry="2.1" transform="rotate(37 117.5 286.2)" fill="url(#gc)" opacity="0.86"/>
<ellipse cx="3.0" cy="284.0" rx="2.7" ry="2.0" transform="rotate(52 3.0 284.0)" fill="url(#gc)" opacity="0.92"/>
<ellipse cx="64.5" cy="293.2" rx="3.0" ry="2.4" transform="rotate(19 64.5 293.2)" fill="url(#gc)" opacity="0.95"/>
<ellipse cx="12.5" cy="294.5" rx="3.1" ry="2.3" transform="rotate(53 12.5 294.5)" fill="url(#gc)" opacity="0.94"/>
<ellipse cx="8.7" cy="297.0" rx="2.7" ry="2.2" transform="rotate(21 8.7 297.0)" fill="url(#gc)" opacity="0.94"/>
<ellipse cx="78.0" cy="296.5" rx="2.9" ry="2.6" transform="rotate(20 78.0 296.5)" fill="url(#gc)" opacity="1.00"/>
<ellipse cx="115.5" cy="297.0" rx="3.2" ry="2.8" transform="rotate(39 115.5 297.0)" fill="url(#gc)" opacity="0.89"/>
<ellipse cx="100.0" cy="302.0" rx="2.7" ry="2.1" transform="rotate(39 100.0 302.0)" fill="url(#gc)" opacity="0.95"/>
<ellipse cx="93.7" cy="304.0" rx="3.2" ry="2.4" transform="rotate(50 93.7 304.0)" fill="url(#gc)" opacity="0.90"/>
<ellipse cx="57.0" cy="307.0" rx="3.1" ry="2.5" transform="rotate(54 57.0 307.0)" fill="url(#gc)" opacity="0.91"/>
<ellipse cx="68.0" cy="307.0" rx="3.1" ry="2.2" transform="rotate(28 68.0 307.0)" fill="url(#gc)" opacity="0.97"/>
<ellipse cx="83.7" cy="307.0" rx="3.0" ry="2.3" transform="rotate(28 83.7 307.0)" fill="url(#gc)" opacity="0.92"/>
<ellipse cx="101.2" cy="307.7" rx="2.8" ry="2.3" transform="rotate(46 101.2 307.7)" fill="url(#gc)" opacity="0.87"/>
<ellipse cx="18.7" cy="309.0" rx="2.7" ry="2.3" transform="rotate(35 18.7 309.0)" fill="url(#gc)" opacity="0.97"/>
<ellipse cx="25.0" cy="309.0" rx="3.2" ry="2.4" transform="rotate(32 25.0 309.0)" fill="url(#gc)" opacity="0.96"/>
<ellipse cx="3.0" cy="313.2" rx="2.9" ry="2.6" transform="rotate(30 3.0 313.2)" fill="url(#gc)" opacity="0.91"/>
<ellipse cx="27.5" cy="314.5" rx="3.3" ry="2.6" transform="rotate(22 27.5 314.5)" fill="url(#gc)" opacity="0.95"/>
<ellipse cx="51.2" cy="315.2" rx="3.3" ry="2.5" transform="rotate(54 51.2 315.2)" fill="url(#gc)" opacity="0.86"/>
<ellipse cx="101.2" cy="315.2" rx="2.8" ry="2.5" transform="rotate(39 101.2 315.2)" fill="url(#gc)" opacity="1.00"/>
<ellipse cx="111.2" cy="312.0" rx="2.7" ry="2.0" transform="rotate(31 111.2 312.0)" fill="url(#gc)" opacity="0.88"/>
<ellipse cx="121.2" cy="314.0" rx="3.3" ry="2.8" transform="rotate(21 121.2 314.0)" fill="url(#gcd)" opacity="0.90"/>
<ellipse cx="127.5" cy="312.7" rx="3.1" ry="2.3" transform="rotate(37 127.5 312.7)" fill="url(#gc)" opacity="0.86"/>
<ellipse cx="112.5" cy="316.5" rx="3.2" ry="2.3" transform="rotate(43 112.5 316.5)" fill="url(#gc)" opacity="0.92"/>
<ellipse cx="74.5" cy="319.0" rx="3.2" ry="2.6" transform="rotate(22 74.5 319.0)" fill="url(#gc)" opacity="0.98"/>
<ellipse cx="33.7" cy="320.0" rx="3.2" ry="2.7" transform="rotate(35 33.7 320.0)" fill="url(#gc)" opacity="0.98"/>
<ellipse cx="92.5" cy="320.7" rx="2.9" ry="2.0" transform="rotate(22 92.5 320.7)" fill="url(#gcd)" opacity="0.93"/>
<ellipse cx="7.0" cy="321.5" rx="3.3" ry="2.3" transform="rotate(24 7.0 321.5)" fill="url(#gcd)" opacity="0.97"/>
<ellipse cx="59.2" cy="323.2" rx="2.7" ry="2.0" transform="rotate(37 59.2 323.2)" fill="url(#gc)" opacity="0.92"/>
<ellipse cx="38.0" cy="324.5" rx="3.0" ry="2.2" transform="rotate(53 38.0 324.5)" fill="url(#gc)" opacity="0.92"/>
<ellipse cx="33.7" cy="329.0" rx="3.1" ry="2.7" transform="rotate(55 33.7 329.0)" fill="url(#gc)" opacity="0.85"/>
<ellipse cx="24.2" cy="331.5" rx="2.2" ry="1.8" transform="rotate(36 24.2 331.5)" fill="url(#gc)" opacity="0.93"/>
<ellipse cx="15.0" cy="335.2" rx="3.3" ry="2.4" transform="rotate(37 15.0 335.2)" fill="url(#gc)" opacity="0.95"/>
<ellipse cx="42.5" cy="334.0" rx="2.9" ry="2.5" transform="rotate(19 42.5 334.0)" fill="url(#gc)" opacity="0.96"/>
<ellipse cx="88.7" cy="332.0" rx="3.2" ry="2.6" transform="rotate(40 88.7 332.0)" fill="url(#gc)" opacity="0.92"/>
<ellipse cx="103.7" cy="332.5" rx="2.7" ry="2.3" transform="rotate(50 103.7 332.5)" fill="url(#gc)" opacity="0.91"/>
<ellipse cx="115.0" cy="332.5" rx="2.9" ry="2.5" transform="rotate(40 115.0 332.5)" fill="url(#gc)" opacity="0.96"/>
<ellipse cx="57.5" cy="338.7" rx="3.3" ry="2.4" transform="rotate(40 57.5 338.7)" fill="url(#gc)" opacity="0.94"/>
<ellipse cx="70.0" cy="337.0" rx="3.2" ry="2.5" transform="rotate(23 70.0 337.0)" fill="url(#gc)" opacity="0.86"/>
<ellipse cx="78.0" cy="337.0" rx="3.1" ry="2.4" transform="rotate(29 78.0 337.0)" fill="url(#gc)" opacity="0.86"/>
<ellipse cx="15.5" cy="342.0" rx="3.2" ry="2.5" transform="rotate(46 15.5 342.0)" fill="url(#gcd)" opacity="0.85"/>
<ellipse cx="32.0" cy="342.5" rx="2.9" ry="2.5" transform="rotate(53 32.0 342.5)" fill="url(#gc)" opacity="0.85"/>
<ellipse cx="90.0" cy="342.5" rx="3.1" ry="2.8" transform="rotate(48 90.0 342.5)" fill="url(#gc)" opacity="1.00"/>
<ellipse cx="97.5" cy="344.5" rx="2.8" ry="2.2" transform="rotate(46 97.5 344.5)" fill="url(#gc)" opacity="0.88"/>
<ellipse cx="19.5" cy="347.0" rx="2.8" ry="2.2" transform="rotate(20 19.5 347.0)" fill="url(#gc)" opacity="0.87"/>
<ellipse cx="45.0" cy="346.5" rx="3.4" ry="3.0" transform="rotate(45 45.0 346.5)" fill="url(#gc)" opacity="0.91"/>
<ellipse cx="37.5" cy="349.0" rx="3.0" ry="2.5" transform="rotate(40 37.5 349.0)" fill="url(#gc)" opacity="0.91"/>
<ellipse cx="108.0" cy="347.0" rx="2.9" ry="2.2" transform="rotate(23 108.0 347.0)" fill="url(#gc)" opacity="0.93"/>
<ellipse cx="128.7" cy="344.5" rx="3.0" ry="2.7" transform="rotate(19 128.7 344.5)" fill="url(#gc)" opacity="0.85"/>
<ellipse cx="70.5" cy="350.7" rx="3.4" ry="2.4" transform="rotate(49 70.5 350.7)" fill="url(#gcd)" opacity="0.89"/>
<ellipse cx="80.5" cy="353.2" rx="3.1" ry="2.4" transform="rotate(26 80.5 353.2)" fill="url(#gc)" opacity="0.86"/>
<ellipse cx="6.2" cy="354.5" rx="2.9" ry="2.5" transform="rotate(46 6.2 354.5)" fill="url(#gc)" opacity="1.00"/>
<ellipse cx="32.0" cy="354.5" rx="3.3" ry="3.0" transform="rotate(52 32.0 354.5)" fill="url(#gc)" opacity="0.98"/>
<ellipse cx="91.2" cy="355.2" rx="3.4" ry="2.5" transform="rotate(25 91.2 355.2)" fill="url(#gc)" opacity="0.90"/>
<ellipse cx="118.0" cy="353.2" rx="3.1" ry="2.5" transform="rotate(48 118.0 353.2)" fill="url(#gc)" opacity="0.90"/>
<ellipse cx="128.7" cy="352.7" rx="3.0" ry="2.3" transform="rotate(33 128.7 352.7)" fill="url(#gc)" opacity="0.89"/>
<ellipse cx="85.0" cy="359.5" rx="3.4" ry="2.8" transform="rotate(22 85.0 359.5)" fill="url(#gc)" opacity="1.00"/>
<ellipse cx="106.2" cy="358.7" rx="3.1" ry="2.3" transform="rotate(37 106.2 358.7)" fill="url(#gcd)" opacity="0.88"/>
<ellipse cx="62.0" cy="362.0" rx="2.8" ry="2.4" transform="rotate(21 62.0 362.0)" fill="url(#gc)" opacity="0.95"/>
<ellipse cx="5.5" cy="364.5" rx="3.1" ry="2.5" transform="rotate(39 5.5 364.5)" fill="url(#gc)" opacity="0.92"/>
<ellipse cx="14.2" cy="365.2" rx="3.2" ry="2.8" transform="rotate(23 14.2 365.2)" fill="url(#gc)" opacity="0.96"/>
<ellipse cx="37.0" cy="365.7" rx="3.1" ry="2.4" transform="rotate(37 37.0 365.7)" fill="url(#gc)" opacity="0.85"/>
<ellipse cx="70.5" cy="364.5" rx="3.0" ry="2.7" transform="rotate(48 70.5 364.5)" fill="url(#gc)" opacity="0.90"/>
<ellipse cx="121.7" cy="366.5" rx="3.1" ry="2.3" transform="rotate(26 121.7 366.5)" fill="url(#gc)" opacity="0.96"/>
<ellipse cx="23.7" cy="370.7" rx="3.1" ry="2.3" transform="rotate(52 23.7 370.7)" fill="url(#gc)" opacity="0.85"/>
<ellipse cx="106.2" cy="370.7" rx="2.7" ry="2.0" transform="rotate(19 106.2 370.7)" fill="url(#gc)" opacity="0.87"/>
<ellipse cx="69.5" cy="373.2" rx="3.3" ry="2.9" transform="rotate(31 69.5 373.2)" fill="url(#gc)" opacity="0.95"/>
<ellipse cx="93.7" cy="374.0" rx="3.3" ry="2.7" transform="rotate(43 93.7 374.0)" fill="url(#gc)" opacity="0.87"/>
<ellipse cx="8.7" cy="375.2" rx="3.1" ry="2.3" transform="rotate(30 8.7 375.2)" fill="url(#gcd)" opacity="0.90"/>
<ellipse cx="115.5" cy="376.5" rx="3.0" ry="2.3" transform="rotate(38 115.5 376.5)" fill="url(#gcd)" opacity="0.98"/>
<ellipse cx="45.0" cy="380.2" rx="2.7" ry="2.3" transform="rotate(34 45.0 380.2)" fill="url(#gc)" opacity="0.85"/>
<ellipse cx="67.0" cy="379.5" rx="3.3" ry="2.8" transform="rotate(45 67.0 379.5)" fill="url(#gc)" opacity="0.99"/>
<ellipse cx="88.7" cy="379.5" rx="2.9" ry="2.2" transform="rotate(42 88.7 379.5)" fill="url(#gc)" opacity="0.92"/>
<ellipse cx="23.7" cy="381.5" rx="3.0" ry="2.2" transform="rotate(29 23.7 381.5)" fill="url(#gcd)" opacity="0.96"/>
<ellipse cx="8.7" cy="384.0" rx="3.1" ry="2.6" transform="rotate(16 8.7 384.0)" fill="url(#gc)" opacity="0.99"/>
<ellipse cx="37.5" cy="387.7" rx="3.0" ry="2.4" transform="rotate(19 37.5 387.7)" fill="url(#gcd)" opacity="0.95"/>
<ellipse cx="53.2" cy="387.7" rx="2.8" ry="2.1" transform="rotate(51 53.2 387.7)" fill="url(#gc)" opacity="0.93"/>
<ellipse cx="75.0" cy="386.5" rx="2.9" ry="2.2" transform="rotate(32 75.0 386.5)" fill="url(#gc)" opacity="0.95"/>
<ellipse cx="94.5" cy="386.5" rx="3.3" ry="3.0" transform="rotate(44 94.5 386.5)" fill="url(#gc)" opacity="0.99"/>
<ellipse cx="108.0" cy="387.0" rx="3.0" ry="2.2" transform="rotate(31 108.0 387.0)" fill="url(#gc)" opacity="0.97"/>
<ellipse cx="120.5" cy="389.5" rx="3.0" ry="2.5" transform="rotate(37 120.5 389.5)" fill="url(#gc)" opacity="0.99"/>
<ellipse cx="81.2" cy="390.7" rx="3.3" ry="3.0" transform="rotate(29 81.2 390.7)" fill="url(#gc)" opacity="0.86"/>
<ellipse cx="62.5" cy="390.7" rx="3.3" ry="2.9" transform="rotate(22 62.5 390.7)" fill="url(#gc)" opacity="1.00"/>
<ellipse cx="6.2" cy="390.7" rx="3.1" ry="2.7" transform="rotate(42 6.2 390.7)" fill="url(#gc)" opacity="0.93"/>
<ellipse cx="152.5" cy="269.0" rx="3.4" ry="2.5" transform="rotate(49 152.5 269.0)" fill="url(#gc)" opacity="0.86"/>
<ellipse cx="169.5" cy="266.5" rx="3.1" ry="2.3" transform="rotate(26 169.5 266.5)" fill="url(#gc)" opacity="0.97"/>
<ellipse cx="171.2" cy="271.5" rx="2.8" ry="2.2" transform="rotate(31 171.2 271.5)" fill="url(#gc)" opacity="0.86"/>
<ellipse cx="181.2" cy="268.2" rx="3.2" ry="2.6" transform="rotate(17 181.2 268.2)" fill="url(#gc)" opacity="0.99"/>
<ellipse cx="204.5" cy="272.0" rx="2.8" ry="2.1" transform="rotate(23 204.5 272.0)" fill="url(#gc)" opacity="0.94"/>
<ellipse cx="219.5" cy="270.7" rx="3.2" ry="2.6" transform="rotate(49 219.5 270.7)" fill="url(#gc)" opacity="0.94"/>
<ellipse cx="226.2" cy="272.5" rx="3.3" ry="2.9" transform="rotate(30 226.2 272.5)" fill="url(#gc)" opacity="0.87"/>
<ellipse cx="250.7" cy="274.5" rx="3.4" ry="2.7" transform="rotate(34 250.7 274.5)" fill="url(#gc)" opacity="0.89"/>
<ellipse cx="253.7" cy="289.5" rx="2.8" ry="2.5" transform="rotate(19 253.7 289.5)" fill="url(#gc)" opacity="0.95"/>
<ellipse cx="245.5" cy="295.7" rx="3.4" ry="2.7" transform="rotate(40 245.5 295.7)" fill="url(#gc)" opacity="0.89"/>
<ellipse cx="249.5" cy="302.0" rx="3.4" ry="2.6" transform="rotate(23 249.5 302.0)" fill="url(#gc)" opacity="0.85"/>
<ellipse cx="148.0" cy="307.0" rx="2.7" ry="2.2" transform="rotate(49 148.0 307.0)" fill="url(#gc)" opacity="0.90"/>
<ellipse cx="158.2" cy="308.2" rx="2.8" ry="2.1" transform="rotate(20 158.2 308.2)" fill="url(#gc)" opacity="0.92"/>
<ellipse cx="194.5" cy="305.0" rx="2.9" ry="2.2" transform="rotate(40 194.5 305.0)" fill="url(#gc)" opacity="0.88"/>
<ellipse cx="210.0" cy="306.5" rx="3.4" ry="2.6" transform="rotate(28 210.0 306.5)" fill="url(#gc)" opacity="0.95"/>
<ellipse cx="221.2" cy="307.0" rx="3.3" ry="2.7" transform="rotate(45 221.2 307.0)" fill="url(#gc)" opacity="0.85"/>
<ellipse cx="192.0" cy="310.2" rx="2.8" ry="2.1" transform="rotate(49 192.0 310.2)" fill="url(#gc)" opacity="0.85"/>
<ellipse cx="219.5" cy="312.0" rx="3.2" ry="2.5" transform="rotate(43 219.5 312.0)" fill="url(#gc)" opacity="0.93"/>
<ellipse cx="252.5" cy="312.0" rx="2.8" ry="2.3" transform="rotate(53 252.5 312.0)" fill="url(#gc)" opacity="0.96"/>
<ellipse cx="168.7" cy="315.7" rx="2.7" ry="2.3" transform="rotate(49 168.7 315.7)" fill="url(#gc)" opacity="0.93"/>
<ellipse cx="163.7" cy="320.0" rx="3.0" ry="2.5" transform="rotate(29 163.7 320.0)" fill="url(#gc)" opacity="0.98"/>
<ellipse cx="141.2" cy="322.7" rx="3.1" ry="2.7" transform="rotate(54 141.2 322.7)" fill="url(#gc)" opacity="0.86"/>
<ellipse cx="196.2" cy="322.0" rx="2.9" ry="2.3" transform="rotate(47 196.2 322.0)" fill="url(#gc)" opacity="0.89"/>
<ellipse cx="183.0" cy="324.5" rx="3.1" ry="2.6" transform="rotate(50 183.0 324.5)" fill="url(#gc)" opacity="0.87"/>
<ellipse cx="229.5" cy="323.2" rx="3.3" ry="2.8" transform="rotate(25 229.5 323.2)" fill="url(#gc)" opacity="0.88"/>
<ellipse cx="242.0" cy="321.5" rx="3.0" ry="2.2" transform="rotate(31 242.0 321.5)" fill="url(#gc)" opacity="0.99"/>
<ellipse cx="221.0" cy="318.0" rx="3.5" ry="2.5" transform="rotate(47 221.0 318.0)" fill="url(#gcd)" opacity="0.95"/>
<ellipse cx="141.2" cy="330.7" rx="3.2" ry="2.5" transform="rotate(32 141.2 330.7)" fill="url(#gc)" opacity="0.85"/>
<ellipse cx="135.5" cy="336.5" rx="3.0" ry="2.6" transform="rotate(53 135.5 336.5)" fill="url(#gc)" opacity="1.00"/>
<ellipse cx="157.0" cy="334.0" rx="3.4" ry="2.5" transform="rotate(27 157.0 334.0)" fill="url(#gc)" opacity="0.85"/>
<ellipse cx="183.7" cy="328.2" rx="2.7" ry="2.0" transform="rotate(23 183.7 328.2)" fill="url(#gc)" opacity="0.94"/>
<ellipse cx="190.0" cy="334.0" rx="3.1" ry="2.5" transform="rotate(54 190.0 334.0)" fill="url(#gc)" opacity="0.89"/>
<ellipse cx="202.5" cy="332.5" rx="2.8" ry="2.5" transform="rotate(42 202.5 332.5)" fill="url(#gc)" opacity="0.93"/>
<ellipse cx="210.0" cy="331.5" rx="2.9" ry="2.4" transform="rotate(23 210.0 331.5)" fill="url(#gcd)" opacity="0.98"/>
<ellipse cx="223.7" cy="329.0" rx="3.0" ry="2.5" transform="rotate(45 223.7 329.0)" fill="url(#gc)" opacity="0.92"/>
<ellipse cx="244.5" cy="333.2" rx="3.2" ry="2.4" transform="rotate(46 244.5 333.2)" fill="url(#gc)" opacity="0.95"/>
<ellipse cx="248.7" cy="338.2" rx="3.2" ry="2.5" transform="rotate(34 248.7 338.2)" fill="url(#gcd)" opacity="0.95"/>
<ellipse cx="152.5" cy="341.5" rx="2.8" ry="2.2" transform="rotate(44 152.5 341.5)" fill="url(#gc)" opacity="0.97"/>
<ellipse cx="174.5" cy="341.5" rx="2.8" ry="2.2" transform="rotate(36 174.5 341.5)" fill="url(#gc)" opacity="0.94"/>
<ellipse cx="131.2" cy="344.5" rx="2.8" ry="2.3" transform="rotate(36 131.2 344.5)" fill="url(#gc)" opacity="0.95"/>
<ellipse cx="144.5" cy="347.5" rx="3.5" ry="2.8" transform="rotate(26 144.5 347.5)" fill="url(#gcd)" opacity="0.85"/>
<ellipse cx="202.5" cy="344.5" rx="3.2" ry="2.3" transform="rotate(43 202.5 344.5)" fill="url(#gc)" opacity="0.99"/>
<ellipse cx="226.2" cy="343.2" rx="3.2" ry="2.4" transform="rotate(50 226.2 343.2)" fill="url(#gc)" opacity="0.85"/>
<ellipse cx="187.0" cy="349.0" rx="3.1" ry="2.4" transform="rotate(46 187.0 349.0)" fill="url(#gc)" opacity="0.93"/>
<ellipse cx="207.5" cy="349.0" rx="3.0" ry="2.5" transform="rotate(54 207.5 349.0)" fill="url(#gc)" opacity="0.87"/>
<ellipse cx="231.2" cy="350.2" rx="3.2" ry="2.5" transform="rotate(50 231.2 350.2)" fill="url(#gc)" opacity="0.92"/>
<ellipse cx="238.7" cy="348.2" rx="2.9" ry="2.5" transform="rotate(53 238.7 348.2)" fill="url(#gc)" opacity="0.99"/>
<ellipse cx="244.5" cy="349.5" rx="2.9" ry="2.5" transform="rotate(47 244.5 349.5)" fill="url(#gc)" opacity="0.94"/>
<ellipse cx="173.7" cy="352.7" rx="3.0" ry="2.4" transform="rotate(48 173.7 352.7)" fill="url(#gc)" opacity="1.00"/>
<ellipse cx="175.0" cy="356.5" rx="3.0" ry="2.2" transform="rotate(48 175.0 356.5)" fill="url(#gc)" opacity="0.88"/>
<ellipse cx="159.5" cy="358.2" rx="3.5" ry="2.7" transform="rotate(46 159.5 358.2)" fill="url(#gcd)" opacity="0.86"/>
<ellipse cx="205.0" cy="358.2" rx="3.3" ry="2.6" transform="rotate(27 205.0 358.2)" fill="url(#gc)" opacity="0.92"/>
<ellipse cx="212.0" cy="356.5" rx="2.7" ry="2.3" transform="rotate(18 212.0 356.5)" fill="url(#gc)" opacity="0.87"/>
<ellipse cx="223.0" cy="358.2" rx="3.3" ry="2.5" transform="rotate(48 223.0 358.2)" fill="url(#gc)" opacity="0.96"/>
<ellipse cx="138.7" cy="362.0" rx="2.9" ry="2.3" transform="rotate(43 138.7 362.0)" fill="url(#gc)" opacity="0.88"/>
<ellipse cx="165.0" cy="362.7" rx="3.4" ry="2.9" transform="rotate(36 165.0 362.7)" fill="url(#gc)" opacity="0.92"/>
<ellipse cx="152.5" cy="364.5" rx="3.0" ry="2.5" transform="rotate(25 152.5 364.5)" fill="url(#gc)" opacity="0.89"/>
<ellipse cx="197.0" cy="364.0" rx="3.3" ry="2.4" transform="rotate(44 197.0 364.0)" fill="url(#gcd)" opacity="1.00"/>
<ellipse cx="242.5" cy="364.5" rx="2.8" ry="2.0" transform="rotate(20 242.5 364.5)" fill="url(#gc)" opacity="0.94"/>
<ellipse cx="208.0" cy="370.2" rx="3.0" ry="2.5" transform="rotate(31 208.0 370.2)" fill="url(#gc)" opacity="0.97"/>
<ellipse cx="171.2" cy="373.2" rx="3.1" ry="2.7" transform="rotate(28 171.2 373.2)" fill="url(#gc)" opacity="0.87"/>
<ellipse cx="238.0" cy="372.7" rx="3.3" ry="2.6" transform="rotate(18 238.0 372.7)" fill="url(#gc)" opacity="0.99"/>
<ellipse cx="145.0" cy="375.7" rx="2.8" ry="2.2" transform="rotate(30 145.0 375.7)" fill="url(#gc)" opacity="0.92"/>
<ellipse cx="194.5" cy="375.7" rx="2.9" ry="2.3" transform="rotate(53 194.5 375.7)" fill="url(#gc)" opacity="0.98"/>
<ellipse cx="220.0" cy="374.5" rx="3.1" ry="2.4" transform="rotate(21 220.0 374.5)" fill="url(#gc)" opacity="0.94"/>
<ellipse cx="131.2" cy="378.2" rx="2.7" ry="2.4" transform="rotate(21 131.2 378.2)" fill="url(#gc)" opacity="0.89"/>
<ellipse cx="162.0" cy="378.2" rx="3.3" ry="2.4" transform="rotate(21 162.0 378.2)" fill="url(#gc)" opacity="0.89"/>
<ellipse cx="186.2" cy="378.2" rx="3.3" ry="2.8" transform="rotate(18 186.2 378.2)" fill="url(#gc)" opacity="0.88"/>
<ellipse cx="247.5" cy="378.2" rx="3.5" ry="2.5" transform="rotate(43 247.5 378.2)" fill="url(#gcd)" opacity="0.96"/>
<ellipse cx="153.7" cy="382.0" rx="3.1" ry="2.5" transform="rotate(26 153.7 382.0)" fill="url(#gc)" opacity="0.91"/>
<ellipse cx="226.2" cy="380.7" rx="3.2" ry="2.4" transform="rotate(25 226.2 380.7)" fill="url(#gc)" opacity="0.92"/>
<ellipse cx="139.5" cy="384.0" rx="3.0" ry="2.6" transform="rotate(41 139.5 384.0)" fill="url(#gc)" opacity="0.94"/>
<ellipse cx="189.5" cy="384.0" rx="3.2" ry="2.3" transform="rotate(50 189.5 384.0)" fill="url(#gc)" opacity="0.97"/>
<ellipse cx="206.2" cy="386.5" rx="3.4" ry="2.6" transform="rotate(53 206.2 386.5)" fill="url(#gcd)" opacity="0.98"/>
<ellipse cx="245.5" cy="387.0" rx="2.9" ry="2.2" transform="rotate(16 245.5 387.0)" fill="url(#gc)" opacity="0.90"/>
<ellipse cx="148.0" cy="389.0" rx="2.9" ry="2.1" transform="rotate(31 148.0 389.0)" fill="url(#gc)" opacity="0.85"/>
<ellipse cx="171.2" cy="389.5" rx="2.7" ry="2.2" transform="rotate(44 171.2 389.5)" fill="url(#gc)" opacity="0.98"/>
<ellipse cx="195.5" cy="388.2" rx="1.8" ry="1.5" transform="rotate(47 195.5 388.2)" fill="url(#gc)" opacity="0.88"/>
<ellipse cx="215.0" cy="390.7" rx="3.2" ry="2.6" transform="rotate(54 215.0 390.7)" fill="url(#gc)" opacity="0.92"/>
<ellipse cx="159.5" cy="391.5" rx="2.8" ry="2.5" transform="rotate(19 159.5 391.5)" fill="url(#gc)" opacity="0.88"/>
<ellipse cx="18.7" cy="394.5" rx="2.9" ry="2.1" transform="rotate(22 18.7 394.5)" fill="url(#gc)" opacity="0.97"/>
<ellipse cx="35.0" cy="396.5" rx="3.1" ry="2.4" transform="rotate(46 35.0 396.5)" fill="url(#gc)" opacity="0.90"/>
<ellipse cx="35.0" cy="400.7" rx="3.2" ry="2.4" transform="rotate(21 35.0 400.7)" fill="url(#gcd)" opacity="0.96"/>
<ellipse cx="10.0" cy="403.2" rx="2.7" ry="2.3" transform="rotate(46 10.0 403.2)" fill="url(#gc)" opacity="0.98"/>
<ellipse cx="46.2" cy="402.7" rx="3.2" ry="2.8" transform="rotate(38 46.2 402.7)" fill="url(#gc)" opacity="0.99"/>
<ellipse cx="72.5" cy="404.0" rx="2.8" ry="2.3" transform="rotate(43 72.5 404.0)" fill="url(#gc)" opacity="0.91"/>
<ellipse cx="83.0" cy="399.0" rx="2.9" ry="2.2" transform="rotate(21 83.0 399.0)" fill="url(#gc)" opacity="0.88"/>
<ellipse cx="94.5" cy="398.2" rx="3.4" ry="2.7" transform="rotate(28 94.5 398.2)" fill="url(#gcd)" opacity="0.93"/>
<ellipse cx="98.2" cy="404.5" rx="3.2" ry="2.6" transform="rotate(23 98.2 404.5)" fill="url(#gc)" opacity="0.92"/>
<ellipse cx="123.0" cy="403.2" rx="3.4" ry="2.7" transform="rotate(23 123.0 403.2)" fill="url(#gc)" opacity="0.92"/>
<ellipse cx="37.0" cy="409.0" rx="3.2" ry="2.4" transform="rotate(45 37.0 409.0)" fill="url(#gcd)" opacity="0.91"/>
<ellipse cx="24.5" cy="410.7" rx="1.9" ry="1.6" transform="rotate(20 24.5 410.7)" fill="url(#gc)" opacity="0.95"/>
<ellipse cx="68.0" cy="412.0" rx="3.3" ry="2.4" transform="rotate(48 68.0 412.0)" fill="url(#gc)" opacity="0.89"/>
<ellipse cx="124.5" cy="410.7" rx="2.8" ry="2.1" transform="rotate(53 124.5 410.7)" fill="url(#gc)" opacity="0.91"/>
<ellipse cx="15.5" cy="414.5" rx="3.4" ry="2.6" transform="rotate(48 15.5 414.5)" fill="url(#gc)" opacity="0.95"/>
<ellipse cx="53.0" cy="414.5" rx="3.1" ry="2.4" transform="rotate(18 53.0 414.5)" fill="url(#gc)" opacity="0.87"/>
<ellipse cx="40.7" cy="417.7" rx="2.7" ry="2.0" transform="rotate(39 40.7 417.7)" fill="url(#gc)" opacity="0.96"/>
<ellipse cx="73.7" cy="417.0" rx="2.7" ry="2.4" transform="rotate(32 73.7 417.0)" fill="url(#gc)" opacity="1.00"/>
<ellipse cx="85.5" cy="415.7" rx="3.1" ry="2.6" transform="rotate(45 85.5 415.7)" fill="url(#gcd)" opacity="0.95"/>
<ellipse cx="109.5" cy="415.7" rx="2.8" ry="2.4" transform="rotate(17 109.5 415.7)" fill="url(#gc)" opacity="0.92"/>
<ellipse cx="122.5" cy="418.2" rx="2.7" ry="2.1" transform="rotate(26 122.5 418.2)" fill="url(#gc)" opacity="0.89"/>
<ellipse cx="3.0" cy="417.7" rx="3.3" ry="2.6" transform="rotate(19 3.0 417.7)" fill="url(#gc)" opacity="0.88"/>
<ellipse cx="55.5" cy="421.5" rx="2.7" ry="2.2" transform="rotate(18 55.5 421.5)" fill="url(#gc)" opacity="0.91"/>
<ellipse cx="101.2" cy="420.7" rx="3.1" ry="2.4" transform="rotate(34 101.2 420.7)" fill="url(#gc)" opacity="0.85"/>
<ellipse cx="66.2" cy="425.2" rx="3.0" ry="2.1" transform="rotate(32 66.2 425.2)" fill="url(#gcd)" opacity="0.96"/>
<ellipse cx="32.5" cy="428.2" rx="2.9" ry="2.4" transform="rotate(40 32.5 428.2)" fill="url(#gc)" opacity="0.96"/>
<ellipse cx="96.2" cy="429.5" rx="3.4" ry="2.9" transform="rotate(53 96.2 429.5)" fill="url(#gc)" opacity="0.90"/>
<ellipse cx="15.0" cy="432.0" rx="2.8" ry="2.0" transform="rotate(30 15.0 432.0)" fill="url(#gcd)" opacity="0.87"/>
<ellipse cx="42.0" cy="432.0" rx="2.9" ry="2.3" transform="rotate(29 42.0 432.0)" fill="url(#gc)" opacity="0.94"/>
<ellipse cx="47.5" cy="431.5" rx="3.0" ry="2.6" transform="rotate(53 47.5 431.5)" fill="url(#gc)" opacity="0.99"/>
<ellipse cx="55.0" cy="429.5" rx="3.1" ry="2.3" transform="rotate(49 55.0 429.5)" fill="url(#gcd)" opacity="1.00"/>
<ellipse cx="70.0" cy="430.2" rx="3.3" ry="2.5" transform="rotate(32 70.0 430.2)" fill="url(#gc)" opacity="0.89"/>
<ellipse cx="117.0" cy="431.5" rx="2.9" ry="2.3" transform="rotate(31 117.0 431.5)" fill="url(#gc)" opacity="0.99"/>
<ellipse cx="28.7" cy="434.5" rx="3.1" ry="2.4" transform="rotate(37 28.7 434.5)" fill="url(#gc)" opacity="0.94"/>
<ellipse cx="82.0" cy="434.5" rx="2.8" ry="2.1" transform="rotate(48 82.0 434.5)" fill="url(#gc)" opacity="0.96"/>
<ellipse cx="101.2" cy="433.2" rx="2.9" ry="2.2" transform="rotate(40 101.2 433.2)" fill="url(#gc)" opacity="0.87"/>
<ellipse cx="69.5" cy="437.7" rx="3.1" ry="2.8" transform="rotate(38 69.5 437.7)" fill="url(#gc)" opacity="0.95"/>
<ellipse cx="33.7" cy="440.2" rx="3.1" ry="2.8" transform="rotate(22 33.7 440.2)" fill="url(#gc)" opacity="0.99"/>
<ellipse cx="92.5" cy="439.5" rx="2.8" ry="2.1" transform="rotate(49 92.5 439.5)" fill="url(#gc)" opacity="0.85"/>
<ellipse cx="8.7" cy="441.5" rx="3.4" ry="2.7" transform="rotate(41 8.7 441.5)" fill="url(#gc)" opacity="0.96"/>
<ellipse cx="47.0" cy="442.7" rx="3.2" ry="2.5" transform="rotate(27 47.0 442.7)" fill="url(#gc)" opacity="0.99"/>
<ellipse cx="114.5" cy="442.0" rx="2.8" ry="2.0" transform="rotate(46 114.5 442.0)" fill="url(#gc)" opacity="0.97"/>
<ellipse cx="102.0" cy="441.5" rx="3.5" ry="2.8" transform="rotate(30 102.0 441.5)" fill="url(#gcd)" opacity="0.88"/>
<ellipse cx="111.2" cy="444.5" rx="2.9" ry="2.5" transform="rotate(27 111.2 444.5)" fill="url(#gc)" opacity="0.85"/>
<ellipse cx="60.5" cy="447.0" rx="3.2" ry="2.6" transform="rotate(20 60.5 447.0)" fill="url(#gc)" opacity="0.85"/>
<ellipse cx="12.0" cy="450.7" rx="2.8" ry="2.1" transform="rotate(16 12.0 450.7)" fill="url(#gc)" opacity="0.93"/>
<ellipse cx="19.5" cy="449.5" rx="3.3" ry="2.6" transform="rotate(29 19.5 449.5)" fill="url(#gc)" opacity="0.95"/>
<ellipse cx="68.7" cy="450.7" rx="3.5" ry="2.4" transform="rotate(25 68.7 450.7)" fill="url(#gcd)" opacity="0.98"/>
<ellipse cx="80.5" cy="450.7" rx="3.1" ry="2.5" transform="rotate(37 80.5 450.7)" fill="url(#gc)" opacity="0.95"/>
<ellipse cx="92.5" cy="450.7" rx="3.2" ry="2.3" transform="rotate(35 92.5 450.7)" fill="url(#gc)" opacity="0.93"/>
<ellipse cx="29.5" cy="453.2" rx="3.3" ry="2.3" transform="rotate(18 29.5 453.2)" fill="url(#gcd)" opacity="0.96"/>
<ellipse cx="122.0" cy="454.5" rx="2.7" ry="2.0" transform="rotate(21 122.0 454.5)" fill="url(#gc)" opacity="1.00"/>
<ellipse cx="19.5" cy="460.0" rx="3.2" ry="2.3" transform="rotate(24 19.5 460.0)" fill="url(#gc)" opacity="0.94"/>
<ellipse cx="32.0" cy="459.0" rx="3.1" ry="2.7" transform="rotate(37 32.0 459.0)" fill="url(#gc)" opacity="0.95"/>
<ellipse cx="55.0" cy="459.5" rx="3.2" ry="2.3" transform="rotate(24 55.0 459.5)" fill="url(#gc)" opacity="0.86"/>
<ellipse cx="68.7" cy="460.0" rx="3.0" ry="2.6" transform="rotate(23 68.7 460.0)" fill="url(#gc)" opacity="0.85"/>
<ellipse cx="73.2" cy="460.0" rx="3.1" ry="2.4" transform="rotate(26 73.2 460.0)" fill="url(#gc)" opacity="0.86"/>
<ellipse cx="90.5" cy="461.5" rx="2.7" ry="2.0" transform="rotate(28 90.5 461.5)" fill="url(#gc)" opacity="0.98"/>
<ellipse cx="122.5" cy="461.5" rx="3.2" ry="2.4" transform="rotate(50 122.5 461.5)" fill="url(#gc)" opacity="0.96"/>
<ellipse cx="22.0" cy="466.5" rx="2.7" ry="2.2" transform="rotate(46 22.0 466.5)" fill="url(#gc)" opacity="0.99"/>
<ellipse cx="45.0" cy="468.2" rx="2.8" ry="2.4" transform="rotate(21 45.0 468.2)" fill="url(#gc)" opacity="0.96"/>
<ellipse cx="58.7" cy="469.5" rx="3.3" ry="2.6" transform="rotate(48 58.7 469.5)" fill="url(#gcd)" opacity="0.88"/>
<ellipse cx="77.5" cy="467.7" rx="3.3" ry="2.4" transform="rotate(39 77.5 467.7)" fill="url(#gc)" opacity="0.92"/>
<ellipse cx="111.2" cy="467.0" rx="2.8" ry="2.2" transform="rotate(28 111.2 467.0)" fill="url(#gcd)" opacity="0.99"/>
<ellipse cx="122.5" cy="469.5" rx="3.0" ry="2.7" transform="rotate(53 122.5 469.5)" fill="url(#gc)" opacity="0.98"/>
<ellipse cx="3.0" cy="468.2" rx="2.8" ry="2.5" transform="rotate(29 3.0 468.2)" fill="url(#gc)" opacity="0.90"/>
<ellipse cx="27.5" cy="474.0" rx="3.0" ry="2.4" transform="rotate(33 27.5 474.0)" fill="url(#gcd)" opacity="0.94"/>
<ellipse cx="44.5" cy="475.7" rx="3.0" ry="2.5" transform="rotate(21 44.5 475.7)" fill="url(#gc)" opacity="0.94"/>
<ellipse cx="95.5" cy="472.5" rx="3.2" ry="2.5" transform="rotate(53 95.5 472.5)" fill="url(#gc)" opacity="0.85"/>
<ellipse cx="90.5" cy="476.5" rx="2.9" ry="2.4" transform="rotate(32 90.5 476.5)" fill="url(#gcd)" opacity="0.97"/>
<ellipse cx="7.0" cy="477.0" rx="3.1" ry="2.4" transform="rotate(50 7.0 477.0)" fill="url(#gc)" opacity="0.88"/>
<ellipse cx="72.0" cy="479.0" rx="3.2" ry="2.8" transform="rotate(16 72.0 479.0)" fill="url(#gc)" opacity="0.92"/>
<ellipse cx="123.0" cy="479.5" rx="3.2" ry="2.9" transform="rotate(40 123.0 479.5)" fill="url(#gc)" opacity="0.90"/>
<ellipse cx="8.0" cy="483.2" rx="2.8" ry="2.5" transform="rotate(18 8.0 483.2)" fill="url(#gc)" opacity="0.96"/>
<ellipse cx="45.0" cy="484.5" rx="3.2" ry="2.7" transform="rotate(38 45.0 484.5)" fill="url(#gc)" opacity="0.92"/>
<ellipse cx="108.0" cy="483.2" rx="3.5" ry="2.8" transform="rotate(54 108.0 483.2)" fill="url(#gcd)" opacity="0.92"/>
<ellipse cx="66.2" cy="486.5" rx="3.1" ry="2.7" transform="rotate(45 66.2 486.5)" fill="url(#gc)" opacity="0.93"/>
<ellipse cx="23.0" cy="487.0" rx="2.1" ry="1.7" transform="rotate(23 23.0 487.0)" fill="url(#gc)" opacity="0.92"/>
<ellipse cx="81.2" cy="489.5" rx="3.2" ry="2.7" transform="rotate(18 81.2 489.5)" fill="url(#gc)" opacity="0.91"/>
<ellipse cx="97.5" cy="487.0" rx="3.2" ry="2.7" transform="rotate(21 97.5 487.0)" fill="url(#gc)" opacity="0.95"/>
<ellipse cx="102.0" cy="490.7" rx="3.3" ry="2.8" transform="rotate(21 102.0 490.7)" fill="url(#gc)" opacity="0.97"/>
<ellipse cx="78.0" cy="494.0" rx="2.9" ry="2.4" transform="rotate(54 78.0 494.0)" fill="url(#gc)" opacity="0.85"/>
<ellipse cx="25.0" cy="493.2" rx="2.8" ry="2.1" transform="rotate(24 25.0 493.2)" fill="url(#gc)" opacity="0.97"/>
<ellipse cx="107.0" cy="493.2" rx="3.1" ry="2.6" transform="rotate(17 107.0 493.2)" fill="url(#gc)" opacity="0.88"/>
<ellipse cx="12.0" cy="497.0" rx="3.4" ry="2.8" transform="rotate(19 12.0 497.0)" fill="url(#gcd)" opacity="0.97"/>
<ellipse cx="48.7" cy="494.5" rx="3.1" ry="2.4" transform="rotate(50 48.7 494.5)" fill="url(#gcd)" opacity="0.85"/>
<ellipse cx="60.0" cy="495.2" rx="3.3" ry="2.9" transform="rotate(48 60.0 495.2)" fill="url(#gc)" opacity="0.99"/>
<ellipse cx="128.7" cy="495.7" rx="2.9" ry="2.4" transform="rotate(15 128.7 495.7)" fill="url(#gc)" opacity="0.98"/>
<ellipse cx="93.0" cy="500.7" rx="2.8" ry="2.5" transform="rotate(51 93.0 500.7)" fill="url(#gc)" opacity="0.86"/>
<ellipse cx="115.0" cy="500.7" rx="3.0" ry="2.3" transform="rotate(50 115.0 500.7)" fill="url(#gc)" opacity="0.91"/>
<ellipse cx="6.2" cy="503.2" rx="3.2" ry="2.3" transform="rotate(29 6.2 503.2)" fill="url(#gc)" opacity="0.97"/>
<ellipse cx="25.0" cy="504.0" rx="3.3" ry="2.7" transform="rotate(37 25.0 504.0)" fill="url(#gc)" opacity="0.98"/>
<ellipse cx="43.7" cy="502.7" rx="2.9" ry="2.6" transform="rotate(37 43.7 502.7)" fill="url(#gc)" opacity="1.00"/>
<ellipse cx="28.7" cy="508.2" rx="3.1" ry="2.5" transform="rotate(26 28.7 508.2)" fill="url(#gc)" opacity="0.95"/>
<ellipse cx="62.0" cy="509.5" rx="3.4" ry="2.7" transform="rotate(38 62.0 509.5)" fill="url(#gc)" opacity="1.00"/>
<ellipse cx="72.5" cy="509.0" rx="3.3" ry="3.0" transform="rotate(16 72.5 509.0)" fill="url(#gc)" opacity="0.89"/>
<ellipse cx="98.0" cy="509.5" rx="3.1" ry="2.6" transform="rotate(29 98.0 509.5)" fill="url(#gc)" opacity="0.90"/>
<ellipse cx="124.5" cy="508.2" rx="2.9" ry="2.1" transform="rotate(36 124.5 508.2)" fill="url(#gc)" opacity="0.92"/>
<ellipse cx="15.0" cy="513.2" rx="3.0" ry="2.6" transform="rotate(45 15.0 513.2)" fill="url(#gc)" opacity="0.92"/>
<ellipse cx="108.7" cy="512.0" rx="3.2" ry="2.6" transform="rotate(24 108.7 512.0)" fill="url(#gc)" opacity="0.92"/>
<ellipse cx="82.5" cy="514.5" rx="3.2" ry="2.8" transform="rotate(47 82.5 514.5)" fill="url(#gc)" opacity="1.00"/>
<ellipse cx="25.0" cy="516.5" rx="3.4" ry="2.8" transform="rotate(54 25.0 516.5)" fill="url(#gc)" opacity="0.92"/>
<ellipse cx="33.7" cy="516.5" rx="3.3" ry="2.3" transform="rotate(39 33.7 516.5)" fill="url(#gcd)" opacity="0.98"/>
<ellipse cx="41.2" cy="517.0" rx="3.3" ry="2.6" transform="rotate(39 41.2 517.0)" fill="url(#gc)" opacity="0.94"/>
<ellipse cx="131.2" cy="395.0" rx="3.3" ry="2.8" transform="rotate(42 131.2 395.0)" fill="url(#gcd)" opacity="0.91"/>
<ellipse cx="181.2" cy="395.0" rx="3.4" ry="2.5" transform="rotate(43 181.2 395.0)" fill="url(#gc)" opacity="0.98"/>
<ellipse cx="200.0" cy="395.0" rx="3.0" ry="2.2" transform="rotate(22 200.0 395.0)" fill="url(#gc)" opacity="0.92"/>
<ellipse cx="142.0" cy="399.5" rx="2.8" ry="2.3" transform="rotate(52 142.0 399.5)" fill="url(#gc)" opacity="0.94"/>
<ellipse cx="231.2" cy="400.2" rx="3.1" ry="2.7" transform="rotate(16 231.2 400.2)" fill="url(#gc)" opacity="0.93"/>
<ellipse cx="253.7" cy="401.5" rx="2.9" ry="2.2" transform="rotate(27 253.7 401.5)" fill="url(#gc)" opacity="0.94"/>
<ellipse cx="196.2" cy="402.0" rx="3.3" ry="2.4" transform="rotate(24 196.2 402.0)" fill="url(#gcd)" opacity="0.86"/>
<ellipse cx="155.0" cy="404.5" rx="3.4" ry="2.7" transform="rotate(37 155.0 404.5)" fill="url(#gc)" opacity="0.95"/>
<ellipse cx="165.0" cy="406.5" rx="3.0" ry="2.5" transform="rotate(40 165.0 406.5)" fill="url(#gc)" opacity="0.99"/>
<ellipse cx="185.5" cy="407.0" rx="3.3" ry="2.5" transform="rotate(15 185.5 407.0)" fill="url(#gc)" opacity="0.89"/>
<ellipse cx="194.5" cy="408.2" rx="3.1" ry="2.2" transform="rotate(33 194.5 408.2)" fill="url(#gc)" opacity="0.89"/>
<ellipse cx="200.0" cy="409.0" rx="3.0" ry="2.2" transform="rotate(52 200.0 409.0)" fill="url(#gc)" opacity="0.91"/>
<ellipse cx="225.5" cy="407.5" rx="3.1" ry="2.6" transform="rotate(41 225.5 407.5)" fill="url(#gc)" opacity="1.00"/>
<ellipse cx="177.5" cy="410.7" rx="3.4" ry="2.8" transform="rotate(39 177.5 410.7)" fill="url(#gc)" opacity="0.97"/>
<ellipse cx="218.7" cy="410.7" rx="3.6" ry="2.8" transform="rotate(41 218.7 410.7)" fill="url(#gcd)" opacity="0.90"/>
<ellipse cx="148.0" cy="412.5" rx="2.9" ry="2.2" transform="rotate(21 148.0 412.5)" fill="url(#gcd)" opacity="0.99"/>
<ellipse cx="208.0" cy="413.2" rx="3.0" ry="2.3" transform="rotate(49 208.0 413.2)" fill="url(#gc)" opacity="0.94"/>
<ellipse cx="157.0" cy="414.0" rx="2.9" ry="2.4" transform="rotate(25 157.0 414.0)" fill="url(#gc)" opacity="0.85"/>
<ellipse cx="243.7" cy="415.0" rx="3.1" ry="2.5" transform="rotate(50 243.7 415.0)" fill="url(#gcd)" opacity="0.98"/>
<ellipse cx="140.0" cy="416.5" rx="3.1" ry="2.3" transform="rotate(49 140.0 416.5)" fill="url(#gc)" opacity="0.97"/>
<ellipse cx="172.0" cy="417.7" rx="3.4" ry="2.7" transform="rotate(31 172.0 417.7)" fill="url(#gcd)" opacity="0.94"/>
<ellipse cx="159.5" cy="421.5" rx="3.1" ry="2.4" transform="rotate(50 159.5 421.5)" fill="url(#gc)" opacity="0.96"/>
<ellipse cx="226.2" cy="421.5" rx="2.9" ry="2.5" transform="rotate(19 226.2 421.5)" fill="url(#gc)" opacity="0.87"/>
<ellipse cx="138.7" cy="424.0" rx="3.0" ry="2.2" transform="rotate(31 138.7 424.0)" fill="url(#gcd)" opacity="0.92"/>
<ellipse cx="147.0" cy="425.2" rx="3.3" ry="2.4" transform="rotate(25 147.0 425.2)" fill="url(#gc)" opacity="0.98"/>
<ellipse cx="177.5" cy="425.7" rx="2.9" ry="2.3" transform="rotate(38 177.5 425.7)" fill="url(#gc)" opacity="0.92"/>
<ellipse cx="188.7" cy="424.5" rx="2.7" ry="2.3" transform="rotate(22 188.7 424.5)" fill="url(#gc)" opacity="0.86"/>
<ellipse cx="183.7" cy="428.2" rx="3.0" ry="2.4" transform="rotate(16 183.7 428.2)" fill="url(#gcd)" opacity="0.96"/>
<ellipse cx="229.5" cy="425.7" rx="2.7" ry="2.2" transform="rotate(44 229.5 425.7)" fill="url(#gc)" opacity="0.88"/>
<ellipse cx="243.7" cy="423.2" rx="3.4" ry="2.9" transform="rotate(53 243.7 423.2)" fill="url(#gcd)" opacity="1.00"/>
<ellipse cx="211.2" cy="430.7" rx="2.9" ry="2.4" transform="rotate(37 211.2 430.7)" fill="url(#gc)" opacity="0.87"/>
<ellipse cx="233.0" cy="430.2" rx="3.2" ry="2.7" transform="rotate(30 233.0 430.2)" fill="url(#gc)" opacity="1.00"/>
<ellipse cx="178.7" cy="433.2" rx="3.0" ry="2.6" transform="rotate(22 178.7 433.2)" fill="url(#gc)" opacity="0.97"/>
<ellipse cx="202.5" cy="432.7" rx="3.0" ry="2.6" transform="rotate(48 202.5 432.7)" fill="url(#gc)" opacity="0.86"/>
<ellipse cx="163.7" cy="437.0" rx="3.3" ry="2.8" transform="rotate(37 163.7 437.0)" fill="url(#gc)" opacity="0.87"/>
<ellipse cx="220.0" cy="437.7" rx="2.8" ry="2.5" transform="rotate(17 220.0 437.7)" fill="url(#gc)" opacity="0.89"/>
<ellipse cx="242.5" cy="436.5" rx="3.2" ry="2.3" transform="rotate(22 242.5 436.5)" fill="url(#gcd)" opacity="0.98"/>
<ellipse cx="142.5" cy="439.0" rx="2.9" ry="2.2" transform="rotate(37 142.5 439.0)" fill="url(#gcd)" opacity="0.92"/>
<ellipse cx="182.5" cy="439.5" rx="3.4" ry="2.7" transform="rotate(20 182.5 439.5)" fill="url(#gc)" opacity="0.98"/>
<ellipse cx="237.0" cy="440.2" rx="3.0" ry="2.7" transform="rotate(41 237.0 440.2)" fill="url(#gc)" opacity="0.98"/>
<ellipse cx="138.7" cy="442.7" rx="2.8" ry="2.5" transform="rotate(42 138.7 442.7)" fill="url(#gc)" opacity="0.90"/>
<ellipse cx="167.5" cy="441.5" rx="2.9" ry="2.0" transform="rotate(47 167.5 441.5)" fill="url(#gcd)" opacity="0.91"/>
<ellipse cx="188.0" cy="443.2" rx="3.2" ry="2.5" transform="rotate(38 188.0 443.2)" fill="url(#gc)" opacity="0.89"/>
<ellipse cx="251.2" cy="442.0" rx="3.0" ry="2.3" transform="rotate(17 251.2 442.0)" fill="url(#gc)" opacity="0.87"/>
<ellipse cx="167.0" cy="447.7" rx="2.8" ry="2.4" transform="rotate(47 167.0 447.7)" fill="url(#gc)" opacity="0.99"/>
<ellipse cx="215.0" cy="448.2" rx="3.2" ry="2.5" transform="rotate(34 215.0 448.2)" fill="url(#gc)" opacity="0.89"/>
<ellipse cx="132.0" cy="450.2" rx="3.0" ry="2.6" transform="rotate(31 132.0 450.2)" fill="url(#gc)" opacity="0.99"/>
<ellipse cx="138.7" cy="450.7" rx="2.9" ry="2.5" transform="rotate(54 138.7 450.7)" fill="url(#gc)" opacity="0.99"/>
<ellipse cx="209.5" cy="450.2" rx="3.4" ry="2.9" transform="rotate(34 209.5 450.2)" fill="url(#gc)" opacity="0.97"/>
<ellipse cx="247.0" cy="449.0" rx="3.2" ry="2.4" transform="rotate(24 247.0 449.0)" fill="url(#gc)" opacity="1.00"/>
<ellipse cx="186.2" cy="453.2" rx="3.2" ry="2.8" transform="rotate(30 186.2 453.2)" fill="url(#gc)" opacity="0.98"/>
<ellipse cx="162.0" cy="454.5" rx="3.0" ry="2.2" transform="rotate(38 162.0 454.5)" fill="url(#gc)" opacity="0.98"/>
<ellipse cx="173.0" cy="455.7" rx="2.8" ry="2.2" transform="rotate(34 173.0 455.7)" fill="url(#gc)" opacity="0.91"/>
<ellipse cx="149.5" cy="461.5" rx="2.9" ry="2.2" transform="rotate(45 149.5 461.5)" fill="url(#gc)" opacity="0.93"/>
<ellipse cx="171.2" cy="460.0" rx="3.0" ry="2.4" transform="rotate(53 171.2 460.0)" fill="url(#gc)" opacity="0.91"/>
<ellipse cx="185.5" cy="459.5" rx="3.2" ry="2.7" transform="rotate(45 185.5 459.5)" fill="url(#gc)" opacity="0.86"/>
<ellipse cx="194.5" cy="461.5" rx="3.0" ry="2.5" transform="rotate(18 194.5 461.5)" fill="url(#gc)" opacity="0.92"/>
<ellipse cx="210.5" cy="461.5" rx="3.1" ry="2.6" transform="rotate(40 210.5 461.5)" fill="url(#gc)" opacity="0.88"/>
<ellipse cx="232.0" cy="458.2" rx="2.9" ry="2.1" transform="rotate(31 232.0 458.2)" fill="url(#gc)" opacity="0.86"/>
<ellipse cx="138.7" cy="468.2" rx="2.9" ry="2.2" transform="rotate(46 138.7 468.2)" fill="url(#gc)" opacity="0.90"/>
<ellipse cx="167.5" cy="468.2" rx="3.1" ry="2.5" transform="rotate(25 167.5 468.2)" fill="url(#gc)" opacity="0.99"/>
<ellipse cx="218.7" cy="469.5" rx="3.5" ry="2.8" transform="rotate(52 218.7 469.5)" fill="url(#gcd)" opacity="0.96"/>
<ellipse cx="226.2" cy="465.7" rx="2.8" ry="2.2" transform="rotate(36 226.2 465.7)" fill="url(#gc)" opacity="0.93"/>
<ellipse cx="238.7" cy="465.7" rx="3.4" ry="2.6" transform="rotate(46 238.7 465.7)" fill="url(#gc)" opacity="0.89"/>
<ellipse cx="247.5" cy="469.5" rx="3.3" ry="2.5" transform="rotate(35 247.5 469.5)" fill="url(#gc)" opacity="0.86"/>
<ellipse cx="142.0" cy="475.0" rx="3.1" ry="2.7" transform="rotate(37 142.0 475.0)" fill="url(#gc)" opacity="0.94"/>
<ellipse cx="190.7" cy="477.0" rx="3.2" ry="2.7" transform="rotate(16 190.7 477.0)" fill="url(#gc)" opacity="0.94"/>
<ellipse cx="134.5" cy="479.5" rx="3.2" ry="2.6" transform="rotate(37 134.5 479.5)" fill="url(#gc)" opacity="0.93"/>
<ellipse cx="143.0" cy="479.0" rx="3.2" ry="2.4" transform="rotate(21 143.0 479.0)" fill="url(#gc)" opacity="0.98"/>
<ellipse cx="174.5" cy="479.0" rx="3.3" ry="2.9" transform="rotate(37 174.5 479.0)" fill="url(#gc)" opacity="0.86"/>
<ellipse cx="238.7" cy="478.2" rx="3.3" ry="2.5" transform="rotate(53 238.7 478.2)" fill="url(#gc)" opacity="0.87"/>
<ellipse cx="253.0" cy="480.7" rx="2.9" ry="2.6" transform="rotate(53 253.0 480.7)" fill="url(#gc)" opacity="0.90"/>
<ellipse cx="157.0" cy="482.0" rx="3.1" ry="2.3" transform="rotate(39 157.0 482.0)" fill="url(#gc)" opacity="0.88"/>
<ellipse cx="148.0" cy="483.2" rx="1.8" ry="1.3" transform="rotate(19 148.0 483.2)" fill="url(#gc)" opacity="0.91"/>
<ellipse cx="215.0" cy="480.0" rx="3.4" ry="2.7" transform="rotate(30 215.0 480.0)" fill="url(#gc)" opacity="0.90"/>
<ellipse cx="229.5" cy="480.7" rx="2.8" ry="2.3" transform="rotate(45 229.5 480.7)" fill="url(#gc)" opacity="0.95"/>
<ellipse cx="147.0" cy="490.7" rx="3.3" ry="2.9" transform="rotate(24 147.0 490.7)" fill="url(#gc)" opacity="0.91"/>
<ellipse cx="170.0" cy="487.0" rx="2.8" ry="2.3" transform="rotate(19 170.0 487.0)" fill="url(#gc)" opacity="0.95"/>
<ellipse cx="245.5" cy="489.5" rx="3.2" ry="2.8" transform="rotate(40 245.5 489.5)" fill="url(#gc)" opacity="0.85"/>
<ellipse cx="168.7" cy="495.7" rx="3.2" ry="2.8" transform="rotate(30 168.7 495.7)" fill="url(#gc)" opacity="0.89"/>
<ellipse cx="132.5" cy="497.0" rx="2.8" ry="2.1" transform="rotate(51 132.5 497.0)" fill="url(#gc)" opacity="0.94"/>
<ellipse cx="141.2" cy="503.2" rx="2.9" ry="2.5" transform="rotate(44 141.2 503.2)" fill="url(#gc)" opacity="0.99"/>
<ellipse cx="216.2" cy="500.7" rx="2.9" ry="2.2" transform="rotate(16 216.2 500.7)" fill="url(#gc)" opacity="0.99"/>
<ellipse cx="232.5" cy="502.0" rx="3.0" ry="2.4" transform="rotate(37 232.5 502.0)" fill="url(#gc)" opacity="0.88"/>
<ellipse cx="240.0" cy="499.0" rx="2.9" ry="2.2" transform="rotate(43 240.0 499.0)" fill="url(#gc)" opacity="0.97"/>
<ellipse cx="248.0" cy="501.5" rx="3.5" ry="2.4" transform="rotate(34 248.0 501.5)" fill="url(#gcd)" opacity="0.97"/>
<ellipse cx="177.5" cy="508.2" rx="3.1" ry="2.7" transform="rotate(51 177.5 508.2)" fill="url(#gc)" opacity="0.93"/>
<ellipse cx="167.0" cy="513.2" rx="3.3" ry="2.4" transform="rotate(27 167.0 513.2)" fill="url(#gc)" opacity="0.98"/>
<ellipse cx="204.5" cy="509.5" rx="3.1" ry="2.5" transform="rotate(18 204.5 509.5)" fill="url(#gc)" opacity="0.94"/>
<ellipse cx="226.2" cy="513.2" rx="3.1" ry="2.6" transform="rotate(47 226.2 513.2)" fill="url(#gc)" opacity="0.89"/>
<ellipse cx="237.0" cy="515.2" rx="3.1" ry="2.5" transform="rotate(22 237.0 515.2)" fill="url(#gc)" opacity="0.88"/>
<ellipse cx="148.7" cy="517.0" rx="2.9" ry="2.4" transform="rotate(43 148.7 517.0)" fill="url(#gc)" opacity="0.99"/>
<ellipse cx="183.7" cy="517.0" rx="2.8" ry="2.1" transform="rotate(16 183.7 517.0)" fill="url(#gc)" opacity="0.99"/>
<ellipse cx="254.5" cy="510.7" rx="3.4" ry="2.9" transform="rotate(23 254.5 510.7)" fill="url(#gc)" opacity="0.98"/>
<ellipse cx="191.2" cy="496.5" rx="3.3" ry="2.7" transform="rotate(26 191.2 496.5)" fill="url(#gc)" opacity="0.92"/>
</g>
<g clip-path="url(#cd)"><rect x="264.5" y="264.6" width="254.3" height="253.9" fill="#2d0b05"/>
<rect x="264.5" y="264.6" width="254.3" height="253.9" filter="url(#nz)" opacity="0.3"/>
<circle cx="305.0" cy="274.2" r="3.3600000000000003" fill="url(#gr)"/>
<circle cx="278.0" cy="297.5" r="3.3600000000000003" fill="url(#gr)"/>
<circle cx="348.0" cy="295.7" r="5.05" fill="url(#gd)"/>
<circle cx="322.0" cy="310.5" r="5.05" fill="url(#gd)"/>
<circle cx="332.0" cy="332.0" r="5.05" fill="url(#gd)"/>
<circle cx="278.0" cy="338.5" r="5.05" fill="url(#gd)"/>
<circle cx="372.2" cy="347.2" r="5.05" fill="url(#gd)"/>
<circle cx="267.0" cy="362.5" r="3.6750000000000003" fill="url(#gr)"/>
<circle cx="361.2" cy="368.0" r="5.05" fill="url(#gd)"/>
<circle cx="292.0" cy="376.0" r="5.05" fill="url(#gd)"/>
<circle cx="336.2" cy="378.2" r="4.83" fill="url(#gr)"/>
<circle cx="388.7" cy="312.5" r="5.05" fill="url(#gd)"/>
<circle cx="408.0" cy="269.5" r="5.05" fill="url(#gd)"/>
<circle cx="497.0" cy="272.5" r="5.05" fill="url(#gd)"/>
<circle cx="462.5" cy="307.0" r="5.05" fill="url(#gd)"/>
<circle cx="491.2" cy="305.0" r="5.05" fill="url(#gd)"/>
<circle cx="418.2" cy="329.5" r="5.05" fill="url(#gd)"/>
<circle cx="509.5" cy="343.7" r="5.05" fill="url(#gd)"/>
<circle cx="395.0" cy="366.2" r="5.05" fill="url(#gd)"/>
<circle cx="468.2" cy="365.7" r="4.620000000000001" fill="url(#gr)"/>
<circle cx="441.2" cy="371.7" r="5.05" fill="url(#gd)"/>
<circle cx="452.5" cy="388.5" r="5.05" fill="url(#gd)"/>
<circle cx="344.2" cy="395.5" r="4.41" fill="url(#gr)"/>
<circle cx="298.0" cy="400.7" r="5.05" fill="url(#gd)"/>
<circle cx="285.7" cy="406.2" r="5.05" fill="url(#gd)"/>
<circle cx="350.7" cy="414.5" r="2.52" fill="url(#grr)"/>
<circle cx="271.2" cy="431.2" r="5.05" fill="url(#gd)"/>
<circle cx="298.2" cy="434.0" r="5.05" fill="url(#gd)"/>
<circle cx="386.7" cy="437.5" r="5.05" fill="url(#gd)"/>
<circle cx="321.2" cy="445.0" r="5.05" fill="url(#gd)"/>
<circle cx="356.2" cy="452.0" r="5.05" fill="url(#gd)"/>
<circle cx="315.0" cy="472.5" r="5.05" fill="url(#gd)"/>
<circle cx="336.2" cy="470.7" r="5.05" fill="url(#gd)"/>
<circle cx="366.2" cy="471.2" r="2.7300000000000004" fill="url(#grr)"/>
<circle cx="268.0" cy="484.5" r="5.05" fill="url(#gd)"/>
<circle cx="365.0" cy="493.2" r="5.05" fill="url(#gd)"/>
<circle cx="272.5" cy="506.7" r="5.05" fill="url(#gd)"/>
<circle cx="325.0" cy="513.0" r="5.05" fill="url(#gd)"/>
<circle cx="345.5" cy="513.0" r="5.05" fill="url(#gd)"/>
<circle cx="475.0" cy="404.2" r="5.05" fill="url(#gd)"/>
<circle cx="427.0" cy="409.5" r="5.05" fill="url(#gd)"/>
<circle cx="461.2" cy="431.2" r="4.620000000000001" fill="url(#gr)"/>
<circle cx="499.5" cy="432.5" r="5.05" fill="url(#gd)"/>
<circle cx="493.2" cy="455.5" r="5.05" fill="url(#gd)"/>
<circle cx="507.5" cy="460.0" r="5.05" fill="url(#gd)"/>
<circle cx="420.0" cy="467.0" r="5.05" fill="url(#gd)"/>
<circle cx="486.2" cy="480.5" r="3.57" fill="url(#gr)"/>
<circle cx="450.7" cy="494.5" r="5.05" fill="url(#gd)"/>
<circle cx="415.0" cy="503.2" r="5.05" fill="url(#gd)"/>
<circle cx="505.0" cy="513.7" r="5.05" fill="url(#gd)"/>
</g>
<text x="14.0" y="36.2" font-size="33" fill="#fff" stroke="#fff" stroke-width="0.35">(a)</text>
<text x="271.2" y="35.8" font-size="33" fill="#fff" stroke="#fff" stroke-width="0.35">(b)</text>
<text x="13.2" y="298.6" font-size="33" fill="#fff" stroke="#fff" stroke-width="0.35">(c)</text>
<text x="271.2" y="298.8" font-size="33" fill="#fff" stroke="#fff" stroke-width="0.35">(d)</text>
<rect x="125.3" y="11" width="119.7" height="29.4" fill="#fff"/>
<text x="132.5" y="33.2" font-size="19.4" fill="#1a1a1a" textLength="105.3" lengthAdjust="spacingAndGlyphs">T<tspan font-size="12.2" dy="4.3">Ga</tspan><tspan dy="-4.3"> = 550</tspan><tspan font-size="14" dy="-4.5">°</tspan><tspan dy="4.5">C</tspan></text>
<rect x="388.7" y="11" width="118.3" height="30.2" fill="#fff"/>
<text x="395.4" y="33.2" font-size="19.4" fill="#d8202c" textLength="102.4" lengthAdjust="spacingAndGlyphs">T<tspan font-size="12.2" dy="4.3">nit</tspan><tspan dy="-4.3"> = 550</tspan><tspan font-size="14" dy="-4.5">°</tspan><tspan dy="4.5">C</tspan></text>
<rect x="124.4" y="273.6" width="117.4" height="29.7" fill="#fff"/>
<text x="130.2" y="296" font-size="19.4" fill="#3cbd4c" textLength="103.3" lengthAdjust="spacingAndGlyphs">T<tspan font-size="12.2" dy="4.3">nit</tspan><tspan dy="-4.3"> = 650</tspan><tspan font-size="14" dy="-4.5">°</tspan><tspan dy="4.5">C</tspan></text>
<rect x="388.7" y="273.2" width="117.6" height="30.1" fill="#fff"/>
<text x="396" y="296" font-size="19.4" fill="#1c38a8" textLength="101.8" lengthAdjust="spacingAndGlyphs">T<tspan font-size="12.2" dy="4.3">nit</tspan><tspan dy="-4.3"> = 720</tspan><tspan font-size="14" dy="-4.5">°</tspan><tspan dy="4.5">C</tspan></text>
<text x="178.7" y="230.8" font-size="17.6" font-weight="bold" fill="#fff" textLength="65.3" lengthAdjust="spacingAndGlyphs">200 nm</text>
<rect x="187" y="240.8" width="48.5" height="5" fill="#fff"/>
<text x="442.7" y="230.8" font-size="17.6" font-weight="bold" fill="#fff" textLength="66.7" lengthAdjust="spacingAndGlyphs">200 nm</text>
<rect x="452.7" y="240.8" width="48.3" height="5.5" fill="#fff"/>
<text x="176.5" y="494.8" font-size="17.6" font-weight="bold" fill="#fff" textLength="67.5" lengthAdjust="spacingAndGlyphs">200 nm</text>
<rect x="187" y="504" width="48" height="5" fill="#fff"/>
<text x="442.5" y="493.7" font-size="17.6" font-weight="bold" fill="#fff" textLength="66.2" lengthAdjust="spacingAndGlyphs">200 nm</text>
<rect x="453" y="503.7" width="48.2" height="5.6" fill="#fff"/>
<rect x="73.0" y="526.2" width="442.20000000000005" height="352.19999999999993" fill="#fff" stroke="#3e3e3e" stroke-width="1.5"/>
<path d="M73.0 878.4h4.2M515.2 878.4h-4.2M73.0 845.4h2.2M515.2 845.4h-2.2M73.0 812.4h4.2M515.2 812.4h-4.2M73.0 779.4h2.2M515.2 779.4h-2.2M73.0 746.4h4.2M515.2 746.4h-4.2M73.0 713.4h2.2M515.2 713.4h-2.2M73.0 680.4h4.2M515.2 680.4h-4.2M73.0 647.4h2.2M515.2 647.4h-2.2M73.0 614.4h4.2M515.2 614.4h-4.2M73.0 581.4h2.2M515.2 581.4h-2.2M73.0 548.4h4.2M515.2 548.4h-4.2M161.5 878.4v-2.2M161.5 526.2v2.2M250.0 878.4v-4.2M250.0 526.2v4.2M338.5 878.4v-2.2M338.5 526.2v2.2M427.0 878.4v-4.2M427.0 526.2v4.2" stroke="#3c3c3c" stroke-width="1.2" fill="none"/>
<text transform="translate(68.1 886.9) scale(1.07 1)" font-size="25.6" text-anchor="end" fill="#111">0</text>
<text transform="translate(68.1 820.9) scale(1.07 1)" font-size="25.6" text-anchor="end" fill="#111">15</text>
<text transform="translate(68.1 754.9) scale(1.07 1)" font-size="25.6" text-anchor="end" fill="#111">30</text>
<text transform="translate(68.1 688.9) scale(1.07 1)" font-size="25.6" text-anchor="end" fill="#111">45</text>
<text transform="translate(68.1 622.9) scale(1.07 1)" font-size="25.6" text-anchor="end" fill="#111">60</text>
<text transform="translate(68.1 556.9) scale(1.07 1)" font-size="25.6" text-anchor="end" fill="#111">75</text>
<text transform="translate(72.4 904.3) scale(1.07 1)" font-size="25.6" text-anchor="middle" fill="#111">0</text>
<text transform="translate(249.4 904.3) scale(1.07 1)" font-size="25.6" text-anchor="middle" fill="#111">20</text>
<text transform="translate(426.4 904.3) scale(1.07 1)" font-size="25.6" text-anchor="middle" fill="#111">40</text>
<text x="295.3" y="934.1" font-size="30" text-anchor="middle" fill="#111">Diameter (nm)</text>
<text transform="translate(25.3 689.5) rotate(-90) scale(0.985 1)" font-size="30" text-anchor="middle" fill="#111">Frequency (%)</text>
<text x="92.4" y="562.8" font-size="33" fill="#111">(e)</text>
<polyline points="143.8 878.3 145.0 878.3 146.1 878.3 147.3 878.2 148.4 878.2 149.6 878.1 150.8 878.1 151.9 878.0 153.1 878.0 154.3 877.9 155.4 877.8 156.6 877.6 157.7 877.5 158.9 877.4 160.1 877.2 161.2 877.0 162.4 876.7 163.5 876.4 164.7 876.1 165.9 875.8 167.0 875.3 168.2 874.9 169.4 874.3 170.5 873.7 171.7 873.0 172.8 872.3 174.0 871.4 175.2 870.5 176.3 869.4 177.5 868.2 178.6 866.9 179.8 865.5 181.0 863.9 182.1 862.2 183.3 860.3 184.5 858.2 185.6 856.0 186.8 853.6 187.9 850.9 189.1 848.1 190.3 845.1 191.4 841.9 192.6 838.4 193.7 834.8 194.9 830.9 196.1 826.8 197.2 822.6 198.4 818.1 199.6 813.4 200.7 808.5 201.9 803.5 203.0 798.3 204.2 793.0 205.4 787.5 206.5 782.0 207.7 776.3 208.8 770.6 210.0 764.9 211.2 759.2 212.3 753.5 213.5 747.9 214.7 742.3 215.8 736.9 217.0 731.7 218.1 726.6 219.3 721.8 220.5 717.2 221.6 712.9 222.8 709.0 223.9 705.3 225.1 702.1 226.3 699.2 227.4 696.8 228.6 694.8 229.8 693.3 230.9 692.2 232.1 691.6 233.2 691.4 234.4 691.7 235.6 692.5 236.7 693.8 237.9 695.6 239.0 697.7 240.2 700.3 241.4 703.4 242.5 706.8 243.7 710.5 244.9 714.6 246.0 719.0 247.2 723.7 248.3 728.6 249.5 733.8 250.7 739.1 251.8 744.6 253.0 750.1 254.1 755.8 255.3 761.5 256.5 767.2 257.6 772.9 258.8 778.6 260.0 784.2 261.1 789.7 262.3 795.1 263.4 800.4 264.6 805.5 265.8 810.5 266.9 815.3 268.1 819.9 269.2 824.3 270.4 828.5 271.6 832.5 272.7 836.3 273.9 839.8 275.1 843.2 276.2 846.3 277.4 849.3 278.5 852.0 279.7 854.5 280.9 856.9 282.0 859.1 283.2 861.1 284.3 862.9 285.5 864.6 286.7 866.1 287.8 867.5 289.0 868.7 290.2 869.8 291.3 870.9 292.5 871.8 293.6 872.6 294.8 873.3 296.0 874.0 297.1 874.5 298.3 875.1 299.4 875.5 300.6 875.9 301.8 876.2 302.9 876.6 304.1 876.8 305.3 877.0 306.4 877.2 307.6 877.4 308.7 877.6 309.9 877.7 311.1 877.8 312.2 877.9 313.4 878.0 314.5 878.0 315.7 878.1 316.9 878.2 318.0 878.2 319.2 878.2 320.4 878.3 321.5 878.3 322.7 878.3 323.8 878.3 325.0 878.3 326.2 878.3 327.3 878.4 328.5 878.4 329.6 878.4" fill="none" stroke="#ee7480" stroke-width="1"/>
<polyline points="170.3 878.4 171.3 878.4 172.2 878.4 173.2 878.4 174.1 878.4 175.1 878.4 176.0 878.4 176.9 878.3 177.9 878.3 178.8 878.3 179.8 878.3 180.7 878.3 181.6 878.2 182.6 878.2 183.5 878.2 184.5 878.1 185.4 878.0 186.3 878.0 187.3 877.9 188.2 877.7 189.2 877.6 190.1 877.4 191.0 877.2 192.0 877.0 192.9 876.7 193.9 876.4 194.8 876.1 195.7 875.6 196.7 875.1 197.6 874.5 198.6 873.9 199.5 873.1 200.4 872.2 201.4 871.2 202.3 870.1 203.3 868.8 204.2 867.4 205.1 865.7 206.1 863.9 207.0 861.9 208.0 859.6 208.9 857.2 209.8 854.4 210.8 851.4 211.7 848.1 212.7 844.5 213.6 840.6 214.5 836.4 215.5 831.9 216.4 827.1 217.4 821.9 218.3 816.4 219.2 810.6 220.2 804.5 221.1 798.1 222.1 791.4 223.0 784.4 223.9 777.3 224.9 769.9 225.8 762.4 226.8 754.7 227.7 746.9 228.6 739.1 229.6 731.4 230.5 723.6 231.5 716.0 232.4 708.6 233.4 701.4 234.3 694.4 235.2 687.8 236.2 681.6 237.1 675.9 238.1 670.6 239.0 665.9 239.9 661.8 240.9 658.3 241.8 655.4 242.8 653.2 243.7 651.8 244.6 651.0 245.6 651.0 246.5 651.7 247.5 653.1 248.4 655.3 249.3 658.1 250.3 661.5 251.2 665.6 252.2 670.3 253.1 675.5 254.0 681.3 255.0 687.5 255.9 694.0 256.9 700.9 257.8 708.1 258.7 715.6 259.7 723.2 260.6 730.9 261.6 738.7 262.5 746.5 263.4 754.2 264.4 761.9 265.3 769.5 266.3 776.8 267.2 784.0 268.1 791.0 269.1 797.7 270.0 804.1 271.0 810.2 271.9 816.1 272.8 821.6 273.8 826.8 274.7 831.6 275.7 836.2 276.6 840.4 277.5 844.3 278.5 847.9 279.4 851.2 280.4 854.2 281.3 857.0 282.2 859.5 283.2 861.8 284.1 863.8 285.1 865.6 286.0 867.3 286.9 868.7 287.9 870.0 288.8 871.2 289.8 872.2 290.7 873.1 291.7 873.8 292.6 874.5 293.5 875.1 294.5 875.6 295.4 876.0 296.4 876.4 297.3 876.7 298.2 877.0 299.2 877.2 300.1 877.4 301.1 877.6 302.0 877.7 302.9 877.9 303.9 878.0 304.8 878.0 305.8 878.1 306.7 878.2 307.6 878.2 308.6 878.2 309.5 878.3 310.5 878.3 311.4 878.3 312.3 878.3 313.3 878.3 314.2 878.4 315.2 878.4 316.1 878.4 317.0 878.4 318.0 878.4 318.9 878.4 319.9 878.4 320.8 878.4" fill="none" stroke="#86e886" stroke-width="1"/>
<polyline points="204.0 872.7 205.0 872.7 205.9 872.7 206.9 872.7 207.9 872.7 208.9 872.7 209.9 872.7 210.9 872.7 211.9 872.7 212.8 872.7 213.8 872.7 214.8 872.7 215.8 872.7 216.8 872.7 217.8 872.7 218.7 872.7 219.7 872.7 220.7 872.7 221.7 872.7 222.7 872.7 223.7 872.7 224.7 872.7 225.6 872.7 226.6 872.7 227.6 872.7 228.6 872.7 229.6 872.7 230.6 872.7 231.5 872.7 232.5 872.7 233.5 872.7 234.5 872.7 235.5 872.6 236.5 872.6 237.5 872.6 238.4 872.6 239.4 872.6 240.4 872.6 241.4 872.5 242.4 872.5 243.4 872.4 244.3 872.4 245.3 872.3 246.3 872.2 247.3 872.1 248.3 871.9 249.3 871.8 250.3 871.6 251.2 871.3 252.2 871.1 253.2 870.7 254.2 870.3 255.2 869.9 256.2 869.3 257.1 868.7 258.1 867.9 259.1 867.1 260.1 866.1 261.1 864.9 262.1 863.6 263.1 862.1 264.0 860.4 265.0 858.5 266.0 856.4 267.0 854.0 268.0 851.3 269.0 848.3 269.9 845.0 270.9 841.4 271.9 837.4 272.9 833.1 273.9 828.4 274.9 823.3 275.9 817.8 276.8 811.9 277.8 805.7 278.8 799.0 279.8 792.1 280.8 784.7 281.8 777.1 282.7 769.1 283.7 760.9 284.7 752.5 285.7 743.9 286.7 735.2 287.7 726.5 288.7 717.7 289.6 709.0 290.6 700.5 291.6 692.2 292.6 684.1 293.6 676.4 294.6 669.1 295.5 662.3 296.5 656.1 297.5 650.5 298.5 645.6 299.5 641.4 300.5 637.9 301.5 635.3 302.4 633.5 303.4 632.6 304.4 632.5 305.4 633.2 306.4 634.5 307.4 636.6 308.3 639.3 309.3 642.6 310.3 646.6 311.3 651.2 312.3 656.3 313.3 661.9 314.3 668.0 315.2 674.5 316.2 681.3 317.2 688.5 318.2 695.9 319.2 703.5 320.2 711.2 321.1 719.1 322.1 727.0 323.1 734.9 324.1 742.7 325.1 750.5 326.1 758.1 327.1 765.6 328.0 772.9 329.0 780.0 330.0 786.8 331.0 793.3 332.0 799.6 333.0 805.6 333.9 811.2 334.9 816.6 335.9 821.6 336.9 826.3 337.9 830.7 338.9 834.8 339.8 838.6 340.8 842.1 341.8 845.4 342.8 848.3 343.8 851.0 344.8 853.5 345.8 855.7 346.7 857.7 347.7 859.5 348.7 861.2 349.7 862.6 350.7 863.9 351.7 865.1 352.6 866.1 353.6 867.0 354.6 867.8 355.6 868.5 356.6 869.1 357.6 869.6 358.6 870.1 359.5 870.5 360.5 870.8 361.5 871.1" fill="none" stroke="#666666" stroke-width="1"/>
<polyline points="241.2 869.6 242.4 869.6 243.6 869.6 244.9 869.6 246.1 869.6 247.4 869.6 248.6 869.6 249.9 869.6 251.1 869.6 252.4 869.6 253.6 869.6 254.8 869.6 256.1 869.6 257.3 869.6 258.6 869.6 259.8 869.6 261.1 869.6 262.3 869.6 263.6 869.6 264.8 869.6 266.0 869.6 267.3 869.6 268.5 869.6 269.8 869.6 271.0 869.6 272.3 869.6 273.5 869.6 274.8 869.6 276.0 869.6 277.2 869.6 278.5 869.6 279.7 869.6 281.0 869.6 282.2 869.5 283.5 869.5 284.7 869.5 286.0 869.5 287.2 869.5 288.4 869.4 289.7 869.4 290.9 869.3 292.2 869.3 293.4 869.2 294.7 869.1 295.9 869.0 297.2 868.9 298.4 868.7 299.6 868.6 300.9 868.4 302.1 868.1 303.4 867.9 304.6 867.5 305.9 867.2 307.1 866.7 308.4 866.2 309.6 865.6 310.8 865.0 312.1 864.2 313.3 863.4 314.6 862.4 315.8 861.3 317.1 860.1 318.3 858.7 319.6 857.2 320.8 855.5 322.0 853.6 323.3 851.5 324.5 849.2 325.8 846.7 327.0 843.9 328.3 841.0 329.5 837.7 330.8 834.3 332.0 830.5 333.2 826.5 334.5 822.3 335.7 817.7 337.0 813.0 338.2 808.0 339.5 802.7 340.7 797.2 342.0 791.6 343.2 785.7 344.4 779.7 345.7 773.6 346.9 767.3 348.2 761.0 349.4 754.7 350.7 748.4 351.9 742.2 353.2 736.0 354.4 730.0 355.6 724.1 356.9 718.5 358.1 713.2 359.4 708.2 360.6 703.6 361.9 699.3 363.1 695.5 364.4 692.2 365.6 689.4 366.8 687.1 368.1 685.3 369.3 684.2 370.6 683.6 371.8 683.5 373.1 684.1 374.3 685.2 375.6 687.0 376.8 689.2 378.0 692.0 379.3 695.3 380.5 699.1 381.8 703.3 383.0 707.9 384.3 712.9 385.5 718.2 386.8 723.8 388.0 729.6 389.2 735.6 390.5 741.7 391.7 748.0 393.0 754.3 394.2 760.6 395.5 766.9 396.7 773.2 398.0 779.3 399.2 785.3 400.4 791.2 401.7 796.9 402.9 802.3 404.2 807.6 405.4 812.6 406.7 817.4 407.9 822.0 409.2 826.2 410.4 830.3 411.7 834.0 412.9 837.5 414.1 840.8 415.4 843.8 416.6 846.5 417.9 849.0 419.1 851.4 420.4 853.5 421.6 855.4 422.9 857.1 424.1 858.6 425.3 860.0 426.6 861.2 427.8 862.3 429.1 863.3 430.3 864.2 431.6 864.9 432.8 865.6 434.1 866.2 435.3 866.7 436.5 867.1 437.8 867.5 439.0 867.8 440.3 868.1" fill="none" stroke="#747cdc" stroke-width="1"/>
<rect x="138.2" y="872.2" width="8.6" height="8.6" fill="#f01010"/>
<rect x="162.7" y="866.2" width="8.6" height="8.6" fill="#f01010"/>
<rect x="186.2" y="844.2" width="8.6" height="8.6" fill="#f01010"/>
<rect x="211.2" y="745.7" width="8.6" height="8.6" fill="#f01010"/>
<rect x="234.7" y="691.7" width="8.6" height="8.6" fill="#f01010"/>
<rect x="259.0" y="799.2" width="8.6" height="8.6" fill="#f01010"/>
<rect x="283.0" y="862.7" width="8.6" height="8.6" fill="#f01010"/>
<rect x="307.2" y="871.7" width="8.6" height="8.6" fill="#f01010"/>
<rect x="331.7" y="873.2" width="8.6" height="8.6" fill="#f01010"/>
<path d="M147.2 877.5L153 871.7L158.8 877.5L153 883.3Z" fill="#10e010"/>
<path d="M169.2 876L175 870.2L180.8 876L175 881.8Z" fill="#10e010"/>
<path d="M190.2 873.5L196 867.7L201.8 873.5L196 879.3Z" fill="#10e010"/>
<path d="M211.2 851L217 845.2L222.8 851L217 856.8Z" fill="#10e010"/>
<path d="M233.2 785.5L239 779.7L244.8 785.5L239 791.3Z" fill="#10e010"/>
<path d="M254.2 682.5L260 676.7L265.8 682.5L260 688.3Z" fill="#10e010"/>
<path d="M275.7 778.3L281.5 772.5L287.3 778.3L281.5 784.1Z" fill="#10e010"/>
<path d="M297.0 866.2L302.8 860.4L308.6 866.2L302.8 872.0Z" fill="#10e010"/>
<path d="M317.9 875L323.7 869.2L329.5 875L323.7 880.8Z" fill="#10e010"/>
<circle cx="203.5" cy="876" r="4.05" fill="#fff" stroke="#555" stroke-width="1.2"/>
<circle cx="229.5" cy="864.5" r="4.05" fill="#fff" stroke="#555" stroke-width="1.2"/>
<circle cx="256" cy="864.5" r="4.05" fill="#fff" stroke="#555" stroke-width="1.2"/>
<circle cx="283.5" cy="798.5" r="4.05" fill="#fff" stroke="#555" stroke-width="1.2"/>
<circle cx="309.7" cy="691" r="4.05" fill="#fff" stroke="#555" stroke-width="1.2"/>
<circle cx="336" cy="738.5" r="4.05" fill="#fff" stroke="#555" stroke-width="1.2"/>
<circle cx="362.5" cy="876" r="4.05" fill="#fff" stroke="#555" stroke-width="1.2"/>
<path d="M236.1 866.2L241.5 856.6L246.9 866.2Z" fill="#1010e0"/>
<path d="M264.6 873.2L270 863.6L275.4 873.2Z" fill="#1010e0"/>
<path d="M292.6 873.2L298 863.6L303.4 873.2Z" fill="#1010e0"/>
<path d="M320.9 816.5L326.3 806.9L331.7 816.5Z" fill="#1010e0"/>
<path d="M349.6 768.2L355 758.6L360.4 768.2Z" fill="#1010e0"/>
<path d="M378.1 710.7L383.5 701.1L388.9 710.7Z" fill="#1010e0"/>
<path d="M406.6 832.7L412 823.1L417.4 832.7Z" fill="#1010e0"/>
<path d="M434.9 873.7L440.3 864.1L445.7 873.7Z" fill="#1010e0"/>
<rect x="348.3" y="534.7" width="162.7" height="117.6" fill="#fff" stroke="#5a5a5a" stroke-width="1"/>
<text x="399.4" y="556.4" font-size="20.4" fill="#111" textLength="106" lengthAdjust="spacingAndGlyphs">T<tspan font-size="15.5" dy="5.4">Ga</tspan><tspan dy="-5.4">=550°C</tspan></text>
<circle cx="372.7" cy="549.8" r="4.05" fill="#fff" stroke="#555" stroke-width="1.2"/>
<text x="399.4" y="585.6" font-size="20.4" fill="#111" textLength="102.5" lengthAdjust="spacingAndGlyphs">T<tspan font-size="15.5" dy="5.4">nit</tspan><tspan dy="-5.4">=550°C</tspan></text>
<rect x="368.4" y="574.7" width="8.6" height="8.6" fill="#f01010"/>
<text x="399.4" y="614.2" font-size="20.4" fill="#111" textLength="102.5" lengthAdjust="spacingAndGlyphs">T<tspan font-size="15.5" dy="5.4">nit</tspan><tspan dy="-5.4">=650°C</tspan></text>
<path d="M366.9 607.6L372.7 601.8L378.5 607.6L372.7 613.4Z" fill="#10e010"/>
<text x="399.4" y="642.4" font-size="20.4" fill="#111" textLength="102.5" lengthAdjust="spacingAndGlyphs">T<tspan font-size="15.5" dy="5.4">nit</tspan><tspan dy="-5.4">=720°C</tspan></text>
<path d="M367.3 640.0L372.7 630.4L378.1 640.0Z" fill="#1010e0"/>
</svg></body></html>
